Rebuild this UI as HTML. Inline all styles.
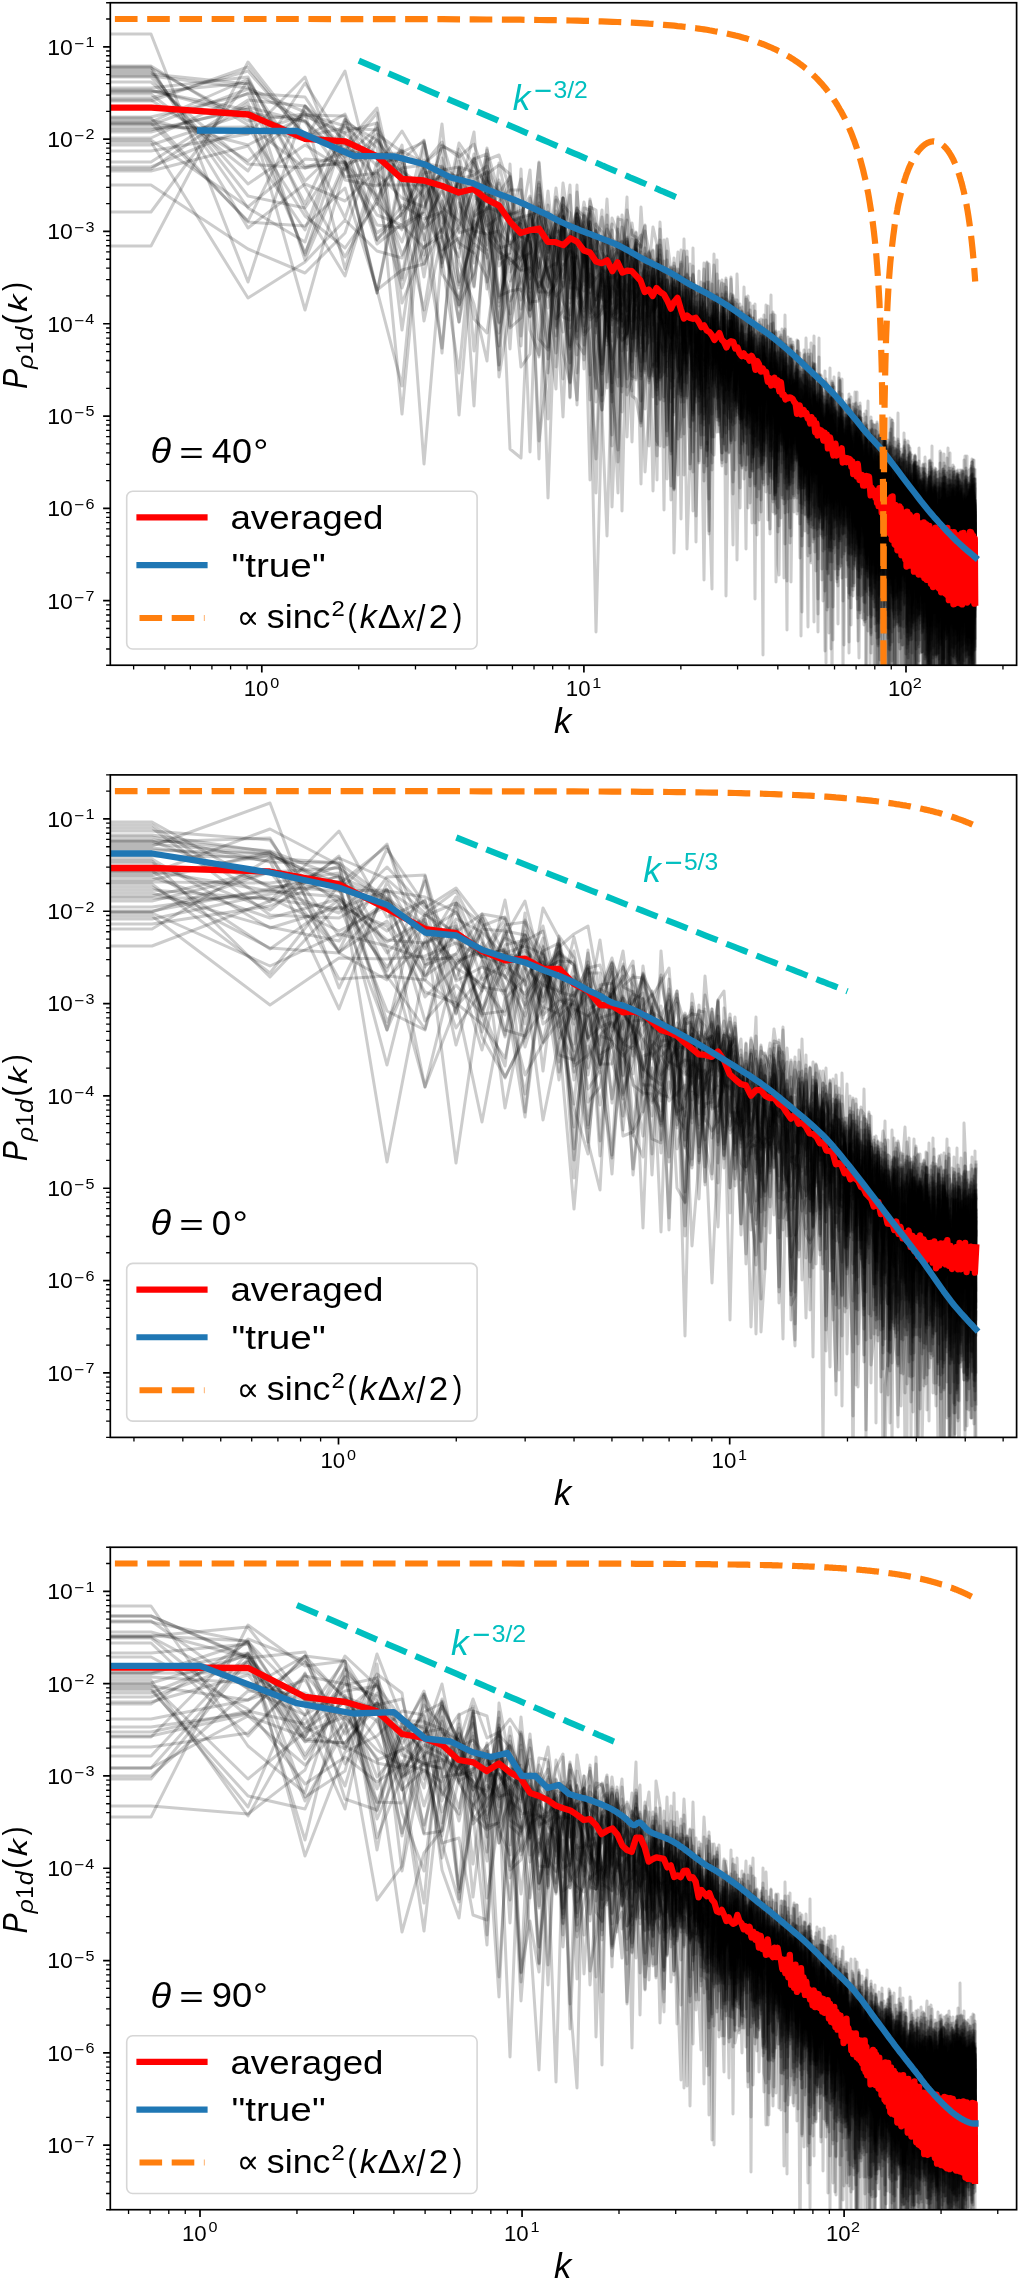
<!DOCTYPE html>
<html><head><meta charset="utf-8"><style>
html,body{margin:0;padding:0;background:#fff;}
svg{display:block;will-change:transform;}
text{font-family:"Liberation Sans", sans-serif;}
</style></head><body>
<svg width="1020" height="2279" viewBox="0 0 1020 2279">
<rect width="1020" height="2279" fill="#fff"/>

<clipPath id="c0"><rect x="110.3" y="2.75" width="906.3" height="662.48"/></clipPath>
<g clip-path="url(#c0)" fill="none" stroke-linejoin="round">
<g stroke="#000" stroke-opacity="0.2" stroke-width="3" stroke-linecap="square">
<path d="M100 124H151l97 10 57-57 40 103 32 6 25-18 22-3 18 92 17-90 15 5 13 117 12-126 11 53 11 120 9-128 9 44 9-40 8 37 7 104 7 30 7-71 7-63 6 16 6 35 6-26 5 16 5 27 6 3 4-6 5 36 5-97 4-10 5-8 4 42 4-5 4 16 4-29 3 47 4 95 3-64 4-67 3 28 4-46 3 77 3 11 3 4 3 12 3 155 3-179 3 78 2 25 3-109 3 118 2-109 3-4 2 34 3-36 2-48 3 27 2 68 2 57 3-103 2 24 2-17 2 79 2-80 3 35 2 47 2-1 2-69 2 52 2-56 2 35 1 24 2-99 2 141 2-19 2-50 2-4 1-1 2 49 2-11 2-23 1 53 2-15 2-9 1 22 2-50 1 17 2 114 1-93 2-50 1-24 2 72 1-10 2 35 1-103 2 95 1 30 2-16 1-34 1 10 2-9 1-3 1-35 2 17 1 29 1 27 2 9 1 26 1-94 1-8 2 29 1 121 1-142 1 77 2-59 1-5 1 24 1 5 1 39 1-31 2-16 1 232 1-216 1 24 1 16 1-35 1-53 1 18 1 36 1-44 1 71 2-29 1 1 1 0 1-2 1-2 1-32 1 84 1-6 1-54 1 48 1 36 1 62 1-89 0 156 1-167 1 7 1-2 1 29 1-42 1-9 1 43 1 27 1-43 1-63 1-22 0 15 1 25 1 16 1 68 1-90 1 63 1-51 0 31 1-54 1 6 1 36 1 80 1 3 0-42 1 30 1-87 1 127 1-99 0 14 1 51 1-44 1-53 1 35 0 19 1 3 1-7 1 3 0 35 1-113 1-6 1 81 0-8 1 26 1 12 1-4 0 22 1-64 1 88 0-37 1-13 1-108 1 137 0 51 1-104 1-3 0 14 1 95 1-46 0 7 1-51 1 60 0-7 1-53 1-12 0-26 1 21 1 62 0-40 1 5 1 23 0-62 1 10 1-28 0 9 1 26 0-24 1 11 1 10 0 84 1-40 1-63 0 115 1-23 0-34 1-80 1 37 0-28 1 31 0 30 1 45 0-85 1 66 1-69 0 44 1-43 0 161 1-152 1 16 0 32 1 77 0-119 1 9 0 4 1 17 0-34 1 35 1-12 0-41 1 65 0 7 1-41 0 83 1-79 0 96 1-113 0 170 1-84 0-73 1 94 1-58 0 38 1 35 0-104 1-5 0 20 1-29 0-2 1 21 0 44 1 72 0-23 1-145 0 93 1 77 0-135 1-10 0-20 1 80 0 20 1 79 0-159 1 37 0-47 0 108 1-119 0 155 1-81 0 5 1-17 0-27 1 65 0-12 1-81 0 92 1-66 0 48 1 7 0-51 1 53 0 6 0-64 1-14 0 156 1-73 0-13 1 23 0 8 1-126 0 60 0-57 1 70 0 4 1 41 0-47 1 43 0-10 0 4 1-13 0-38 1-9 0 29 1-59 0 31 0 36 1-66 0 134 1-66 0 133 1-167 0-40 0 82 1 25 0 1 1-17 0 37 0-47 1-73 0 68 1-38 0 63 0-43 1 84 0-136 1 87 0 83 0-147 1 139 0-67 1-66 0 57 0-79 1 82 0 0"/>
<path d="M100 68H151l97 53 57-7 40 12 32 29 25 16 22 293 18-213 17-13 15 81 13 14 12-87 11 35 11-75 9 37 9 34 9-86 8 74 7-48 7 37 7-32 7 12 6-27 6 93 6-21 5 29 5-17 6-31 4 73 5-17 5 80 4 3 5 27 4-135 4 155 4-123 4-53 3 47 4 6 3 4 4 54 3-100 4 101 3-83 3 176 3-169 3 15 3-11 3 18 3 31 2 35 3-111 3 74 2-33 3 12 2 7 3 17 2 14 3-80 2 98 2-79 3 64 2-98 2 48 2 33 2 29 3-31 2 86 2-88 2 71 2-46 2 25 2-34 1 12 2 38 2-95 2 56 2-47 2 57 1 10 2-30 2-1 2-19 1 88 2-127 2 62 1-8 2 14 1 36 2-74 1 100 2-40 1-31 2 208 1-145 2-34 1 134 2-141 1-15 2 23 1 6 1 33 2-39 1 15 1 128 2-88 1-9 1-58 2 97 1-75 1 25 1-26 2 16 1-30 1 63 1-64 2 132 1-45 1-12 1-27 1 22 1-37 2 17 1 72 1-73 1-42 1 3 1 89 1 38 1-100 1 33 1-62 1 52 2-16 1 145 1-109 1-52 1-23 1 77 1-17 1-14 1 61 1-30 1-3 1 69 1 97 0-210 1 23 1-9 1 4 1-13 1 42 1 2 1 47 1-23 1-33 1 23 1-18 0 60 1-67 1 17 1 42 1 96 1-145 1-44 0 91 1-24 1-38 1 15 1 4 1 13 0-39 1 14 1 19 1 23 1-27 0 55 1-40 1 199 1-244 1 14 0 39 1-19 1 8 1 26 0-38 1 16 1 0 1-10 0-26 1 81 1-71 1-18 0 32 1 14 1-32 0 119 1-51 1-23 1-1 0 2 1 100 1-130 0 11 1 46 1-28 0 74 1-44 1-60 0-7 1 82 1 75 0-146 1 21 1 11 0-6 1 5 1-19 0 92 1-112 1 206 0-224 1 19 0 20 1-13 1 21 0 52 1 75 1-154 0 29 1-19 0 49 1-23 1 22 0-34 1 9 0 67 1-56 0 12 1-76 1 239 0-147 1 10 0-37 1 11 1-51 0-9 1 99 0-57 1 87 0-56 1-81 0 180 1-120 1 14 0 74 1-82 0-28 1 50 0 48 1-71 0 7 1-9 0 21 1-95 0 80 1 27 1 31 0-44 1 22 0-6 1-98 0 77 1-34 0 15 1-22 0 20 1-39 0 78 1-55 0-16 1 49 0 23 1-13 0-29 1 155 0-93 1 39 0-118 1 42 0 30 0-63 1 3 0 17 1 52 0 22 1-55 0 32 1-23 0-48 1 155 0-144 1-26 0-2 1 59 0-74 1 37 0 52 0 2 1 3 0-82 1 57 0-8 1-48 0 32 1 0 0 20 0-23 1 86 0-107 1 43 0-19 1 30 0-62 0-16 1 12 0 79 1-26 0-31 1 36 0-6 0-47 1 58 0 6 1 3 0 17 1 2 0-68 0 92 1-23 0-89 1 22 0 47 0 39 1-115 0 24 1-2 0 51 0 14 1 42 0-104 1 118 0-9 0-98 1 5 0 6 1-26 0 57 0-75 1 19 0 49"/>
<path d="M100 169H151l97-66 57 152 40-123 32-9 25 207 22-150 18 54 17 88 15-114 13-30 12 124 11-44 11 13 9-3 9 19 9-27 8 107 7-169 7 105 7-57 7-44 6 31 6 99 6 39 5-94 5 1 6-4 4-21 5 46 5-18 4 75 5-91 4 61 4-73 4 45 4 68 3-94 4 39 3-31 4 20 3-31 4 47 3-24 3 12 3 77 3 46 3-144 3 74 3-14 2 38 3 199 3-257 2 35 3-56 2 24 3 83 2-109 3-20 2 45 2 88 3 5 2-46 2-18 2 31 2-23 3 7 2-23 2-3 2 12 2 7 2 9 2 152 1-147 2-4 2 57 2-98 2 138 2-122 1 47 2-12 2-10 2 104 1-59 2-7 2 85 1-114 2-28 1 6 2 20 1 66 2-9 1-37 2 23 1-35 2-1 1 44 2-11 1-38 2 29 1-15 1 58 2-64 1 15 1 51 2-80 1 125 1-137 2 61 1 22 1-13 1 42 2 6 1-58 1-44 1 14 2 32 1 59 1-50 1 75 1-61 1 5 2 40 1-15 1-3 1 16 1 142 1-156 1-15 1-24 1 70 1-38 1-46 2 96 1-84 1 44 1-22 1-33 1 38 1 18 1-3 1 55 1-75 1-8 1 4 1 46 0 45 1-66 1 41 1 5 1 12 1-7 1-37 1 24 1-69 1 15 1 86 1 64 0-106 1-57 1 29 1-11 1 68 1-47 1 7 0 20 1-87 1 116 1 24 1-75 1 120 0-164 1 165 1-147 1 20 1-52 0 67 1-2 1-29 1 3 1 54 0 29 1-73 1 95 1-100 0 35 1 75 1-54 1 92 0-153 1 78 1-107 1 130 0 9 1-80 1-27 0 104 1-37 1-81 1 69 0 11 1-63 1 75 0-7 1-53 1 49 0-71 1-20 1 20 0 42 1-6 1 189 0-167 1 8 1-49 0-17 1 45 1 62 0-81 1 33 1 5 0-76 1 28 0 16 1-49 1 50 0-9 1 76 1-24 0 8 1-40 0 42 1-55 1-29 0 90 1-25 0-53 1 96 0-76 1-14 1 48 0-7 1 61 0-33 1-35 1 15 0 1 1-20 0 155 1-107 0 9 1-79 0 169 1-164 1 32 0 2 1 47 0-85 1-11 0 195 1-44 0-147 1 93 0-56 1 19 0 23 1-45 1-11 0-7 1 52 0 16 1 54 0-12 1-108 0 112 1-109 0 84 1-50 0 70 1-36 0-7 1-59 0-20 1 37 0-2 1-45 0 24 1 62 0 10 1-39 0-13 0 6 1 2 0-37 1 118 0-53 1-49 0-5 1 137 0-81 1-3 0-3 1-51 0 59 1 29 0-26 1-52 0-17 0 43 1-31 0-21 1 131 0-51 1 8 0-37 1 33 0-5 0-29 1-2 0 0 1 15 0-41 1 33 0-55 0 47 1 120 0-133 1 20 0-43 1 28 0 11 0-77 1 124 0-72 1 6 0 22 1 12 0-4 0-31 1 65 0-37 1 15 0-55 0 43 1-15 0-6 1 138 0-175 0 17 1 56 0-46 1 14 0-1 0 51 1 102 0-178 1 35 0 4 0 14 1-46 0-20"/>
<path d="M100 88H151l97-11 57 110 40 70 32-58 25 89 22-65 18-32 17 41 15-46 13 40 12-9 11 132 11-180 9 161 9 25 9-83 8-42 7 71 7 14 7-66 7 120 6-148 6 46 6 107 5-76 5-68 6 147 4-162 5 41 5-6 4 130 5-91 4 42 4-51 4-20 4 107 3-112 4 80 3 32 4-22 3-13 4-50 3 44 3 9 3-19 3 25 3 72 3-91 3 30 2-45 3 99 3-77 2 0 3 36 2-43 3 40 2-21 3-2 2 8 2-60 3 165 2-41 2-1 2-59 2-28 3 140 2-53 2-30 2 0 2-43 2-15 2 100 1 32 2-119 2 20 2 112 2-88 2 31 1 31 2-18 2 0 2-40 1 46 2-106 2 43 1-6 2 90 1-28 2-73 1 31 2-30 1 78 2 202 1-231 2 18 1 17 2-30 1 21 2 35 1-50 1-40 2 108 1-3 1-33 2-47 1 48 1-72 2 125 1-33 1-25 1-49 2 13 1 9 1 41 1-47 2 86 1 29 1-71 1-73 1 68 1-29 2 7 1 39 1 44 1-85 1-12 1 142 1-75 1-46 1 29 1-2 1 71 2-68 1 34 1-65 1 31 1-11 1 26 1-29 1-15 1 75 1-22 1-43 1 22 1 131 0-176 1 57 1-62 1 65 1 40 1-37 1-11 1 36 1-36 1 40 1 62 1-98 0-70 1 31 1 22 1 23 1 58 1 66 1-173 0 30 1-5 1 32 1 78 1-36 1-15 0-13 1-71 1 15 1 78 1-42 0 202 1-206 1 84 1-68 1 29 0 17 1-81 1 62 1 19 0-38 1-37 1-29 1 46 0 112 1-6 1-105 1-15 0 112 1-69 1 44 0-25 1-26 1-57 1 142 0 23 1-68 1 161 0-209 1-2 1-18 0 78 1 61 1-49 0-63 1-35 1 16 0 54 1-1 1 27 0-60 1-21 1-7 0-24 1 94 1-64 0 71 1 112 0-57 1-31 1-48 0 63 1 110 1-201 0-12 1 66 0-45 1 82 1-62 0 61 1-6 0 56 1-143 0 84 1 21 1-84 0 22 1-8 0 23 1 25 1-53 0 26 1-57 0 15 1 52 0-91 1 81 0 41 1-17 1-98 0 150 1-88 0-27 1 64 0-78 1 71 0-39 1 1 0 14 1 12 0-16 1 16 1 1 0-39 1 36 0-56 1 97 0-84 1-2 0 29 1 34 0 78 1-96 0-45 1 43 0-77 1 26 0 35 1-24 0 72 1-104 0 78 1 1 0-29 1 32 0 11 0-42 1-20 0 33 1 49 0 39 1-129 0 11 1 23 0-37 1 32 0 89 1-101 0-14 1 11 0 7 1 18 0 1 0-11 1 50 0 46 1-134 0 104 1-77 0 10 1 65 0-77 0 74 1-79 0 188 1-102 0 35 1-78 0-14 0-9 1-5 0 102 1-120 0 56 1-67 0 22 0 44 1-75 0 140 1-45 0-12 1-10 0 3 0 71 1-113 0-17 1-26 0 41 0-40 1 7 0 86 1-34 0-58 0 8 1 91 0-7 1-29 0 51 0-66 1-43 0 27 1 34 0 40 0 23 1-73 0-42"/>
<path d="M100 98H151l97-27 57 65 40-8 32 2 25 83 22-24 18 164 17-192 15 126 13-113 12-9 11 9 11 62 9 6 9 50 9 0 8-55 7 41 7-53 7 112 7-82 6-41 6 25 6 13 5 10 5 52 6-9 4 16 5-70 5 5 4 82 5-15 4-27 4 22 4-52 4 48 3 86 4-90 3 17 4-40 3-24 4 42 3 132 3-198 3 114 3-42 3-37 3 32 3 35 2-47 3 71 3-21 2 39 3-59 2-26 3 85 2 18 3 65 2-139 2 63 3-88 2 141 2-135 2 21 2-25 3 149 2-126 2 31 2 62 2-77 2-2 2 0 1 22 2 160 2-149 2 26 2 2 2-14 1 17 2 21 2-9 2-25 1-38 2 61 2-62 1 15 2-3 1 18 2 21 1-9 2 21 1 52 2-110 1 79 2-57 1 49 2 20 1-39 2-2 1 90 1-114 2 16 1-28 1 42 2 17 1-18 1-43 2 114 1-78 1 25 1 61 2-42 1 1 1-59 1 82 2-90 1 81 1-18 1-1 1-42 1 123 2-68 1-19 1 21 1 73 1-33 1 50 1-144 1-24 1 89 1-36 1 28 2 10 1 32 1-34 1 68 1 27 1-145 1 259 1-216 1 40 1-4 1-85 1 1 1 29 0 108 1-149 1 109 1 72 1-123 1 103 1-75 1 10 1-45 1 92 1-64 1-42 0 39 1-26 1 71 1-61 1 29 1-15 1 25 0-19 1 70 1-27 1-61 1 43 1 9 0-12 1-56 1 89 1-48 1 3 0 77 1-141 1 1 1 53 1 86 0-94 1 8 1 17 1-24 0-2 1 144 1-188 1 75 0 18 1-24 1-14 1 44 0-37 1 35 1-42 0-16 1-37 1-14 1 152 0-13 1-9 1-108 0 83 1 0 1-36 0 54 1 14 1-42 0-42 1 104 1-93 0 40 1-63 1-6 0 19 1 54 1 106 0-146 1 166 1-166 0 139 1-120 0 29 1 39 1-61 0-15 1-8 1-1 0-14 1 127 0-34 1-104 1 37 0 69 1-46 0 2 1-43 0 40 1-7 1 17 0-25 1 45 0-80 1 20 1 13 0 145 1-173 0 138 1-79 0 43 1-61 0-20 1 46 1-41 0 121 1-146 0 56 1 40 0-54 1-18 0-44 1 30 0 58 1-17 0-14 1 23 1-28 0 72 1-52 0-45 1 51 0-26 1 31 0 67 1 77 0-160 1 5 0 46 1-15 0-61 1 39 0-88 1 99 0-66 1 27 0 10 1 70 0-73 1 37 0-63 0 7 1 122 0-114 1-11 0 32 1 30 0-24 1 24 0-31 1 44 0 116 1-129 0 20 1-17 0 9 1 39 0-96 0 79 1-29 0-27 1 116 0-79 1 9 0-107 1 71 0-52 0-22 1 32 0 121 1-75 0-15 1 1 0 19 0-23 1 5 0 14 1-22 0 16 1 17 0-65 0 95 1-50 0 134 1-134 0 1 1 12 0 81 0-38 1-50 0 60 1-37 0-36 0-47 1 64 0-42 1 120 0-60 0 29 1-85 0-9 1-28 0 83 0-48 1 47 0 9 1-46 0-3 0 47 1-14 0 19"/>
<path d="M100 77H151l97 107 57-39 40 25 32-30 25 70 22-42 18 39 17 14 15 22 13-86 12 141 11-77 11 70 9-39 9-90 9 91 8-32 7 44 7-14 7 33 7 48 6-110 6 104 6-60 5 36 5-16 6 9 4-68 5 117 5-65 4-39 5 139 4-69 4-47 4-13 4 111 3-37 4-53 3 20 4 11 3-18 4 21 3 214 3-187 3-4 3-13 3 41 3-3 3 17 2-13 3-42 3-52 2 57 3-4 2 14 3-70 2 172 3-80 2-19 2 16 3 22 2-28 2-10 2 2 2 46 3-17 2 16 2-29 2 7 2 65 2-90 2 48 1-40 2 37 2 15 2-22 2-28 2 55 1-8 2-70 2 47 2 71 1 12 2-5 2-3 1 140 2-113 1-119 2-13 1 11 2 35 1 15 2 28 1-41 2-9 1 17 2-48 1 21 2 49 1 5 1-28 2-39 1 54 1 69 2 12 1-49 1-101 2 63 1-2 1 52 1 69 2-98 1 39 1 91 1-120 2 104 1-79 1-12 1 89 1-112 1-26 2 153 1-131 1 21 1 1 1 27 1 6 1-11 1-75 1 81 1-27 1-1 2 45 1 139 1-156 1 31 1-17 1-43 1 85 1-90 1 14 1 5 1 2 1 10 1 23 0 13 1-45 1 45 1-75 1 170 1-151 1 31 1 49 1 74 1-171 1 84 1-32 0 5 1 5 1-22 1 63 1-27 1-34 1 99 0-152 1 69 1 5 1 36 1-69 1-22 0 82 1-58 1 19 1-32 1 88 0-70 1-8 1 106 1-110 1 56 0 128 1-113 1-5 1-35 0 54 1 115 1-161 1 104 0-52 1-90 1 32 1 16 0-53 1 62 1 68 0-92 1 11 1 51 1-89 0 66 1-43 1 52 0-65 1-14 1 62 0 187 1-180 1 15 0-35 1 7 1 64 0-100 1 87 1 6 0-77 1 58 1-42 0-5 1-21 1-20 0 134 1-97 0 12 1 44 1-56 0-18 1 45 1-40 0 5 1-26 0 65 1-4 1 149 0-163 1 43 0-22 1 24 0-46 1 45 1-58 0 1 1 111 0-130 1 17 1 41 0-10 1-26 0 79 1-61 0-26 1 92 0-43 1 127 1-85 0-96 1 46 0-41 1 22 0-34 1 21 0 4 1 47 0-68 1 58 0-19 1 133 1-163 0 62 1-69 0 20 1 65 0-9 1 9 0 122 1-160 0 29 1-63 0 22 1 20 0-50 1-9 0 58 1-38 0 92 1-65 0 174 1-181 0-14 1 42 0-12 0 11 1 1 0 49 1-41 0 74 1-107 0 74 1-85 0 13 1-16 0 12 1-3 0 21 1 99 0-30 1-127 0 29 0 142 1-152 0 85 1 21 0-101 1 100 0-59 1-62 0 56 0-44 1 120 0-35 1-3 0-97 1 90 0 15 0-56 1 69 0-32 1-88 0 82 1-37 0-31 0-4 1 5 0 80 1-4 0-50 1-16 0 94 0-17 1 120 0-154 1-55 0 168 0 14 1-76 0-49 1 59 0-51 0-12 1-14 0-6 1 176 0-192 0 3 1 73 0-31 1-34 0 10 0 87 1-106 0 26"/>
<path d="M100 140H151l97 67 57-48 40 3 32 131 25-129 22 65 18-17 17 110 15-78 13 10 12 69 11-105 11 6 9 86 9-28 9 13 8-11 7-67 7 181 7-184 7 67 6-74 6 3 6 86 5-40 5 69 6-62 4 129 5-133 5-36 4 29 5 72 4 47 4-76 4 17 4-6 3-84 4 72 3 9 4-35 3 144 4-33 3-6 3-75 3 100 3-69 3-11 3 17 3 54 2-35 3 81 3-106 2 30 3 9 2 69 3-163 2 34 3 16 2-8 2-1 3 32 2-19 2 61 2-59 2 70 3 2 2 5 2 0 2-38 2-6 2-37 2 32 1 12 2 44 2 7 2 99 2-64 2-85 1-15 2 136 2-32 2-86 1 2 2 0 2 123 1-109 2 75 1-107 2 2 1-7 2 23 1 32 2 14 1-47 2 37 1-30 2-19 1 51 2-3 1 50 1-42 2 14 1-15 1-27 2 52 1 62 1-48 2 99 1-162 1 68 1-43 2 37 1-120 1 111 1 22 2-65 1 63 1 25 1-43 1-10 1-22 2 99 1-101 1 154 1-35 1-22 1-102 1 35 1 84 1 19 1-114 1 22 2-23 1 18 1 31 1-68 1 52 1 29 1-40 1 24 1-33 1-25 1 43 1-15 1 41 0-53 1-10 1-10 1 93 1 21 1-74 1 99 1-95 1-21 1 45 1 8 1-54 0 31 1-11 1 23 1 73 1-44 1-45 1 56 0 12 1 29 1-126 1 19 1 72 1 89 0-168 1 46 1-40 1 10 1 99 0-85 1 22 1-24 1 21 1-41 0 58 1-18 1 29 1-57 0 20 1-40 1 91 1-61 0 13 1 42 1-54 1 70 0 11 1 138 1-179 0-54 1 29 1 82 1-50 0-47 1 120 1-51 0-55 1 2 1-22 0 87 1-91 1 36 0 57 1-43 1 8 0-4 1-23 1-23 0 18 1 18 1-15 0 94 1-71 1-34 0 32 1 32 0-10 1-30 1-47 0 98 1-41 1 32 0-17 1-27 0-3 1 15 1 171 0-130 1-83 0 18 1 3 0 69 1-74 1 64 0-15 1 12 0 6 1 28 1 11 0-60 1 0 0-56 1 35 0 0 1-6 0 32 1 66 1-45 0 87 1-18 0-125 1 29 0-29 1 47 0 43 1-47 0 71 1-109 0 61 1-54 1-6 0 137 1-185 0 83 1-55 0 113 1-81 0-20 1 105 0-108 1 97 0-81 1-16 0 9 1 6 0 20 1 9 0-8 1-23 0 174 1-84 0-1 1-54 0-37 0 51 1 24 0-109 1 17 0 10 1 49 0-59 1 7 0 138 1 21 0-94 1-43 0 7 1 98 0-107 1-14 0-45 0 75 1-13 0-26 1 49 0 22 1-12 0-56 1-32 0 91 0-72 1 88 0-58 1 20 0 122 1-117 0-7 0 48 1-101 0 67 1 148 0-200 1 90 0-62 0 23 1 17 0-17 1-47 0 57 1-55 0 38 0-78 1 10 0 79 1-34 0 59 0-24 1 29 0-62 1 14 0-65 0 93 1 24 0 111 1-174 0 16 0-85 1 108 0-49 1 58 0 36 0-71 1-29 0 62"/>
<path d="M100 246H151l97-184 57 73 40 6 32 99 25-27 22 97 18-109 17 104 15-87 13-29 12 77 11-12 11 113 9-13 9-147 9 22 8 52 7-98 7 48 7-21 7 6 6 160 6 83 6-153 5 15 5-59 6 25 4-13 5-22 5 69 4-3 5-18 4-46 4 14 4-41 4 18 3 70 4 57 3-10 4 92 3-120 4-40 3 103 3-79 3-28 3 80 3-104 3 100 3-42 2-6 3 2 3 130 2-132 3 68 2-91 3 84 2 42 3-75 2-36 2-11 3 4 2 18 2 71 2-11 2 21 3-68 2 54 2-16 2 62 2-95 2 15 2 26 1-4 2 37 2-15 2-52 2 119 2-85 1-21 2-19 2 85 2-61 1 40 2-24 2 34 1-23 2 27 1-41 2 95 1-97 2 84 1-2 2-70 1 28 2 69 1-80 2-26 1 12 2 37 1-76 1 71 2 54 1-64 1 76 2-23 1-15 1-70 2 120 1-92 1 6 1-22 2-25 1 26 1 36 1-36 2-9 1 60 1-24 1-5 1 114 1-13 2-110 1 70 1-15 1-46 1 44 1 103 1-135 1 5 1 48 1 2 1-20 2 5 1 3 1 15 1-2 1-48 1 20 1 50 1-62 1 39 1-36 1 77 1 42 1-108 0 4 1 11 1 16 1-10 1 55 1-81 1 4 1-22 1 71 1 37 1-126 1 37 0 24 1-16 1 157 1-107 1 8 1-52 1 73 0-48 1 11 1 45 1-36 1 73 1-116 0 29 1-19 1-14 1 73 1-101 0 31 1 32 1-8 1-8 1 11 0-40 1 74 1-36 1 42 0-41 1 66 1-121 1 87 0-45 1-12 1 27 1-8 0-37 1 97 1-24 0-42 1-22 1 53 1-13 0-6 1-17 1 119 0-123 1-4 1 76 0-51 1 65 1-59 0 21 1 37 1 5 0-47 1-61 1 47 0 50 1-22 1-90 0 28 1-4 1 86 0-67 1 138 0-87 1-31 1 37 0-62 1 15 1 44 0 161 1-188 0 42 1-40 1-5 0-51 1 105 0-72 1 46 0-5 1-57 1 89 0-114 1 143 0-73 1-19 1 48 0-16 1-37 0 97 1-6 0-14 1-75 0 19 1 33 1 6 0-43 1 87 0-28 1-84 0 86 1 39 0 89 1-209 0 156 1-81 0 69 1-84 1-50 0 131 1-44 0 39 1-86 0-3 1-59 0 55 1-25 0-29 1 81 0-53 1 1 0 95 1 12 0-74 1-64 0 99 1-85 0 90 1-32 0 27 1-42 0 2 0 92 1-111 0 65 1-39 0-34 1 22 0 33 1-1 0 65 1-153 0-23 1 132 0-61 1-21 0 65 1-44 0-31 0 38 1 44 0-90 1 79 0-16 1-15 0 1 1-60 0 127 0-87 1 13 0 75 1-15 0-9 1-37 0-31 0 13 1 13 0 49 1-77 0 197 1-194 0 3 0 73 1-2 0-82 1 37 0-23 1-11 0 21 0 21 1-13 0-9 1 92 0-12 0-79 1 25 0 13 1 47 0-104 0 12 1 67 0 56 1-109 0-24 0 29 1-19 0-24 1 21 0 40 0-72 1 220 0-164"/>
<path d="M100 90H151l97 26 57 137 40-91 32 71 25-19 22-41 18-3 17-3 15 49 13-7 12-29 11 31 11 69 9 24 9-61 9-8 8 10 7 60 7 58 7-132 7 18 6 68 6-65 6 34 5 1 5 96 6-135 4 73 5-79 5 17 4-14 5 90 4-65 4 67 4-61 4 63 3-110 4 168 3-94 4 47 3-68 4 87 3 33 3-115 3 36 3-36 3 84 3-69 3 25 2 85 3-47 3-21 2-47 3 35 2 23 3-57 2 63 3 102 2-156 2-15 3 69 2 61 2-124 2 61 2 52 3 3 2-30 2-39 2 28 2 2 2-9 2 11 1 25 2-22 2-25 2-4 2 35 2 269 1-308 2-16 2 48 2-8 1 30 2-13 2 29 1-12 2 127 1-190 2-7 1 62 2 10 1 23 2-75 1 53 2 15 1-37 2 97 1-63 2 23 1-11 1 18 2 15 1-18 1-35 2 64 1-40 1-18 2 99 1-126 1 46 1-55 2 160 1-146 1 7 1 65 2-14 1-33 1 88 1-56 1 75 1-82 2 22 1-54 1-31 1 41 1 43 1 4 1 178 1-229 1-35 1 94 1-14 2-17 1 14 1-43 1 93 1-18 1-83 1 96 1-56 1-6 1 16 1-48 1 113 1-62 0 103 1-78 1-46 1 3 1 50 1 87 1-158 1 58 1-31 1 86 1-77 1 81 0-105 1 40 1-59 1 108 1-55 1 23 1 64 0-32 1 22 1-63 1-19 1 112 1-75 0 68 1-50 1-20 1 68 1-17 0 36 1-94 1-15 1-34 1 90 0-20 1 2 1-46 1 20 0 24 1-26 1 37 1-37 0 2 1 44 1 24 1-119 0 118 1-82 1 62 0-7 1-47 1 7 1 8 0 98 1-103 1 80 0-53 1-33 1 69 0-74 1-70 1 106 0-10 1 2 1 98 0-33 1-77 1 85 0 61 1-199 1 49 0-34 1 23 1 29 0 14 1 1 0 57 1-12 1-41 0-48 1 27 1 12 0 6 1-30 0 116 1-73 1 89 0-110 1 16 0 119 1 9 0-198 1 71 1-18 0-30 1 52 0 45 1-49 1-10 0-28 1 21 0 18 1 20 0-57 1 114 0-83 1 89 1-72 0-22 1-3 0 53 1-90 0 0 1 28 0-39 1 114 0-76 1 45 0 4 1-24 1-54 0 100 1-39 0-29 1-49 0 136 1-71 0-3 1 14 0 1 1 159 0-212 1 89 0-32 1-62 0 54 1-3 0-17 1 153 0-192 1 65 0 73 1 2 0-86 0-1 1-19 0 29 1 15 0-14 1 1 0-49 1 28 0 12 1 81 0-88 1-23 0 4 1-9 0 6 1 11 0 72 0-25 1 41 0-134 1 100 0-68 1 3 0 95 1-12 0-78 0 38 1 61 0-132 1 35 0 10 1-24 0 76 0-45 1 73 0-103 1-33 0 73 1 57 0-116 0 61 1-57 0 4 1 117 0-59 1 75 0-144 0 82 1 44 0-58 1-60 0 75 0-19 1-2 0 1 1 31 0-17 0-17 1 22 0-3 1 110 0-66 0-107 1 34 0 17 1 7 0-27 0 65 1 85 0-173"/>
<path d="M100 167H151l97-40 57 13 40-69 32 127 25-47 22 12 18 4 17 12 15 74 13-105 12 85 11 11 11-23 9 89 9-98 9 63 8 21 7-8 7-51 7 102 7-107 6 143 6-122 6-43 5 131 5-82 6 71 4 56 5-141 5 18 4 16 5 0 4-12 4-1 4 21 4 5 3-2 4-15 3 57 4 168 3-180 4 18 3 28 3 51 3-87 3-15 3 26 3 24 3 49 2-89 3 71 3-40 2 17 3-10 2 1 3-41 2 29 3 29 2-11 2-11 3-8 2-35 2 45 2-5 2 59 3-37 2 1 2-45 2 91 2-52 2 43 2-55 1 6 2 69 2-84 2 7 2 4 2-7 1 2 2 24 2-76 2 82 1-54 2 61 2-12 1-22 2 61 1-29 2-53 1 47 2 117 1-1 2-66 1 45 2-52 1-11 2 17 1 7 2-60 1 8 1-2 2-17 1 31 1 28 2-32 1 74 1-13 2-25 1 49 1-59 1 89 2-99 1 37 1-54 1 25 2 136 1-161 1 90 1-11 1-35 1-20 2 14 1-49 1 108 1-17 1-29 1-3 1-13 1-52 1 108 1-97 1 35 2-25 1 59 1 1 1-42 1 73 1-23 1-27 1 23 1 58 1-106 1 99 1-13 1-52 0-38 1 81 1-52 1 54 1 46 1-64 1 71 1-51 1-66 1 42 1 4 1 70 0-79 1 22 1-47 1-4 1 23 1 66 1 41 0-103 1 27 1 0 1-23 1-35 1 11 0 179 1-119 1-27 1 7 1-3 0 139 1-127 1-35 1 61 1-28 0 80 1-118 1 51 1 54 0-70 1 25 1-47 1 22 0 34 1-39 1 95 1-75 0 2 1 2 1 23 0-44 1-3 1 106 1-20 0-48 1 25 1-36 0-17 1-22 1 2 0 145 1-41 1-49 0-55 1 77 1-42 0-23 1 17 1 19 0 11 1 18 1 34 0-90 1 31 1 44 0-60 1 40 0 12 1 20 1-21 0-67 1-8 1-9 0 28 1-12 0 26 1-23 1-9 0 7 1 87 0 23 1-51 0-36 1-53 1 49 0 7 1 19 0-51 1 20 1 29 0-49 1 8 0 1 1 19 0 43 1-19 0-2 1 23 1-28 0 60 1-87 0-6 1 5 0-5 1 45 0-5 1 10 0 18 1-44 0-34 1 50 1-54 0 47 1 20 0 56 1-140 0 82 1-8 0-35 1 95 0-57 1 20 0 17 1-83 0 57 1-7 0 24 1 50 0-83 1 47 0-99 1-15 0 69 1 62 0 56 0-107 1 30 0-32 1 150 0-202 1 102 0-76 1 12 0-13 1 65 0-42 1 23 0 103 1-143 0 171 1-147 0 4 0 25 1-58 0-20 1 4 0 40 1 23 0-14 1 42 0-64 0 50 1-76 0 19 1-40 0 15 1-12 0 26 0-2 1-26 0 54 1 47 0-36 1 35 0-24 0-59 1 17 0 23 1 16 0 37 1-27 0-59 0 2 1 16 0 9 1-48 0 141 0-15 1 19 0-64 1-12 0-76 0 95 1 32 0-3 1-80 0-13 0 122 1-104 0 91 1-106 0-17 0 82 1-18 0 12"/>
<path d="M100 125H151l97-36 57 32 40 42 32 33 25 46 22-68 18 26 17 62 15 42 13 57 12-152 11 34 11 66 9-95 9 51 9 58 8 66 7-179 7 88 7-80 7 49 6-68 6 34 6 17 5-21 5 10 6 5 4 8 5 82 5-43 4 60 5-65 4 65 4-12 4-31 4 79 3-44 4 12 3-104 4 116 3-72 4 28 3-9 3 38 3-78 3 44 3 5 3 20 3-3 2-41 3 10 3 59 2-45 3 30 2-4 3 21 2 10 3 57 2-33 2-66 3 2 2 92 2 113 2-193 2 208 3-194 2 30 2 38 2 31 2-123 2 32 2 95 1-33 2-5 2 37 2-90 2-53 2 13 1 94 2-78 2 85 2-24 1 41 2-73 2 39 1 0 2-16 1 2 2-18 1 105 2-75 1-49 2 47 1-51 2 12 1 68 2-105 1 79 2-55 1 70 1-29 2-28 1 27 1-22 2 52 1-5 1 26 2 170 1-202 1 136 1-161 2 46 1-48 1-34 1 10 2 128 1-56 1-45 1 48 1-46 1 80 2-69 1 12 1 70 1 7 1-109 1 82 1-79 1 46 1 41 1-107 1 36 2 74 1 37 1-95 1 110 1-129 1 34 1 50 1 60 1-63 1-60 1 62 1-10 1 7 0-96 1 62 1-20 1 46 1-39 1 15 1-36 1 93 1-105 1 167 1-128 1 55 0-86 1 62 1-51 1 21 1-5 1 64 1 18 0 20 1 9 1-43 1-28 1 5 1 101 0-98 1-33 1 18 1 47 1-49 0 32 1-20 1 150 1-152 1-31 0 10 1 49 1-20 1 40 0 61 1-91 1-31 1 26 0 133 1-76 1 59 1-130 0-25 1 5 1 25 0-32 1 135 1-92 1 51 0-64 1 53 1 11 0-69 1 88 1-4 0-33 1-8 1-82 0 14 1 22 1 74 0 56 1-79 1-37 0 27 1 16 1-56 0 30 1-15 1 19 0 4 1 14 0-11 1 5 1-40 0 45 1 103 1-146 0 89 1-67 0 10 1-4 1 13 0-23 1 48 0-41 1 7 0 1 1-36 1 29 0 99 1-117 0 27 1-9 1 20 0 117 1-163 0 57 1 30 0-8 1-80 0-6 1 64 1 55 0-87 1 58 0-90 1 22 0 76 1-42 0 24 1-10 0 115 1-198 0 144 1-130 1-12 0 77 1-54 0 25 1 21 0-26 1 2 0-23 1 47 0-44 1 9 0 16 1 37 0-47 1-2 0 167 1-95 0-67 1 11 0-56 1 42 0-16 1 41 0 32 0-79 1 41 0-16 1 95 0-87 1 40 0 70 1-111 0 104 1-60 0-10 1 16 0 31 1-73 0-40 1 41 0 89 0-32 1-24 0-30 1-29 0-23 1 97 0-16 1-69 0 77 0-46 1 2 0-51 1 125 0-44 1 15 0-51 0 90 1-122 0-2 1 80 0 79 1-73 0-60 0-4 1 56 0 36 1-68 0-14 1 69 0-30 0-43 1 31 0 6 1-48 0 138 0-51 1-89 0 9 1 121 0-75 0 29 1-109 0 6 1 81 0 91 0-81 1-39 0 47 1-84 0 110 0-41 1-66 0 109"/>
<path d="M100 162H151l97-62 57 6 40 44 32 6 25 6 22 78 18-82 17 75 15-5 13-20 12 162 11-173 11 103 9-35 9-70 9 92 8-38 7 37 7-53 7 45 7 13 6-22 6 119 6-135 5 8 5 185 6-177 4 21 5 21 5-12 4 2 5-16 4-4 4 16 4-17 4 11 3-12 4 168 3-187 4 18 3 55 4-30 3-26 3 54 3 28 3 21 3 35 3-82 3-45 2 34 3 7 3 3 2 159 3 98 2-293 3 30 2 30 3-54 2 35 2 113 3-145 2-11 2 188 2-111 2-30 3 24 2 100 2-95 2 22 2 21 2-103 2 42 1 89 2 6 2-43 2-47 2 106 2-59 1 57 2-75 2 16 2-41 1 85 2-134 2 85 1 71 2-74 1-13 2 36 1 11 2-41 1 91 2-114 1 58 2-37 1-15 2 47 1 25 2-75 1 6 1 138 2-89 1-8 1-13 2 3 1 68 1-28 2-90 1 89 1 15 1-80 2 40 1-23 1 32 1 2 2-35 1 24 1 20 1 21 1-20 1-46 2 111 1-12 1 22 1-54 1-49 1-43 1 109 1 9 1 42 1-80 1-9 2-28 1 4 1 8 1 95 1 48 1-138 1-10 1 45 1-18 1 39 1-16 1-26 1 14 0-51 1 50 1 100 1-50 1-44 1-11 1 38 1 68 1-134 1 35 1 22 1 39 0-112 1 67 1 15 1 37 1-98 1 98 1-88 0 54 1 28 1-25 1-5 1 40 1-15 0 9 1-51 1 47 1-53 1-1 0 7 1-6 1 113 1-37 1-62 0 99 1-56 1 37 1-68 0 99 1-142 1 55 1 64 0-130 1 111 1-64 1 8 0 88 1-71 1-22 0 14 1-10 1 140 1-51 0-33 1-59 1 53 0-45 1-47 1 67 0-12 1 22 1-7 0 26 1-14 1-75 0 11 1 18 1 55 0-69 1 128 1 3 0-105 1 21 1-6 0 8 1 111 0-113 1-56 1 21 0 17 1-8 1 43 0-52 1 2 0-26 1 101 1-27 0-33 1 172 0-130 1-52 0 154 1-129 1 47 0-23 1 4 0 20 1-27 1-30 0 24 1 38 0-38 1-2 0-36 1 45 0 43 1-58 1 1 0 126 1-130 0-28 1 51 0-44 1 131 0-123 1-16 0 12 1 59 0-38 1 48 1-32 0 73 1-4 0-117 1 13 0 82 1-93 0 114 1-97 0 102 1-66 0-39 1 61 0 5 1-42 0-7 1 67 0 0 1 57 0-58 1-50 0 92 1-139 0 63 0-40 1 26 0-18 1-67 0 65 1 55 0-54 1-19 0 71 1 79 0-174 1 38 0 30 1-10 0 9 1 12 0 36 0-45 1 3 0 13 1 22 0-89 1 2 0-15 1 9 0 35 0-31 1 52 0 108 1-49 0-31 1-31 0-22 0 26 1-35 0 29 1 5 0 8 1-49 0 21 0 80 1 0 0-93 1-18 0 59 1 84 0-61 0 34 1-86 0-10 1 77 0-62 0 14 1-24 0-15 1 5 0 119 0 2 1-168 0 22 1 36 0-22 0 4 1 43 0-4 1-5 0 17 0 21 1 58 0-116"/>
<path d="M100 145H151l97-32 57 8 40 36 32 136 25-121 22 25 18 62 17 114 15-156 13-67 12 43 11 28 11-4 9 64 9 76 9-152 8 88 7 124 7-160 7 1 7-36 6 71 6-37 6 43 5 3 5-51 6-5 4-5 5 154 5-16 4-129 5 112 4-49 4 6 4-22 4 7 3 13 4 14 3 45 4-74 3 33 4 0 3-30 3 50 3 28 3-98 3 167 3-117 3 28 2 82 3-100 3-12 2 11 3-30 2 55 3 13 2 43 3-72 2-39 2 17 3 29 2 16 2-31 2-22 2 6 3 47 2-52 2 94 2 52 2-97 2 104 2-145 1 35 2 14 2-14 2-11 2 23 2-51 1 123 2-88 2 108 2 58 1-126 2-70 2 6 1 134 2-73 1-30 2 10 1-51 2 95 1-12 2-28 1-18 2 119 1-80 2 24 1-16 2-2 1 4 1 36 2-37 1 50 1-28 2-81 1 73 1-54 2 46 1 83 1-64 1-26 2 43 1 17 1-68 1 166 2-118 1-37 1 14 1 34 1-24 1 6 2 17 1-2 1-56 1 57 1 53 1 32 1-39 1-43 1 26 1-30 1-50 2 43 1-5 1 67 1-90 1 70 1-117 1 94 1 13 1-50 1 109 1-73 1-46 1 13 0 43 1-45 1 110 1-107 1 0 1 6 1-42 1 45 1 95 1-73 1 6 1 31 0 45 1-7 1-93 1 0 1 54 1-62 1 104 0-39 1-24 1-4 1 2 1 16 1 45 0-31 1-51 1 130 1-124 1 128 0-57 1-40 1 123 1-133 1-54 0 135 1-73 1-32 1 94 0-87 1 32 1 17 1-44 0-17 1 116 1-63 1-12 0-18 1 23 1-74 0 93 1 7 1-58 1 1 0 45 1-13 1 197 0-144 1 58 1-85 0-38 1 21 1-42 0 94 1-58 1 9 0 70 1-105 1 32 0 24 1-46 1 50 0-16 1-1 1-24 0 61 1-44 0 167 1-94 1 19 0-145 1 6 1 179 0-44 1-32 0-96 1 94 1-12 0-22 1-52 0 17 1 43 0-32 1 3 1 64 0-52 1-33 0 8 1-14 1 140 0-154 1 82 0-14 1 81 0-113 1 31 0-33 1-20 1 123 0-109 1 16 0 142 1-137 0 39 1-29 0-61 1 2 0 38 1 65 0 34 1 89 1-169 0-42 1 121 0-104 1 142 0-126 1 3 0 24 1-18 0 99 1-57 0 81 1-65 0-74 1 16 0-8 1 31 0-63 1-25 0 95 1-20 0 24 1-38 0-16 0-23 1 126 0-121 1 82 0-65 1 9 0 135 1-159 0 35 1 56 0-3 1-65 0-5 1 7 0 14 1-6 0-56 0 46 1-5 0 98 1-93 0 104 1 42 0-128 1-22 0 0 0 70 1 52 0-86 1-12 0 89 1-140 0 49 0 96 1-72 0 57 1-66 0 109 1-147 0-14 0 44 1-10 0 15 1 12 0-109 1 43 0 82 0-15 1-10 0 18 1-13 0-2 0 91 1-140 0 49 1-36 0 139 0-175 1 152 0-57 1-44 0 11 0-34 1-41 0 59 1 31 0 45 0-36 1 31 0-53"/>
<path d="M100 212H151l97-131 57 85 40-2 32-9 25 259 22-234 18 83 17-60 15 28 13 3 12-3 11 95 11-56 9-40 9 211 9-75 8-151 7 30 7 43 7 0 7 23 6-89 6 111 6-63 5 2 5 31 6-42 4 250 5-210 5 37 4-95 5 4 4-16 4 20 4 118 4 26 3-79 4 12 3-28 4-33 3 74 4 12 3-42 3-17 3-43 3 74 3 96 3-63 3 2 2-9 3-88 3 188 2-45 3-40 2-60 3 81 2-33 3 1 2 89 2-108 3 54 2-29 2-48 2 56 2 28 3 111 2-140 2-12 2 33 2-20 2-8 2-23 1 28 2 10 2 71 2-8 2-9 2-92 1 2 2 61 2 17 2 116 1-135 2-3 2 3 1-29 2 46 1-6 2 34 1-46 2 36 1-90 2 97 1-19 2-11 1 29 2-29 1 23 2-18 1 24 1-3 2 28 1-70 1-4 2 39 1-55 1 25 2 122 1-165 1 21 1 77 2-63 1 67 1-33 1-4 2-19 1 28 1 35 1-7 1-7 1-34 2 233 1-222 1 27 1-62 1 104 1-76 1 38 1-44 1 92 1-54 1 19 2-75 1 55 1-75 1 90 1 4 1-69 1 71 1 2 1 75 1-73 1-39 1 40 1-8 0 14 1-49 1 9 1 109 1-88 1-6 1 0 1-12 1 16 1-3 1 40 1 47 0-106 1 32 1 15 1-5 1 1 1-8 1 39 0 167 1-191 1-19 1-10 1 63 1 127 0-197 1 8 1 48 1 159 1-196 0 53 1 17 1-121 1 26 1 26 0 19 1-46 1 96 1-62 0-6 1 21 1 13 1-49 0-12 1 47 1 54 1 13 0-5 1-60 1-33 0 96 1-27 1-11 1-28 0 101 1-44 1-3 0-84 1 105 1-76 0 79 1-7 1-86 0 82 1-41 1 1 0 25 1-2 1-29 0 45 1-114 1 33 0 221 1-148 1 27 0-77 1 65 0 1 1-111 1-6 0 62 1 32 1-23 0 8 1 70 0-84 1 65 1-68 0-7 1 159 0-8 1-96 0 56 1-12 1-65 0 44 1-38 0-42 1 52 1 4 0-41 1 153 0-132 1 10 0-18 1 25 0 12 1-11 1-63 0 112 1-28 0-106 1 53 0 13 1 110 0-129 1-11 0 98 1-33 0 63 1-132 1 3 0-12 1 42 0-55 1 76 0-56 1 27 0 123 1-43 0 3 1-110 0 24 1 42 0 21 1-47 0 10 1-14 0-36 1 48 0-49 1-50 0 109 1 24 0-39 0-48 1 58 0 17 1-25 0-70 1 86 0-49 1 56 0 28 1-60 0-9 1-2 0 93 1-54 0 2 1 76 0-129 0 13 1 50 0-32 1-28 0-4 1 24 0 85 1-130 0 57 0 10 1-31 0 45 1-74 0 45 1 26 0-36 0 167 1-159 0 50 1-102 0 190 1-140 0-48 0 64 1-62 0 5 1 64 0 76 1-40 0-87 0 10 1 50 0-76 1 6 0 64 0 128 1-171 0 100 1-101 0 132 0-127 1 74 0-98 1 51 0 46 0-142 1 230 0-225 1 33 0-6 0 168 1-84 0-54"/>
<path d="M100 171H151l97-25 57 84 40-110 32 80 25-55 22 176 18-86 17-86 15 31 13-8 12 72 11 57 11-20 9-37 9 48 9-35 8 22 7-15 7 64 7-143 7 175 6-136 6 22 6 22 5 9 5 114 6 59 4-208 5 137 5-32 4-36 5 112 4-152 4 45 4-11 4-28 3-11 4 60 3 35 4-17 3 144 4-98 3-24 3-89 3 32 3-1 3-24 3 3 3 67 2 26 3 45 3-96 2 43 3 91 2-160 3 82 2 24 3 44 2-63 2-73 3 79 2-62 2-30 2 96 2-72 3 39 2 54 2-87 2 37 2 21 2 22 2-3 1-105 2 100 2-17 2 59 2 4 2 31 1-85 2 25 2-15 2-66 1 61 2-33 2-1 1 4 2 60 1-43 2 21 1 4 2-8 1-3 2 5 1-26 2-28 1 90 2-98 1 96 2-18 1 1 1-85 2 24 1 88 1 26 2-118 1 21 1 54 2 33 1-89 1 40 1 107 2-164 1 106 1-67 1 37 2 7 1-19 1-2 1 45 1-82 1 26 2 55 1-46 1-7 1 98 1 9 1-99 1-13 1 27 1 2 1-25 1 92 2-112 1 17 1 42 1 9 1 14 1-77 1 126 1-2 1-72 1 22 1 86 1-151 1-9 0 42 1 22 1-17 1 65 1-38 1 41 1 14 1-57 1 56 1-110 1 137 1-87 0-6 1-22 1 25 1 9 1 36 1-31 1-44 0 157 1-135 1 40 1-44 1 44 1-18 0 23 1-14 1 86 1-112 1-3 0 45 1-9 1 71 1-66 1 26 0-20 1-10 1 39 1-43 0 16 1 13 1 64 1 120 0-133 1-61 1-21 1 43 0-1 1-24 1 12 0-25 1-15 1 35 1-9 0-45 1 66 1 51 0-75 1 11 1-39 0 25 1-50 1 2 0 51 1 44 1 65 0-61 1 129 1-143 0-75 1 21 1-6 0 53 1-18 1-16 0 128 1-48 0 38 1-115 1 206 0-144 1-33 1-66 0 44 1 26 0 68 1-92 1 42 0-74 1 65 0-32 1 69 0-15 1 36 1-4 0-36 1-79 0 28 1 19 1 8 0 11 1-66 0 42 1 39 0 34 1 64 0-153 1-6 1 20 0 12 1 17 0-2 1-45 0 24 1 35 0 16 1-70 0 35 1 89 0-43 1-19 1-27 0 21 1-69 0 104 1-22 0-19 1-17 0 64 1 14 0-75 1-33 0 143 1-131 0 44 1-32 0-30 1 20 0 8 1 173 0-181 1 32 0 149 1-193 0 3 0-13 1 83 0-62 1 57 0-46 1 33 0 48 1-116 0 7 1 44 0 28 1-14 0-41 1 70 0 11 1-113 0 76 0-5 1-14 0-32 1-4 0 28 1-17 0 100 1-89 0-11 0 23 1 14 0 124 1-80 0 22 1 79 0-105 0-68 1-5 0 113 1-117 0 6 1 12 0-5 0 82 1 3 0-114 1 70 0 7 1 31 0-122 0 41 1-39 0-9 1 100 0 47 0-105 1 11 0-55 1 35 0 67 0 69 1-90 0-80 1 105 0-44 0-25 1 166 0-154 1 63 0-11 0-106 1 126 0-57"/>
<path d="M100 101H151l97-34 57 70 40-23 32 71 25 0 22 0 18-8 17 18 15-63 13 150 12-62 11-44 11 94 9-55 9 63 9 19 8-14 7-15 7-18 7 7 7 28 6-84 6 24 6 7 5 113 5-76 6 18 4-39 5 43 5-36 4 54 5 67 4-111 4-13 4 12 4 192 3-126 4-29 3 25 4-22 3 249 4-168 3-115 3-19 3 74 3-47 3 51 3 22 3-36 2 28 3 48 3-24 2 21 3-70 2 31 3-12 2 17 3 99 2-146 2-27 3 46 2 75 2-11 2 0 2-19 3 43 2 14 2-107 2 88 2-4 2-30 2-9 1-4 2 124 2-98 2-9 2 18 2 82 1-131 2 28 2 63 2 54 1-80 2-49 2-3 1 21 2 104 1-93 2-21 1 53 2-65 1-31 2 60 1 58 2-59 1 36 2-35 1 14 2 55 1-48 1-29 2 122 1-64 1-69 2 46 1 46 1-76 2 32 1 35 1 44 1-154 2 149 1-36 1 33 1-87 2 212 1-135 1-20 1-43 1 12 1 110 2-93 1-29 1 29 1 16 1 45 1-6 1-30 1-27 1-42 1 138 1-57 2 51 1-104 1 140 1-97 1 1 1-29 1 1 1-27 1 45 1 13 1-69 1 53 1-51 0 11 1 47 1 158 1-200 1 49 1 14 1-21 1 41 1-14 1 1 1-66 1 59 0 90 1-22 1-103 1 71 1-61 1 43 1 13 0-28 1-37 1 161 1-119 1-33 1 12 0 56 1-13 1-24 1 14 1-33 0 62 1-84 1 120 1-110 1-10 0 103 1-120 1 57 1-8 0-30 1-19 1 14 1 72 0 76 1-39 1-11 1-74 0 59 1-1 1 13 0 63 1-106 1 52 1-59 0-34 1 69 1-47 0-17 1 48 1-51 0 135 1-109 1 44 0-32 1 38 1 29 0-30 1-47 1 84 0-42 1-20 1 14 0-24 1 11 1 28 0-36 1 97 0-78 1-44 1 188 0-111 1-12 1-26 0-25 1-7 0 134 1-1 1-84 0 35 1 28 0-53 1-61 0 71 1-34 1 47 0-85 1 67 0-41 1-30 1 65 0-5 1-21 0 179 1-102 0-100 1-5 0 19 1-15 1 136 0-70 1-24 0 53 1-130 0 124 1 31 0-98 1 96 0-110 1 113 0-12 1-108 1 2 0 2 1 54 0 113 1-38 0-95 1-22 0 13 1 40 0-48 1-12 0-1 1 3 0 60 1-38 0 53 1-38 0-11 1 128 0-84 1 34 0-101 1 5 0 38 0-9 1-14 0 48 1 4 0-80 1 95 0-106 1 56 0 54 1-44 0-44 1 66 0-109 1 3 0 37 1 194 0-164 0 21 1-63 0 135 1-119 0 68 1 0 0-37 1-39 0 65 0 63 1-69 0 0 1-50 0 17 1 39 0-38 0-9 1 18 0-32 1 22 0 44 1-26 0-63 0 45 1 19 0-92 1 117 0 57 1-42 0-21 0-46 1 40 0-67 1 88 0-66 0 47 1-48 0 34 1 33 0-57 0-5 1-58 0 150 1-110 0 32 0-30 1 61 0 14 1 25 0-27 0-95 1 56 0-63"/>
<path d="M100 128H151l97-1 57 89 40 32 32-45 25 27 22-89 18 92 17-50 15 54 13-56 12 54 11 29 11-8 9-27 9 230 9-247 8 116 7-130 7 149 7-129 7 25 6 33 6-45 6 164 5-111 5-66 6 16 4 80 5-58 5 23 4 50 5-90 4-14 4 70 4 81 4-59 3 61 4-5 3-80 4 41 3 81 4-54 3-17 3 9 3 0 3-46 3-32 3 21 3-6 2 40 3-28 3 15 2 47 3-16 2 35 3-81 2 63 3 19 2-55 2 133 3-111 2-34 2 50 2-5 2-47 3 104 2-15 2 37 2 2 2-56 2 90 2-70 1-30 2 49 2-65 2-39 2 33 2-23 1 37 2 27 2 3 2-1 1 53 2-12 2-82 1-26 2 151 1-72 2-2 1-53 2 61 1 4 2-34 1-8 2 58 1-14 2 72 1-120 2 9 1 69 1-24 2-27 1 235 1-176 2-21 1 47 1-57 2 40 1-21 1-11 1 11 2-77 1 71 1 10 1 27 2 16 1-30 1-32 1-52 1 155 1-33 2-53 1-12 1-24 1-19 1 25 1 59 1-70 1 44 1 21 1-39 1-4 2 49 1-13 1-11 1 6 1 56 1-61 1 21 1 6 1-38 1 36 1 0 1 20 1-76 0 45 1 41 1-41 1 0 1-9 1-1 1-16 1-18 1 30 1-1 1 4 1 16 0 33 1-87 1 44 1-8 1 15 1 101 1-43 0 0 1 38 1-94 1-26 1 54 1 41 0-123 1 55 1-19 1 98 1-113 0 30 1 62 1-94 1 181 1-46 0-70 1 17 1-17 1-33 0 40 1-19 1 1 1 64 0-61 1 19 1-16 1 9 0-27 1 147 1-99 0-37 1 10 1 83 1-71 0-35 1 29 1-23 0 33 1-21 1 5 0-1 1 17 1-8 0 191 1-141 1-74 0 41 1 26 1-100 0 40 1 31 1 167 0-140 1-58 1 74 0-30 1 12 0 94 1-162 1 43 0 82 1-60 1-5 0-59 1-16 0 103 1-1 1 0 0-105 1 61 0-63 1 68 0 36 1-36 1 117 0-89 1 12 0 38 1-66 1 52 0-24 1-27 0-13 1 18 0-34 1 43 0-93 1 76 1 165 0-219 1 28 0 33 1 4 0 53 1-56 0-21 1 22 0-39 1 85 0 25 1-70 1-46 0-17 1 89 0-31 1 14 0 4 1-43 0 7 1-11 0 68 1-11 0 11 1 39 0-92 1 79 0-78 1 38 0-79 1 47 0 6 1-67 0 75 1-8 0-20 0 103 1-89 0 28 1 22 0 41 1-61 0 117 1-156 0-17 1 12 0-49 1 37 0 86 1-84 0 20 1 79 0 3 0-41 1-49 0-8 1-14 0 27 1 57 0-76 1 58 0 22 0-77 1-45 0 170 1-86 0-13 1 87 0-68 0-90 1 4 0 76 1-31 0 51 1 5 0 130 0-116 1-81 0 169 1-74 0-80 1-6 0 30 0 59 1-31 0-39 1 93 0-106 0 16 1-20 0 27 1-10 0-16 0 38 1-47 0 31 1 41 0-19 0 92 1-78 0 21 1-111 0 75 0-94 1 121 0-101"/>
<path d="M100 74H151l97 10 57 126 40 66 32-104 25-22 22 127 18-109 17 31 15 87 13-114 12 43 11-1 11 52 9-40 9-23 9 71 8 52 7-44 7 100 7-168 7 14 6 92 6-6 6-24 5 34 5 8 6-103 4 77 5-33 5 97 4-113 5 61 4-56 4 28 4 75 4-90 3-25 4 57 3 22 4 9 3-49 4 77 3 22 3-28 3-70 3 18 3 0 3 34 3 21 2-40 3 53 3-114 2 54 3 46 2 12 3 43 2-46 3-63 2 65 2-9 3 25 2-21 2-25 2-1 2 28 3 10 2 30 2-59 2-17 2 65 2-66 2 18 1 9 2 48 2-61 2 54 2-34 2 88 1-93 2 39 2-21 2-19 1-46 2 103 2-64 1 36 2 36 1-9 2 14 1-26 2-24 1 42 2 27 1-95 2 10 1 41 2-21 1 111 2-77 1-79 1 17 2 108 1-53 1-12 2 7 1 75 1-104 2 15 1 53 1 107 1-88 2-49 1 7 1-32 1 29 2-25 1 61 1 8 1-81 1 14 1 16 2 50 1-12 1-50 1 47 1 45 1-24 1 35 1-75 1 15 1-10 1 83 2-42 1 2 1-5 1 8 1-63 1 74 1-27 1 8 1 8 1-61 1 118 1-101 1 117 0-112 1-14 1 32 1 31 1 5 1-16 1-87 1 135 1-90 1-21 1 83 1-7 0-45 1 29 1-25 1 42 1 55 1-91 1 80 0-13 1-99 1 124 1-11 1 3 1-75 0 8 1 90 1-9 1-74 1 27 0 35 1-53 1-29 1 185 1-146 0 8 1 31 1-108 1 44 0 73 1-91 1 138 1-170 0 99 1-26 1-14 1 0 0-24 1 44 1 60 0-101 1 17 1 12 1-27 0 145 1-90 1-35 0-19 1 18 1 221 0-80 1-125 1 3 0-40 1 40 1-3 0-51 1 12 1 87 0 71 1-55 1-76 0 18 1-29 1 66 0 89 1-187 0 88 1-49 1 25 0 2 1 18 1-32 0-9 1 21 0-21 1-2 1 37 0-39 1-3 0 30 1 33 0-43 1 59 1-43 0 71 1-96 0 92 1-78 1 20 0-19 1 46 0 18 1-17 0-39 1 51 0-72 1 18 1 1 0-13 1 86 0-82 1 14 0 28 1-20 0 67 1-101 0 18 1 42 0-18 1 1 1 170 0-113 1 47 0-84 1 19 0-5 1 68 0-58 1-92 0 74 1-70 0 36 1-27 0 40 1 12 0 5 1 25 0-38 1-8 0 131 1-156 0 92 1-72 0-41 0 43 1-15 0 7 1 32 0-84 1 232 0-153 1 52 0-111 1 26 0 32 1 46 0-88 1 17 0 35 1-43 0 125 0-127 1-17 0 13 1 102 0-99 1 114 0-112 1 67 0-95 0 27 1-41 0 102 1-63 0 95 1 17 0-89 0-46 1 2 0 178 1-96 0 85 1-130 0 2 0 79 1-95 0 62 1 47 0-32 1-61 0 118 0-105 1 83 0-129 1 14 0 52 0-65 1 16 0 121 1-78 0 38 0-80 1-24 0 47 1-27 0 13 0 45 1-111 0 128 1 36 0-129 0 52 1 0 0-34"/>
<path d="M100 185H151l97 64 57 24 40-40 32-95 25 42 22 84 18-98 17 53 15-65 13 104 12-54 11 245 11 9 9-204 9 42 9 123 8-219 7 59 7-20 7 44 7 25 6-30 6 29 6-47 5 78 5-25 6-24 4-41 5-11 5 60 4-65 5 189 4-40 4-16 4-53 4-8 3-20 4 22 3 19 4 63 3-106 4 16 3 97 3-96 3 64 3 28 3 81 3-156 3 20 2 44 3-68 3-2 2 50 3-44 2 64 3-25 2-21 3 33 2-15 2-74 3 67 2-41 2 64 2 5 2-99 3 76 2 21 2 22 2 156 2-188 2-14 2 69 1 2 2-79 2 65 2-10 2 35 2-109 1 40 2 83 2-59 2 6 1-46 2 27 2 62 1-63 2 51 1-9 2-14 1-15 2 68 1-56 2 59 1-31 2 59 1-74 2-15 1 8 2 23 1-59 1-24 2 76 1 39 1-47 2 51 1-74 1 7 2 126 1-60 1-33 1 22 2 19 1 7 1 54 1-89 2 35 1 9 1-5 1-45 1 78 1-85 2 1 1 25 1 19 1-54 1 65 1-6 1-59 1 279 1-242 1 99 1-94 2 3 1-27 1 59 1-113 1 51 1 1 1 74 1-19 1-52 1 56 1-47 1 30 1 1 0-25 1 21 1 23 1-26 1 6 1-57 1 45 1-39 1-2 1 117 1-92 1-29 0 53 1 28 1-52 1 148 1-124 1-8 1 102 0 54 1-123 1 0 1 25 1 22 1 32 0-132 1 82 1 0 1 13 1-39 0 117 1-96 1-19 1-10 1 34 0 71 1-92 1-39 1 2 0-12 1 27 1-31 1-21 0 31 1 1 1 47 1 47 0-57 1 53 1-32 0-29 1 53 1-67 1-54 0 89 1-20 1 39 0-15 1 34 1-51 0 74 1 24 1-24 0-38 1-32 1 30 0 47 1-6 1-91 0 2 1 80 1-70 0 40 1-56 1 94 0 4 1-61 0-18 1 6 1 109 0-137 1 117 1 29 0-119 1 51 0-29 1 46 1-25 0 7 1-43 0 65 1 13 0-88 1-1 1 162 0-180 1 28 0-20 1 48 1 2 0-25 1-45 0 40 1 7 0-14 1 10 0 52 1-76 1 68 0-63 1 128 0-40 1-42 0-62 1 59 0 158 1-91 0-77 1 17 0-2 1 113 1-122 0 25 1-8 0 25 1-65 0-14 1 35 0 72 1-84 0 23 1 47 0-84 1 36 0-77 1 242 0-189 1 19 0 28 1 3 0 25 1-60 0 21 1 36 0-117 0 113 1-80 0 121 1-136 0 40 1 19 0 6 1-39 0 190 1-135 0-57 1 73 0 10 1-50 0-56 1 20 0 70 0 47 1-108 0 49 1 27 0-38 1 40 0-43 1-43 0 78 0 1 1-31 0 146 1-123 0-82 1 56 0-26 0 13 1-10 0 40 1-33 0 62 1-23 0-58 0 116 1-44 0-17 1-9 0-56 1-12 0 165 0-105 1-20 0 46 1-73 0 17 0-6 1-53 0 144 1-103 0 107 0-57 1-41 0-52 1 54 0 105 0-127 1 70 0-42 1-11 0 18 0 67 1-8 0-64"/>
<path d="M100 82H151l97 82 57 4 40-16 32 2 25-1 22 102 18-131 17 161 15-89 13 13 12 113 11-107 11-5 9 27 9-20 9 281 8-221 7-61 7 129 7-75 7-28 6 158 6-84 6-75 5-3 5 121 6-31 4 13 5-8 5-59 4 14 5-15 4 100 4-111 4 48 4-65 3 75 4-49 3 62 4-42 3 87 4-51 3 8 3-21 3-20 3-30 3 114 3 24 3-27 2-53 3 92 3-13 2-3 3-114 2 44 3 19 2 36 3-66 2 56 2-9 3-9 2 85 2-11 2-58 2 0 3 117 2-181 2 86 2 15 2 47 2-152 2 70 1 98 2-141 2 4 2 49 2 69 2-17 1-81 2 7 2 14 2 21 1 18 2-7 2-54 1 10 2 52 1-6 2-17 1-32 2 36 1 53 2-54 1 94 2-79 1-63 2 84 1-47 2 15 1 30 1 64 2-69 1 42 1-37 2 9 1-39 1 76 2-76 1 147 1-126 1-34 2 101 1-101 1 126 1-117 2 237 1-205 1 17 1 41 1-47 1 20 2-27 1 2 1-28 1 55 1-3 1-2 1 54 1-45 1-5 1-37 1 52 2-61 1 30 1 41 1-77 1 74 1-11 1-19 1-39 1 41 1 3 1-1 1-19 1 19 0 17 1-8 1-5 1 10 1-3 1-1 1 6 1-26 1 54 1 3 1 75 1-138 0 80 1-42 1-9 1-1 1 27 1 128 1-91 0 32 1-29 1 97 1-49 1-138 1 45 0 3 1 102 1-35 1-66 1-48 0 34 1 9 1 1 1 216 1-163 0-36 1 1 1 24 1-50 0 0 1 55 1-82 1 66 0 16 1-73 1 20 1 65 0 61 1-81 1 7 0-61 1 83 1-38 1 71 0-80 1 39 1-62 0 33 1-30 1 74 0-46 1 104 1-79 0-2 1-28 1 86 0-89 1 13 1-56 0 82 1-116 1 69 0-18 1-15 1 16 0 12 1 56 0-48 1-23 1 43 0-18 1 120 1-103 0 43 1 61 0-143 1 75 1 38 0-133 1 20 0-4 1 49 0-4 1 23 1-30 0 57 1-48 0-22 1 41 1-51 0 64 1 56 0-75 1-3 0-49 1 78 0 50 1-74 1 51 0-77 1 6 0 72 1-53 0-8 1-38 0 209 1-232 0 97 1-56 0 85 1-109 1 172 0 36 1-189 0 28 1-35 0 92 1 49 0-124 1 89 0-60 1-6 0-31 1 94 0-77 1-6 0 31 1-34 0 41 1 14 0 10 1-37 0 1 1-18 0-55 0 37 1-30 0 157 1-95 0-6 1-12 0 49 1-35 0 31 1 35 0-10 1-64 0 19 1-14 0 89 1-113 0 115 0-61 1-74 0-21 1 76 0 52 1-62 0 8 1 29 0-85 0 56 1-21 0 137 1-36 0-139 1 43 0 25 0 21 1-87 0 140 1-104 0 21 1-36 0-5 0-3 1 167 0-82 1-44 0 27 1-37 0 28 0 4 1 140 0-132 1-51 0 55 0 15 1-99 0 38 1 27 0-53 0 21 1 33 0-38 1 96 0-92 0 12 1 1 0 7 1 105 0-171 0 27 1 92 0-4"/>
<path d="M100 123H151l97 98 57-115 40 34 32 64 25-44 22-20 18 99 17 68 15-94 13-18 12 138 11-50 11-25 9-5 9-90 9 196 8-106 7-55 7 27 7 75 7 17 6-81 6 81 6-8 5-4 5 15 6-20 4 5 5-66 5 94 4-53 5-37 4-17 4 157 4-71 4-23 3 55 4 8 3-14 4-54 3 25 4 130 3-19 3-108 3 8 3 149 3-139 3 212 3-215 2-45 3 79 3-46 2 9 3 146 2-131 3-45 2 34 3 35 2 37 2-10 3-62 2 52 2-70 2 85 2-79 3 36 2-12 2-25 2 54 2-10 2-13 2 88 1-96 2 50 2-40 2-28 2 57 2 12 1-74 2 113 2-93 2 15 1 25 2 7 2 22 1-32 2 9 1-40 2 41 1-34 2 230 1-189 2 36 1 28 2-15 1 20 2-51 1-26 2 68 1-2 1-31 2 2 1-40 1 89 2-27 1 13 1-32 2-33 1 30 1 31 1-3 2-51 1 3 1 110 1-72 2-2 1 72 1-84 1-27 1 122 1-70 2-43 1 52 1-48 1 36 1-3 1 26 1 13 1 33 1-45 1-60 1 6 2 8 1 82 1-48 1 20 1 51 1-103 1 177 1-175 1 31 1-26 1 6 1 81 1-14 0-49 1-19 1 63 1-56 1 126 1-124 1 61 1-76 1 84 1-95 1 67 1 17 0-86 1 78 1-18 1-7 1 97 1-42 1-38 0-26 1 130 1-8 1 12 1-164 1 31 0 134 1-107 1 16 1-60 1 28 0 110 1-84 1-2 1 59 1-75 0 95 1-77 1-10 1 99 0-53 1-81 1 18 1 38 0 7 1-77 1 20 1 230 0-148 1-10 1-34 0 8 1 7 1 43 1 13 0-53 1 53 1-41 0 23 1-33 1-20 0 0 1 32 1-23 0-3 1 121 1-166 0 42 1 59 1 14 0-94 1 106 1-78 0-7 1 174 1-33 0-124 1 24 0-33 1 111 1-20 0-16 1 33 1-139 0 56 1-36 0 10 1 52 1-66 0-20 1 147 0-62 1-3 0-39 1-3 1 35 0 0 1-31 0 34 1-15 1 46 0-71 1 84 0-131 1 88 0 110 1 42 0-122 1-51 1 4 0-25 1 150 0-129 1 73 0-53 1 59 0-41 1-83 0 123 1-93 0 76 1-23 1-52 0-41 1 47 0 76 1-89 0 33 1 110 0-148 1 3 0 12 1 46 0-30 1-54 0 21 1 14 0 118 1-129 0 103 1-35 0-12 1-12 0-22 1 57 0-7 0-58 1 8 0-22 1 0 0 53 1 1 0-12 1-51 0 24 1 35 0 136 1 12 0-151 1-23 0-14 1-11 0 34 0-4 1 159 0-152 1 30 0-48 1 26 0 55 1-63 0 117 0-129 1-16 0 55 1 101 0-119 1-18 0 121 0-158 1 33 0 21 1 29 0-94 1 32 0 48 0 6 1-53 0-12 1-21 0 92 1-102 0 109 0-11 1-3 0-38 1 29 0 41 0 61 1-175 0 48 1-28 0 13 0 6 1 2 0 59 1-71 0 92 0-136 1 129 0-62 1-2 0 69 0 20 1-29 0-115"/>
<path d="M100 76H151l97 12 57 24 40 39 32-38 25 190 22-56 18-11 17 69 15-32 13-57 12 32 11-3 11 15 9-31 9 8 9 38 8 24 7 33 7-59 7-65 7 62 6 210 6-161 6-6 5-43 5 46 6-4 4-64 5 88 5-57 4 32 5-104 4 61 4 113 4-17 4 18 3-82 4 25 3 26 4-56 3-15 4 87 3 7 3-65 3 44 3-17 3-30 3 16 3 17 2-45 3 41 3 76 2 12 3-55 2 0 3-50 2 32 3 35 2-74 2 79 3-48 2-65 2 38 2 43 2-25 3 86 2-94 2 64 2 29 2-105 2 55 2-11 1-5 2 10 2 173 2-159 2 136 2-114 1-46 2-9 2 40 2 34 1 2 2-33 2 109 1-78 2 35 1-55 2-2 1-1 2-34 1 87 2 6 1-43 2 133 1-141 2 69 1-61 2 44 1-9 1-29 2 142 1-113 1 4 2-39 1 0 1 5 2 42 1-30 1-45 1 50 2 75 1-38 1 48 1-113 2 2 1 101 1-59 1-73 1 33 1 5 2 178 1-165 1 4 1-25 1 36 1-23 1-2 1 56 1 14 1-19 1-8 2 56 1-54 1 75 1-156 1 35 1 14 1-8 1 71 1 32 1 53 1-71 1-89 1 9 0 36 1 41 1-11 1-58 1 156 1-38 1-97 1-21 1 30 1-57 1 53 1 6 0-13 1 24 1-35 1 17 1 12 1-6 1-1 0-25 1 30 1 52 1-29 1 55 1-22 0-28 1 47 1-69 1 7 1 45 0 10 1 21 1-1 1-25 1-2 0 58 1 72 1-164 1-23 0 42 1 16 1-90 1 29 0 2 1 5 1 90 1-50 0 43 1-81 1 20 0 5 1-45 1 43 1-26 0 0 1 151 1-80 0 4 1 41 1-105 0 17 1 38 1-30 0-52 1 94 1-51 0 24 1 13 1-39 0 21 1-11 1 52 0-2 1-20 1 21 0-54 1-18 0-8 1 83 1-26 0 5 1 89 1-100 0 12 1-33 0-3 1-4 1 53 0-48 1-4 0 39 1 10 0-12 1 20 1-32 0-27 1 109 0 7 1-103 1-31 0 14 1 128 0-88 1-19 0 89 1-87 0-66 1 42 1 71 0-49 1-19 0 24 1 41 0 15 1-23 0-2 1 92 0-85 1-76 0 93 1-7 1 72 0-89 1-9 0-25 1 26 0 3 1-72 0 57 1-7 0 27 1-2 0-20 1 24 0-70 1 44 0 1 1-29 0 45 1 20 0 30 1-137 0 120 1 21 0-58 0 45 1-93 0 57 1 0 0-44 1-6 0 31 1-25 0 74 1-46 0 66 1-103 0 39 1-26 0 33 1-7 0 20 0 74 1-146 0 41 1 5 0-4 1 98 0-92 1 136 0-74 0-32 1-53 0 26 1 45 0-74 1 18 0-17 0 37 1 97 0-54 1-74 0 27 1-45 0-2 0 117 1-71 0 87 1-101 0-10 1 74 0-13 0 10 1-27 0-22 1 52 0-85 0-7 1 20 0 27 1-64 0 32 0-3 1 25 0-22 1-19 0 20 0 35 1 45 0 25 1 82 0-138 0-23 1-13 0-6"/>
<path d="M100 130H151l97-21 57 201 40-142 32-34 25 18 22-10 18 72 17 29 15 10 13 25 12 68 11-135 11 26 9-27 9 55 9 43 8-43 7-19 7 1 7-39 7 26 6 79 6-14 6-9 5-75 5 126 6-56 4-16 5-49 5 81 4-52 5 94 4-64 4 22 4 190 4-148 3 56 4-138 3 218 4-172 3 51 4-25 3-69 3 96 3-40 3 28 3 17 3-15 3-21 2-21 3 14 3-9 2 3 3 136 2 3 3-100 2 62 3-119 2 28 2 31 3 12 2-68 2 13 2 92 2-90 3 5 2 27 2 26 2 11 2-56 2 157 2-123 1 94 2-121 2 32 2 88 2-26 2 35 1-86 2-6 2 16 2-34 1 42 2 24 2 27 1 65 2-120 1-55 2 60 1-13 2-11 1 54 2-47 1 7 2 19 1-32 2 25 1-16 2 29 1-19 1 56 2-38 1 49 1-40 2 40 1 53 1-94 2 9 1 11 1 32 1-41 2 46 1-108 1 64 1 17 2-27 1-48 1 63 1-37 1 22 1 44 2-31 1-4 1 38 1-11 1-22 1-42 1 13 1 12 1 31 1-20 1 23 2 125 1-146 1 86 1-5 1-16 1-48 1 11 1-6 1 20 1-66 1 69 1-19 1-43 0 148 1 31 1-112 1 5 1 34 1-105 1 88 1 60 1 4 1-48 1-24 1-21 0 35 1-34 1 35 1 20 1-96 1 54 1-14 0 54 1-89 1-40 1 143 1-78 1 13 0-30 1 115 1-83 1 84 1-85 0-18 1 60 1 35 1-100 1 80 0-26 1-34 1 14 1-32 0 14 1 38 1-15 1-39 0-17 1 39 1 2 1 61 0-39 1 132 1-24 0 39 1-96 1 36 1-99 0 2 1 48 1-5 0-51 1 23 1 43 0-73 1-3 1-2 0 31 1 7 1-11 0-4 1 24 1-35 0-6 1 33 1-28 0 48 1-42 1 22 0 73 1-102 0 84 1-24 1-91 0 64 1 37 1-55 0-15 1 45 0 18 1-55 1-12 0 51 1-16 0 4 1-42 0 36 1 57 1-45 0 105 1-66 0-17 1-10 1 1 0 31 1 34 0-42 1-39 0-53 1 95 0-59 1-17 1 35 0-20 1 30 0-28 1 76 0-22 1-38 0-2 1-28 0-23 1 58 0-23 1 96 1 0 0-68 1 14 0 123 1-171 0 42 1 39 0 45 1-65 0-85 1 86 0-26 1 99 0-119 1 32 0 13 1 30 0 29 1-29 0-34 1-17 0 35 1-41 0 88 0-90 1 20 0-2 1-26 0 13 1-30 0 12 1 37 0 8 1-75 0 84 1-89 0 101 1 19 0-107 1 4 0-9 0 45 1-15 0 58 1-68 0 27 1 20 0 89 1-102 0-17 0 2 1-13 0 50 1 126 0-176 1 13 0-45 0 53 1 26 0-43 1 56 0-67 1 67 0 32 0-79 1 5 0-13 1-18 0-5 1 25 0 130 0-61 1-71 0 21 1 20 0 33 0-94 1 12 0 32 1 9 0-60 0 59 1-7 0-10 1-59 0 22 0 46 1 43 0-50 1 4 0 17 0 60 1-105 0 49"/>
<path d="M100 122H151l97-43 57 102 40-38 32 35 25 77 22-46 18-63 17 8 15 80 13-42 12 67 11-6 11-36 9-2 9-4 9 38 8-29 7-9 7 186 7-205 7 70 6-5 6 64 6-46 5 58 5 19 6 34 4-110 5 9 5 157 4-124 5 53 4-41 4-29 4-34 4 40 3-62 4 265 3-230 4 57 3-27 4 1 3-32 3 69 3 48 3-82 3 39 3 6 3 25 2-58 3 45 3-39 2-14 3 37 2 2 3-18 2 8 3-11 2 17 2 27 3-49 2 75 2-40 2 28 2 11 3-97 2 32 2 1 2 52 2-9 2 49 2-101 1 125 2-103 2 35 2 36 2-3 2-34 1 3 2-33 2 79 2 14 1-93 2 141 2-124 1-42 2 72 1 29 2-50 1 49 2 5 1-16 2-77 1 40 2 19 1-65 2 58 1 13 2-2 1-17 1 24 2 70 1-83 1 62 2-67 1 30 1 1 2-10 1 8 1-9 1 12 2-62 1-21 1 65 1 61 2-51 1 11 1-23 1 62 1-40 1 12 2 42 1 30 1-79 1-51 1 188 1-102 1 109 1-123 1 64 1-134 1 61 2 21 1-32 1 104 1-31 1-80 1 43 1-27 1-15 1 53 1 33 1-89 1 18 1 25 0 11 1-67 1 103 1-28 1-32 1 15 1 87 1-82 1-14 1 131 1-156 1 93 0-53 1 3 1-16 1 14 1-9 1 83 1-128 0 19 1 13 1 28 1 56 1-112 1 87 0 1 1-28 1 33 1-71 1 50 0-18 1 147 1-155 1-37 1 115 0-59 1-40 1 45 1 4 0 1 1 79 1-103 1-11 0 21 1-49 1 76 1-42 0 7 1 166 1-165 0 42 1-43 1-22 1 78 0 33 1 45 1-104 0 34 1-36 1-20 0-10 1 54 1-53 0 0 1-24 1 118 0-15 1-50 1 15 0-37 1 116 1-52 0-65 1 49 1-21 0 132 1-66 0-62 1-40 1 156 0-150 1 74 1-38 0 31 1 70 0-95 1 11 1-29 0-48 1 89 0-73 1 49 0 91 1-121 1 62 0-65 1 51 0 78 1-73 1-53 0 106 1-39 0-30 1 7 0-51 1 65 0 47 1-69 1 4 0-39 1 109 0-24 1-105 0 227 1-116 0-51 1-34 0 39 1-2 0 70 1-38 1 75 0-37 1-56 0-64 1 40 0 123 1-96 0-24 1-23 0-28 1 137 0-74 1 159 0-124 1-66 0-13 1-4 0 80 1-63 0 33 1 83 0-138 1-16 0 53 0-29 1 69 0-35 1-25 0 71 1 3 0 0 1-116 0 54 1 162 0-40 1-136 0 13 1 55 0-5 1 0 0-6 0-38 1 0 0 96 1-107 0 9 1 131 0-94 1 25 0-83 0 70 1-30 0-48 1 60 0-76 1 160 0-138 0 74 1-77 0 108 1-137 0 17 1 56 0 18 0 11 1 4 0-51 1-31 0 19 1-26 0-19 0 58 1-23 0 46 1-57 0-9 0 162 1-31 0-108 1 94 0-82 0 88 1-98 0 41 1 35 0-61 0 41 1-82 0 116 1-83 0 32 0 7 1 63 0-39"/>
<path d="M100 92H151l97-9 57 177 40-94 32 59 25 3 22-15 18 37 17-23 15-39 13 57 12-43 11-12 11 0 9 62 9 47 9-52 8-26 7 66 7-53 7 16 7 85 6-8 6-97 6 52 5-57 5 167 6-119 4 53 5-41 5 77 4-122 5 6 4 163 4-158 4 31 4 14 3 12 4 19 3 20 4-38 3 77 4-117 3 87 3 26 3-69 3 17 3 90 3-127 3 56 2-25 3 12 3 45 2-117 3 41 2 28 3 65 2-62 3 49 2-23 2 2 3 45 2-87 2 41 2-54 2 17 3 97 2-97 2 5 2-8 2-27 2 110 2 14 1 23 2-70 2-6 2 18 2 27 2 20 1 53 2-106 2 21 2 72 1-74 2 60 2-63 1-31 2 201 1 10 2-162 1-41 2 75 1-90 2 91 1-22 2 19 1-28 2 25 1-81 2-6 1 49 1-10 2 88 1-15 1 46 2-70 1-41 1 44 2 69 1-72 1-11 1-25 2 4 1-18 1 34 1-31 2 34 1-37 1 129 1-71 1-33 1 10 2 76 1-32 1-28 1-16 1 12 1-18 1-24 1 101 1-37 1 35 1 23 2-108 1 34 1 10 1 59 1-109 1 18 1-20 1 13 1 59 1-55 1 76 1-51 1 1 0-14 1 2 1-3 1 32 1 44 1 13 1-15 1-43 1 33 1-47 1 6 1 20 0 38 1 40 1-49 1 22 1-112 1 175 1-122 0 57 1-92 1 75 1 79 1-52 1-25 0-18 1-70 1 178 1-12 1-117 0 54 1-75 1 42 1 16 1-21 0 86 1-78 1-24 1 63 0-16 1 4 1 53 1-108 0 38 1 41 1-70 1 34 0 8 1-45 1-25 0 77 1 23 1 27 1 30 0-64 1-38 1-6 0 12 1 59 1-75 0 87 1 12 1-131 0 166 1-68 1-52 0 7 1 7 1-23 0 22 1-36 1 3 0-24 1 108 1-24 0-5 1 14 0-44 1-40 1 44 0-61 1 67 1 7 0 6 1-24 0 79 1-28 1-59 0-47 1 68 0-45 1 62 0 68 1-60 1-28 0 29 1-81 0 34 1 40 1 53 0-55 1-22 0-45 1 63 0-63 1 33 0-32 1 197 1-140 0 39 1 34 0-28 1 33 0-105 1-43 0 2 1 116 0-16 1-81 0 43 1-22 1 36 0 48 1-119 0 37 1 152 0-114 1-22 0 19 1-8 0 43 1-45 0 34 1 141 0-142 1 80 0-21 1-116 0 64 1-48 0-1 1-8 0 3 1 42 0-48 0-27 1 102 0-54 1 33 0-45 1 43 0 41 1-60 0-72 1 113 0-68 1 131 0-116 1 93 0-129 1 24 0 13 0-41 1 88 0-47 1-13 0-17 1 3 0 22 1-29 0 207 0-198 1 60 0-67 1 25 0 72 1-105 0 92 0 79 1-114 0-34 1 70 0-49 1-15 0 46 0-10 1 95 0-25 1-66 0 105 1-189 0 71 0 16 1 42 0-20 1 15 0 0 0 104 1-193 0 65 1-15 0-28 0 64 1-2 0-2 1 47 0-128 0 25 1 2 0 26 1 10 0-13 0-20 1-37 0 67"/>
<path d="M100 142H151l97 156 57-36 40-42 32 31 25 7 22-61 18-26 17 244 15-177 13-43 12 46 11-28 11 0 9-17 9 91 9-19 8-5 7 116 7-139 7 103 7 11 6-99 6-4 6 159 5-39 5-96 6-29 4 26 5-3 5 3 4 6 5 79 4 115 4-63 4-144 4 15 3 97 4-137 3 37 4 107 3 105 4-163 3 65 3-60 3-74 3 86 3 36 3-82 3-2 2 60 3 5 3-54 2-24 3 43 2 72 3-57 2-11 3 48 2-32 2 22 3 23 2-60 2 72 2-6 2-40 3-17 2 64 2 5 2-46 2 17 2-2 2 85 1-6 2-11 2-70 2 53 2 17 2-87 1 51 2-25 2-48 2 61 1 28 2-5 2-30 1 102 2-97 1 13 2-65 1 56 2-33 1 38 2-20 1 14 2 2 1 182 2-146 1-55 2-12 1 25 1 64 2-25 1-65 1 36 2-45 1-5 1 45 2-31 1 59 1-13 1 86 2-72 1 19 1 27 1-72 2-2 1 86 1-43 1 21 1-50 1 36 2-50 1 23 1 10 1-14 1-4 1 26 1 37 1-18 1-29 1 85 1-75 2-34 1 25 1-59 1 51 1 117 1-63 1-17 1 59 1-67 1 16 1-32 1-2 1 61 0-27 1 8 1 27 1-22 1-1 1-2 1-46 1-1 1 17 1 48 1-6 1 40 0-38 1-49 1 45 1-42 1 65 1-89 1 34 0 27 1-55 1 148 1-48 1-5 1-62 0 171 1-204 1 57 1 22 1-51 0 59 1-6 1-15 1 3 1 65 0-23 1 136 1-200 1-39 0 144 1-30 1 6 1-66 0 42 1-55 1 2 1-19 0 62 1 93 1-144 0 12 1-12 1 170 1-179 0 53 1-78 1 14 0 49 1 56 1-27 0 37 1-52 1 43 0-87 1 119 1-27 0-23 1-32 1 57 0-83 1 5 1 25 0-5 1 5 1 40 0 35 1-132 0 48 1 79 1-23 0-68 1 48 1-29 0-36 1 65 0 0 1-54 1-19 0 66 1 40 0-81 1 101 0-102 1 118 1-122 0 25 1 82 0-110 1 35 1 70 0-35 1 69 0-80 1-36 0 43 1-44 0 44 1-19 1 83 0-41 1-45 0 32 1 138 0-206 1 92 0-27 1 17 0 26 1-153 0 148 1 111 1-197 0-27 1 71 0 21 1-65 0 43 1 18 0 44 1-69 0-30 1 57 0 77 1-36 0-100 1-5 0 135 1-141 0 81 1-109 0 31 1 36 0 18 1-35 0 102 0-97 1 82 0 29 1-130 0 61 1-34 0 25 1-61 0-21 1 57 0-4 1-16 0 104 1-99 0 25 1 88 0 71 0-151 1-24 0 120 1-160 0 23 1 130 0-146 1 38 0-24 0-25 1 117 0-40 1 85 0-169 1 96 0-32 0-9 1-30 0 20 1 60 0-100 1 98 0-60 0 18 1 18 0 6 1-53 0 6 1-37 0 29 0 71 1-24 0-12 1 48 0-80 0-1 1 163 0-123 1-59 0 81 0-72 1-20 0 19 1 35 0 14 0 39 1-81 0 48 1 89 0-146 0 118 1-58 0-15"/>
<path d="M100 66H151l97 59 57 43 40-6 32 53 25 10 22 23 18-19 17 28 15-98 13-5 12 223 11-68 11-85 9 92 9-58 9 29 8 66 7-137 7 33 7 40 7-73 6 92 6 8 6 48 5-52 5 90 6-141 4 90 5-22 5-49 4 25 5-53 4 36 4 13 4-32 4 110 3-66 4 28 3 95 4-98 3 152 4-123 3-30 3-16 3 45 3-59 3 82 3-45 3 119 2-171 3 61 3-31 2 43 3-34 2-12 3 30 2 5 3 43 2 6 2-7 3-28 2-47 2 104 2-79 2 26 3-8 2 102 2-103 2-66 2 5 2 125 2-73 1 29 2-49 2 48 2-49 2 62 2-58 1 46 2-78 2 78 2-20 1 30 2 20 2-81 1 86 2-55 1 163 2-101 1-17 2 91 1-132 2 107 1-34 2-88 1 65 2 46 1-50 2-40 1 38 1 28 2-34 1 38 1 24 2-30 1-72 1 68 2-18 1 0 1-14 1 11 2 71 1-54 1-2 1-20 2 192 1-158 1 29 1-85 1 61 1 15 2-17 1 40 1-79 1-13 1 77 1-51 1 54 1-15 1-21 1 22 1-27 2-9 1-4 1 4 1 22 1 36 1-86 1 140 1-80 1 25 1-5 1 6 1-20 1 70 0-21 1-33 1-48 1 88 1 9 1 1 1-117 1 52 1-12 1-25 1 85 1-38 0 139 1-89 1-91 1 4 1 50 1 33 1-79 0 22 1 78 1-55 1-7 1 77 1-67 0 25 1-23 1-64 1 37 1 77 0 44 1-129 1 40 1 191 1-151 0 53 1-129 1 24 1-2 0 211 1-112 1-84 1 8 0 17 1-29 1 31 1-18 0-19 1 61 1-68 0-7 1 229 1-39 1-153 0 9 1 71 1 38 0-123 1 9 1 17 0 26 1 54 1-91 0 82 1-47 1 62 0-98 1-26 1 137 0-92 1-52 1 46 0 35 1-71 1 60 0-65 1 89 0-80 1 39 1-24 0 16 1 50 1-104 0 117 1-104 0-1 1 75 1-6 0 14 1-67 0 128 1-122 0 55 1-51 1 21 0 81 1-105 0 25 1 33 1-61 0 0 1 41 0 61 1-74 0-41 1 17 0 11 1-20 1 62 0-70 1 56 0-29 1 23 0 110 1-79 0-98 1 52 0 4 1 30 0 4 1 14 1-37 0 10 1 124 0-125 1-1 0 48 1-100 0 46 1-5 0 18 1-49 0 64 1-37 0-85 1 150 0 7 1-101 0 43 1-10 0-34 1 13 0 21 1 17 0 58 0-45 1-35 0 46 1-4 0-48 1-13 0-31 1 49 0-33 1 4 0 50 1-47 0 13 1 50 0 52 1-124 0 45 0-37 1-35 0 42 1 33 0-28 1 33 0-33 1 36 0 5 0-65 1 126 0-34 1-64 0 19 1 15 0-55 0 49 1-11 0 11 1 73 0-91 1-29 0-30 0 19 1 11 0 157 1-60 0-94 1-27 0 82 0-7 1 28 0-13 1 37 0-20 0-85 1 41 0 19 1 50 0-86 0-23 1 50 0 3 1 92 0-52 0 40 1-149 0 84 1-37 0-2 0-4 1 23 0-46"/>
<path d="M100 72H151l97 124 57 12 40-60 32 96 25-20 22-12 18-67 17 12 15-13 13 37 12 11 11 136 11-10 9-80 9-56 9 53 8 11 7-22 7 28 7 103 7-120 6 117 6 280 6-228 5-163 5 22 6-21 4 98 5-3 5-107 4 51 5 11 4 43 4-14 4 20 4-95 3 68 4-1 3 10 4-37 3 111 4-111 3-24 3 172 3-82 3-12 3-22 3 34 3-81 2 120 3-18 3-39 2 6 3-21 2 2 3-3 2-5 3 97 2 16 2 25 3-130 2 0 2 33 2 116 2-96 3-8 2 102 2-61 2-58 2 10 2 144 2-57 1-91 2 66 2-16 2-5 2-28 2 2 1 66 2-52 2 96 2-135 1 48 2-20 2-25 1 44 2 55 1-69 2 69 1-36 2-17 1-44 2 103 1-35 2-83 1 62 2-20 1 73 2-52 1-38 1 29 2 32 1 41 1-81 2-13 1 55 1-22 2 94 1-59 1-12 1 21 2 0 1 8 1-2 1-18 2-47 1-16 1 32 1-20 1 194 1-127 2-82 1 135 1-70 1-25 1-17 1 85 1-43 1 12 1 192 1-245 1 85 2-2 1 24 1-30 1-16 1 0 1-17 1 45 1 2 1-46 1 9 1 16 1 59 1-115 0 88 1 36 1-136 1 75 1 17 1 22 1-38 1 30 1-69 1 207 1-74 1-111 0-30 1 77 1 62 1-119 1 25 1 141 1-135 0 214 1-236 1 102 1-113 1 20 1 65 0 43 1-94 1 11 1 38 1-44 0 119 1-90 1 98 1-25 1-85 0 28 1-93 1 10 1 72 0-44 1 28 1 35 1-2 0-56 1-31 1 90 1-78 0 3 1 93 1 90 0-148 1 15 1-24 1 21 0 30 1-51 1 43 0-41 1 109 1-81 0-1 1 20 1 15 0-49 1-51 1 115 0-80 1 64 1-33 0 18 1-27 1-49 0 70 1 97 1-147 0 15 1 55 0-22 1 60 1-44 0 42 1-84 1 18 0 175 1-98 0-96 1 4 1 25 0 59 1-59 0 28 1-26 0 41 1-54 1 12 0 47 1-22 0-41 1 101 1-33 0-79 1 95 0-52 1-26 0-40 1 18 0 61 1-39 1 72 0-80 1 34 0-53 1 23 0-45 1 50 0-11 1-18 0 147 1-169 0 132 1-69 1 3 0-9 1 60 0-101 1 55 0-5 1-35 0 140 1 47 0-201 1 99 0-75 1 24 0-34 1 109 0-23 1-90 0 39 1 168 0-221 1 24 0-11 1 42 0 140 0-147 1-55 0 224 1-155 0 11 1-109 0 35 1 34 0 188 1-147 0-34 1 81 0-121 1 87 0-34 1 48 0-69 0 34 1-47 0 96 1-29 0-41 1-25 0-24 1 102 0-56 0-49 1 133 0-59 1 22 0-84 1-8 0 178 0-77 1-85 0 81 1 27 0-17 1-62 0 86 0-140 1 53 0 54 1-40 0-61 1 124 0-55 0 45 1-50 0 26 1-33 0 78 0 35 1-89 0 91 1-130 0 161 0-146 1-9 0-22 1 16 0 80 0-54 1-2 0-59 1 96 0-37 0-14 1 51 0-77"/>
<path d="M100 91H151l97 19 57 28 40 80 32-95 25 63 22 49 18 113 17-180 15 183 13-126 12 71 11-5 11-2 9 28 9-129 9 64 8-25 7-22 7 8 7 85 7-48 6-19 6 37 6-29 5 6 5 52 6-44 4 159 5-145 5 109 4 2 5-100 4 26 4-17 4-5 4 32 3 5 4-35 3 15 4 54 3-87 4 8 3 70 3-28 3 57 3-81 3-2 3 45 3 66 2-90 3 108 3-129 2 116 3 31 2-133 3 13 2 51 3 6 2-8 2-1 3 64 2-99 2 9 2-39 2 0 3 55 2 38 2 0 2-32 2 17 2-21 2 19 1 22 2-42 2 20 2 30 2-70 2 70 1-1 2-47 2 162 2-170 1 44 2-60 2 55 1-32 2 29 1-10 2 22 1-21 2-8 1 34 2 86 1-23 2 62 1-84 2-4 1-9 2-43 1-18 1 43 2-17 1-7 1 99 2-39 1-54 1 28 2 26 1-11 1-14 1 51 2-51 1 50 1 9 1-103 2 119 1 19 1-75 1-3 1 20 1 141 2-35 1-109 1 153 1-159 1-15 1-23 1 40 1 109 1-137 1 74 1-85 2 168 1-113 1 21 1-11 1-26 1 16 1 64 1-78 1 49 1-89 1 32 1 14 1-22 0 8 1 14 1 49 1 32 1-84 1-44 1 52 1 77 1-114 1 36 1 80 1-80 0 25 1 14 1-6 1-34 1-2 1 0 1 46 0-22 1-9 1 99 1-20 1-44 1-42 0 83 1 91 1-200 1 122 1-74 0-3 1-23 1 107 1-30 1 29 0 22 1-45 1-15 1-30 0-9 1 87 1-103 1 69 0 57 1-105 1 33 1 17 0-12 1-6 1-49 0 33 1-9 1 2 1-11 0-2 1 189 1-214 0-10 1 93 1 0 0-79 1 11 1 102 0-60 1 43 1-59 0 48 1-32 1 10 0 167 1-115 1-90 0 45 1-20 1 50 0-59 1 56 0 26 1-26 1-55 0 31 1-8 1-56 0 155 1-109 0 21 1-31 1-58 0 58 1-50 0 9 1 52 0 32 1-87 1 42 0-6 1 36 0-22 1-7 1-27 0 44 1-16 0 1 1-1 0 62 1-54 0 43 1-60 1 44 0-57 1 28 0 179 1-68 0-113 1-25 0 53 1-68 0 90 1 51 0-55 1-86 1 17 0 9 1 95 0-22 1-62 0 13 1 32 0-61 1 11 0 44 1-33 0 28 1-49 0 61 1 5 0-61 1 53 0-36 1 100 0-124 1 53 0 15 1-43 0 29 0-54 1 48 0-62 1 67 0-41 1 112 0-108 1 13 0-13 1 27 0-19 1 44 0-104 1 19 0 48 1 170 0-176 0 35 1-51 0-21 1 51 0 127 1 35 0-175 1 37 0 32 0-29 1-51 0 92 1-111 0 81 1 22 0 30 0-104 1 27 0-6 1 12 0 143 1-170 0-5 0 60 1-53 0 5 1-20 0 3 1-6 0 69 0-64 1 28 0 97 1-118 0 26 0-49 1-10 0 26 1-6 0 65 0 54 1-56 0-33 1 69 0-76 0 26 1-32 0-24 1 153 0-72 0-98 1 98 0-63"/>
<path d="M100 100H151l97 61 57-49 40 157 32-107 25-3 22 5 18-22 17 55 15 66 13-56 12 5 11 60 11-30 9 46 9-56 9 47 8-56 7-25 7 85 7-69 7 24 6 47 6 104 6-149 5 148 5-123 6 197 4-96 5-71 5-34 4 25 5 198 4-199 4 93 4-14 4-102 3 55 4 16 3 9 4 144 3-183 4-24 3 31 3 15 3-14 3 13 3 2 3 105 3-89 2-33 3-10 3-17 2 21 3 31 2 15 3 0 2-22 3 133 2-176 2 141 3-85 2 33 2-42 2 28 2-41 3-14 2 55 2 0 2-14 2-29 2 95 2-34 1-59 2 80 2-37 2 128 2-75 2 49 1-90 2-34 2 94 2-13 1-11 2 93 2-68 1-70 2 17 1-13 2 64 1-10 2-91 1 10 2 134 1 2 2-22 1 14 2-25 1 68 2-99 1 27 1-43 2 26 1 64 1 17 2-68 1-43 1 44 2-11 1 98 1-62 1-27 2 93 1-69 1-23 1 80 2-38 1-65 1-31 1 62 1 15 1-54 2 130 1-14 1-100 1 27 1-2 1 40 1-56 1 3 1-9 1 20 1 58 2-32 1-18 1 18 1 27 1-73 1 16 1 73 1 3 1-43 1 38 1-68 1 16 1 89 0 50 1-126 1 136 1-131 1-24 1 60 1-61 1 0 1 64 1-7 1-48 1-18 0 64 1-20 1 87 1-150 1 178 1-110 1-19 0 91 1-40 1-30 1 26 1-77 1 192 0-200 1 105 1 18 1-4 1-45 0-84 1 119 1 47 1 53 1-201 0 32 1 81 1-39 1-33 0 53 1-87 1 60 1 7 0-16 1 38 1-74 1 97 0 76 1-127 1-16 0 89 1-65 1 7 1-42 0-3 1 15 1 73 0-7 1-1 1-68 0-20 1 4 1 165 0-142 1 30 1-59 0 120 1-96 1 21 0 22 1 37 1-45 0-17 1 28 1-44 0 85 1-5 0-83 1 8 1 84 0-50 1-23 1 113 0-112 1 106 0-97 1-47 1-13 0 129 1 18 0 67 1-144 0-24 1 168 1-162 0-46 1 28 0 61 1-11 1-63 0 4 1 176 0-125 1-34 0-12 1-1 0 106 1-1 1-14 0-47 1 11 0 14 1-49 0-12 1-6 0 10 1 84 0-58 1-28 0 81 1-29 1-11 0-18 1 3 0 14 1 83 0-12 1-61 0-36 1-1 0 18 1-18 0 12 1 57 0-29 1 90 0-83 1-5 0 16 1 29 0-133 1 49 0 50 1-59 0-9 0 17 1 61 0-7 1-23 0-34 1 58 0-16 1-76 0 94 1-51 0-30 1 92 0-86 1 44 0-49 1 87 0-42 0 45 1-17 0-46 1 184 0-200 1 148 0-77 1 39 0-14 0-73 1-21 0 32 1 49 0-57 1 10 0 17 0-35 1 65 0-27 1-2 0 10 1-10 0-8 0 9 1-24 0-24 1 20 0 75 1-76 0 77 0-96 1 89 0 17 1-87 0 86 0 38 1-38 0-72 1 9 0 54 0 14 1-77 0 57 1-63 0 2 0 80 1-87 0 63 1-64 0 105 0-54 1-105 0 88"/>
<path d="M100 94H151l97 77 57-88 40 62 32-37 25 113 22-57 18-16 17 134 15-45 13-30 12 99 11-58 11-26 9-52 9 126 9 51 8-136 7 21 7 48 7-24 7 89 6-52 6 200 6-178 5-61 5-30 6 99 4-59 5-23 5 150 4-158 5 36 4 32 4 42 4-79 4 68 3 48 4-26 3-115 4 32 3 65 4 139 3-144 3-53 3 4 3 62 3-40 3 13 3-1 2 52 3 104 3-30 2 89 3-235 2 27 3 24 2 18 3-21 2 0 2-50 3 88 2-71 2 107 2 5 2-68 3 15 2 49 2-11 2-46 2 48 2-44 2 0 1 46 2 24 2-48 2 7 2 105 2-95 1-25 2 21 2 2 2-19 1-47 2 142 2-104 1 15 2 36 1 15 2-6 1-50 2-4 1-18 2 105 1-62 2 19 1-13 2-7 1 93 2-116 1 38 1-8 2 112 1-65 1-2 2 26 1-73 1-7 2 39 1-17 1-12 1 15 2-8 1 9 1-24 1 22 2 43 1 36 1-93 1 17 1-22 1 40 2-30 1 89 1 18 1 49 1-154 1 58 1-3 1 6 1 21 1-87 1 103 2-79 1 125 1-139 1 99 1-104 1 41 1 48 1-54 1 27 1-42 1-15 1-10 1 30 0 29 1 22 1-26 1 40 1-15 1 69 1-76 1-63 1 82 1 95 1 56 1-110 0-75 1 21 1-14 1 67 1-109 1 12 1 13 0-1 1 79 1-67 1 60 1-60 1 64 0 1 1-24 1-32 1 57 1-70 0 9 1-8 1 28 1-36 1 52 0 11 1 17 1-8 1 56 0-128 1 3 1 5 1-25 0 69 1-18 1-10 1 77 0-33 1-39 1-2 0 33 1-29 1 167 1-118 0-51 1 5 1 124 0 75 1-198 1 35 0 82 1-176 1 127 0-60 1 17 1 13 0-69 1 73 1-31 0 15 1-11 1-71 0 138 1-21 1 34 0-118 1 80 0 21 1-80 1 70 0-6 1-43 1-8 0 104 1-118 0 74 1-12 1-101 0 133 1-71 0 107 1-114 0-48 1 48 1 5 0-12 1-6 0 13 1 16 1 11 0 114 1-188 0 81 1-12 0-13 1-6 0-2 1-21 1 62 0 127 1-1 0-189 1 33 0-15 1 58 0-2 1 70 0-61 1-60 0 38 1-40 1 5 0-27 1 111 0-66 1 3 0 75 1-15 0-62 1-14 0-5 1 38 0-12 1 30 0-33 1 62 0 13 1-77 0 65 1-111 0 83 1 41 0 44 1-110 0 90 0-116 1 83 0-47 1 15 0-13 1-8 0 7 1 48 0-83 1-18 0 47 1-1 0-50 1 152 0-174 1 175 0-103 0-7 1 70 0-90 1 19 0-21 1-43 0 61 1-36 0 60 0-28 1-2 0 94 1-123 0 30 1-20 0 69 0-56 1-25 0 1 1 84 0-65 1 67 0 1 0-30 1-40 0-9 1 21 0 0 1 47 0-43 0 82 1-25 0-73 1 17 0-31 0 61 1-63 0 113 1-102 0-19 0 206 1 0 0-146 1 48 0-26 0-62 1 80 0-39 1-23 0-18 0 8 1 123 0-180"/>
<path d="M100 138H151l97-45 57 4 40 60 32-29 25 43 22 16 18-13 17 2 15-17 13 70 12 16 11 69 11-99 9 25 9 28 9-38 8 15 7 47 7 57 7-28 7-25 6-54 6 15 6 14 5 111 5-136 6 62 4-31 5-80 5 154 4-82 5-12 4 33 4 17 4-56 4 139 3-130 4 67 3 10 4-28 3-9 4 94 3-78 3 29 3 204 3-91 3-173 3 15 3 22 2 126 3-62 3-57 2-22 3-8 2-34 3 64 2 14 3 34 2 26 2-60 3 34 2-71 2-11 2 105 2-31 3-57 2 69 2-45 2 18 2 15 2-53 2 155 1-153 2 71 2 31 2-3 2-46 2 17 1-19 2 103 2-81 2-17 1 18 2-52 2 98 1 2 2 19 1-127 2 108 1-34 2-13 1 20 2-22 1 40 2 5 1-84 2 18 1 2 2 2 1 44 1 9 2 22 1-58 1 67 2-44 1-27 1 80 2-41 1-10 1-17 1 65 2-8 1 24 1-10 1-31 2 7 1-9 1-37 1 79 1-6 1-54 2 84 1-121 1 55 1 34 1 4 1-54 1 0 1 10 1-1 1 28 1 23 2-31 1 15 1-29 1 0 1 31 1-45 1 43 1 45 1-81 1 24 1 43 1 4 1-40 0 23 1 13 1-32 1 32 1-89 1 97 1-25 1-45 1 82 1-44 1 50 1-58 0 24 1-55 1 72 1 6 1-58 1 43 1-7 0-53 1 132 1-111 1 9 1 51 1 11 0-88 1 32 1 14 1-47 1-9 0 47 1 2 1 20 1-16 1-48 0 57 1-41 1 19 1 0 0 45 1-26 1 8 1 25 0 36 1-64 1-35 1-9 0 4 1 87 1-123 0 102 1 2 1-67 1 112 0-45 1-50 1 61 0-76 1 62 1 76 0-119 1-3 1-6 0 32 1 5 1 45 0 77 1-66 1-58 0 28 1-14 1 27 0 61 1-63 1 164 0-187 1 37 0 97 1-117 1 34 0-48 1 74 1-17 0-69 1 169 0 27 1-189 1-12 0 190 1-200 0-12 1 213 0-159 1 108 1-78 0-51 1 23 0-56 1 73 1-60 0 1 1 5 0-19 1 33 0 51 1-43 0 22 1-5 1 23 0 25 1-23 0-30 1 109 0-65 1-90 0 59 1-39 0 48 1 1 0 69 1-43 1-45 0 45 1-87 0 55 1-12 0 34 1 14 0-4 1-65 0 164 1-183 0 32 1 53 0-43 1 8 0 3 1-10 0 21 1 74 0-150 1 146 0-146 1 30 0-8 0 8 1 71 0 27 1 77 0-116 1 55 0-53 1-82 0 62 1 62 0-48 1 48 0 84 1-127 0-26 1 1 0-88 0 108 1-23 0 45 1-39 0-31 1 71 0-4 1-46 0-25 0 112 1-160 0 139 1-86 0 29 1-45 0 41 0 11 1 15 0 26 1 44 0-66 1-72 0 82 0-90 1 44 0 160 1-169 0 36 1-56 0-3 0 69 1-79 0 116 1-23 0-28 0 4 1-76 0 105 1-53 0 29 0 98 1-15 0-170 1-31 0 133 0-54 1 57 0 25 1-127 0 4 0 34 1 53 0-33"/>
<path d="M100 118H151l97 104 57 4 40-38 32 102 25-20 22-6 18-36 17-49 15-4 13-9 12 28 11 35 11 23 9 20 9-88 9 74 8-70 7 56 7-59 7 146 7-123 6 2 6 25 6 71 5-5 5 64 6 128 4-189 5 30 5-30 4 13 5 31 4-91 4 55 4 55 4-10 3-34 4 0 3-43 4 30 3-15 4 62 3 17 3 28 3-81 3 17 3 38 3 1 3-90 2 9 3-5 3 175 2-78 3 26 2-105 3-14 2 52 3 18 2-47 2 60 3-57 2 17 2 31 2-50 2 65 3-51 2 29 2-75 2 54 2 113 2-118 2 51 1-12 2 0 2 15 2-47 2 19 2-25 1 75 2-41 2 2 2 6 1-3 2-26 2-35 1 136 2-73 1 4 2 37 1-7 2-39 1 140 2-82 1 68 2-69 1 35 2-74 1 44 2-22 1 10 1-45 2 70 1 38 1 22 2-122 1 129 1-96 2 114 1-110 1 33 1-50 2 119 1-161 1 108 1-61 2 18 1-15 1-14 1 112 1-115 1 100 2-42 1-8 1 29 1-57 1-6 1-2 1-13 1 53 1-14 1 102 1-128 2 88 1-81 1 93 1-3 1-91 1 18 1 41 1-24 1 74 1-86 1 30 1-21 1-6 0 46 1-52 1 11 1 42 1-18 1 19 1-18 1-7 1 66 1 78 1-123 1-35 0 72 1-94 1 28 1 82 1 80 1-192 1 16 0 66 1 22 1-95 1 37 1 99 1-124 0 71 1-51 1 47 1 10 1-14 0 2 1-25 1-16 1 79 1-29 0-15 1-18 1 128 1-115 0-45 1 25 1 46 1-70 0 33 1 43 1 29 1-86 0 62 1 138 1-138 0 5 1 2 1 158 1 0 0-169 1-3 1-82 0 122 1-79 1 57 0-72 1-38 1 115 0-32 1 4 1-26 0 24 1-6 1-8 0 78 1-109 1-1 0 33 1 16 1-17 0-43 1 83 0 62 1 26 1-128 0-47 1 106 1-1 0 17 1-55 0-5 1-45 1 19 0 23 1 53 0-7 1-62 0 98 1 10 1-127 0-17 1 27 0-2 1 6 1 88 0-56 1 54 0-35 1 11 0-64 1 31 0-6 1-49 1 78 0-7 1-69 0 195 1-172 0 73 1-91 0 46 1 36 0 1 1-2 0-31 1-37 1 114 0-80 1-11 0 53 1-81 0 91 1 44 0-89 1-17 0 14 1 15 0-30 1-34 0 67 1 133 0-114 1 39 0 79 1-166 0-27 1 86 0-85 1 64 0 15 0-69 1 70 0-10 1-38 0 58 1 93 0-157 1 100 0 49 1-135 0 47 1-60 0-13 1-28 0 67 1-49 0 14 0-42 1-7 0 123 1-84 0 2 1 24 0-7 1-22 0-14 0 69 1-20 0 0 1-22 0 40 1-31 0 6 0-36 1 107 0-46 1-17 0 40 1-41 0 44 0-82 1 93 0-75 1-7 0 28 1-38 0 117 0-117 1 49 0 33 1-83 0 87 0-34 1-53 0 62 1-5 0-18 0 2 1-2 0 2 1 0 0-3 0-51 1 7 0 24 1 13 0 38 0-16 1-44 0 39"/>
<path d="M100 67H151l97 161 57-44 40 17 32-31 25 110 22-101 18 44 17-80 15 22 13 21 12 27 11 9 11-4 9 234 9-246 9 17 8 96 7-8 7-74 7-24 7 34 6-35 6 164 6 34 5-136 5-26 6 73 4-37 5 27 5-60 4 46 5-6 4 8 4 12 4 86 4-73 3 48 4-85 3 6 4 109 3-40 4-88 3 26 3 38 3-34 3-3 3 109 3-30 3-56 2 32 3 107 3-119 2 190 3-178 2 49 3 27 2-56 3-36 2 33 2-52 3 43 2-34 2 17 2 1 2 60 3-43 2-19 2 6 2-10 2 26 2-29 2 10 1 84 2-66 2 130 2-148 2 101 2-88 1-15 2 32 2-36 2-6 1-42 2 161 2-48 1 68 2-95 1-8 2 39 1 51 2-62 1 13 2 74 1-28 2-55 1 57 2-51 1 35 2-57 1 54 1 17 2-80 1 105 1 127 2-206 1 88 1-54 2-3 1-64 1 65 1-18 2 25 1 92 1-130 1-24 2 44 1-89 1 125 1-49 1-24 1 140 2-44 1-44 1-41 1 101 1-29 1-55 1-14 1 147 1-88 1-15 1 121 2-88 1-36 1 38 1-34 1 19 1 89 1-106 1 6 1-4 1 51 1-50 1 51 1-53 0 20 1 30 1-61 1 58 1-15 1 65 1-76 1 23 1-104 1 226 1-180 1 8 0 23 1 45 1-1 1-62 1 25 1-2 1 58 0-49 1 45 1 43 1-58 1-79 1 57 0 0 1-14 1 101 1-2 1-80 0 61 1-74 1-9 1 106 1-63 0 13 1-69 1 147 1-107 0-54 1 170 1-174 1 91 0-24 1 13 1 15 1 0 0-46 1 51 1-96 0 72 1 50 1 3 1-83 0 13 1 63 1-46 0-31 1 40 1-27 0-31 1-8 1 45 0 30 1 112 1-186 0 53 1 44 1-35 0 28 1 23 1-3 0-86 1 8 1 31 0 6 1-15 0-8 1-1 1-60 0 86 1 13 1 27 0-108 1 27 0 58 1 124 1-124 0-24 1-26 0 31 1 5 0 5 1-51 1-30 0 111 1 41 0-103 1 103 1-107 0 6 1-17 0 49 1-25 0-18 1-23 0 17 1 99 1-7 0-40 1 29 0 0 1 34 0-40 1-35 0 34 1-57 0 4 1 184 0-228 1 17 1 140 0-106 1 51 0-75 1 156 0-142 1 81 0-49 1-15 0 54 1 6 0 18 1 57 0-52 1-80 0 12 1-35 0 45 1-23 0 38 1-80 0 62 1-33 0 49 0 100 1-59 0-81 1 3 0 34 1-2 0 45 1-60 0-28 1 43 0-15 1 32 0-41 1 55 0-22 1-14 0-39 0 65 1-5 0-70 1 63 0-5 1 68 0-74 1-73 0 25 0 59 1 8 0-44 1-20 0 94 1-92 0 36 0-25 1 176 0-170 1 110 0-109 1-18 0-2 0 26 1 97 0-37 1-29 0-5 1-20 0 17 0 61 1-112 0-1 1-35 0 54 0-45 1 23 0 144 1-106 0 16 0 75 1-28 0-25 1-35 0-31 0 66 1-90 0 39 1-12 0-4 0 84 1-80 0 20"/>
<path d="M100 120H151l97 25 57-29 40 17 32 33 25-35 22 37 18 44 17 76 15-54 13-74 12-5 11 35 11 65 9-44 9 34 9 29 8 17 7 26 7 3 7-62 7-43 6 23 6 164 6-135 5 69 5-76 6-10 4 11 5-51 5 25 4 2 5 81 4 51 4-43 4-25 4 4 3-26 4 67 3-15 4 4 3 18 4-74 3 49 3-35 3 43 3-19 3 25 3-35 3 90 2-37 3-27 3 30 2-30 3-29 2 92 3-90 2 57 3-36 2 69 2-71 3 9 2 107 2-111 2-15 2 4 3 37 2-44 2 129 2-142 2 209 2-148 2-8 1 44 2 9 2-27 2 16 2 11 2-10 1-15 2-22 2-32 2 74 1-33 2 145 2-140 1-29 2 27 1 63 2-54 1 12 2-6 1-70 2 140 1-38 2-20 1-51 2 47 1 5 2 36 1-83 1 34 2 28 1-31 1 40 2-5 1-4 1-11 2 25 1-77 1 37 1 176 2-60 1 119 1-205 1 113 2-66 1 63 1-56 1-3 1 101 1-135 2-5 1 38 1-61 1 43 1-6 1 27 1-8 1 21 1-56 1 43 1-62 2 22 1 41 1-66 1 30 1 6 1-20 1 113 1-59 1-22 1 9 1 2 1 51 1-47 0 32 1-10 1-22 1-51 1 67 1-18 1-55 1 142 1-57 1-41 1 108 1-126 0 30 1 16 1-7 1 22 1 18 1-52 1 44 0 13 1-82 1 30 1 23 1 44 1-43 0 42 1-15 1-11 1 37 1 28 0-119 1-1 1 4 1 6 1 57 0-11 1-28 1 16 1-31 0 21 1 54 1-57 1-43 0 115 1 44 1-65 1 81 0 73 1-215 1 45 0-77 1 100 1-45 1 19 0-16 1 23 1-50 0 33 1-30 1 98 0-58 1-71 1 185 0-153 1 31 1-15 0-35 1 186 1-114 0 21 1-19 1-46 0 56 1-47 1 141 0-55 1-86 0 19 1-69 1 100 0-50 1 41 1-42 0-7 1 73 0-71 1-21 1 52 0-9 1-32 0 23 1 81 0-53 1-11 1 96 0-77 1 101 0-112 1-6 1 66 0-56 1 71 0 29 1-135 0 76 1-71 0 137 1-49 1-58 0 20 1-52 0 64 1 115 0-158 1 51 0 10 1 123 0-70 1-122 0 23 1-48 1 10 0 2 1-27 0 29 1 55 0-20 1 26 0 27 1-57 0 18 1 0 0-36 1 74 0-66 1 83 0-35 1 41 0 82 1-95 0-59 1 141 0-178 1 63 0 60 0-114 1 49 0-50 1-14 0-2 1 194 0-149 1 65 0-113 1 2 0 41 1-37 0 37 1 33 0 9 1 10 0-63 0 40 1-39 0-16 1-8 0 157 1-2 0-105 1-27 0 29 0-9 1 96 0-57 1-36 0-4 1-24 0-8 0-36 1 147 0-124 1 84 0-57 1 60 0 67 0-2 1-169 0 70 1-4 0 53 1-44 0 8 0 24 1-67 0 20 1-21 0 54 0-60 1 106 0-56 1 45 0-105 0 9 1 35 0-42 1-4 0 61 0 117 1-134 0 5 1 19 0 6 0-29 1 42 0-27"/>
<path d="M100 117H151l97-23 57 110 40-85 32 29 25 130 22-134 18 123 17-99 15 66 13 17 12 114 11-201 11 182 9-148 9 28 9 34 8-63 7 13 7 31 7 132 7-133 6 47 6-9 6-6 5-73 5 85 6 53 4-47 5 97 5-67 4-15 5 15 4-34 4 90 4-75 4 144 3-141 4 11 3 130 4-140 3 10 4-9 3-9 3 99 3-109 3 32 3-18 3 215 3-119 2 26 3-139 3 172 2-102 3 25 2-38 3 79 2-98 3 63 2 28 2-12 3-9 2 37 2 65 2-115 2-23 3 29 2 3 2-21 2-4 2 65 2-79 2 62 1-65 2 16 2 14 2 64 2-62 2-47 1 29 2 26 2 33 2-47 1-48 2 71 2 7 1 100 2 6 1-100 2-21 1 8 2-19 1 62 2-61 1-40 2 86 1 46 2-52 1-2 2-22 1 16 1 34 2 46 1-19 1-18 2-67 1 47 1-56 2 8 1 82 1-69 1 28 2 35 1 45 1-62 1 8 2 35 1-54 1 86 1-66 1-7 1-7 2 19 1 25 1 3 1-43 1-4 1 10 1 92 1-126 1 193 1-69 1-91 2-18 1 146 1-183 1 80 1 4 1-33 1 18 1-28 1 36 1-13 1 28 1 21 1-28 0-24 1-15 1 76 1-23 1-87 1 123 1-42 1-29 1-32 1 7 1 25 1-44 0 106 1 20 1 29 1-65 1 29 1-29 1-22 0 12 1-27 1 9 1-6 1 88 1-22 0-84 1 88 1-40 1 45 1-76 0 35 1-19 1 8 1 5 1-31 0 158 1-158 1 5 1 19 0-27 1 1 1-8 1 42 0 50 1-72 1 79 1-46 0-13 1 53 1-106 0 83 1-96 1 54 1 113 0 0 1-25 1-123 0 34 1 31 1-3 0 71 1-25 1-78 0 69 1-39 1-33 0 112 1-89 1 0 0-35 1 70 1-33 0-14 1 47 1-75 0 101 1-79 0 178 1-124 1-21 0 72 1-14 1-2 0 15 1 21 0-23 1-23 1-23 0-79 1 121 0-72 1-32 0 104 1-93 1 37 0 92 1-129 0-5 1-4 1 60 0-22 1 117 0-87 1 13 0 0 1 55 0-101 1 67 1-51 0-31 1 209 0-141 1 44 0-101 1 18 0-36 1 4 0 46 1-12 0-18 1 43 1 7 0-30 1 47 0-22 1 1 0-1 1-37 0 80 1-1 0-117 1 86 0-32 1 31 0-45 1 57 0-66 1-2 0 197 1-127 0 21 1-72 0 178 1-197 0 59 0-45 1 138 0 10 1-184 0 27 1 144 0-83 1 131 0-105 1-9 0 91 1 8 0-153 1-9 0 159 1-107 0-46 0 34 1-19 0 98 1-65 0-70 1 45 0-8 1-12 0 75 0-85 1-19 0 22 1 18 0 129 1-101 0-100 0-3 1 60 0 89 1-119 0 15 1 10 0-8 0 99 1 7 0-58 1-48 0 47 1-39 0 10 0 119 1-122 0 17 1-49 0 69 0-2 1-12 0-37 1 12 0 79 0-47 1-39 0 22 1 25 0-72 0 107 1-45 0-78 1 94 0 106 0-136 1 7 0-48"/>
<path d="M100 70H151l97 138 57 34 40-120 32 18 25 35 22 53 18-39 17 36 15-67 13 33 12 2 11-16 11 72 9 30 9-44 9 138 8-145 7 12 7-45 7 101 7-15 6-36 6 49 6 4 5-20 5 26 6-87 4 51 5-29 5 100 4-44 5 25 4-55 4 19 4 41 4-62 3-23 4 38 3 44 4 10 3-44 4 9 3 29 3 37 3-88 3 10 3 88 3-65 3 153 2-121 3-18 3-14 2 60 3 0 2-27 3 26 2 2 3-86 2 101 2 90 3-152 2-1 2 11 2-30 2 39 3 12 2-42 2 77 2-28 2 18 2-63 2 23 1 53 2 93 2-128 2 26 2 27 2 18 1-32 2 61 2-55 2-38 1 35 2-15 2-36 1-8 2 17 1 37 2-35 1 44 2-50 1 192 2-112 1 53 2-104 1 117 2-106 1-16 2-3 1 27 1 48 2-37 1 16 1-18 2 45 1 77 1-123 2-9 1-27 1 93 1-49 2-1 1 27 1-38 1 67 2-68 1 63 1-21 1-22 1 53 1-33 2-46 1 86 1-51 1 56 1 7 1 7 1-32 1-55 1 29 1 65 1-115 2 64 1 90 1-67 1-73 1 58 1 112 1-99 1-43 1 8 1-1 1-24 1 102 1-52 0-70 1 14 1 74 1-46 1 80 1-12 1-77 1 77 1 20 1-18 1-44 1 1 0-10 1-13 1-2 1 59 1-43 1 51 1 36 0-72 1 6 1 98 1-136 1 223 1-134 0-25 1 16 1-45 1 43 1 24 0 63 1-111 1-49 1 57 1 25 0 1 1-64 1-16 1 40 0 80 1-68 1 10 1-72 0 117 1-40 1 3 1-39 0 33 1-11 1-54 0 87 1-83 1 72 1-53 0-24 1 78 1 9 0 22 1-108 1 57 0 5 1 55 1 17 0-97 1 60 1 20 0-15 1 14 1-75 0-19 1 71 1-46 0 3 1 53 1-61 0-4 1 30 0 34 1-57 1 91 0-10 1-21 1 28 0-87 1 70 0 48 1-20 1-80 0-27 1 163 0-160 1-18 0 51 1 0 1 9 0-15 1 13 0 64 1-111 1 51 0-6 1-30 0 35 1 51 0-26 1-33 0 68 1 65 1-69 0-27 1-13 0-2 1-77 0 62 1-68 0 60 1-8 0 83 1-97 0 2 1 80 1-83 0 33 1-18 0 112 1-35 0-92 1-11 0 66 1 27 0-36 1 39 0-54 1 153 0-158 1 55 0-35 1 35 0-13 1 32 0-28 1-18 0 26 1-46 0 52 0-120 1 239 0-108 1-68 0 37 1-51 0 73 1-92 0 28 1-27 0 70 1 138 0-86 1-50 0-34 1 4 0-7 0 45 1-66 0 0 1-15 0-25 1 104 0-62 1-19 0 90 0-12 1-17 0 129 1-130 0-37 1-6 0 34 0-48 1 8 0 98 1-36 0-2 1-2 0 14 0-80 1 147 0-132 1 2 0 131 1 10 0-158 0 67 1-42 0 88 1-63 0 36 0 62 1-132 0 58 1-56 0 76 0 19 1-109 0 4 1 59 0 63 0 64 1-102 0-73 1 133 0-98 0-42 1 53 0-61"/>
<path d="M100 151H151l97-17 57-19 40 1 32 124 25-35 22 14 18-7 17-30 15 224 13-235 12 47 11 26 11-10 9 68 9-1 9-44 8-25 7-2 7 33 7 142 7-192 6 16 6 22 6-34 5 32 5 258 6-152 4-94 5 176 5-126 4-63 5 57 4-29 4 48 4-46 4 126 3-120 4-3 3-11 4 68 3-50 4 1 3 33 3-32 3 8 3 41 3-45 3 93 3-85 2 27 3-60 3 119 2-70 3 26 2-90 3 122 2-19 3-43 2 17 2 265 3-242 2 1 2-8 2-36 2 38 3 60 2-77 2 147 2-34 2-68 2-60 2 52 1-14 2 244 2-234 2-26 2 88 2-74 1 30 2-24 2 37 2-12 1 94 2-42 2 57 1-125 2-16 1 1 2 88 1 57 2-128 1 8 2 62 1-60 2 4 1 21 2 72 1-97 2 37 1 97 1-84 2 28 1 3 1-12 2-33 1 58 1-23 2-46 1 16 1 95 1-105 2 58 1-104 1 71 1 6 2 6 1-57 1 50 1 2 1 7 1-24 2 80 1-73 1-23 1 197 1-165 1 43 1 53 1-52 1-103 1 84 1 34 2-17 1-7 1-28 1 52 1-16 1-39 1 10 1-18 1 57 1-68 1 3 1 98 1-49 0 8 1-71 1 31 1 23 1 6 1-12 1 32 1 30 1-8 1-45 1-2 1-25 0 32 1-41 1 75 1-22 1 19 1-13 1-22 0 85 1-108 1 57 1-34 1 13 1-31 0 34 1-9 1 39 1 87 1-53 0-58 1-32 1 53 1-5 1-6 0 3 1 42 1-57 1 61 0-72 1-32 1 31 1 9 0 7 1-32 1 46 1 116 0-183 1 65 1 70 0-34 1 39 1-32 1 16 0-9 1-53 1-10 0 34 1 16 1-74 0 50 1 10 1-28 0 37 1-52 1-6 0 28 1-27 1 37 0-42 1 45 1-52 0 9 1 44 1-4 0 1 1-26 0 41 1-48 1 205 0-222 1 61 1-13 0-66 1 113 0-65 1 34 1-41 0 33 1 88 0-85 1 37 0-2 1-31 1 63 0-20 1-43 0-55 1 129 1-38 0-19 1-67 0 23 1 113 0-116 1-7 0-30 1 24 1-1 0 45 1-34 0 114 1-77 0-22 1-20 0 57 1 8 0-54 1-14 0 76 1-3 1-36 0 16 1-62 0 6 1 22 0 23 1-28 0 30 1 33 0-15 1 5 0 22 1-96 0 151 1-93 0-9 1-24 0 54 1 32 0-86 1 8 0-37 1 152 0-24 0-61 1 2 0-36 1 42 0-35 1 181 0-160 1-43 0 134 1-97 0 33 1-86 0 12 1-1 0 11 1 140 0-33 0-104 1-7 0 140 1-137 0 7 1-21 0 21 1 87 0-80 0 103 1-63 0-23 1-27 0 32 1-29 0-1 0 38 1 74 0-9 1-36 0-54 1 21 0 46 0-65 1 4 0 29 1-2 0-33 1-21 0 22 0 58 1-129 0 24 1 221 0-134 0 31 1-5 0-103 1 26 0 4 0 31 1-35 0 104 1-27 0-48 0 9 1-3 0-23 1 46 0-83 0 87 1-68 0 136"/>
<path d="M100 34H151l97 248 57-176 40 55 32 129 25 96 22-226 18 114 17 25 15-78 13 15 12 16 11 7 11 11 9-18 9 87 9 11 8-83 7-41 7 119 7 55 7-151 6 38 6-63 6 177 5-145 5 179 6-155 4 47 5-7 5-81 4 75 5 10 4 37 4-85 4 26 4 178 3-213 4 38 3 9 4 137 3-146 4 66 3-54 3 25 3 29 3 93 3-216 3 148 3-52 2 4 3 133 3-147 2 165 3-152 2-29 3-8 2 87 3-99 2 40 2-1 3 9 2 30 2-80 2 65 2 9 3 46 2-59 2 24 2-25 2 24 2-25 2 13 1-2 2-55 2 51 2-7 2 7 2-17 1 110 2-40 2 39 2 17 1-54 2 11 2-43 1-2 2-7 1-3 2 14 1 56 2-1 1 41 2-106 1 58 2-19 1-50 2 19 1 44 2 7 1-10 1 62 2-4 1-80 1 132 2-186 1 12 1 122 2 33 1-135 1 55 1-83 2 85 1-13 1 18 1-32 2 5 1 28 1-45 1 49 1 66 1-54 2 18 1-100 1 45 1 68 1-72 1 12 1-34 1 38 1 48 1-28 1 89 2-109 1 43 1-61 1 19 1 40 1 86 1-157 1 239 1-170 1-74 1 91 1-75 1 39 0 87 1-108 1 31 1 87 1-138 1 34 1-2 1-44 1 4 1 79 1-51 1 16 0 103 1 42 1-90 1 8 1 0 1 6 1-109 0 17 1 86 1-21 1-12 1 48 1-112 0 30 1 29 1 0 1 21 1-13 0-29 1 33 1-17 1 16 1 53 0-60 1 48 1-108 1 110 0-31 1 34 1-3 1-28 0 51 1 111 1-29 1-81 0-86 1 60 1 162 0-185 1-7 1 12 1-22 0-30 1 94 1-62 0 88 1 15 1-114 0 5 1 54 1 38 0 14 1-80 1 14 0-17 1 10 1 49 0-67 1 30 1-21 0-20 1 7 1 3 0 72 1-129 0 54 1 33 1 4 0-57 1 64 1-51 0 59 1 26 0 46 1-156 1 45 0 88 1-31 0-25 1 35 0-37 1 7 1 22 0-58 1 98 0-82 1 56 1-56 0 57 1-14 0-37 1-26 0-4 1 20 0 42 1-23 1-40 0 40 1 49 0-15 1-44 0-11 1 78 0-102 1 9 0 67 1 36 0-26 1-21 1-69 0 20 1 31 0-6 1 8 0-17 1 10 0 40 1-37 0-11 1-2 0-8 1 22 0-40 1 111 0-98 1 26 0 32 1 103 0-140 1 112 0-46 1-34 0 15 0 28 1-27 0-79 1 59 0-41 1 23 0-59 1 153 0-104 1 19 0 36 1-79 0 9 1-5 0 71 1-78 0 86 0-32 1 95 0-142 1 47 0-38 1 9 0 129 1-33 0-20 0-44 1-19 0-32 1-32 0 48 1 22 0-63 0 107 1-58 0 84 1 83 0-69 1-5 0-130 0-5 1 98 0-69 1 71 0-51 1 22 0-54 0 66 1-8 0-18 1-23 0 106 0-73 1-80 0 72 1-31 0 18 0-26 1 53 0 12 1-45 0-40 0 197 1-184 0 15 1-19 0 177 0-105 1 7 0-26"/>
<path d="M100 132H151l97-25 57 15 40 55 32-4 25 25 22 9 18-37 17 78 15-66 13 68 12-67 11 36 11-40 9 113 9-75 9 28 8 91 7-92 7-8 7 6 7 84 6-52 6 5 6 134 5 123 5-173 6-144 4 1 5 47 5 112 4-90 5 112 4-153 4 32 4 4 4 157 3 5 4-172 3 157 4-114 3-59 4 80 3-88 3 33 3 80 3-51 3 67 3-1 3-44 2 13 3-43 3 26 2 62 3-70 2 12 3 23 2 32 3-74 2-12 2 53 3 97 2-105 2 74 2 18 2-120 3 38 2 61 2-65 2 71 2-90 2 85 2-95 1 84 2-10 2-38 2 59 2-101 2 31 1 40 2-54 2 47 2 3 1-47 2 15 2 160 1-60 2-82 1 40 2-31 1 60 2-27 1-55 2 73 1 80 2-70 1-69 2 60 1 27 2-67 1 31 1-53 2 54 1-42 1-8 2 113 1-49 1-37 2 58 1-91 1 91 1-62 2 65 1-66 1 44 1-35 2 50 1-99 1 143 1 14 1-88 1 125 2-113 1 32 1 22 1 55 1-96 1-4 1 14 1-32 1 47 1-29 1 6 2 73 1-51 1 12 1 8 1 27 1-13 1-50 1-4 1-40 1 44 1 4 1 12 1-54 0 2 1 62 1-44 1 40 1-21 1 126 1-147 1 95 1-52 1-38 1 56 1 2 0 44 1-126 1 147 1-108 1 43 1 55 1-30 0-11 1 47 1-101 1 106 1 22 1-48 0-69 1 99 1-71 1-76 1 78 0 75 1-55 1-101 1 14 1 1 0 65 1-11 1 23 1-65 0 32 1 37 1-31 1 23 0-43 1 56 1-19 1-23 0 56 1-59 1 37 0-35 1 91 1 7 1-67 0-5 1 108 1-75 0-23 1 16 1-38 0 130 1-2 1-35 0-89 1 6 1 91 0-80 1-48 1-7 0 117 1-71 1 22 0-15 1 28 1-64 0 44 1-27 0-4 1 1 1 71 0 42 1-56 1 45 0 11 1-2 0-115 1 35 1 91 0-92 1 67 0-121 1 85 0-14 1 26 1-46 0 58 1-57 0 24 1-46 1 12 0-41 1 40 0 12 1 37 0-77 1 90 0-38 1 34 1 16 0 14 1-28 0 19 1-50 0 161 1-139 0-62 1 156 0 46 1-195 0 67 1-29 1 11 0-11 1-27 0 40 1-5 0-67 1 55 0 63 1-60 0-42 1 39 0-67 1 47 0-12 1 7 0 125 1-75 0 16 1-66 0 63 1-72 0 82 1 5 0-51 0 35 1-18 0-14 1 45 0 9 1 38 0-143 1 70 0-50 1 3 0-29 1 107 0-90 1-2 0 27 1 27 0 0 0 1 1-22 0-48 1 53 0 124 1-38 0-91 1 64 0-81 0-39 1 52 0-3 1-32 0 98 1-101 0 17 0 72 1 43 0-77 1 20 0-26 1-10 0-4 0 44 1-68 0 5 1 97 0-55 1-18 0 36 0-54 1 101 0 42 1-143 0 28 0-6 1-35 0-16 1 139 0-62 0 111 1-143 0-12 1-2 0 77 0-92 1-13 0 116 1-59 0-85 0 110 1 10 0-32"/>
</g>
<path d="M100 107.7H151.4L151.4 107.7 248.4 114.5 305.1 138.8 345.3 141.3 376.5 156 402 178.8 423.6 180.5 442.3 186 458.8 192.5 473.5 189 486.8 199.4 499 205.6 510.2 221.8 520.6 233 530.2 230 539.2 228.7 547.7 241.8 555.7 242.2 563.3 245.1 570.5 238.3 577.3 241.8 583.8 250.4 590 252.5 596 261.5 601.7 263.2 607.2 260.4 612.4 271.1 617.5 262.2 622.4 272.6 627.2 270.6 631.8 271.1 636.2 275.8 640.5 280.5 644.7 292 648.7 289.5 652.7 296 656.5 288 660.2 292 663.9 294.4 667.4 300.7 670.9 308.7 674.2 301.7 677.5 297.9 680.8 309.2 683.9 318.6 687 315.5 690 318 692.9 318.8 695.8 317.8 698.6 321.6 701.4 327.1 704.1 325.4 706.8 330.5 709.4 331.9 712 335.2 714.5 339.9 717 336.3 719.4 333.1 721.8 339.8 724.1 342.1 726.5 347.4 728.7 342.6 731 341.2 733.2 341.7 735.3 348.6 737.5 347.5 739.6 353.4 741.7 356.2 743.7 353.3 745.7 356.8 747.7 356.7 749.6 360.6 751.6 355.8 753.5 359.4 755.4 369.8 757.2 361 759 364.3 760.8 371.6 762.6 368.2 764.4 371.7 766.1 371.9 767.8 381.7 769.5 378 771.2 385.5 772.9 382.5 774.5 377.8 776.1 385.4 777.7 380.3 779.3 391.4 780.9 382.1 782.4 394.8 783.9 394.6 785.4 399.4 786.9 397.3 788.4 398.2 789.9 397.4 791.3 398 792.8 399.1 794.2 401.9 795.6 403.6 797 413.8 798.4 408.6 799.7 405.5 801.1 414.5 802.4 411.6 803.8 410.1 805.1 414.3 806.4 413 807.7 418.6 808.9 417.2 810.2 423.5 811.5 417.1 812.7 423.6 813.9 419.8 815.2 432.1 816.4 423.3 817.6 435.5 818.8 429.3 819.9 435.1 821.1 430.2 822.3 433.3 823.4 440.6 824.6 432.5 825.7 440.5 826.8 434.3 827.9 448.4 829 446.2 830.1 437.5 831.2 443.8 832.3 450.1 833.4 455.5 834.4 448.7 835.5 443.7 836.5 455.6 837.6 449.5 838.6 453.2 839.6 452.6 840.7 450.3 841.7 448.4 842.7 462.6 843.7 458.6 844.7 459.2 845.6 458 846.6 462.3 847.6 458.2 848.5 458.9 849.5 459 850.4 459.7 851.4 466.7 852.3 461.3 853.2 474.1 854.2 468 855.1 467.7 856 469.4 856.9 476.6 857.8 464 858.7 473 859.6 480 860.5 478.5 861.3 476.7 862.2 475.1 863.1 485.4 863.9 476.7 864.8 485.7 865.7 477 866.5 476.1 867.3 482.6 868.2 482.2 869 476.5 869.8 485.8 870.6 495.4 871.5 487.6 872.3 490.7 873.1 490.3 873.9 491.4 874.7 490.9 875.5 498 876.3 491.1 877 502.8 877.8 493.6 878.6 506.2 879.4 488.2 880.1 506.8 880.9 490.3 881.7 512.7 882.4 500.2 883.2 518.4 883.9 494.8 884.6 528 885.4 499.8 886.1 523.1 886.9 499.7 887.6 532.4 888.3 502.2 889 531 889.7 500.9 890.4 534.1 891.2 497.1 891.9 539.8 892.6 496.3 893.3 539.7 894 507 894.6 544.1 895.3 504.8 896 545.4 896.7 506.7 897.4 550.3 898 509 898.7 550.4 899.4 506.5 900.1 549.6 900.7 508.2 901.4 555.1 902 513.5 902.7 554.3 903.3 514.7 904 556.1 904.6 512.7 905.3 559.4 905.9 515.2 906.5 566.5 907.2 511.7 907.8 564.3 908.4 513.9 909 565.5 909.7 514.8 910.3 559.9 910.9 523.3 911.5 565.7 912.1 524.2 912.7 565 913.3 517.7 913.9 571.7 914.5 519 915.1 569.2 915.7 518.9 916.3 569.3 916.9 515.8 917.5 569.8 918.1 522.3 918.6 574.5 919.2 526.2 919.8 572.5 920.4 524.3 921 573.6 921.5 530.8 922.1 572.6 922.7 527.7 923.2 575.9 923.8 522.5 924.3 578 924.9 529.9 925.4 578.2 926 524.1 926.5 579.8 927.1 529.7 927.6 577.8 928.2 531.1 928.7 575.3 929.3 525.8 929.8 579.5 930.3 529.8 930.9 583.7 931.4 533 931.9 579.9 932.5 533.8 933 587 933.5 533.9 934 583.2 934.5 531.5 935.1 582 935.6 527.6 936.1 582.9 936.6 529.5 937.1 586.2 937.6 534.2 938.1 587.4 938.6 535.3 939.1 588.4 939.6 533.6 940.1 586.9 940.6 536.4 941.1 592.3 941.6 530.7 942.1 586.3 942.6 534.6 943.1 587.2 943.6 533.8 944.1 590.5 944.5 533.3 945 593.2 945.5 537.1 946 593.8 946.5 536.6 946.9 594.8 947.4 528 947.9 595.8 948.3 533.2 948.8 600.2 949.3 533.9 949.7 596.5 950.2 532 950.7 593.7 951.1 536.3 951.6 598.5 952.1 539.7 952.5 600.6 953 539 953.4 604.3 953.9 532.2 954.3 604 954.8 534 955.2 601.5 955.7 535.8 956.1 602.9 956.5 538.2 957 602.1 957.4 535.1 957.9 596.2 958.3 536.4 958.7 600.7 959.2 536.4 959.6 602.1 960 541 960.5 603.4 960.9 537.5 961.3 599.5 961.8 533.5 962.2 604.4 962.6 538.1 963 600.9 963.5 532.9 963.9 600 964.3 538.1 964.7 601.8 965.1 535.6 965.5 601.2 966 536.1 966.4 599.9 966.8 540 967.2 602.5 967.6 537.5 968 599.7 968.4 540 968.8 597.6 969.2 537.4 969.6 598.2 970 532 970.4 599.6 970.8 532.1 971.2 599.9 971.6 533.6 972 600.6 972.4 535.7 972.8 597 973.2 535.8 973.6 598.7 974 540.2 974.4 603.7 974.8 538.7 975.2 602.5" stroke="#f00" stroke-width="6.3" stroke-linecap="square"/>
<path d="M200 130.5 296.9 131 353.6 155.8 393.9 156.3 425.1 164.5 450.6 177.5 472.2 183 473.6 183.6 475.4 184.4 477.5 185.3 479.9 186.4 482.5 187.5 485.2 188.7 488 189.9 490.8 191 493.7 192.1 496.7 193.3 499.9 194.5 503.2 195.7 506.6 196.9 509.9 198.2 513.2 199.5 516.5 200.8 519.7 202.1 522.9 203.5 526.1 204.9 529.3 206.4 532.4 207.8 535.6 209.3 538.8 210.8 542 212.3 545.2 213.8 548.4 215.4 551.6 217.1 554.8 218.7 557.9 220.4 561.1 222 564.3 223.5 567.5 225 570.7 226.4 573.9 227.7 577.1 229 580.3 230.3 583.4 231.5 586.6 232.7 589.8 233.9 593 235.2 596.2 236.4 599.4 237.7 602.5 238.9 605.7 240.1 608.9 241.3 612 242.6 615.2 243.9 618.4 245.4 621.6 247 624.8 248.7 628 250.4 631.1 252.2 634.3 254.1 637.5 255.9 640.7 257.7 643.9 259.4 647.1 261.1 650.4 262.7 653.7 264.3 657 265.9 660.2 267.5 663.4 269.1 666.4 270.6 669.4 272.2 672.1 273.7 674.7 275.2 677.1 276.6 679.5 278.1 681.8 279.6 684.3 281.1 687 282.7 690 284.4 693.3 286.2 696.7 288.1 700.4 290 704.2 292 708 294.1 711.8 296.2 715.7 298.4 719.4 300.6 723.1 302.9 726.8 305.2 730.4 307.7 734.1 310.1 737.8 312.6 741.4 315.2 745.1 317.7 748.8 320.3 752.5 322.9 756.1 325.4 759.8 328 763.5 330.6 767.2 333.3 770.9 336 774.5 338.9 778.2 341.8 781.9 344.8 785.5 348 789.2 351.2 792.9 354.5 796.6 357.9 800.2 361.3 803.9 364.7 807.6 368.2 811.3 371.7 815 375.2 818.7 378.7 822.4 382.3 826 386 829.7 389.8 833.4 393.6 837.1 397.6 840.9 401.9 844.8 406.5 848.8 411.2 852.7 416.1 856.6 420.8 860.2 425.3 863.5 429.4 866.5 432.9 869 435.8 871.2 438.2 873.1 440.2 874.8 442 876.3 443.7 877.9 445.3 879.5 447.1 881.2 449.1 882.9 451.2 884.5 453.2 886.1 455.2 887.6 457.3 889.3 459.5 891.2 462 893.4 464.9 895.9 468.2 898.9 472.2 902.4 476.8 906.2 481.8 910.2 487.1 914.3 492.4 918.2 497.5 921.9 502.3 925.3 506.5 928.3 510.2 931.2 513.6 933.9 516.8 936.5 519.7 939 522.5 941.4 525.1 943.7 527.6 945.9 530 948 532.3 950 534.3 951.8 536.2 953.6 538 955.3 539.7 957 541.4 958.8 543 960.6 544.7 962.6 546.5 964.7 548.3 966.8 550.2 969 552 971 553.7 972.8 555.2 974.3 556.5 975.5 557.5" stroke="#1f77b4" stroke-width="6.3" stroke-linecap="square"/>
<path d="M100 19.01H151.4L151.4 19 248.4 19 305.1 19 345.3 19.1 376.5 19.1 402 19.1 423.6 19.2 442.3 19.2 458.8 19.3 473.5 19.4 486.8 19.5 499 19.5 510.2 19.6 520.6 19.7 530.2 19.9 539.2 20 547.7 20.1 555.7 20.2 563.3 20.4 570.5 20.5 577.3 20.7 583.8 20.8 590 21 596 21.2 601.7 21.4 607.2 21.6 612.4 21.8 617.5 22 622.4 22.2 627.2 22.4 631.8 22.6 636.2 22.9 640.5 23.1 644.7 23.4 648.7 23.7 652.7 23.9 656.5 24.2 660.2 24.5 663.9 24.8 667.4 25.1 670.9 25.4 674.2 25.7 677.5 26.1 680.8 26.4 683.9 26.8 687 27.1 690 27.5 692.9 27.9 695.8 28.2 698.6 28.6 701.4 29 704.1 29.4 706.8 29.8 709.4 30.3 712 30.7 714.5 31.2 717 31.6 719.4 32.1 721.8 32.5 724.1 33 726.5 33.5 728.7 34 731 34.5 733.2 35 735.3 35.6 737.5 36.1 739.6 36.6 741.7 37.2 743.7 37.8 745.7 38.3 747.7 38.9 749.6 39.5 751.6 40.1 753.5 40.7 755.4 41.4 757.2 42 759 42.7 760.8 43.3 762.6 44 764.4 44.7 766.1 45.4 767.8 46.1 769.5 46.8 771.2 47.5 772.9 48.3 774.5 49 776.1 49.8 777.7 50.6 779.3 51.3 780.9 52.1 782.4 53 783.9 53.8 785.4 54.6 786.9 55.5 788.4 56.3 789.9 57.2 791.3 58.1 792.8 59 794.2 59.9 795.6 60.9 797 61.8 798.4 62.8 799.7 63.8 801.1 64.8 802.4 65.8 803.8 66.8 805.1 67.9 806.4 68.9 807.7 70 808.9 71.1 810.2 72.2 811.5 73.4 812.7 74.5 813.9 75.7 815.2 76.9 816.4 78.1 817.6 79.3 818.8 80.6 819.9 81.8 821.1 83.1 822.3 84.4 823.4 85.8 824.6 87.1 825.7 88.5 826.8 89.9 827.9 91.3 829 92.8 830.1 94.3 831.2 95.8 832.3 97.3 833.4 98.9 834.4 100.5 835.5 102.1 836.5 103.8 837.6 105.5 838.6 107.2 839.6 109 840.7 110.8 841.7 112.6 842.7 114.5 843.7 116.4 844.7 118.3 845.6 120.3 846.6 122.4 847.6 124.5 848.5 126.6 849.5 128.8 850.4 131 851.4 133.3 852.3 135.7 853.2 138.1 854.2 140.6 855.1 143.2 856 145.8 856.9 148.5 857.8 151.3 858.7 154.2 859.6 157.1 860.5 160.2 861.3 163.3 862.2 166.6 863.1 170 863.9 173.5 864.8 177.2 865.7 181 866.5 185 867.3 189.2 868.2 193.5 869 198.1 869.8 202.9 870.6 208 871.5 213.4 872.3 219.1 873.1 225.3 873.9 231.9 874.7 239 875.5 246.7 876.3 255.2 877 264.6 877.8 275.1 878.6 287.2 879.4 301.2 880.1 318 880.9 339.1 881.7 367.4 882.4 411.1 883.2 512 883.5 685.2 883.9 479.9 884.6 401.7 885.4 363.2 886.1 337.5 886.9 318.3 887.6 303 888.3 290.3 889 279.4 889.7 270 890.4 261.6 891.2 254.2 891.9 247.4 892.6 241.3 893.3 235.7 894 230.5 894.6 225.7 895.3 221.2 896 217 896.7 213.1 897.4 209.5 898 206 898.7 202.8 899.4 199.7 900.1 196.8 900.7 194 901.4 191.4 902 188.9 902.7 186.5 903.3 184.2 904 182.1 904.6 180 905.3 178 905.9 176.1 906.5 174.3 907.2 172.6 907.8 171 908.4 169.4 909 167.9 909.7 166.4 910.3 165 910.9 163.7 911.5 162.4 912.1 161.2 912.7 160 913.3 158.9 913.9 157.8 914.5 156.7 915.1 155.7 915.7 154.8 916.3 153.9 916.9 153 917.5 152.2 918.1 151.4 918.6 150.6 919.2 149.9 919.8 149.2 920.4 148.6 921 148 921.5 147.4 922.1 146.8 922.7 146.3 923.2 145.8 923.8 145.3 924.3 144.9 924.9 144.5 925.4 144.1 926 143.8 926.5 143.4 927.1 143.1 927.6 142.9 928.2 142.6 928.7 142.4 929.3 142.2 929.8 142 930.3 141.9 930.9 141.7 931.4 141.6 931.9 141.5 932.5 141.5 933 141.4 933.5 141.4 934 141.4 934.5 141.5 935.1 141.5 935.6 141.6 936.1 141.7 936.6 141.8 937.1 142 937.6 142.1 938.1 142.3 938.6 142.5 939.1 142.8 939.6 143 940.1 143.3 940.6 143.6 941.1 143.9 941.6 144.2 942.1 144.6 942.6 145 943.1 145.4 943.6 145.8 944.1 146.2 944.5 146.7 945 147.2 945.5 147.7 946 148.2 946.5 148.8 946.9 149.4 947.4 150 947.9 150.6 948.3 151.3 948.8 151.9 949.3 152.6 949.7 153.3 950.2 154.1 950.7 154.9 951.1 155.7 951.6 156.5 952.1 157.3 952.5 158.2 953 159.1 953.4 160 953.9 161 954.3 161.9 954.8 163 955.2 164 955.7 165.1 956.1 166.2 956.5 167.3 957 168.4 957.4 169.6 957.9 170.9 958.3 172.1 958.7 173.4 959.2 174.7 959.6 176.1 960 177.5 960.5 179 960.9 180.5 961.3 182 961.8 183.5 962.2 185.2 962.6 186.8 963 188.5 963.5 190.3 963.9 192.1 964.3 194 964.7 195.9 965.1 197.8 965.5 199.9 966 202 966.4 204.1 966.8 206.4 967.2 208.7 967.6 211.1 968 213.6 968.4 216.1 968.8 218.8 969.2 221.5 969.6 224.3 970 227.3 970.4 230.4 970.8 233.6 971.2 236.9 971.6 240.4 972 244.1 972.4 247.9 972.8 251.9 973.2 256.2 973.6 260.6 974 265.4 974.4 270.4 974.8 275.7 975.2 281.5" stroke="#ff7f0e" stroke-width="6.2" stroke-dasharray="22.65 9.6" stroke-dashoffset="17.35"/>
<path d="M358.8 60.7 378.6 69.2 396 76.7 411.5 83.4 425.4 89.3 438.1 94.8 449.7 99.8 460.4 104.4 470.3 108.7 479.6 112.7 488.4 116.4 496.6 119.9 504.3 123.3 511.6 126.4 518.6 129.4 525.3 132.3 531.6 135 537.7 137.6 543.5 140.1 549.1 142.5 554.5 144.8 559.6 147 564.6 149.2 569.4 151.3 574.1 153.3 578.6 155.2 582.9 157.1 587.2 158.9 591.3 160.7 595.3 162.4 599.2 164 602.9 165.7 606.6 167.3 610.2 168.8 613.7 170.3 617.1 171.8 620.4 173.2 623.7 174.6 626.8 175.9 629.9 177.3 633 178.6 636 179.9 638.9 181.1 641.7 182.3 644.5 183.5 647.3 184.7 649.9 185.9 652.6 187 655.2 188.1 657.7 189.2 660.2 190.3 662.7 191.3 665.1 192.4 667.4 193.4 669.8 194.4 672.1 195.4 674.3 196.4 676.5 197.3 678.7 198.2 680.9 199.2" stroke="#00bfbf" stroke-width="6.2" stroke-dasharray="22.65 9.6"/>
</g>
<path d="M103.1 600.72H110.3 M103.1 508.4H110.3 M103.1 416.08H110.3 M103.1 323.76H110.3 M103.1 231.44H110.3 M103.1 139.12H110.3 M103.1 46.8H110.3 M261.8 665.23V672.43 M583.9 665.23V672.43 M906 665.23V672.43" stroke="#000" stroke-width="1.7" fill="none"/>
<path d="M106.1 665.25H110.3 M106.1 648.99H110.3 M106.1 637.46H110.3 M106.1 628.51H110.3 M106.1 621.2H110.3 M106.1 615.02H110.3 M106.1 609.66H110.3 M106.1 604.94H110.3 M106.1 572.93H110.3 M106.1 556.67H110.3 M106.1 545.14H110.3 M106.1 536.19H110.3 M106.1 528.88H110.3 M106.1 522.7H110.3 M106.1 517.34H110.3 M106.1 512.62H110.3 M106.1 480.61H110.3 M106.1 464.35H110.3 M106.1 452.82H110.3 M106.1 443.87H110.3 M106.1 436.56H110.3 M106.1 430.38H110.3 M106.1 425.02H110.3 M106.1 420.3H110.3 M106.1 388.29H110.3 M106.1 372.03H110.3 M106.1 360.5H110.3 M106.1 351.55H110.3 M106.1 344.24H110.3 M106.1 338.06H110.3 M106.1 332.7H110.3 M106.1 327.98H110.3 M106.1 295.97H110.3 M106.1 279.71H110.3 M106.1 268.18H110.3 M106.1 259.23H110.3 M106.1 251.92H110.3 M106.1 245.74H110.3 M106.1 240.38H110.3 M106.1 235.66H110.3 M106.1 203.65H110.3 M106.1 187.39H110.3 M106.1 175.86H110.3 M106.1 166.91H110.3 M106.1 159.6H110.3 M106.1 153.42H110.3 M106.1 148.06H110.3 M106.1 143.34H110.3 M106.1 111.33H110.3 M106.1 95.07H110.3 M106.1 83.54H110.3 M106.1 74.59H110.3 M106.1 67.28H110.3 M106.1 61.1H110.3 M106.1 55.74H110.3 M106.1 51.02H110.3 M106.1 19.01H110.3 M106.1 2.75H110.3 M133.62 665.23V669.43 M164.84 665.23V669.43 M190.34 665.23V669.43 M211.91 665.23V669.43 M230.59 665.23V669.43 M247.06 665.23V669.43 M358.76 665.23V669.43 M415.48 665.23V669.43 M455.72 665.23V669.43 M486.94 665.23V669.43 M512.44 665.23V669.43 M534.01 665.23V669.43 M552.69 665.23V669.43 M569.16 665.23V669.43 M680.86 665.23V669.43 M737.58 665.23V669.43 M777.82 665.23V669.43 M809.04 665.23V669.43 M834.54 665.23V669.43 M856.11 665.23V669.43 M874.79 665.23V669.43 M891.26 665.23V669.43 M1002.96 665.23V669.43" stroke="#000" stroke-width="1.3" fill="none"/>
<rect x="110.3" y="2.75" width="906.3" height="662.48" fill="none" stroke="#000" stroke-width="1.7"/>
<text transform="matrix(0.2307 0 0 0.2180 47.24 54.7)" style="font-size:100px;" fill="#000">10</text>
<text transform="matrix(0.1708 0 0 0.1540 74.26 48.8)" style="font-size:100px;" fill="#000">−</text>
<text transform="matrix(0.1617 0 0 0.1540 85.6 47.1)" style="font-size:100px;" fill="#000">1</text>
<text transform="matrix(0.2307 0 0 0.2180 47.24 147.02)" style="font-size:100px;" fill="#000">10</text>
<text transform="matrix(0.1708 0 0 0.1540 74.26 141.12)" style="font-size:100px;" fill="#000">−</text>
<text transform="matrix(0.1617 0 0 0.1540 85.62 139.42)" style="font-size:100px;" fill="#000">2</text>
<text transform="matrix(0.2307 0 0 0.2180 47.24 239.34)" style="font-size:100px;" fill="#000">10</text>
<text transform="matrix(0.1708 0 0 0.1540 74.26 233.44)" style="font-size:100px;" fill="#000">−</text>
<text transform="matrix(0.1617 0 0 0.1540 85.52 231.74)" style="font-size:100px;" fill="#000">3</text>
<text transform="matrix(0.2307 0 0 0.2180 47.24 331.66)" style="font-size:100px;" fill="#000">10</text>
<text transform="matrix(0.1708 0 0 0.1540 74.26 325.76)" style="font-size:100px;" fill="#000">−</text>
<text transform="matrix(0.1617 0 0 0.1540 85.28 324.06)" style="font-size:100px;" fill="#000">4</text>
<text transform="matrix(0.2307 0 0 0.2180 47.24 423.98)" style="font-size:100px;" fill="#000">10</text>
<text transform="matrix(0.1708 0 0 0.1540 74.26 418.08)" style="font-size:100px;" fill="#000">−</text>
<text transform="matrix(0.1617 0 0 0.1540 85.49 416.38)" style="font-size:100px;" fill="#000">5</text>
<text transform="matrix(0.2307 0 0 0.2180 47.24 516.3)" style="font-size:100px;" fill="#000">10</text>
<text transform="matrix(0.1708 0 0 0.1540 74.26 510.4)" style="font-size:100px;" fill="#000">−</text>
<text transform="matrix(0.1617 0 0 0.1540 85.52 508.7)" style="font-size:100px;" fill="#000">6</text>
<text transform="matrix(0.2307 0 0 0.2180 47.24 608.62)" style="font-size:100px;" fill="#000">10</text>
<text transform="matrix(0.1708 0 0 0.1540 74.26 602.72)" style="font-size:100px;" fill="#000">−</text>
<text transform="matrix(0.1617 0 0 0.1540 85.62 601.02)" style="font-size:100px;" fill="#000">7</text>
<text transform="matrix(0.2227 0 0 0.2180 243.7 696.23)" style="font-size:100px;" fill="#000">10</text>
<text transform="matrix(0.1617 0 0 0.1540 270.37 687.83)" style="font-size:100px;" fill="#000">0</text>
<text transform="matrix(0.2227 0 0 0.2180 565.8 696.23)" style="font-size:100px;" fill="#000">10</text>
<text transform="matrix(0.1617 0 0 0.1540 592.27 687.83)" style="font-size:100px;" fill="#000">1</text>
<text transform="matrix(0.2227 0 0 0.2180 887.9 696.23)" style="font-size:100px;" fill="#000">10</text>
<text transform="matrix(0.1617 0 0 0.1540 912.79 687.83)" style="font-size:100px;" fill="#000">2</text>
<text transform="matrix(0.3464 0 0 0.3436 553.92 733.03)" style="font-size:100px;font-style:italic;" fill="#000">k</text>
<text transform="matrix(0 -0.3016 0.3416 0 27.4 389.03)" style="font-size:100px;font-style:italic;" fill="#000">P</text>
<text transform="matrix(0 -0.2507 0.2253 0 32.52 368.99)" style="font-size:100px;font-style:italic;" fill="#000">ρ</text>
<text transform="matrix(0 -0.2273 0.2398 0 33 354.33)" style="font-size:100px;" fill="#000">1</text>
<text transform="matrix(0 -0.2551 0.2395 0 33.15 340.86)" style="font-size:100px;font-style:italic;" fill="#000">d</text>
<text transform="matrix(0 -0.2942 0.3124 0 25.43 324.32)" style="font-size:100px;" fill="#000">(</text>
<text transform="matrix(0 -0.3464 0.2539 0 27.4 311.78)" style="font-size:100px;font-style:italic;" fill="#000">k</text>
<text transform="matrix(0 -0.2640 0.3124 0 25.43 291.05)" style="font-size:100px;" fill="#000">)</text>
<text transform="matrix(0.3799 0 0 0.3459 150.43 463.06)" style="font-size:100px;font-style:italic;" fill="#000">θ</text>
<text transform="matrix(0.4199 0 0 0.2948 179.15 462.55)" style="font-size:100px;" fill="#000">=</text>
<text transform="matrix(0.3599 0 0 0.3475 211.87 462.96)" style="font-size:100px;" fill="#000">40</text>
<text transform="matrix(0.3782 0 0 0.3521 253.35 463.89)" style="font-size:100px;" fill="#000">°</text>
<text transform="matrix(0.3521 0 0 0.3478 512.82 110.3)" style="font-size:100px;font-style:italic;" fill="#00bfbf">k</text>
<text transform="matrix(0.3108 0 0 0.3086 533.87 100.96)" style="font-size:100px;" fill="#00bfbf">−</text>
<text transform="matrix(0.2474 0 0 0.2390 553.46 97.9)" style="font-size:100px;" fill="#00bfbf">3/2</text>
<rect x="126.7" y="491.2" width="350.4" height="157.8" rx="6" ry="6" fill="#fff" fill-opacity="0.8" stroke="#d6d6d6" stroke-width="1.6"/>
<path d="M139.5 517.4H204.5" stroke="#f00" stroke-width="6.2" stroke-linecap="square"/>
<path d="M139.5 565.1H204.5" stroke="#1f77b4" stroke-width="6.2" stroke-linecap="square"/>
<path d="M139.5 618H204.5" stroke="#ff7f0e" stroke-width="6.0" stroke-dasharray="22.6 9.6"/>
<text transform="matrix(0.3672 0 0 0.3360 230.44 529)" style="font-size:100px;" fill="#000">averaged</text>
<text transform="matrix(0.3871 0 0 0.3360 231.46 576.8)" style="font-size:100px;" fill="#000">&quot;true&quot;</text>
<path d="M255.85 613.15 C251.73 613.15 249.68 624.05 245.56 624.05 C241.88 624.05 241.15 621.33 241.15 618.6 C241.15 615.88 241.88 613.15 245.56 613.15 C249.68 613.15 251.73 624.05 255.85 624.05" fill="none" stroke="#000" stroke-width="2.1"/>
<text transform="matrix(0.3579 0 0 0.3360 266.8 628.1)" style="font-size:100px;" fill="#000">sinc</text>
<text transform="matrix(0.2393 0 0 0.2220 331.5 615.9)" style="font-size:100px;" fill="#000">2</text>
<text transform="matrix(0.2791 0 0 0.3081 347.47 626.02)" style="font-size:100px;" fill="#000">(</text>
<text transform="matrix(0.3388 0 0 0.3340 359.84 628.3)" style="font-size:100px;font-style:italic;" fill="#000">k</text>
<text transform="matrix(0.3454 0 0 0.3387 377.87 628.3)" style="font-size:100px;" fill="#000">Δ</text>
<text transform="matrix(0.2687 0 0 0.3331 402.28 628.3)" style="font-size:100px;font-style:italic;" fill="#000">x</text>
<text transform="matrix(0.3203 0 0 0.3772 416.5 631.03)" style="font-size:100px;" fill="#000">/</text>
<text transform="matrix(0.3490 0 0 0.3337 428.74 628.3)" style="font-size:100px;" fill="#000">2</text>
<text transform="matrix(0.2866 0 0 0.3081 452.63 626.02)" style="font-size:100px;" fill="#000">)</text>
<clipPath id="c1"><rect x="110.3" y="774.9" width="906.3" height="662.5"/></clipPath>
<g clip-path="url(#c1)" fill="none" stroke-linejoin="round">
<g stroke="#000" stroke-opacity="0.2" stroke-width="3" stroke-linecap="square">
<path d="M100 835H152l118 17 69 51 48 127 38-154 31 123 26 123 23-124 20-19 18-28 16-8 15 81 14-55 12 96 12-82 11 147 10-109 10-1 9 4 9 0 8 38 8 4 8 9 7-12 7 8 6 0 7 27 6-72 6 57 6 6 5-20 6-19 5 71 5-18 5 26 5-66 4 128 5-68 4-8 5 83 4-168 4 83 4-16 4 68 4 1 3 114 4-141 4-72 3 161 3-15 4-82 3-19 3 65 4 94 3-86 3-76 3-9 3 21 3 59 2 14 3-50 3 60 3 21 2-21 3-74 3 77 2-43 3 12 2 189 3-27 2-79 2-112 3 245 2-248 2 26 3 38 2 57 2-33 2-33 2 21 2-28 3 19 2 15 2 109 2-178 2 16 2 267 2-229 1-17 2 76 2-64 2 26 2-29 2 140 2-54 1-62 2-84 2 99 2 85 1-28 2-58 2 48 1 6 2-33 2 62 1-135 2 5 1 81 2-28 1-3 2 29 2 21 1-67 2 16 1 140 1-176 2-5 1 70 2-11 1-62 2 76 1 76 1-103 2 45 1-20 2-51 1 25 1 125"/>
<path d="M100 828H152l118 87 69 3 48-27 38 6 31 15 26 43 23-5 20 97 18-59 16-44 15 53 14-24 12 0 12 130 11-117 10-9 10 1 9 15 9 23 8-16 8 71 8 165 7-226 7 104 6-78 7-14 6 46 6 9 6 35 5 1 6 111 5-138 5 40 5 27 5-94 4 55 5-35 4 36 5-44 4 159 4-101 4 65 4 146 4-226 3 7 4-1 4-1 3-33 3 100 4-60 3 138 3-120 4 39 3-84 3 124 3-94 3 78 3-12 2-64 3 5 3 50 3 21 2 45 3-79 3 46 2 21 3-58 2-3 3 16 2 33 2 113 3-98 2-91 2 305 3-143 2-101 2-1 2-74 2 211 2 78 3-248 2 72 2-60 2 42 2 89 2-160 2 92 1 12 2-88 2-3 2 23 2 39 2-34 2 67 1 48 2-113 2 22 2 40 1-64 2 42 2 4 1-53 2 59 2 85 1-127 2 81 1-19 2-59 1 261 2-283 2-19 1 42 2 156 1-113 1-50 2 6 1 59 2-10 1 165 2-234 1 103 1-94 2 35 1 111 2-72 1 31 1-113"/>
<path d="M100 875H152l118-20 69 29 48-38 38 90 31-10 26 85 23-45 20 15 18 139 16-79 15-32 14 7 12-9 12 55 11 37 10-124 10 50 9-15 9-35 8 52 8 2 8 2 7 45 7-39 6 70 7-38 6-69 6-9 6 89 5-24 6 168 5-141 5 39 5 212 5-174 4-44 5 33 4-40 5-15 4-67 4 157 4-124 4 33 4-31 3 50 4 13 4 29 3 16 3-43 4 33 3 0 3 62 4-52 3 119 3-147 3 97 3 23 3-119 2 211 3-116 3 26 3-102 2 4 3 34 3-48 2 0 3 37 2-20 3 22 2 93 2-47 3-56 2 4 2 90 3-23 2-80 2 3 2 0 2 101 2-117 3 39 2 81 2 172 2-13 2-253 2 69 2-20 1 16 2 52 2-112 2 17 2 7 2-51 2 54 1-5 2 36 2-43 2 62 1 29 2 110 2-210 1 64 2 58 2-74 1-91 2 38 1 60 2-40 1 24 2-37 2-26 1 137 2-9 1-100 1-31 2 71 1 34 2-7 1-29 2 91 1-11 1-120 2-16 1 66 2-47 1 12 1 88"/>
<path d="M100 916H152l118 89 69-47 48 1 38-3 31-13 26 14 23-8 20 75 18-77 16 71 15 90 14 46 12-161 12 5 11-47 10 77 10 42 9-24 9-13 8 1 8 115 8-36 7-68 7 154 6-124 7-6 6-37 6 66 6 28 5-14 6 1 5-52 5 93 5-63 5 241 4-64 5-153 4-41 5 23 4 5 4-3 4 60 4 19 4-49 3-46 4 46 4-12 3 13 3-24 4 96 3-73 3-26 4 33 3 7 3-15 3 36 3 43 3-89 2 58 3 110 3 66 3-178 2 9 3-23 3 195 2-180 3-8 2-7 3 1 2-25 2 19 3 44 2-24 2 24 3 105 2-121 2 37 2-51 2 74 2 112 3-129 2-3 2 2 2 74 2-76 2 131 2-192 1 119 2-54 2 63 2-98 2 100 2-13 2 65 1-41 2-78 2 0 2 94 1-76 2 17 2 3 1-51 2 2 2 50 1 99 2-159 1-6 2 62 1-81 2 61 2 142 1-107 2-48 1 127 1-62 2 50 1-132 2 138 1 12 2-116 1 14 1-63 2 12 1-12 2 172 1-216 1 253"/>
<path d="M100 863H152l118 47 69-54 48 120 38 53 31-126 26 21 23 44 20 37 18-50 16 72 15-29 14-33 12 89 12-7 11-26 10 64 10 8 9 1 9 32 8-84 8 9 8 175 7-108 7-61 6-62 7 33 6 69 6 30 6-77 5-33 6 84 5 163 5-123 5 60 5-135 4 203 5-192 4 45 5-74 4 7 4 127 4-52 4-60 4 12 3 25 4 0 4 6 3 14 3 5 4 3 3-52 3 124 4-35 3 72 3 151 3-250 3-19 3 22 2 14 3 12 3-53 3 79 2-28 3 11 3 91 2-44 3 18 2-132 3 168 2-50 2-33 3 85 2-126 2 94 3-64 2 233 2-131 2-6 2 10 2-98 3 84 2-128 2 83 2 93 2-89 2 8 2 93 1-115 2 227 2-254 2-21 2 175 2-148 2-13 1 60 2 168 2-238 2 0 1 15 2-32 2 26 1 33 2 100 2-101 1 1 2-27 1 15 2 22 1 115 2-182 2 195 1-95 2-68 1 77 1 18 2-47 1 108 2-233 1 22 2 57 1 178 1-21 2-139 1 81 2 79 1-186 1 141"/>
<path d="M100 946H152l118-45 69-70 48 86 38-16 31 78 26-61 23 59 20 17 18-28 16 30 15 23 14-35 12 40 12 131 11-111 10-13 10 54 9 0 9 36 8-79 8-5 8-4 7 51 7-79 6 66 7 67 6-32 6-22 6-62 5 22 6 73 5 57 5-30 5 2 5 33 4 13 5-50 4 16 5-16 4 23 4-73 4 64 4 4 4-81 3 37 4-34 4 228 3-112 3-79 4 2 3 15 3 215 4-201 3-3 3-7 3-36 3 49 3-10 2 57 3-4 3 44 3-39 2-37 3-21 3 19 2 12 3-60 2 109 3-37 2 72 2-76 3-11 2 13 2-63 3 183 2-61 2-63 2 7 2 40 2-39 3 31 2 54 2 4 2-30 2-55 2-2 2 16 1 21 2-29 2 4 2-48 2 66 2 55 2-96 1 19 2 21 2 2 2 10 1 1 2 51 2-11 1-25 2-21 2 141 1-103 2-43 1 161 2-224 1 281 2-168 2-114 1 39 2 20 1 116 1-142 2 127 1-107 2-23 1-21 2 74 1-8 1-13 2 14 1 108 2-123 1 49 1-36"/>
<path d="M100 861H152l118 116 69-73 48 63 38-48 31 94 26-99 23 40 20 4 18 14 16 57 15 34 14-54 12 55 12-23 11 75 10-90 10 40 9 12 9 7 8-106 8 80 8 37 7-93 7 122 6-55 7 39 6-3 6-20 6-37 5 137 6-120 5 35 5-63 5 38 5 51 4 11 5-20 4 97 5-94 4-60 4 159 4-62 4-2 4 15 3 38 4 26 4 8 3-8 3-155 4 44 3-36 3 15 4 11 3-10 3 19 3 77 3-53 3 24 2 56 3-100 3-6 3 51 2 68 3-69 3 158 2-87 3-114 2 18 3-6 2 165 2-146 3 67 2-22 2 68 3-95 2 15 2 171 2-41 2-125 2 22 3 187 2-166 2-35 2 35 2-47 2 209 2-107 1-131 2 17 2 82 2-82 2-7 2-14 2 10 1 119 2-104 2 56 2-103 1 140 2-35 2 10 1-67 2 47 2 140 1-169 2-13 1 35 2 7 1 11 2 116 2-116 1 190 2-175 1 29 1-85 2 18 1 93 2-47 1-55 2 13 1 69 1-23 2-40 1 20 2-9 1 34 1-44"/>
<path d="M100 893H152l118 34 69 14 48-64 38-2 31 106 26-14 23 9 20 40 18-54 16 93 15 5 14-43 12-23 12-32 11 25 10 5 10 25 9 5 9-1 8 15 8 78 8-95 7-5 7 1 6 45 7 1 6-2 6 19 6 38 5-40 6 2 5 89 5-20 5 77 5-78 4-70 5 46 4 22 5-104 4 130 4 9 4 18 4-33 4-18 3-15 4 65 4-11 3 16 3-31 4-55 3-14 3 83 4-42 3-6 3-36 3-5 3 39 3 88 2-10 3-62 3 82 3-19 2-34 3 18 3 5 2-62 3 16 2 39 3-1 2 14 2 127 3-192 2 41 2 26 3 185 2-146 2-75 2-17 2 67 2 3 3 112 2-121 2-11 2 30 2 35 2-72 2 29 1 6 2 100 2-181 2 126 2-61 2-58 2 171 1-11 2 30 2-44 2 37 1-147 2 16 2 5 1 33 2-49 2 47 1 45 2-88 1 146 2-126 1 26 2-9 2 100 1-144 2 8 1 52 1 32 2-64 1 7 2-41 1 88 2 100 1-128 1 82 2-13 1 96 2-131 1-92 1 15"/>
<path d="M100 929H152l118-71 69 5 48 85 38 139 31-80 26-30 23-39 20 10 18 49 16-43 15 11 14 71 12 69 12-68 11-39 10 13 10 84 9-50 9 19 8 154 8-195 8 122 7 23 7-104 6 26 7-66 6 22 6 25 6-25 5 133 6-63 5-72 5 186 5-94 5-76 4 50 5 58 4-69 5-47 4 138 4-53 4-60 4 55 4 21 3-50 4-23 4 66 3 122 3-184 4 76 3-50 3 20 4-29 3 26 3 48 3-55 3 286 3-262 2 60 3-60 3-2 3-10 2 51 3-32 3 75 2-107 3 29 2 68 3-48 2 101 2-52 3-18 2 57 2-79 3-22 2 78 2-39 2 135 2-64 2 65 3-140 2 54 2-45 2-38 2 43 2 23 2 55 1-79 2 26 2 212 2-139 2-60 2 61 2-85 1-21 2 118 2-145 2 135 1-12 2-44 2 45 1-119 2 24 2 26 1 163 2-88 1-31 2-18 1-23 2 39 2-98 1 63 2-39 1 79 1-32 2 76 1 19 2-127 1 70 2-38 1 51 1 87 2-20 1-157 2-15 1 84 1 49"/>
<path d="M100 913H152l118 53 69-32 48 12 38 13 31-1 26 29 23 4 20-38 18 49 16-63 15 133 14-122 12 191 12-157 11 45 10-30 10 21 9-29 9 84 8-12 8-13 8 153 7-175 7 133 6-129 7 63 6-14 6-43 6 67 5 28 6-54 5 7 5-23 5 109 5-48 4-36 5 4 4 29 5-11 4-12 4-18 4 225 4-9 4-167 3 16 4 84 4-70 3 68 3-162 4 54 3 15 3-48 4 117 3-73 3 67 3 15 3 84 3-141 2-1 3 23 3-62 3 139 2-127 3-17 3 4 2 54 3 76 2-79 3 78 2-46 2 73 3-108 2 90 2-38 3-45 2 34 2 1 2 8 2-26 2 50 3 42 2-46 2 51 2-106 2 199 2-178 2 114 1-98 2-1 2-21 2-2 2 35 2 11 2-69 1 52 2-3 2 27 2 30 1 49 2 72 2-156 1 0 2-3 2 4 1-54 2 36 1-5 2 16 1-24 2 86 2-53 1-41 2-17 1 67 1-39 2 30 1-40 2 20 1-30 2 46 1 55 1 26 2-72 1 126 2-152 1 171 1-173"/>
<path d="M100 856H152l118 1 69 94 48-102 38 56 31 32 26 72 23-58 20 34 18-47 16 134 15-95 14 20 12-8 12 6 11 57 10 22 10-108 9 61 9 6 8-44 8 60 8-31 7 141 7-104 6-46 7 63 6-45 6 128 6-58 5 46 6-66 5 60 5-4 5 41 5-113 4 40 5 37 4-29 5 8 4 18 4-42 4-31 4 147 4-92 3-35 4 79 4 17 3 37 3-81 4-15 3 11 3 56 4-91 3 113 3-93 3-27 3 80 3-19 2 116 3-77 3-47 3 22 2 147 3-144 3 35 2-16 3 129 2-167 3 10 2-9 2 21 3-14 2 214 2-170 3 167 2-117 2-9 2 27 2-59 2 104 3-14 2-57 2-22 2 165 2-115 2-66 2 12 1-30 2 34 2-32 2 140 2-33 2-121 2 152 1-102 2-8 2 22 2 96 1-143 2 107 2 11 1-79 2 76 2-50 1 18 2-30 1 31 2-20 1-45 2 45 2-57 1-18 2 36 1-50 1 106 2-75 1-19 2 28 1 49 2 121 1-195 1 54 2 117 1-107 2-68 1 45 1 33"/>
<path d="M100 924H152l118-18 69-31 48 103 38-36 31-13 26 87 23-87 20 51 18 62 16-77 15 213 14-209 12 36 12-36 11 43 10 20 10-58 9 57 9 201 8-218 8-16 8 26 7-2 7 76 6 42 7-44 6 26 6-56 6 27 5 76 6-102 5 44 5-31 5 34 5-35 4 3 5 27 4-51 5 245 4-130 4-67 4 19 4-10 4 51 3 14 4 138 4-155 3-60 3 31 4 21 3-26 3 120 4-119 3 52 3-32 3 30 3 31 3-59 2 8 3 71 3-62 3-29 2 12 3 104 3 12 2-116 3-9 2 173 3-131 2 238 2-268 3 6 2 192 2-206 3 104 2-61 2 65 2 9 2-106 2 34 3 127 2-5 2-111 2 60 2-5 2-95 2 49 1 39 2-93 2-3 2 151 2-93 2 94 2-69 1-70 2 50 2 103 2-143 1 29 2-43 2 47 1 23 2-12 2-1 1-31 2 87 1-66 2-20 1 55 2-24 2 112 1-161 2 125 1-94 1 60 2-13 1 8 2-24 1-48 2-15 1 119 1-47 2-34 1 24 2 40 1-104 1 88"/>
<path d="M100 907H152l118-16 69-25 48 156 38-79 31 85 26-37 23-55 20-35 18 73 16 26 15 0 14 89 12-18 12 87 11-194 10 79 10-17 9-12 9 139 8-91 8 53 8-88 7 26 7-21 6 7 7-3 6 19 6 19 6-39 5 30 6-26 5 83 5 39 5 59 5-68 4-99 5 31 4 52 5-74 4 51 4 22 4 16 4-39 4-2 3-1 4 47 4-88 3 107 3 36 4-100 3 2 3 73 4-43 3-64 3 40 3 35 3 75 3-51 2 89 3-100 3 25 3-93 2 59 3 79 3-61 2 164 3-228 2 38 3 147 2-141 2 40 3 123 2-131 2-6 3 22 2 53 2-56 2 81 2-8 2-80 3 40 2-11 2 34 2 38 2-95 2-26 2 71 1-51 2 26 2 75 2-116 2 114 2-104 2-14 1 69 2 41 2-7 2-66 1 27 2-30 2 76 1 3 2-73 2 8 1-45 2 169 1-61 2-63 1 31 2 3 2-34 1 109 2-184 1 147 1-86 2-51 1 38 2 117 1-103 2 51 1-29 1-32 2-17 1 2 2 56 1 7 1-57"/>
<path d="M100 887H152l118 61 69 5 48 27 38-57 31 41 26 86 23-97 20-7 18 8 16 108 15-67 14 43 12-11 12-5 11 20 10-36 10-30 9 120 9 15 8-85 8 30 8-37 7 104 7-34 6-21 7-23 6 118 6-103 6-18 5 35 6 66 5-56 5 9 5-13 5-32 4 4 5 9 4 13 5 73 4-20 4 56 4 0 4-76 4 21 3-6 4 72 4 65 3-16 3-145 4 19 3 31 3-37 4 52 3 154 3-131 3 17 3-61 3 102 2-90 3-10 3 19 3 42 2-69 3 109 3-90 2 52 3-14 2-20 3 44 2 100 2-66 3-52 2 30 2 57 3 15 2-66 2-33 2-53 2 0 2 18 3-17 2 81 2-50 2 19 2 35 2 24 2 98 1-141 2-35 2 20 2 133 2-155 2 86 2-93 1 83 2-59 2 155 2-137 1-29 2 15 2 2 1-31 2 201 2-122 1 8 2-6 1 74 2-175 1 60 2 97 2-101 1 74 2-12 1 27 1-112 2 68 1 6 2-43 1-27 2 85 1-52 1 90 2-112 1 7 2 7 1 194 1-188"/>
<path d="M100 822H152l118 66 69-11 48 76 38-38 31 17 26-18 23 4 20 50 18 17 16 6 15-40 14 87 12-33 12 4 11 0 10 1 10 218 9-233 9 25 8 28 8-45 8 70 7 5 7-59 6 7 7 35 6-1 6 18 6 242 5-212 6 28 5-66 5 77 5-2 5-8 4-63 5-31 4 39 5 69 4 67 4-12 4-75 4-74 4 125 3 11 4 20 4-100 3 8 3-57 4 16 3 76 3-24 4 21 3-5 3-53 3 40 3 201 3-208 2 121 3-52 3-3 3-26 2 219 3-130 3-111 2 85 3-42 2-11 3 132 2-149 2 158 3-56 2-12 2-44 3-32 2 17 2 101 2-19 2-62 2 90 3-133 2 205 2-42 2-176 2 144 2-78 2 23 1-39 2-35 2 21 2 79 2-8 2-98 2 34 1 45 2-46 2 74 2-26 1 1 2 7 2-47 1-37 2 229 2-224 1 185 2-109 1-61 2-42 1 195 2-144 2 42 1-26 2 1 1 184 1-97 2-56 1-4 2 16 1 0 2-61 1 74 1-100 2 26 1 159 2-131 1 47 1-88"/>
<path d="M100 848H152l118 13 69 148 48-127 38 67 31-52 26 62 23 76 20-115 18 34 16 28 15 45 14 98 12-70 12 119 11-158 10 9 10 13 9 18 9-9 8-3 8 144 8 14 7-151 7 44 6-55 7-2 6-10 6 84 6 18 5-79 6 102 5 101 5-162 5 18 5-65 4 71 5 29 4-97 5 190 4-111 4 25 4 58 4-14 4-24 3-22 4-95 4 222 3-124 3-67 4 133 3-136 3 9 4 58 3 48 3 99 3 73 3-147 3-30 2 115 3-168 3-40 3 73 2-46 3 33 3 55 2-17 3-67 2 99 3 11 2-40 2-35 3 28 2 2 2-26 3 63 2 76 2-79 2 2 2-52 2-7 3 50 2 62 2-78 2-65 2 19 2 35 2 51 1-90 2 4 2 101 2-40 2 56 2-75 2-1 1 4 2 72 2-54 2-29 1-14 2 53 2-15 1-24 2 20 2 18 1 59 2-85 1 57 2-40 1 139 2-143 2 84 1-59 2 76 1-77 1-14 2 121 1 9 2-112 1-7 2 9 1 55 1-28 2-77 1 37 2-42 1 71 1-56"/>
<path d="M100 859H152l118 69 69-21 48 19 38 66 31 11 26 21 23 34 20-88 18-44 16 68 15-18 14 41 12 51 12-79 11 21 10-16 10 5 9 86 9 10 8 2 8-67 8-17 7 15 7 8 6 94 7 153 6-132 6-116 6 153 5-67 6-27 5 73 5-113 5 50 5 45 4-62 5-31 4 66 5 5 4 73 4-7 4 60 4 39 4-185 3 22 4-7 4 22 3-2 3-22 4-2 3 57 3-81 4 30 3 3 3-27 3 35 3-16 3 31 2 7 3-27 3 53 3 33 2-61 3 42 3 165 2-177 3-4 2-34 3 104 2 10 2-119 3 161 2-103 2-47 3 38 2 68 2-129 2 66 2 2 2-26 3 74 2-36 2 45 2-14 2-42 2 39 2-68 1-4 2-18 2 118 2-79 2 0 2 76 2-61 1 89 2-116 2 116 2 57 1 35 2 0 2-140 1 46 2 167 2-237 1 243 2-269 1 7 2 19 1-29 2-6 2 132 1 97 2-133 1 13 1 24 2-87 1 86 2-75 1-88 2 57 1 74 1 105 2-111 1-16 2-71 1 49 1-29"/>
<path d="M100 877H152l118 41 69-19 48 43 38-23 31 244 26-176 23-54 20 105 18-92 16 91 15 172 14-163 12 27 12-79 11-14 10-19 10 117 9 38 9-98 8 12 8 29 8-15 7-10 7 119 6-70 7-36 6 98 6-91 6-40 5 55 6 43 5-26 5-32 5 124 5-48 4-25 5 92 4-116 5 211 4-174 4 34 4-47 4 5 4 23 3-25 4 150 4-110 3-86 3 25 4 58 3 44 3-87 4 28 3 46 3-76 3 24 3 6 3 17 2 89 3-108 3 38 3-41 2 152 3-70 3-89 2 3 3 15 2 86 3-57 2 163 2-127 3-48 2-22 2 12 3 208 2-126 2-41 2-26 2 10 2 95 3-33 2-73 2-30 2 46 2 15 2 84 2 32 1-113 2 136 2-75 2 157 2-170 2 18 2-30 1-19 2-14 2-17 2 19 1 97 2-85 2 66 1-32 2 13 2-62 1 42 2-79 1 76 2 217 1-129 2-42 2-77 1 19 2 24 1-45 1 20 2-8 1 46 2-44 1 20 2-11 1 3 1-13 2 56 1 5 2-92 1 219 1-149"/>
<path d="M100 901H152l118-29 69-4 48 34 38 31 31 35 26 16 23 31 20-51 18 79 16-42 15 4 14 137 12 48 12-223 11 83 10-45 10-30 9 37 9 17 8 201 8-202 8 38 7-28 7 40 6-102 7 78 6-20 6 125 6-123 5 119 6-40 5 52 5-76 5 19 5 87 4-59 5 7 4-11 5-40 4 86 4-46 4-6 4-9 4 131 3-144 4 6 4 128 3-121 3-25 4 21 3-12 3-9 4 65 3 135 3-116 3 53 3-158 3 106 2 95 3-178 3 103 3-39 2 16 3-11 3 58 2-40 3-42 2 15 3 178 2-179 2 73 3 149 2-158 2 54 3-73 2 140 2-82 2 9 2-97 2 65 3 14 2-17 2-72 2 24 2 50 2 80 2-148 1 48 2-68 2 157 2-55 2 6 2-25 2 67 1-121 2 59 2 117 2-184 1-10 2 82 2 125 1-130 2 158 2-206 1 10 2 38 1-35 2 18 1 76 2 7 2-83 1-3 2 66 1-68 1 21 2-12 1 62 2 48 1 105 2-215 1 73 1-79 2 11 1-32 2 142 1-95 1 23"/>
<path d="M100 842H152l118-4 69 115 48-55 38 28 31 38 26-17 23 47 20-55 18 76 16-15 15-63 14 55 12 34 12 16 11 14 10-12 10-38 9-12 9 23 8 31 8 48 8-68 7-21 7 38 6 38 7-21 6-11 6-10 6 40 5 21 6 22 5 68 5-47 5-53 5 150 4-133 5-60 4 11 5 51 4-37 4 38 4 179 4-62 4-51 3-63 4-8 4-39 3 64 3-10 4 79 3 68 3-100 4-85 3 154 3-121 3 58 3 8 3-46 2 98 3-62 3 26 3-70 2-19 3 49 3 31 2 30 3-85 2 100 3 49 2-113 2 15 3 31 2-8 2-38 3 0 2 22 2 19 2-17 2-35 2 10 3 203 2-85 2 6 2-104 2-2 2 38 2 32 1-14 2-62 2 15 2 12 2-22 2 65 2-14 1-17 2-22 2-11 2 168 1-153 2-19 2 90 1-65 2-24 2 1 1 94 2-50 1-54 2 63 1 238 2-236 2 65 1-118 2 205 1-95 1-124 2 19 1 55 2 53 1-130 2 255 1-196 1 132 2-111 1-53 2-7 1 125 1-90"/>
<path d="M100 911H152l118-22 69 24 48-46 38 41 31-20 26 34 23 66 20 106 18-112 16 30 15 115 14-96 12-41 12-32 11 44 10 44 10-47 9 155 9-203 8 90 8-50 8 67 7 60 7-73 6 49 7-85 6 77 6-14 6-31 5 55 6-41 5 49 5 100 5 51 5-97 4 52 5-105 4 9 5 173 4-179 4 33 4-52 4 146 4-125 3 3 4 21 4 1 3-10 3-14 4-4 3 43 3-21 4 26 3-35 3 107 3-20 3-73 3 88 2 47 3-124 3-1 3 165 2-146 3 49 3-50 2 60 3 12 2-76 3 35 2 3 2 34 3-44 2 55 2-101 3 34 2 98 2 47 2-130 2 38 2 68 3-107 2 28 2 111 2-122 2 25 2 12 2-34 1-40 2 160 2 127 2-272 2 13 2 55 2 51 1 24 2 42 2-145 2 41 1 47 2-100 2 59 1-33 2 34 2-58 1 19 2-34 1 48 2 21 1 2 2 0 2-69 1 80 2 17 1-64 1 46 2 88 1-177 2 42 1 18 2-51 1 68 1 60 2-30 1 3 2 6 1 157 1-241"/>
<path d="M100 840H152l118 11 69 26 48 20 38 67 31-45 26 13 23 24 20 42 18-28 16-9 15 119 14-69 12 34 12-64 11 75 10 25 10 55 9-132 9 78 8 19 8-8 8-8 7 161 7-86 6-116 7 130 6-158 6 49 6-14 5 44 6 27 5-3 5-47 5 32 5 43 4-37 5 61 4-116 5 121 4-57 4 69 4 98 4 60 4-203 3-20 4-49 4 137 3-52 3-18 4 73 3-104 3 10 4 46 3-17 3-15 3 8 3 29 3-36 2-51 3 113 3 219 3-295 2 64 3 30 3 29 2 199 3-292 2 60 3-56 2 24 2-33 3 90 2-64 2-10 3 145 2 46 2-99 2-74 2-9 2 17 3 89 2-91 2 63 2 3 2-114 2 101 2 0 1 33 2-42 2 19 2-32 2-25 2 19 2-8 1-50 2 73 2 15 2 55 1-129 2 0 2 134 1-63 2-56 2 78 1-16 2 1 1-19 2-20 1-9 2-12 2 68 1-31 2 74 1-122 1 25 2 23 1-39 2 141 1-4 2 55 1-12 1-64 2 18 1 54 2-83 1-97 1 32"/>
<path d="M100 882H152l118 1 69-10 48 289 38-197 31-11 26 37 23-91 20 108 18-31 16-25 15 13 14 163 12-143 12-2 11-16 10 19 10 126 9-44 9 56 8-42 8 30 8-5 7-42 7 63 6-42 7-11 6 36 6-45 6 7 5 51 6-66 5 27 5 30 5 38 5 59 4-136 5 16 4 55 5 5 4-100 4 118 4 125 4-188 4 45 3 19 4-49 4-5 3 88 3-89 4 92 3-60 3 168 4-236 3 178 3-133 3 79 3 3 3 105 2-145 3 25 3 109 3-61 2-106 3 106 3-110 2 6 3 79 2-15 3 51 2-64 2-35 3 126 2-103 2 2 3 35 2 62 2 48 2-122 2 133 2-190 3 39 2 30 2-37 2 16 2-4 2 35 2 105 1-145 2 83 2-27 2-43 2 252 2-91 2-116 1 4 2-52 2 59 2-76 1 56 2 84 2-107 1-48 2-5 2 159 1-40 2 59 1-130 2 81 1-63 2 24 2 102 1-142 2-6 1 46 1-35 2 49 1-36 2 102 1-145 2 87 1 7 1-77 2 221 1-169 2 11 1 54 1-100"/>
<path d="M100 873H152l118-44 69 36 48 165 38-91 31 62 26-58 23 87 20 6 18-26 16-63 15-13 14-8 12 68 12-31 11 134 10 39 10-80 9-3 9 26 8-36 8 74 8 12 7-77 7 95 6-43 7-2 6-52 6 36 6 0 5 36 6 4 5-25 5-61 5 21 5 17 4-13 5 108 4-88 5-39 4 43 4 30 4 117 4-88 4-28 3-1 4 23 4 29 3 186 3-244 4 52 3-43 3 75 4-33 3 132 3 85 3-156 3-51 3-35 2-21 3 119 3-85 3 233 2-209 3-19 3 149 2-150 3 54 2-13 3-60 2 86 2-27 3-25 2 128 2-77 3-42 2 96 2-109 2 19 2 87 2 50 3-61 2-83 2-14 2 122 2 75 2-117 2-67 1 36 2-33 2 13 2-9 2 83 2-64 2 32 1-52 2 41 2 52 2-27 1 39 2-93 2-13 1 23 2-28 2 91 1 121 2-170 1 39 2 15 1 82 2-162 2-3 1 37 2-38 1 30 1-42 2 45 1-4 2 35 1 65 2-87 1-16 1-26 2 22 1-12 2 79 1-56 1-61"/>
<path d="M100 825H152l118 77 69-44 48 21 38 34 31 31 26 65 23 57 20-153 18 158 16-126 15 121 14-11 12-46 12-15 11-18 10 153 10-90 9 62 9-60 8-1 8 55 8-80 7 24 7-28 6 1 7 63 6-74 6 91 6-24 5 30 6 137 5-112 5-39 5 58 5-95 4 21 5 75 4 25 5-66 4 5 4 9 4 204 4-173 4-35 3 99 4-12 4-91 3 88 3-33 4-54 3 36 3 35 4-99 3 200 3-64 3 25 3-138 3 126 2-25 3-60 3 85 3-5 2 0 3-80 3 95 2-110 3 10 2 33 3 32 2-60 2 83 3-61 2 108 2-104 3 0 2 38 2-31 2 145 2-117 2-38 3 69 2-68 2 69 2 53 2-134 2 26 2 193 1-198 2 88 2 5 2-86 2 13 2 188 2-71 1-57 2-61 2 8 2 188 1-170 2 59 2-68 1 63 2 39 2-83 1-39 2 2 1 0 2 33 1 135 2-110 2-12 1 21 2-77 1 206 1 85 2-269 1 19 2 28 1 33 2-9 1-62 1 125 2-62 1-81 2 5 1 56 1 30"/>
<path d="M100 880H152l118-28 69 37 48 122 38 19 31-107 26 93 23 62 20-43 18-52 16-42 15 219 14-144 12 48 12 0 11-46 10-17 10-8 9 66 9-53 8 156 8-124 8 108 7-54 7 5 6-53 7-9 6-33 6 166 6-103 5-42 6 88 5 36 5-6 5-6 5 6 4 6 5-40 4 22 5 89 4-67 4-35 4 7 4 109 4 25 3-64 4-26 4 32 3-62 3 22 4 51 3-118 3 90 4 25 3-86 3 0 3 39 3-37 3 20 2 58 3-70 3 142 3-80 2-76 3 47 3 145 2-168 3 14 2 50 3-42 2-8 2 43 3-40 2 61 2-60 3 96 2-85 2 86 2-16 2-51 2 23 3 26 2-57 2 61 2 7 2 53 2-132 2 220 1-213 2 58 2-67 2 115 2-23 2-70 2 15 1-13 2 128 2-99 2-14 1 89 2 35 2-131 1 116 2-130 2 26 1 36 2 32 1 12 2-27 1-30 2-19 2 65 1 2 2-17 1-27 1 162 2-143 1-4 2-80 1 8 2 197 1-166 1 123 2-150 1 220 2-192 1 40 1 8"/>
<path d="M100 831H152l118 9 69 96 48-35 38 186 31-126 26-9 23-33 20 193 18-150 16 41 15 49 14 90 12-106 12 4 11-74 10 55 10-23 9 177 9-154 8 23 8-8 8 156 7-146 7 11 6 86 7 36 6-179 6 149 6-102 5-10 6 103 5-18 5 3 5-13 5 31 4-87 5 13 4 59 5 63 4-70 4-31 4 19 4-47 4 74 3-10 4 0 4 85 3-19 3-59 4 21 3-7 3 20 4-84 3 75 3-53 3 100 3-109 3 59 2 25 3-72 3 369 3-373 2 56 3 1 3 106 2-92 3 0 2-28 3 86 2 28 2-85 3 27 2-35 2 115 3-117 2 162 2-108 2 106 2-77 2-31 3-35 2 5 2 94 2-20 2-56 2 171 2-198 1-40 2 82 2 41 2-69 2 66 2 89 2-196 1 56 2 54 2-96 2 33 1 20 2-2 2 145 1-50 2-120 2 53 1-54 2-21 1 43 2-2 1 64 2 15 2 161 1-153 2-39 1 162 1-231 2 172 1-138 2-19 1 83 2-39 1-12 1-15 2-57 1 10 2 18 1 11 1-5"/>
<path d="M100 890H152l118 9 69 10 48-19 38 85 31-45 26 107 23 40 20-39 18-80 16 58 15-14 14 73 12-57 12-4 11-18 10 34 10 34 9 75 9 4 8-149 8 49 8 293 7-298 7 40 6-27 7-14 6 39 6-41 6 153 5-69 6 61 5-87 5-43 5 57 5 59 4-67 5 27 4-66 5 55 4 12 4-27 4 12 4-10 4-19 3 57 4 10 4-41 3-32 3 31 4 53 3-5 3 16 4 10 3-30 3-7 3-26 3 74 3 113 2-126 3-65 3 59 3 6 2 17 3-75 3 41 2-34 3-4 2 19 3 32 2-1 2-3 3 17 2 70 2-49 3-23 2 23 2 23 2 33 2-13 2 111 3-197 2 113 2-42 2-43 2-32 2 42 2-8 1 47 2-23 2-33 2 96 2-61 2 43 2 58 1-114 2 6 2-20 2 23 1-13 2 32 2-69 1 36 2 232 2-199 1-67 2 97 1-16 2 18 1 36 2 53 2-170 1 90 2-60 1 199 1-157 2-46 1 78 2-83 1-6 2 33 1-40 1 77 2 16 1-79 2 60 1-102 1 50"/>
<path d="M100 919H152l118-25 69-13 48 19 38 97 31-31 26-33 23 175 20-100 18-100 16 30 15 76 14-19 12 29 12-60 11 131 10-48 10 22 9 10 9-23 8 13 8-28 8 30 7-47 7 139 6-71 7-44 6-22 6 130 6-102 5-26 6 92 5 67 5 25 5-153 5 43 4 4 5 101 4-98 5-14 4 8 4-22 4 81 4-25 4-36 3-23 4 71 4-35 3 99 3-132 4 155 3-117 3 56 4-40 3 11 3-36 3 47 3-7 3 19 2 27 3-40 3 57 3 67 2-148 3 122 3-50 2-56 3 60 2 1 3-39 2-6 2 16 3 150 2-110 2 119 3-69 2 82 2-143 2-20 2-46 2 9 3 35 2 32 2 3 2-7 2-24 2-12 2 122 1-9 2-88 2 28 2-9 2-52 2 79 2-63 1 33 2 19 2 66 2 20 1-97 2 27 2 197 1-157 2-64 2 29 1-74 2 46 1 25 2-82 1 29 2-13 2 7 1 46 2 146 1-93 1-32 2-64 1 0 2 17 1 4 2 145 1-94 1-35 2-49 1 17 2 33 1-11 1 35"/>
<path d="M100 898H152l118 0 69 33 48-25 38 74 31-77 26 129 23-87 20-5 18 84 16-14 15-18 14 66 12-23 12-12 11 21 10 5 10-17 9-14 9 122 8-129 8 117 8-98 7 53 7-13 6 51 7-80 6 52 6-29 6 149 5-187 6 64 5 20 5 25 5-53 5 98 4-40 5-3 4-96 5 2 4 82 4 77 4-41 4-26 4 30 3 33 4-61 4 14 3 75 3-89 4 18 3-39 3-48 4 137 3-56 3 133 3 26 3-84 3-102 2 102 3-45 3-25 3 43 2-15 3-15 3 124 2-44 3-94 2 0 3 22 2 85 2 2 3-9 2 73 2-90 3-81 2 2 2 296 2-294 2 43 2 44 3-5 2-74 2 81 2 66 2-24 2-107 2 154 1-55 2 13 2-108 2 22 2-30 2 78 2-19 1 90 2-126 2 88 2 10 1-76 2-23 2-2 1 145 2-84 2-45 1-32 2 47 1 35 2 47 1-76 2 22 2 52 1-53 2-21 1-12 1 20 2 100 1-56 2 85 1-174 2 97 1 57 1 57 2-141 1-100 2 61 1 78 1-118"/>
<path d="M100 837H152l118 25 69 1 48 36 38 34 31-21 26 46 23 39 20 78 18-32 16-22 15-55 14 43 12-6 12-31 11 104 10-85 10 58 9-38 9 35 8-50 8 129 8-29 7-15 7 22 6-20 7 24 6-49 6-25 6 6 5 64 6 20 5-27 5 34 5-32 5 201 4-197 5-29 4 66 5 52 4 148 4-255 4 30 4 18 4-50 3-11 4 125 4-92 3 36 3-57 4 62 3-46 3 231 4-170 3-12 3 75 3-121 3 50 3 54 2 41 3-88 3-47 3 37 2 47 3 37 3-76 2 101 3-98 2 45 3-62 2 172 2-174 3 45 2 143 2-78 3 34 2-52 2 10 2-69 2 86 2-77 3-14 2 42 2-29 2 1 2-13 2 28 2 19 1-33 2 25 2 8 2-53 2 69 2-20 2-16 1 81 2-68 2 18 2-20 1 84 2-73 2 28 1-34 2-13 2 72 1-29 2 9 1 23 2-51 1 83 2-50 2-27 1 48 2-77 1 29 1-43 2 36 1 56 2-35 1-3 2-58 1 31 1 17 2 54 1-73 2 31 1 138 1-136"/>
<path d="M100 884H152l118 89 69-88 48 180 38-151 31-23 26 50 23 37 20-37 18-10 16 80 15 40 14-89 12 103 12-50 11-7 10 23 10 46 9-70 9 39 8-19 8 16 8 6 7-9 7-30 6 30 7 53 6-7 6 58 6-42 5-37 6 98 5 8 5-91 5-44 5 87 4-27 5-5 4-7 5 38 4-11 4 10 4-14 4 35 4-10 3-12 4 55 4-69 3 53 3 23 4 0 3 266 3-308 4-17 3 7 3 175 3-90 3-20 3 53 2-25 3-79 3 14 3-4 2-20 3 108 3 73 2-191 3 34 2 225 3-227 2 39 2-26 3 49 2 258 2-89 3-26 2-83 2-70 2 47 2 82 2-151 3 33 2-4 2 10 2 110 2-89 2-65 2 52 1 102 2-105 2-10 2-38 2 23 2 9 2 35 1-26 2 7 2 7 2-19 1 116 2-72 2-40 1 84 2-96 2 97 1-52 2-61 1 25 2 8 1 90 2-56 2-41 1 112 2-65 1-29 1 10 2 76 1-119 2 175 1-114 2-58 1 89 1-2 2 123 1-70 2 76 1-224 1 17"/>
<path d="M100 844H152l118 10 69 37 48-1 38 26 31-13 26 77 23-17 20-13 18 17 16 71 15-37 14 39 12-35 12 94 11-60 10 130 10-96 9-44 9-51 8 49 8 73 8 12 7 53 7-129 6 149 7-173 6 30 6-21 6 26 5-8 6 37 5 47 5 18 5-51 5 0 4 25 5 11 4-82 5 73 4-14 4 21 4 4 4 40 4-48 3 47 4-66 4 23 3 65 3 10 4 56 3-184 3 20 4 29 3 52 3-97 3 52 3 9 3-5 2 74 3-21 3-29 3 27 2-3 3 28 3-61 2 284 3-200 2 108 3-121 2-16 2-49 3 63 2-26 2 43 3-37 2-9 2-24 2 59 2 93 2-32 3 17 2-95 2 189 2-213 2-9 2-12 2 60 1 51 2-31 2 5 2 68 2-78 2-26 2 87 1-109 2 65 2-24 2 31 1-58 2 12 2 84 1 89 2-156 2-31 1-11 2 153 1-135 2-5 1 67 2 86 2 60 1-79 2-152 1 42 1 139 2-78 1-83 2 51 1 31 2-77 1 160 1-102 2 39 1-59 2 85 1-4 1-14"/>
<path d="M100 896H152l118-26 69 27 48 34 38-31 31 145 26-84 23 76 20-102 18 66 16-50 15 198 14-169 12 176 12-146 11 83 10-32 10-51 9 36 9 47 8-36 8-8 8 91 7-127 7 48 6-5 7 47 6 124 6-140 6-49 5 51 6-17 5 21 5 47 5 19 5-86 4 43 5-34 4-7 5 65 4 14 4 82 4-139 4 45 4 2 3-105 4 135 4-73 3-8 3 13 4 32 3-35 3 63 4-27 3-7 3-1 3 21 3-5 3-2 2 29 3-63 3 35 3 3 2 40 3-82 3 87 2 4 3 65 2-87 3-28 2 50 2-29 3-20 2 89 2-59 3-18 2 117 2-118 2 72 2-2 2-41 3-1 2 9 2-4 2-11 2 26 2 99 2-136 1 58 2-42 2 42 2-4 2-35 2-5 2 26 1-23 2 28 2 38 2 83 1-188 2 95 2-70 1 11 2 51 2-57 1 134 2-95 1 46 2-7 1 76 2 24 2-155 1 14 2 58 1-39 1 51 2 35 1-128 2-21 1 128 2-61 1 10 1-20 2 12 1-41 2 12 1 163 1-154"/>
<path d="M100 846H152l118-43 69 185 48-99 38 132 31-36 26 29 23-3 20-80 18 34 16 27 15 4 14-30 12 33 12 32 11-25 10 169 10-91 9 19 9-14 8 68 8-111 8 53 7-65 7 5 6 128 7-131 6 106 6-111 6 102 5-6 6-18 5 41 5 177 5-129 5-99 4 127 5-142 4 17 5 47 4-44 4 76 4-12 4-71 4 56 3-15 4-69 4 102 3-62 3 155 4-116 3-26 3 25 4 20 3-52 3 2 3 4 3 76 3-74 2 113 3-76 3 21 3-14 2-27 3 108 3-159 2 95 3 12 2-25 3 15 2 13 2 55 3-64 2 10 2-18 3 10 2-5 2 36 2-45 2 54 2-65 3 60 2 18 2-20 2 93 2-126 2-22 2 75 1 108 2-111 2-45 2 193 2-75 2-53 2 122 1-182 2 59 2 7 2-71 1 20 2-11 2 61 1-68 2 14 2-15 1 279 2-275 1 19 2 115 1 57 2-83 2 167 1-183 2 94 1-60 1-95 2-6 1-31 2 34 1 90 2 80 1-151 1-59 2 130 1 32 2-151 1 87 1 152"/>
<path d="M100 871H152l118 20 69 6 48 74 38-90 31 133 26-88 23-9 20 53 18 37 16 7 15 90 14-136 12-3 12 40 11 70 10-109 10 52 9-1 9 84 8-89 8-21 8 125 7-122 7 45 6 75 7-45 6 64 6-82 6-33 5 38 6 26 5-18 5 47 5-94 5 224 4-166 5 158 4-124 5 7 4-26 4 31 4-24 4 227 4-274 3 29 4 25 4 38 3 42 3-11 4-78 3 10 3 31 4 64 3-35 3 0 3-15 3-3 3 6 2 72 3-92 3-9 3 134 2 86 3-101 3-67 2 66 3-50 2-48 3 21 2 108 2-124 3 76 2-52 2 3 3 37 2 15 2-51 2 7 2-36 2 104 3 9 2-36 2-27 2-23 2 53 2 4 2 49 1-44 2 2 2-4 2 106 2-177 2 35 2 25 1-57 2 30 2-5 2 14 1 1 2-20 2 13 1-22 2-11 2 120 1-49 2-54 1-45 2 277 1-186 2-28 2-16 1 219 2-164 1 15 1 107 2-140 1 80 2-69 1-45 2 31 1 78 1-99 2 26 1 2 2 53 1-30 1-81"/>
<path d="M100 912H152l118-40 69 80 48-31 38 55 31-22 26-38 23 76 20 125 18-146 16-10 15 1 14 44 12-66 12 87 11-16 10 18 10-56 9 23 9-14 8-14 8 98 8-6 7 1 7 7 6-34 7 13 6 59 6-56 6 6 5-10 6 93 5-86 5 148 5 64 5-118 4-9 5-11 4 40 5-73 4-22 4-10 4 195 4-19 4-17 3-83 4-73 4 96 3-53 3-35 4 177 3-96 3 56 4-46 3-37 3 114 3-74 3 21 3-52 2-10 3 53 3-81 3 141 2-77 3-20 3 40 2 25 3-2 2-43 3 39 2-19 2-19 3 40 2 27 2-56 3-34 2 231 2-85 2-115 2 40 2-70 3 19 2-4 2 144 2-72 2 29 2-51 2-27 1 144 2-129 2 53 2-66 2 34 2-2 2 8 1-10 2 70 2-2 2-116 1 62 2 81 2-21 1-117 2 64 2-23 1-11 2 139 1-114 2-7 1 101 2-98 2 35 1 87 2-78 1-16 1-60 2 51 1 22 2-54 1-40 2 26 1 89 1-86 2 8 1 45 2-37 1 58 1 38"/>
<path d="M100 850H152l118 4 69 125 48-3 38 4 31 27 26-78 23 2 20 4 18 35 16-18 15 92 14-91 12 52 12-8 11 39 10 98 10 23 9-139 9 38 8-8 8-54 8 154 7-46 7-38 6 54 7 13 6-9 6-19 6-69 5 56 6 57 5-27 5-68 5 37 5-7 4 114 5-121 4-46 5 36 4 9 4 78 4-46 4 92 4-109 3 26 4 3 4 30 3-68 3 42 4 112 3-39 3 12 4 160 3-233 3 78 3 1 3-79 3 5 2 55 3 10 3 5 3-51 2 135 3-152 3 21 2-15 3 70 2-45 3 115 2-124 2 65 3 3 2 14 2-30 3 28 2 87 2-127 2 37 2-14 2 189 3-98 2-97 2 31 2-67 2 67 2-79 2 19 1-13 2 13 2 144 2-116 2-52 2 56 2-56 1 243 2-208 2 156 2-151 1-24 2 148 2-115 1 75 2 68 2-153 1-36 2 107 1 141 2-138 1-48 2 75 2-107 1 78 2 23 1-99 1-13 2 164 1-87 2-49 1 50 2 142 1-83 1-141 2 112 1 13 2-34 1-59 1 18"/>
<path d="M100 871H152l118 78 69-49 48 40 38 3 31-11 26 25 23-32 20-3 18 50 16 108 15-97 14 85 12-53 12 24 11 97 10-4 10-21 9-70 9 8 8 13 8-20 8-26 7 84 7-50 6 132 7-143 6 32 6-36 6 41 5 73 6-40 5-66 5 94 5-86 5 99 4-6 5 22 4-67 5 53 4-32 4-72 4 56 4 175 4-207 3 114 4 5 4-78 3 99 3-118 4-23 3 107 3-50 4-3 3 1 3 72 3-78 3 80 3-27 2 1 3 58 3-28 3-67 2 14 3 89 3-124 2 176 3-151 2 5 3 25 2-2 2 35 3-38 2 36 2 3 3-8 2 68 2-48 2-48 2 148 2-142 3-10 2 24 2 11 2 19 2-23 2-1 2 82 1-96 2 9 2 109 2-117 2 72 2 124 2-89 1 86 2-177 2 52 2-20 1-8 2 79 2-111 1 113 2-11 2-37 1 38 2-132 1 42 2-7 1 140 2-101 2-28 1 63 2-41 1-15 1 60 2-98 1 170 2 34 1-117 2 81 1-46 1-92 2 20 1-69 2 105 1-44 1-53"/>
<path d="M100 841H152l118 45 69 5 48-47 38 123 31-32 26 21 23 9 20-30 18 83 16-82 15 22 14 144 12-15 12-56 11-33 10 58 10-76 9 32 9 6 8 15 8 15 8-1 7 44 7-51 6 16 7-47 6 174 6-175 6 56 5 57 6-42 5 77 5-80 5 16 5 81 4-34 5 8 4-82 5 27 4 31 4 8 4 30 4 4 4 26 3-79 4 25 4 62 3-86 3-25 4 28 3-12 3 118 4-65 3-37 3-34 3 146 3 63 3-140 2-23 3-17 3 106 3 113 2-188 3 113 3-124 2 65 3-23 2 7 3 3 2 37 2-1 3 7 2 115 2-134 3-35 2 42 2 46 2-10 2 95 2 17 3-103 2 77 2-177 2 52 2 36 2 27 2 134 1-162 2-41 2 7 2 17 2-7 2-4 2-54 1 81 2 76 2-44 2 10 1 3 2-26 2 106 1-218 2 15 2 85 1-74 2 31 1 45 2-2 1 17 2-74 2 204 1-139 2-19 1 12 1 71 2 12 1-77 2 109 1-153 2-7 1 78 1-67 2 30 1-74 2 207 1-114 1-77"/>
</g>
<path d="M100 868H151.86L151.9 868 269.6 871.5 338.5 884 387.4 909 425.3 929 456.3 933 482.5 951.4 505.1 960.3 525.2 958.7 543.1 968.6 559.3 968.8 574 984 587.6 990.6 600.2 1005 611.9 1005.7 622.9 1012.3 633.2 1011.7 642.9 1014 652.1 1021.9 660.8 1030 669.1 1032.4 677 1035.9 684.6 1042.7 691.8 1048.7 698.7 1054.4 705.4 1054.9 711.8 1056.9 718 1051.5 724 1060.2 729.7 1074.2 735.3 1079.5 740.7 1084 745.9 1085.4 751 1095.6 755.9 1090.1 760.7 1089.9 765.3 1095.9 769.9 1098.1 774.3 1097.9 778.6 1103.9 782.8 1106.6 786.9 1113 790.9 1118.6 794.8 1114.5 798.6 1123.8 802.3 1122.9 806 1126.9 809.6 1133.4 813.1 1134 816.5 1136.7 819.9 1143.4 823.2 1142.3 826.4 1150.5 829.6 1150.9 832.7 1152.7 835.8 1164.3 838.8 1163.1 841.7 1165.7 844.6 1173.3 847.5 1171.2 850.3 1179.2 853 1177.8 855.8 1178.9 858.4 1181.2 861.1 1187.1 863.7 1188.6 866.2 1194.1 868.7 1196.5 871.2 1199.2 873.7 1206.6 876.1 1204.7 878.4 1202 880.8 1214.1 883.1 1213.1 885.4 1214.1 887.6 1223.7 889.9 1223.8 892 1222.5 894.2 1230.1 896.3 1221.5 898.5 1234 900.5 1226.9 902.6 1238.4 904.6 1232.9 906.6 1240.4 908.6 1230.5 910.6 1247 912.5 1235.8 914.5 1251.1 916.4 1238 918.2 1256.2 920.1 1235.5 921.9 1257.9 923.7 1239.5 925.5 1261.9 927.3 1243 929.1 1258.7 930.8 1242.9 932.6 1262.6 934.3 1241.3 936 1268.3 937.6 1244.5 939.3 1265.5 940.9 1243.4 942.5 1263 944.2 1243.5 945.8 1264.4 947.3 1240.2 948.9 1265.8 950.5 1245.8 952 1269 953.5 1249.4 955 1266.5 956.5 1246.9 958 1269.4 959.5 1243 960.9 1269.3 962.4 1244.5 963.8 1265.9 965.2 1242.8 966.6 1272 968 1249.2 969.4 1265.1 970.8 1246.7 972.2 1268 973.5 1249 974.9 1272.7 976.2 1247.4" stroke="#f00" stroke-width="6.3" stroke-linecap="square"/>
<path d="M100 853.5 151.9 853.5 269.6 872.5 338.5 887.5 387.4 905 425.3 932.5 456.3 935.5 482.5 950 505.2 957.5 525.2 962.5 543.1 970 559.3 976 574.1 982.5 587.7 990 588.7 990.5 590 991.1 591.5 991.8 593.2 992.6 595 993.4 596.8 994.3 598.6 995.2 600.2 996 601.7 996.8 603 997.6 604.4 998.4 605.7 999.3 607.1 1000.1 608.5 1000.9 610.1 1001.7 611.9 1002.5 613.8 1003.2 615.6 1003.7 617.6 1004.2 619.6 1004.8 621.8 1005.4 624.3 1006.1 627 1007.1 630 1008.3 633.4 1009.9 637.3 1011.7 641.4 1013.7 645.7 1015.9 650.1 1018.1 654.6 1020.5 659 1022.8 663.3 1025 667.5 1027.2 671.6 1029.4 675.8 1031.6 679.9 1033.9 684.1 1036.2 688.3 1038.5 692.5 1040.9 696.7 1043.3 701 1045.8 705.4 1048.4 709.8 1051 714.2 1053.7 718.6 1056.4 722.9 1059 727.2 1061.7 731.4 1064.3 735.5 1066.8 739.5 1069.3 743.4 1071.8 747.3 1074.2 751.1 1076.7 754.9 1079.3 758.8 1081.9 762.7 1084.7 766.6 1087.6 770.5 1090.6 774.5 1093.6 778.4 1096.8 782.3 1100 786.2 1103.2 790.2 1106.5 794.1 1109.8 798 1113.1 802 1116.4 805.9 1119.7 809.8 1123.1 813.7 1126.6 817.6 1130.2 821.6 1134 825.5 1138 829.4 1142.2 833.4 1146.7 837.3 1151.3 841.2 1156.1 845.1 1160.9 849.1 1165.8 853 1170.8 856.9 1175.7 860.8 1180.7 864.7 1185.7 868.6 1190.8 872.5 1195.9 876.5 1201.1 880.4 1206.2 884.3 1211.4 888.2 1216.5 892.1 1221.6 896 1226.6 900 1231.7 903.9 1236.7 907.8 1241.8 911.7 1246.9 915.7 1252.1 919.6 1257.3 923.6 1262.7 927.6 1268.4 931.7 1274.2 935.7 1280 939.7 1285.8 943.6 1291.3 947.4 1296.4 951 1301.2 954.6 1305.7 958.3 1310 961.9 1314.2 965.5 1318 968.7 1321.6 971.7 1324.7 974.1 1327.3 976 1329.4" stroke="#1f77b4" stroke-width="6.3" stroke-linecap="square"/>
<path d="M100 791.16H151.86L151.9 791.2 269.6 791.2 338.5 791.2 387.4 791.2 425.3 791.2 456.3 791.2 482.5 791.3 505.1 791.3 525.2 791.3 543.1 791.4 559.3 791.4 574 791.4 587.6 791.5 600.2 791.5 611.9 791.6 622.9 791.7 633.2 791.7 642.9 791.8 652.1 791.9 660.8 791.9 669.1 792 677 792.1 684.6 792.2 691.8 792.3 698.7 792.4 705.4 792.5 711.8 792.6 718 792.7 724 792.8 729.7 792.9 735.3 793 740.7 793.2 745.9 793.3 751 793.4 755.9 793.6 760.7 793.7 765.3 793.8 769.9 794 774.3 794.1 778.6 794.3 782.8 794.5 786.9 794.6 790.9 794.8 794.8 795 798.6 795.1 802.3 795.3 806 795.5 809.6 795.7 813.1 795.9 816.5 796.1 819.9 796.3 823.2 796.5 826.4 796.7 829.6 796.9 832.7 797.1 835.8 797.4 838.8 797.6 841.7 797.8 844.6 798.1 847.5 798.3 850.3 798.6 853 798.8 855.8 799.1 858.4 799.3 861.1 799.6 863.7 799.8 866.2 800.1 868.7 800.4 871.2 800.7 873.7 801 876.1 801.2 878.4 801.5 880.8 801.8 883.1 802.1 885.4 802.4 887.6 802.8 889.9 803.1 892 803.4 894.2 803.7 896.3 804.1 898.5 804.4 900.5 804.7 902.6 805.1 904.6 805.4 906.6 805.8 908.6 806.1 910.6 806.5 912.5 806.9 914.5 807.3 916.4 807.6 918.2 808 920.1 808.4 921.9 808.8 923.7 809.2 925.5 809.6 927.3 810 929.1 810.4 930.8 810.9 932.6 811.3 934.3 811.7 936 812.2 937.6 812.6 939.3 813 940.9 813.5 942.5 814 944.2 814.4 945.8 814.9 947.3 815.4 948.9 815.8 950.5 816.3 952 816.8 953.5 817.3 955 817.8 956.5 818.3 958 818.9 959.5 819.4 960.9 819.9 962.4 820.4 963.8 821 965.2 821.5 966.6 822.1 968 822.7 969.4 823.2 970.8 823.8 972.2 824.4 973.5 825 974.9 825.5 976.2 826.1" stroke="#ff7f0e" stroke-width="6.2" stroke-dasharray="22.65 9.6" stroke-dashoffset="17.35"/>
<path d="M456.3 837.5 480.4 847 501.5 855.3 520.3 862.7 537.2 869.3 552.6 875.4 566.7 880.9 579.7 886 591.8 890.8 603.1 895.2 613.7 899.4 623.6 903.3 633 907 642 910.5 650.4 913.8 658.5 917 666.2 920 673.6 922.9 680.6 925.7 687.4 928.4 693.9 931 700.2 933.4 706.3 935.8 712.1 938.1 717.8 940.3 723.2 942.5 728.5 944.6 733.7 946.6 738.7 948.6 743.5 950.5 748.2 952.3 752.8 954.1 757.3 955.9 761.6 957.6 765.9 959.3 770 960.9 774.1 962.5 778 964 781.9 965.5 785.6 967 789.3 968.5 792.9 969.9 796.5 971.3 799.9 972.6 803.3 974 806.6 975.3 809.9 976.6 813.1 977.8 816.3 979.1 819.3 980.3 822.4 981.5 825.4 982.6 828.3 983.8 831.2 984.9 834 986 836.8 987.1 839.5 988.2 842.2 989.3 844.9 990.3 847.5 991.3" stroke="#00bfbf" stroke-width="6.2" stroke-dasharray="22.65 9.6"/>
</g>
<path d="M103.1 1372.87H110.3 M103.1 1280.55H110.3 M103.1 1188.23H110.3 M103.1 1095.91H110.3 M103.1 1003.59H110.3 M103.1 911.27H110.3 M103.1 818.95H110.3 M338.5 1437.4V1444.6 M729.7 1437.4V1444.6" stroke="#000" stroke-width="1.7" fill="none"/>
<path d="M106.1 1437.4H110.3 M106.1 1421.14H110.3 M106.1 1409.61H110.3 M106.1 1400.66H110.3 M106.1 1393.35H110.3 M106.1 1387.17H110.3 M106.1 1381.81H110.3 M106.1 1377.09H110.3 M106.1 1345.08H110.3 M106.1 1328.82H110.3 M106.1 1317.29H110.3 M106.1 1308.34H110.3 M106.1 1301.03H110.3 M106.1 1294.85H110.3 M106.1 1289.49H110.3 M106.1 1284.77H110.3 M106.1 1252.76H110.3 M106.1 1236.5H110.3 M106.1 1224.97H110.3 M106.1 1216.02H110.3 M106.1 1208.71H110.3 M106.1 1202.53H110.3 M106.1 1197.17H110.3 M106.1 1192.45H110.3 M106.1 1160.44H110.3 M106.1 1144.18H110.3 M106.1 1132.65H110.3 M106.1 1123.7H110.3 M106.1 1116.39H110.3 M106.1 1110.21H110.3 M106.1 1104.85H110.3 M106.1 1100.13H110.3 M106.1 1068.12H110.3 M106.1 1051.86H110.3 M106.1 1040.33H110.3 M106.1 1031.38H110.3 M106.1 1024.07H110.3 M106.1 1017.89H110.3 M106.1 1012.53H110.3 M106.1 1007.81H110.3 M106.1 975.8H110.3 M106.1 959.54H110.3 M106.1 948.01H110.3 M106.1 939.06H110.3 M106.1 931.75H110.3 M106.1 925.57H110.3 M106.1 920.21H110.3 M106.1 915.49H110.3 M106.1 883.48H110.3 M106.1 867.22H110.3 M106.1 855.69H110.3 M106.1 846.74H110.3 M106.1 839.43H110.3 M106.1 833.25H110.3 M106.1 827.89H110.3 M106.1 823.17H110.3 M106.1 791.16H110.3 M106.1 774.9H110.3 M133.95 1437.4V1441.6 M182.83 1437.4V1441.6 M220.74 1437.4V1441.6 M251.71 1437.4V1441.6 M277.9 1437.4V1441.6 M300.59 1437.4V1441.6 M320.6 1437.4V1441.6 M456.26 1437.4V1441.6 M525.15 1437.4V1441.6 M574.03 1437.4V1441.6 M611.94 1437.4V1441.6 M642.91 1437.4V1441.6 M669.1 1437.4V1441.6 M691.79 1437.4V1441.6 M711.8 1437.4V1441.6 M847.46 1437.4V1441.6 M916.35 1437.4V1441.6 M965.23 1437.4V1441.6 M1003.14 1437.4V1441.6" stroke="#000" stroke-width="1.3" fill="none"/>
<rect x="110.3" y="774.9" width="906.3" height="662.5" fill="none" stroke="#000" stroke-width="1.7"/>
<text transform="matrix(0.2307 0 0 0.2180 47.24 826.85)" style="font-size:100px;" fill="#000">10</text>
<text transform="matrix(0.1708 0 0 0.1540 74.26 820.95)" style="font-size:100px;" fill="#000">−</text>
<text transform="matrix(0.1617 0 0 0.1540 85.6 819.25)" style="font-size:100px;" fill="#000">1</text>
<text transform="matrix(0.2307 0 0 0.2180 47.24 919.17)" style="font-size:100px;" fill="#000">10</text>
<text transform="matrix(0.1708 0 0 0.1540 74.26 913.27)" style="font-size:100px;" fill="#000">−</text>
<text transform="matrix(0.1617 0 0 0.1540 85.62 911.57)" style="font-size:100px;" fill="#000">2</text>
<text transform="matrix(0.2307 0 0 0.2180 47.24 1011.49)" style="font-size:100px;" fill="#000">10</text>
<text transform="matrix(0.1708 0 0 0.1540 74.26 1005.59)" style="font-size:100px;" fill="#000">−</text>
<text transform="matrix(0.1617 0 0 0.1540 85.52 1003.89)" style="font-size:100px;" fill="#000">3</text>
<text transform="matrix(0.2307 0 0 0.2180 47.24 1103.81)" style="font-size:100px;" fill="#000">10</text>
<text transform="matrix(0.1708 0 0 0.1540 74.26 1097.91)" style="font-size:100px;" fill="#000">−</text>
<text transform="matrix(0.1617 0 0 0.1540 85.28 1096.21)" style="font-size:100px;" fill="#000">4</text>
<text transform="matrix(0.2307 0 0 0.2180 47.24 1196.13)" style="font-size:100px;" fill="#000">10</text>
<text transform="matrix(0.1708 0 0 0.1540 74.26 1190.23)" style="font-size:100px;" fill="#000">−</text>
<text transform="matrix(0.1617 0 0 0.1540 85.49 1188.53)" style="font-size:100px;" fill="#000">5</text>
<text transform="matrix(0.2307 0 0 0.2180 47.24 1288.45)" style="font-size:100px;" fill="#000">10</text>
<text transform="matrix(0.1708 0 0 0.1540 74.26 1282.55)" style="font-size:100px;" fill="#000">−</text>
<text transform="matrix(0.1617 0 0 0.1540 85.52 1280.85)" style="font-size:100px;" fill="#000">6</text>
<text transform="matrix(0.2307 0 0 0.2180 47.24 1380.77)" style="font-size:100px;" fill="#000">10</text>
<text transform="matrix(0.1708 0 0 0.1540 74.26 1374.87)" style="font-size:100px;" fill="#000">−</text>
<text transform="matrix(0.1617 0 0 0.1540 85.62 1373.17)" style="font-size:100px;" fill="#000">7</text>
<text transform="matrix(0.2227 0 0 0.2180 320.4 1468.4)" style="font-size:100px;" fill="#000">10</text>
<text transform="matrix(0.1617 0 0 0.1540 347.07 1460)" style="font-size:100px;" fill="#000">0</text>
<text transform="matrix(0.2227 0 0 0.2180 711.6 1468.4)" style="font-size:100px;" fill="#000">10</text>
<text transform="matrix(0.1617 0 0 0.1540 738.07 1460)" style="font-size:100px;" fill="#000">1</text>
<text transform="matrix(0.3464 0 0 0.3436 553.92 1505.2)" style="font-size:100px;font-style:italic;" fill="#000">k</text>
<text transform="matrix(0 -0.3016 0.3416 0 27.4 1161.18)" style="font-size:100px;font-style:italic;" fill="#000">P</text>
<text transform="matrix(0 -0.2507 0.2253 0 32.52 1141.14)" style="font-size:100px;font-style:italic;" fill="#000">ρ</text>
<text transform="matrix(0 -0.2273 0.2398 0 33 1126.48)" style="font-size:100px;" fill="#000">1</text>
<text transform="matrix(0 -0.2551 0.2395 0 33.15 1113.01)" style="font-size:100px;font-style:italic;" fill="#000">d</text>
<text transform="matrix(0 -0.2942 0.3124 0 25.43 1096.47)" style="font-size:100px;" fill="#000">(</text>
<text transform="matrix(0 -0.3464 0.2539 0 27.4 1083.93)" style="font-size:100px;font-style:italic;" fill="#000">k</text>
<text transform="matrix(0 -0.2640 0.3124 0 25.43 1063.2)" style="font-size:100px;" fill="#000">)</text>
<text transform="matrix(0.3799 0 0 0.3459 150.43 1235.21)" style="font-size:100px;font-style:italic;" fill="#000">θ</text>
<text transform="matrix(0.4199 0 0 0.2948 179.15 1234.7)" style="font-size:100px;" fill="#000">=</text>
<text transform="matrix(0.3473 0 0 0.3475 211.84 1235.11)" style="font-size:100px;" fill="#000">0</text>
<text transform="matrix(0.3853 0 0 0.3521 232.6 1236.34)" style="font-size:100px;" fill="#000">°</text>
<text transform="matrix(0.3521 0 0 0.3478 643.32 882.45)" style="font-size:100px;font-style:italic;" fill="#00bfbf">k</text>
<text transform="matrix(0.3108 0 0 0.3086 664.37 873.11)" style="font-size:100px;" fill="#00bfbf">−</text>
<text transform="matrix(0.2465 0 0 0.2390 683.91 870.05)" style="font-size:100px;" fill="#00bfbf">5/3</text>
<rect x="126.7" y="1263.35" width="350.4" height="157.8" rx="6" ry="6" fill="#fff" fill-opacity="0.8" stroke="#d6d6d6" stroke-width="1.6"/>
<path d="M139.5 1289.55H204.5" stroke="#f00" stroke-width="6.2" stroke-linecap="square"/>
<path d="M139.5 1337.25H204.5" stroke="#1f77b4" stroke-width="6.2" stroke-linecap="square"/>
<path d="M139.5 1390.15H204.5" stroke="#ff7f0e" stroke-width="6.0" stroke-dasharray="22.6 9.6"/>
<text transform="matrix(0.3672 0 0 0.3360 230.44 1301.15)" style="font-size:100px;" fill="#000">averaged</text>
<text transform="matrix(0.3871 0 0 0.3360 231.46 1348.95)" style="font-size:100px;" fill="#000">&quot;true&quot;</text>
<path d="M255.85 1385.3 C251.73 1385.3 249.68 1396.2 245.56 1396.2 C241.88 1396.2 241.15 1393.47 241.15 1390.75 C241.15 1388.03 241.88 1385.3 245.56 1385.3 C249.68 1385.3 251.73 1396.2 255.85 1396.2" fill="none" stroke="#000" stroke-width="2.1"/>
<text transform="matrix(0.3579 0 0 0.3360 266.8 1400.25)" style="font-size:100px;" fill="#000">sinc</text>
<text transform="matrix(0.2393 0 0 0.2220 331.5 1388.05)" style="font-size:100px;" fill="#000">2</text>
<text transform="matrix(0.2791 0 0 0.3081 347.47 1398.17)" style="font-size:100px;" fill="#000">(</text>
<text transform="matrix(0.3388 0 0 0.3340 359.84 1400.45)" style="font-size:100px;font-style:italic;" fill="#000">k</text>
<text transform="matrix(0.3454 0 0 0.3387 377.87 1400.45)" style="font-size:100px;" fill="#000">Δ</text>
<text transform="matrix(0.2687 0 0 0.3331 402.28 1400.45)" style="font-size:100px;font-style:italic;" fill="#000">x</text>
<text transform="matrix(0.3203 0 0 0.3772 416.5 1403.18)" style="font-size:100px;" fill="#000">/</text>
<text transform="matrix(0.3490 0 0 0.3337 428.74 1400.45)" style="font-size:100px;" fill="#000">2</text>
<text transform="matrix(0.2866 0 0 0.3081 452.63 1398.17)" style="font-size:100px;" fill="#000">)</text>
<clipPath id="c2"><rect x="110.3" y="1547.25" width="906.3" height="662.45"/></clipPath>
<g clip-path="url(#c2)" fill="none" stroke-linejoin="round">
<g stroke="#000" stroke-opacity="0.2" stroke-width="3" stroke-linecap="square">
<path d="M100 1636H151l97-9 57 73 40 0 32 89 25-65 22 29 18 90 17-5 14 77 14 5 12-187 11-14 11 17 9 79 9 0 9 9 8-33 7 1 7-11 7 96 7-32 6 42 6 2 6-22 5 10 5-23 5-29 5 81 5-65 5 65 4-74 4 24 5 23 4-36 4 30 3 12 4-7 4 14 3-23 4 9 3 18 3-68 4 85 3 32 3-100 3 49 3-25 3 65 3-12 2-29 3 3 3 11 2 8 3-40 2 24 3-22 2 80 3 21 2-117 2 7 3 16 2 94 2-31 2-16 2 76 2-75 3-14 2 53 2-3 2-17 2-20 1-24 2-49 2 115 2 15 2-24 2-38 2-38 1 61 2-1 2 15 1-25 2 64 2-27 1-23 2 58 2-62 1 63 2-22 1-76 2-12 1 95 2-73 1-11 2 52 1 73 2-43 1-91 2 92 1-69 1 27 2 297 1-150 1-113 2-35 1 22 1-60 2 68 1 58 1 21 1-56 2-22 1 4 1 96 1-75 1-17 2 86 1-55 1 53 1-50 1-42 1-13 2 22 1-12 1-22 1 69 1-21 1-4 1-24 1 54 1 22 1-74 1 53 1 38 2-59 1 69 1 32 1-59 1-55 1-5 1 3 1 53 1 33 0-34 1 75 1-120 1 105 1-69 1-37 1 31 1 36 1-21 1-10 1-4 1-47 1-13 0 37 1 51 1-58 1 42 1 14 1 33 1-73 1-15 0 23 1-4 1 102 1-38 1 3 1-74 0 4 1 3 1 17 1 56 1-85 0 12 1 27 1 103 1-77 0 41 1-55 1-38 1 66 1-41 0 12 1-9 1 12 1 4 0 78 1-53 1 7 0-61 1-42 1 63 1 130 0-96 1-40 1 14 0-23 1 79 1-92 1 35 0-42 1 223 1-169 0 3 1 22 1 13 0 36 1-5 1 23 0-134 1 18 1-21 0 46 1-43 0 123 1-54 1-44 0 18 1 0 1 83 0-54 1-63 1 76 0-24 1-23 0-76 1 74 1-31 0 23 1 9 0 71 1-6 1-64 0-26 1-20 0 48 1 128 1-122 0-6 1-2 0 20 1-34 0 35 1 3 1 38 0-97 1 134 0-75 1-62 0 11 1 40 0 48 1-98 1 35 0-6 1-5 0 4 1 31 0 14 1-22 0 0 1 5 0-6 1-21 0-10 1-4 0 51 1-40 0 129 1-58 0-69 1 35 0 2 1-39 1 70 0-66 1 68 0-98 1 76 0-21 0 55 1-12 0-105 1 79 0-85 1 74 0-20 1 53 0-87 1 41 0 12 1-35 0 75 1-44 0 18 1-63 0 39 1-7 0 45 1-45 0 62 0 25 1-53 0-56 1 33 0-26 1-32 0 164 1-69 0-84 1 23 0 28 0-16 1 51 0 20 1-89 0 6 1 35 0-42 0-34 1 78 0 15 1-34 0 27 1 21 0 18 0-107 1 16 0-1 1 29 0 85 1-57 0-85 0-5 1 135 0-38 1-58 0-20 0-6 1 19 0-28 1 112 0 23 1-100 0 36 0-11 1 2 0 23 1 24 0-24 0-52 1-22 0 49 0-50 1 23 0-4 1 38 0 48"/>
<path d="M100 1677H151l97 6 57 17 40 16 32-13 25 18 22 0 18 68 17-42 14-7 14 17 12 7 11 15 11 193 9-51 9 51 9-138 8 58 7-73 7-3 7 70 7-83 6 49 6 27 6-66 5-7 5 48 5 31 5 11 5-78 5 125 4-90 4-31 5 155 4-42 4-85 3-14 4 48 4-22 3-26 4 33 3-6 3 100 4 42 3-125 3 6 3 46 3 5 3-99 3 55 2 24 3 4 3 6 2-50 3 28 2 51 3 52 2-62 3-57 2 15 2 33 3 4 2-60 2 233 2-206 2 33 2 37 3-19 2-39 2 3 2 0 2 8 1-22 2 46 2 46 2-89 2 106 2-93 2 22 1 6 2 0 2-43 1 41 2-18 2 15 1 21 2-15 2-60 1 81 2 27 1 1 2 12 1-21 2-8 1 19 2-50 1 28 2-22 1 119 2-125 1 7 1 7 2 16 1 14 1 12 2 5 1-18 1-50 2 103 1-38 1 6 1-33 2 29 1-25 1 74 1 58 1-120 2 57 1-5 1-77 1-8 1 37 1 2 2 46 1-32 1 52 1-99 1-15 1 25 1 35 1 55 1-96 1 84 1-50 1-36 2 29 1 53 1-25 1 22 1 46 1-32 1-97 1 86 1 68 0-53 1-34 1 45 1-52 1 34 1-96 1 93 1 24 1-71 1 75 1 37 1 10 1-38 0 57 1-76 1 9 1 27 1-43 1 39 1 26 1-83 0 14 1-32 1 22 1-45 1 90 1-58 0 61 1-5 1-23 1-74 1 96 0 36 1-41 1 23 1-73 0 2 1 53 1 35 1-26 1 0 0-35 1-43 1-33 1 63 0 37 1-49 1-2 0 46 1-17 1 20 1 1 0-24 1-28 1 21 0-24 1 37 1 4 1 43 0-68 1-6 1 17 0 55 1-101 1 9 0-22 1 100 1-11 0 64 1-89 1-79 0 86 1-27 0 41 1-8 1 8 0-1 1 22 1-8 0-38 1 91 1-60 0-6 1 34 0-56 1 21 1-17 0-39 1 51 0-4 1 18 1-45 0 18 1-20 0 83 1-78 1 33 0-28 1 54 0-17 1-48 0 59 1-67 1-14 0 80 1 22 0-49 1-24 0 58 1-42 0 9 1 113 1-182 0 65 1 44 0-49 1 36 0-2 1 6 0 75 1-43 0-113 1 67 0-78 1 142 0-95 1 2 0 47 1 8 0-41 1-30 0-15 1 80 1 91 0-172 1 1 0 101 1-71 0 74 0-18 1-12 0-71 1 93 0-38 1 75 0-79 1-30 0-2 1 4 0-9 1 31 0 16 1-15 0-58 1 59 0 25 1-48 0 43 1-83 0 80 0-19 1-43 0 115 1-100 0 62 1 2 0-64 1-10 0 55 1 20 0-110 0 82 1-66 0 40 1 44 0 4 1-4 0 65 0-145 1 27 0 10 1 30 0 56 1-25 0-49 0-41 1 182 0-118 1-14 0-26 1-17 0-11 0 83 1-66 0 109 1-43 0-22 0-44 1 50 0-18 1 6 0 16 1-40 0 0 0-8 1 57 0 10 1-30 0 15 0 7 1-7 0 52 0-5 1-101 0 73 1-75 0-16"/>
<path d="M100 1653H151l97-9 57 83 40 22 32-56 25 39 22-38 18 83 17-3 14-13 14-15 12-11 11 12 11 226 9-179 9 58 9-51 8 12 7 134 7-91 7-52 7 46 6 13 6-29 6 231 5-270 5 53 5-55 5 79 5 130 5-96 4 52 4-127 5 88 4-29 4-49 3-25 4 64 4 57 3-52 4 40 3-57 3-8 4 16 3 10 3-19 3 49 3-5 3 15 3-78 2 51 3 2 3 5 2-6 3 10 2 31 3-86 2 182 3-138 2 54 2-56 3 15 2 125 2-62 2-93 2 45 2 77 3-34 2-33 2-21 2 51 2-17 1-44 2 28 2-10 2-8 2-14 2 64 2 12 1-76 2 54 2-44 1 5 2 50 2-67 1 78 2-1 2-43 1 59 2 14 1-79 2 49 1-42 2 12 1-9 2 9 1 47 2 27 1-90 2 43 1 52 1-89 2 88 1-85 1 148 2-125 1 18 1 10 2 12 1 89 1-193 1 93 2 38 1-24 1-14 1 69 1-73 2 43 1 6 1-97 1 69 1-5 1-10 2-1 1 36 1 41 1-39 1 17 1-25 1 5 1 4 1-56 1 64 1-31 1 132 2-85 1-61 1 219 1-207 1 13 1-24 1 36 1-12 1-46 0 39 1 3 1-8 1 85 1-79 1-27 1 110 1 21 1-40 1-70 1 1 1 31 1-29 0 85 1-66 1 220 1-179 1-34 1 40 1-47 1 40 0-10 1-11 1 2 1 90 1-120 1 58 0 17 1-45 1 24 1 175 1-68 0-152 1 73 1-81 1 5 0-9 1 171 1-152 1 85 1-22 0-88 1 77 1 28 1-40 0-67 1 44 1 15 0-8 1-24 1 24 1 30 0-24 1 31 1 38 0-35 1-58 1 35 1-26 0-27 1 57 1 38 0-115 1 128 1-121 0 84 1-3 1 37 0-37 1 35 1-16 0 6 1 38 0-70 1 92 1-125 0 4 1 34 1 1 0 37 1-83 1 2 0 90 1-45 0 15 1-43 1 81 0-2 1-36 0-41 1 25 1-81 0 80 1 20 0-15 1 14 1-74 0 189 1-178 0 47 1 12 0 12 1-26 1-28 0 2 1 53 0 0 1-49 0 50 1-35 0 23 1-78 1 37 0 5 1 61 0-47 1-40 0 83 1-41 0 52 1-74 0 83 1-88 0 19 1-2 0 18 1-22 0 26 1 12 0 116 1-101 0-15 1-32 1-7 0 3 1 38 0 63 1-73 0-69 0-20 1 222 0-147 1-50 0 21 1 75 0 50 1-108 0-4 1 29 0 26 1-51 0 73 1-54 0 51 1-5 0-53 1 9 0 22 1 94 0-148 0 37 1-35 0-19 1 74 0-25 1-7 0-59 1 43 0 61 1-60 0 34 0-9 1-49 0 83 1-28 0 72 1-122 0 33 0-35 1 73 0-32 1-43 0 62 1-13 0-2 0 109 1-121 0-2 1 48 0 31 1-30 0-88 0 74 1 25 0-30 1-62 0-5 0 50 1-9 0-25 1 114 0-133 1 53 0 24 0-45 1 71 0 58 1-157 0 19 0-7 1 83 0-13 0-63 1-25 0 54 1-68 0 54"/>
<path d="M100 1674H151l97-32 57 155 40-26 32-117 25 65 22 87 18-57 17 31 14 36 14 14 12-8 11-81 11 36 9-18 9 124 9-43 8 54 7-105 7 99 7-95 7 71 6 15 6-115 6 135 5-48 5-62 5 45 5 21 5-36 5 133 4-86 4 22 5-13 4 54 4-59 3 23 4-10 4 17 3-70 4 37 3 61 3-28 4 60 3-73 3-4 3-19 3 49 3-34 3 62 2-25 3 6 3 4 2 37 3-16 2-23 3-42 2 54 3 39 2-79 2 120 3-64 2-30 2 88 2-58 2-94 2 59 3-1 2 48 2-4 2 75 2-44 1-62 2 82 2 26 2-65 2-41 2 2 2 123 1-97 2-17 2-12 1 62 2-9 2 78 1-8 2-19 2-32 1-16 2-3 1-8 2-9 1 6 2-40 1 93 2 15 1-44 2-13 1-37 2 147 1-69 1-34 2 80 1-58 1-38 2 29 1 7 1-1 2-49 1 32 1-31 1 58 2 104 1-110 1-38 1 36 1-54 2 29 1-32 1 44 1 33 1-48 1-5 2-13 1-18 1 53 1 4 1-54 1 25 1 24 1 44 1-42 1-7 1 88 1 8 2-46 1-30 1-20 1 53 1-65 1 39 1-38 1 42 1 53 0-22 1-22 1 37 1-76 1 35 1-5 1 32 1-3 1-47 1-20 1 55 1-18 1-20 0 48 1 70 1-68 1 1 1-41 1 31 1-18 1 10 0 72 1-99 1 101 1-52 1-24 1 45 0-28 1-12 1 65 1-92 1 119 0-39 1-86 1 47 1 23 0-51 1 11 1 50 1-5 1 15 0-22 1-25 1-26 1 65 0-2 1 35 1-60 0 16 1 78 1-112 1-35 0 27 1 93 1-52 0-2 1 0 1-21 1-12 0 154 1-99 1 55 0-120 1 38 1 19 0 49 1-47 1-43 0 30 1 124 1-136 0-4 1 53 0 39 1-130 1 29 0 7 1 38 1 4 0 24 1-35 1-3 0 11 1-7 0 14 1 24 1-54 0-18 1 14 0 80 1-90 1 113 0-104 1 62 0-106 1 78 1-20 0-24 1 52 0-77 1 105 0-24 1-17 1-3 0-28 1 68 0-67 1 14 0 21 1-41 0 72 1 7 1-26 0 133 1-163 0 34 1-84 0 80 1 57 0-88 1-16 0 10 1 39 0-16 1-7 0-32 1 29 0 15 1 32 0-30 1-27 0-45 1 93 1-31 0 9 1-65 0 62 1 3 0-67 0 58 1-11 0 79 1-99 0-20 1 48 0 26 1-77 0 32 1-6 0 58 1 17 0-79 1 49 0 96 1-111 0-35 1-25 0 84 1-5 0-51 0 23 1 14 0 6 1-12 0 68 1-51 0-61 1-12 0 74 1-56 0 24 0 25 1 43 0-70 1-1 0-4 1 29 0 69 0-28 1-50 0-32 1-3 0 41 1 1 0 18 0-79 1-4 0 76 1-75 0 107 1-84 0 74 0-50 1 33 0 19 1-110 0 116 0-44 1 103 0-166 1 65 0-16 1-8 0 26 0-28 1-40 0 96 1-85 0 11 0 34 1-6 0-47 0 22 1 23 0 100 1-8 0-91"/>
<path d="M100 1686H151l97 14 57-38 40 35 32 13 25 68 22-22 18-50 17 36 14 122 14-103 12 66 11-26 11 10 9-71 9 58 9 90 8-40 7-36 7 8 7 93 7-112 6 13 6-17 6 81 5-11 5-23 5 27 5-65 5 36 5-1 4-10 4 184 5-209 4 15 4 125 3-74 4 77 4 63 3-159 4 37 3 0 3 26 4-10 3-82 3 262 3-189 3-7 3 21 3-55 2 120 3-106 3 11 2 18 3-19 2 74 3-41 2-19 3 40 2 39 2-21 3 21 2-20 2-73 2 150 2-85 2-34 3 113 2-86 2-44 2 27 2-18 1 59 2-3 2 41 2-30 2-35 2 44 2-20 1-18 2 12 2-1 1-23 2 20 2 64 1-35 2-58 2 73 1-32 2-60 1 86 2-43 1 78 2-66 1 20 2-5 1 15 2 117 1-32 2-115 1 31 1 2 2-62 1 73 1-48 2 41 1-39 1 29 2 52 1-35 1 22 1 42 2-94 1 2 1 85 1-63 1-34 2 10 1 77 1-62 1 102 1-104 1 113 2-41 1-74 1 62 1-8 1 29 1-88 1 143 1 64 1-108 1-70 1 57 1-11 2-72 1 11 1 132 1-83 1-31 1 38 1-3 1-29 1 46 0 11 1 32 1-53 1 5 1-27 1 17 1-56 1 11 1 70 1-26 1 69 1-60 1-23 0-1 1 2 1 12 1 110 1-3 1-92 1-1 1 76 0 5 1-75 1 26 1-12 1 26 1-74 0 133 1-147 1 129 1-110 1 44 0 41 1-77 1 28 1-4 0 42 1-24 1-6 1 22 1 36 0-67 1 37 1-65 1 27 0 30 1-78 1 93 0-70 1-3 1 46 1 27 0-58 1 177 1-138 0-23 1 75 1-48 1 44 0-86 1 19 1-15 0-24 1 53 1 71 0-13 1-7 1 35 0-100 1 118 1-102 0 90 1-118 0-12 1 168 1-93 0-30 1-6 1 30 0-51 1-9 1-1 0 53 1-26 0-55 1-16 1 67 0 10 1 65 0-124 1 2 1 74 0 44 1 15 0-92 1 2 1-2 0 59 1-49 0 0 1-37 0 46 1 37 1-73 0 60 1-20 0 10 1-34 0 87 1-55 0 3 1 13 1 8 0-56 1 69 0-46 1-22 0-31 1 205 0-81 1-53 0 16 1-53 0-13 1 23 0-17 1 68 0-89 1 1 0 45 1 88 0-79 1-35 1-26 0 75 1-38 0 20 1 62 0-145 0 20 1 2 0 164 1-128 0 48 1-78 0 22 1 29 0 4 1 55 0-7 1-53 0 10 1 13 0-90 1 51 0-37 1 50 0 18 1 10 0-67 0 49 1 71 0-72 1 37 0-17 1-7 0 47 1-111 0 4 1 24 0-30 0 94 1-106 0 105 1-91 0 148 1-106 0-53 0 81 1 24 0-104 1 77 0 37 1-94 0 21 0 76 1-113 0 69 1-27 0-25 1 91 0-70 0-14 1 113 0-115 1 112 0-87 0-24 1 70 0 2 1-58 0 92 1-88 0-43 0-13 1 72 0 9 1 116 0-55 0 77 1-169 0-22 0 121 1-118 0 10 1 36 0 25"/>
<path d="M100 1643H151l97 93 57-62 40 47 32 179 25-34 22-170 18 105 17-68 14 28 14 76 12-112 11 141 11-19 9-37 9 46 9-68 8 31 7 72 7-6 7-99 7 67 6 68 6-105 6-33 5 42 5-30 5 40 5-20 5 55 5-52 4-11 4-22 5 146 4-76 4 111 3-107 4 164 4-127 3-63 4 72 3 70 3-115 4 67 3-17 3-74 3 71 3-77 3 104 3-36 2 28 3 28 3 18 2-75 3 243 2-230 3-50 2 82 3 41 2-54 2-45 3 29 2 56 2-34 2 90 2-126 2 54 3 100 2-96 2 36 2-35 2-42 1 50 2-41 2 41 2-3 2 67 2-36 2-66 1 17 2 33 2 81 1-108 2 16 2-44 1 27 2 56 2 15 1-51 2-10 1-22 2 132 1-174 2 144 1-99 2 37 1-62 2 55 1-16 2-15 1-4 1 32 2 52 1-48 1 59 2 15 1-93 1 49 2-42 1-28 1 276 1-198 2 39 1 12 1-16 1-16 1-61 2-36 1 49 1 66 1-59 1-23 1 19 2 153 1-121 1 44 1-54 1-11 1-11 1 11 1 36 1-19 1 57 1-22 1 8 2-9 1 29 1-51 1-1 1 49 1-105 1 90 1 25 1-52 0-22 1 51 1 116 1-79 1 1 1-56 1-23 1-19 1 53 1-34 1 35 1-11 1 98 0-168 1 85 1 52 1-14 1 23 1-29 1-74 1 76 0-15 1-56 1 36 1-50 1 32 1-6 0 36 1-25 1 22 1 51 1 8 0-117 1 33 1 42 1-60 0 36 1 13 1 23 1-48 1 112 0-63 1-8 1-50 1 4 0 25 1-46 1 171 0-149 1 133 1-126 1 42 0-23 1-27 1 125 0-10 1-71 1 9 1 145 0-166 1 15 1-76 0 121 1-70 1 21 0-41 1 69 1-46 0 13 1 68 1-39 0-55 1 113 0-29 1-81 1 11 0-13 1 11 1 6 0 0 1-22 1 18 0-6 1-28 0 31 1 57 1-103 0 7 1 81 0 24 1 43 1-101 0 66 1 64 0-160 1 11 1 59 0-4 1-13 0 23 1 68 0-110 1 126 1-40 0-110 1-20 0 77 1 132 0-186 1 42 0-53 1 40 1-14 0 80 1-32 0-7 1-13 0 29 1 3 0-36 1 15 0-55 1 22 0 35 1-65 0 40 1-55 0 110 1 9 0-100 1 76 0-66 1 190 1-203 0 39 1-4 0-3 1-9 0 52 0 40 1-64 0 55 1-126 0 36 1 21 0 11 1 19 0-48 1 56 0-91 1 46 0-30 1 155 0-19 1-114 0 77 1-57 0-1 1-65 0 69 0-11 1 49 0-45 1-30 0 166 1-125 0-19 1 5 0 83 1-6 0-8 0-67 1-7 0 2 1 53 0-81 1-16 0 47 0 1 1 10 0 23 1-77 0 126 1-104 0 25 0-29 1 32 0 3 1-22 0 128 1-141 0 33 0-7 1 12 0-34 1-12 0 65 0-46 1 14 0-14 1 17 0 49 1-79 0 2 0 42 1 52 0-81 1 16 0 93 0-96 1-7 0 24 0 68 1-49 0-23 1-26 0 36"/>
<path d="M100 1621H151l97 68 57 26 40-24 32-5 25 90 22-23 18 90 17 59 14-133 14-13 12 40 11-2 11-25 9 61 9 78 9-95 8-9 7 25 7-43 7 40 7 61 6-11 6 13 6-71 5-18 5 47 5 18 5 0 5 19 5-50 4 58 4-22 5-5 4 11 4 18 3-73 4 84 4 25 3-90 4 99 3-146 3 148 4-36 3 15 3-44 3-46 3 49 3-2 3-23 2 101 3-78 3 43 2-56 3 31 2-36 3 110 2-10 3-28 2-14 2 28 3-69 2 47 2 36 2-39 2 47 2 66 3-76 2 29 2-30 2-22 2 24 1 69 2-84 2 16 2 44 2-75 2 25 2-9 1 21 2-24 2 119 1-111 2-2 2-14 1 60 2-33 2 1 1 3 2 2 1-33 2 29 1-55 2 66 1-3 2-5 1 7 2-8 1 108 2-128 1 123 1-95 2-19 1 46 1-48 2 93 1-79 1 50 2-49 1 139 1-83 1-86 2 37 1 183 1-176 1-25 1 50 2 25 1-17 1-2 1 61 1-111 1 51 2-11 1-25 1-19 1 51 1 28 1-32 1 13 1 33 1 68 1-117 1 18 1-9 2-13 1 134 1-152 1 51 1-2 1 0 1 90 1-154 1 75 0-13 1-11 1 116 1-105 1-18 1 15 1 48 1 0 1 24 1-65 1 31 1 0 1 30 0-57 1 24 1 100 1-171 1 134 1-15 1-69 1 3 0 60 1-39 1 36 1-40 1 18 1 10 0-25 1-39 1-16 1 89 1-46 0 51 1-67 1 39 1 32 0-66 1-20 1 62 1-48 1 45 0 2 1-30 1 111 1-131 0 83 1-36 1-42 0 13 1 85 1-87 1-40 0 67 1 63 1-58 0 32 1-31 1-56 1 78 0-16 1-13 1 109 0-126 1-20 1-10 0 85 1-39 1 17 0 53 1-60 1 90 0-36 1-100 0 81 1 100 1-142 0 72 1-46 1-53 0 55 1-22 1-45 0 101 1-66 0-5 1 13 1-41 0 146 1-128 0 46 1-24 1-2 0 58 1-69 0 13 1 83 1-9 0-19 1 47 0-104 1-49 0 85 1-11 1 9 0-29 1-65 0 51 1-15 0 20 1 106 0-67 1 4 1-43 0-17 1 30 0 34 1-59 0-18 1 15 0 77 1 0 0-63 1 39 0-16 1-38 0 5 1-15 0 42 1 80 0 68 1-109 0 13 1-125 1 88 0 94 1-51 0-15 1-56 0 49 0-51 1-31 0 14 1 37 0 75 1 27 0-50 1-117 0 114 1 27 0-2 1-68 0-14 1 59 0-36 1-16 0 42 1-114 0 54 1 57 0-57 0 28 1-69 0 85 1 30 0-107 1 132 0-134 1 86 0-36 1-27 0-25 0 92 1-41 0 140 1-162 0 5 1 1 0-12 0 61 1-4 0 39 1-95 0 28 1 22 0-30 0 62 1-68 0-38 1 59 0-43 1 19 0 16 0-19 1 47 0-3 1-40 0 49 0-78 1 92 0-42 1-1 0-50 1 28 0 91 0 5 1-68 0 14 1-51 0 25 0 87 1-126 0 76 0-74 1 86 0-60 1 54 0 82"/>
<path d="M100 1688H151l97 119 57-134 40 126 32 11 25-83 22 24 18 8 17 62 14-59 14-7 12 38 11 264 11-276 9 59 9-56 9 90 8-76 7 126 7-139 7 36 7 3 6 16 6-2 6 44 5-16 5 80 5-44 5-80 5 65 5 12 4-103 4 102 5 11 4-97 4 124 3-58 4-43 4 44 3 33 4-68 3 36 3-26 4 74 3-113 3 85 3-71 3 55 3 42 3-8 2-51 3 28 3-20 2 43 3 1 2 65 3-32 2-67 3 151 2-132 2 38 3-31 2 14 2 26 2-49 2 27 2-15 3-1 2-39 2 54 2 51 2-77 1 54 2-56 2 47 2 2 2 54 2-43 2-30 1-12 2 27 2 21 1 38 2-50 2 79 1-104 2 64 2-40 1 32 2-3 1 3 2-15 1 33 2 1 1-51 2-22 1 23 2-12 1 53 2 5 1-16 1-26 2-22 1 45 1 153 2-118 1 41 1-60 2 49 1-77 1-16 1 4 2 13 1-23 1 28 1-23 1 108 2-89 1 1 1 26 1 74 1-5 1-63 2-3 1 69 1-54 1 39 1-6 1-45 1 94 1-66 1-32 1 61 1-48 1 18 2-4 1 69 1-50 1 110 1-155 1 21 1-8 1 4 1 75 0 90 1-165 1 38 1 11 1 63 1-67 1-84 1 50 1 129 1-48 1-61 1-11 1-19 0 79 1-57 1-33 1 72 1-24 1 17 1-76 1 23 0 103 1-50 1-37 1 70 1-53 1 39 0-11 1 116 1-137 1 17 1-66 0 69 1-20 1 15 1 22 0 33 1-75 1-13 1 48 1-48 0 35 1-57 1 55 1-9 0 38 1-90 1 137 0-41 1-44 1 47 1-39 0-6 1-47 1 91 0 47 1-77 1-51 1 76 0 39 1-85 1 2 0 42 1-89 1 149 0-107 1 35 1-11 0 9 1-17 1-2 0 117 1-105 0 51 1-27 1-18 0-58 1 42 1-3 0-34 1 20 1-14 0 8 1 30 0 126 1-111 1 40 0-62 1 46 0-86 1-1 1 75 0-26 1-8 0 52 1-69 1-29 0 61 1-25 0 23 1 22 0-75 1 52 1 16 0 25 1 6 0-41 1 25 0 63 1-127 0 30 1-6 1 32 0-65 1 75 0-112 1 164 0-96 1 14 0 18 1 56 0-68 1-7 0 0 1-58 0 129 1-44 0 14 1-52 0 79 1-114 0 208 1-182 1 29 0-41 1 12 0-6 1 47 0-88 0 71 1-15 0 3 1-34 0 38 1-7 0 13 1 106 0-39 1-82 0 39 1-42 0 20 1 17 0 16 1 11 0-38 1 49 0-75 1 72 0 68 0-37 1-83 0-24 1 52 0 75 1-126 0 18 1-4 0 6 1-49 0 45 0 2 1 48 0-106 1 41 0 40 1-27 0-38 0 85 1-92 0 25 1 84 0-92 1-25 0 151 0-103 1 5 0 35 1-64 0 6 1 136 0-93 0-41 1 49 0 43 1-54 0 57 0-12 1-22 0-14 1-60 0 87 1 26 0-104 0 10 1 4 0-14 1 63 0-25 0-11 1-43 0 74 0 41 1-62 0 0 1 8 0-6"/>
<path d="M100 1636H151l97 5 57 90 40-62 32 38 25 37 22-32 18-9 17 40 14 61 14-50 12 53 11-61 11 23 9 9 9-4 9 112 8-106 7 143 7-66 7-35 7 152 6-96 6-121 6 143 5-89 5 47 5-21 5 7 5-15 5 25 4 38 4-60 5 12 4 20 4-2 3 57 4-4 4-94 3 35 4 12 3 103 3-83 4 38 3-41 3-15 3 73 3-22 3-23 3 24 2-17 3 26 3 58 2-76 3 5 2-14 3 108 2-66 3-19 2 9 2 64 3-43 2-18 2 45 2-90 2 89 2-2 3-99 2 69 2 96 2-109 2-6 1-32 2 98 2 8 2-52 2 21 2-6 2-36 1 6 2-48 2 67 1 135 2-130 2 2 1 20 2 9 2-31 1 2 2-43 1 115 2-60 1-43 2 22 1 67 2 72 1-159 2 12 1-11 2 16 1 28 1-62 2 69 1 16 1-32 2 73 1-114 1 59 2 66 1 87 1-20 1-71 2-85 1-13 1 38 1-23 1 116 2-63 1-45 1 56 1-1 1-38 1-16 2 95 1-105 1 45 1-32 1 32 1 75 1-88 1-2 1-9 1 30 1 6 1 6 2 86 1-3 1-97 1-25 1 44 1 5 1-45 1 27 1-39 0-6 1 90 1-39 1-27 1 60 1 55 1-60 1-20 1-23 1 75 1-40 1-24 1 37 0-14 1 53 1 15 1-54 1-34 1 22 1 38 1-95 0 78 1 81 1-90 1-17 1-18 1 23 0 34 1-56 1-22 1 94 1-82 0-11 1 43 1 0 1 49 0-23 1-45 1-17 1 66 1-39 0-14 1 104 1-66 1 68 0 117 1-187 1 6 0 55 1-50 1 14 1-5 0-90 1 60 1 2 0 25 1-13 1 5 1-32 0-2 1 35 1 38 0-85 1 60 1-45 0-10 1 62 1 0 0 5 1-34 1-18 0 72 1-64 0-22 1 138 1-42 0-46 1 5 1 25 0-10 1-48 1 39 0-4 1-15 0-33 1 171 1-121 0 0 1 30 0 84 1-139 1 16 0 10 1-17 0 57 1-54 1 31 0-10 1-50 0 5 1-37 0 1 1 77 1 83 0-69 1 15 0 97 1-163 0 66 1-7 0-98 1-18 1 197 0-158 1 41 0 106 1-125 0 70 1-31 0-43 1 42 0 17 1-23 0-3 1 30 0-41 1 95 0-77 1 34 0 8 1-24 0-30 1-24 1 19 0 42 1-32 0-15 1 34 0 4 0 32 1-44 0 5 1-23 0-38 1 71 0 19 1-83 0 11 1 31 0-72 1 88 0-70 1-17 0 92 1 25 0 47 1-127 0-17 1 49 0-7 0 25 1-20 0 64 1-86 0 113 1 49 0-128 1-8 0 23 1-84 0 79 0-46 1 60 0-46 1 54 0-18 1-32 0-25 0 22 1-11 0 5 1-4 0 39 1 67 0 2 0-97 1 8 0 33 1-28 0-18 1-47 0 62 0-16 1 69 0-91 1 79 0-43 0-68 1 84 0-29 1 40 0-25 1 44 0-94 0 62 1 34 0-8 1-100 0 117 0-38 1 41 0-68 0-53 1 39 0-25 1 91 0-80"/>
<path d="M100 1622H151l97 20 57 58 40 12 32-7 25-6 22 80 18-62 17 49 14 16 14 41 12 174 11-227 11-5 9 97 9-23 9 27 8-106 7 31 7 97 7-103 7 80 6 49 6-55 6-34 5 25 5 36 5-24 5 17 5-21 5 13 4-33 4 5 5 39 4 55 4 17 3-77 4 7 4 0 3 3 4-9 3-22 3 53 4 5 3-27 3 15 3 29 3 0 3 69 3-113 2 94 3-68 3 2 2 160 3-149 2 2 3-4 2-38 3 94 2-7 2-65 3 67 2-95 2 69 2 57 2-74 2-10 3-43 2 76 2 20 2-34 2-12 1 71 2-98 2 57 2-52 2 28 2 40 2 5 1 64 2-9 2-63 1 12 2-21 2 9 1-33 2 15 2 7 1 13 2 12 1-59 2 72 1-117 2 95 1 45 2-83 1 95 2-89 1 14 2 95 1-89 1 91 2-116 1 52 1 40 2-99 1 19 1 33 2-13 1 38 1 12 1-83 2 40 1 10 1-9 1-4 1 64 2-24 1-71 1 33 1-3 1 19 1-11 2 56 1-35 1-19 1-19 1 46 1 25 1 4 1-26 1-42 1 123 1-83 1-9 2 23 1 53 1 20 1-71 1 57 1-70 1-28 1 62 1 88 0-97 1 89 1-93 1 101 1-113 1 114 1 50 1-85 1-109 1 82 1-76 1 17 1 24 0 71 1-53 1-33 1 22 1-34 1 41 1-2 1-21 0-1 1-28 1 55 1-29 1 198 1-183 0 8 1 6 1 13 1-39 1 25 0 20 1-80 1 121 1-63 0 106 1-135 1 61 1-16 1 4 0 23 1 43 1-87 1 37 0 55 1 6 1-69 0 6 1-12 1-8 1 6 0 21 1-46 1 28 0-56 1 46 1 59 1-57 0-4 1 4 1 35 0-17 1-28 1-29 0 20 1 85 1-69 0 0 1-42 1 8 0 115 1-11 0-100 1 38 1 88 0-46 1 99 1-174 0 31 1 18 1-58 0 135 1-61 0 65 1-64 1 1 0-2 1 97 0-113 1-1 1 49 0-90 1 40 0-15 1-17 1 100 0-54 1 22 0-45 1-41 0 42 1-58 1 40 0 2 1 0 0 21 1 15 0 53 1-51 0-16 1-47 1 94 0-57 1 56 0-31 1-8 0 20 1-81 0 66 1-16 0 4 1 18 0 55 1-72 0 7 1-2 0 37 1-108 0 91 1-21 0-5 1-38 1 42 0-29 1-11 0 25 1-47 0 155 0-15 1-86 0 40 1 48 0-56 1 3 0-19 1 43 0-24 1-16 0 21 1-27 0 19 1 2 0-56 1 87 0-22 1 123 0-130 1-45 0 37 0-47 1 3 0 61 1 16 0-55 1 11 0 75 1-9 0-20 1-25 0 80 0-126 1-19 0-37 1 45 0 4 1 119 0-77 0 10 1 72 0-76 1-20 0-82 1 7 0 51 0 3 1-4 0 91 1-93 0-6 1-1 0 72 0-82 1 134 0-89 1-36 0 88 0-15 1-60 0-22 1 25 0 54 1 118 0-183 0-31 1 42 0-8 1 7 0 16 0 58 1-68 0 84 0-27 1-21 0-5 1-21 0 45"/>
<path d="M100 1776H151l97-85 57 2 40 19 32 48 25-10 22-17 18-27 17 36 14-43 14 39 12-6 11 94 11 10 9-35 9 15 9 9 8 16 7 73 7-127 7 12 7-6 6 32 6 9 6-18 5 0 5-39 5 38 5 24 5 22 5-15 4-42 4 25 5 19 4 16 4-20 3-9 4 74 4 8 3 37 4-58 3 30 3-32 4-54 3 46 3 47 3-54 3 21 3 21 3-2 2-49 3 98 3-122 2 35 3 15 2 14 3 46 2-15 3-44 2-7 2 56 3-8 2 7 2-19 2-37 2 58 2 13 3-6 2-49 2-44 2 70 2 33 1-49 2 34 2-71 2 84 2-16 2 2 2 89 1-50 2-48 2 29 1-71 2 39 2-1 1 49 2-44 2 48 1-56 2 66 1-21 2-35 1 17 2-10 1-2 2 73 1-14 2-41 1 55 2-36 1 137 1-73 2-47 1-49 1 27 2 4 1 112 1-132 2 24 1 32 1 32 1-56 2 33 1-16 1-59 1 25 1 15 2 4 1 17 1 9 1-16 1 28 1-56 2 115 1-149 1 65 1 16 1-31 1-17 1 113 1-37 1-24 1-16 1 43 1-23 2 24 1-45 1 94 1-65 1-11 1 155 1-22 1-172 1-9 0 29 1 19 1-12 1 146 1-143 1 27 1 13 1-12 1-12 1 40 1-52 1 59 1 25 0-52 1 51 1-48 1 6 1-28 1 35 1-83 1 40 0-21 1 80 1 0 1 6 1-55 1 87 0-68 1-1 1 2 1 101 1-89 0-23 1 16 1 6 1 39 0-64 1 0 1-4 1 34 1 41 0-72 1-21 1 70 1-64 0-22 1 0 1 82 0 6 1-53 1 11 1 16 0 15 1 32 1 55 0-161 1 59 1 11 1-57 0 59 1-4 1-41 0 36 1-26 1-4 0 18 1-75 1 63 0 21 1 93 1-80 0-20 1-5 0 136 1-65 1-44 0 9 1 76 1-95 0 12 1-10 1-48 0 109 1-89 0 5 1 60 1 5 0 50 1 64 0-30 1-119 1 65 0-31 1-39 0-20 1 62 1-80 0 30 1 12 0 109 1-124 0-27 1 94 1-17 0 1 1 4 0-11 1 21 0-57 1-14 0 79 1-8 1 55 0-28 1-34 0-46 1-15 0 0 1 16 0 18 1-6 0-29 1 69 0-48 1-15 0-18 1 0 0 9 1 55 0 74 1-72 0-64 1 14 1 69 0-55 1 8 0-30 1 52 0-4 0 13 1-8 0 11 1 20 0-30 1-22 0-41 1 4 0 22 1-14 0 20 1-13 0-29 1-24 0 104 1-35 0 89 1-113 0 71 1-18 0 85 0-161 1 64 0-7 1-81 0 51 1-6 0-28 1 61 0-14 1 35 0-1 0-6 1 24 0-39 1-16 0 42 1 47 0-68 0 85 1-96 0-20 1-16 0-13 1 121 0-38 0 0 1-7 0-74 1-30 0 42 1 47 0-52 0 46 1 17 0-36 1 52 0 18 0-38 1-16 0-16 1 64 0-45 1-32 0 56 0-72 1 73 0-45 1 36 0-10 0-43 1 57 0-79 0 77 1-31 0 38 1-49 0-21"/>
<path d="M100 1673H151l97 0 57 33 40 80 32-108 25 59 22-21 18 79 17-28 14-31 14 91 12-68 11-14 11 86 9-16 9-25 9 12 8-34 7-14 7 127 7-12 7-26 6 5 6 64 6 9 5-72 5-17 5-16 5-37 5 85 5 89 4-46 4-66 5-19 4 103 4-24 3-51 4 56 4-57 3 60 4-74 3 27 3 30 4-10 3-19 3-25 3 89 3-64 3-1 3 72 2 33 3-39 3-67 2 97 3-80 2 52 3 41 2-55 3 3 2 65 2-29 3-59 2 13 2-3 2 64 2-36 2 47 3 41 2-67 2-42 2 158 2-162 1 47 2-53 2 65 2-41 2 37 2 12 2-51 1-2 2 13 2-10 1 39 2-3 2-35 1 24 2 31 2 62 1-80 2-14 1 44 2-19 1 126 2-16 1-65 2-127 1 117 2-57 1 40 2-45 1 60 1 101 2-155 1 14 1 107 2-111 1 69 1 15 2-121 1 96 1 41 1-26 2 8 1-56 1 58 1-34 1-46 2-5 1 50 1-26 1 49 1-17 1 44 2-81 1 43 1 28 1-84 1 62 1-10 1-31 1-31 1-5 1 29 1 174 1-208 2 39 1 95 1-25 1-27 1-40 1-22 1 71 1-36 1 46 0-29 1-19 1 131 1-81 1-16 1-8 1 28 1-31 1 138 1-151 1 72 1 34 1 31 0-116 1 42 1-31 1 50 1 43 1-117 1 80 1-95 0 35 1 36 1-22 1 31 1-55 1 28 0-8 1-7 1 26 1 11 1-33 0 28 1 45 1 54 1-103 0-34 1-19 1 147 1-124 1 204 0-242 1 40 1-20 1-11 0 48 1 39 1-12 0-54 1 78 1-46 1 74 0-50 1 21 1-89 0 90 1-41 1-24 1 104 0-59 1 0 1-45 0 22 1 2 1 41 0-86 1 45 1 2 0 10 1 123 1-147 0 125 1-94 0 44 1-90 1 23 0 83 1-90 1 1 0 19 1-19 1 31 0-7 1-10 0-13 1 26 1 107 0-78 1-44 0 4 1 14 1 2 0 96 1-60 0-75 1 10 1-19 0 9 1-2 0 8 1 30 0-2 1 21 1-49 0 3 1-14 0 39 1-50 0 98 1-25 0-21 1 39 1-87 0 137 1-119 0 70 1-13 0 9 1 8 0 18 1-82 0 69 1-55 0 7 1 4 0 4 1 32 0-39 1-14 0-2 1-20 0 108 1 72 1-89 0-114 1 127 0-17 1-113 0 83 0-25 1-18 0 29 1 8 0 33 1-87 0-5 1 78 0-41 1 59 0-69 1-21 0 21 1 42 0 52 1-67 0-8 1-1 0-35 1 9 0 10 0 42 1-38 0 1 1-3 0-43 1 1 0 54 1 100 0-69 1-18 0 93 0-27 1-37 0-65 1 91 0-54 1 14 0-26 0-19 1 3 0 10 1-26 0 23 1 37 0-32 0-34 1 22 0 76 1-17 0-30 1 0 0-58 0 176 1-181 0 49 1-15 0-35 0 21 1 57 0-42 1 30 0 26 1-79 0 10 0 47 1-23 0-8 1 123 0-113 0 36 1 0 0-20 0-24 1 16 0 30 1 11 0-30"/>
<path d="M100 1672H151l97-19 57 102 40-60 32 82 25-30 22 18 18 3 17-34 14 56 14-25 12-9 11 58 11-20 9-46 9 58 9-27 8 44 7-34 7 65 7-99 7 44 6 28 6 21 6 144 5-159 5 34 5-49 5 86 5-19 5-66 4 30 4 16 5 88 4-90 4-4 3 22 4 38 4-60 3 96 4-103 3 17 3 52 4-83 3 1 3-1 3 32 3-17 3 6 3 17 2 110 3-149 3 110 2-93 3 46 2 43 3-4 2-65 3 12 2-27 2 14 3 79 2-59 2-29 2 69 2-38 2-8 3 93 2-29 2-5 2 18 2-72 1 68 2-10 2 94 2-56 2 17 2-15 2-57 1-29 2 28 2 22 1-20 2-26 2 28 1 18 2-8 2 4 1 5 2 4 1 20 2-46 1-1 2 200 1-102 2-61 1-35 2 21 1 1 2-31 1 122 1-88 2 33 1 72 1-110 2 42 1 40 1-65 2 99 1-144 1 208 1-124 2-41 1 3 1-10 1-16 1 0 2 79 1-27 1 30 1-83 1 75 1-54 2 57 1-26 1-29 1 164 1-123 1 25 1-94 1 36 1 76 1-84 1 33 1 121 2-115 1 0 1-33 1 16 1 53 1-47 1 7 1 97 1-47 0-7 1-43 1 43 1 19 1-82 1 66 1-76 1 61 1 63 1 7 1 146 1-107 1-115 0-58 1 52 1-7 1 17 1 113 1-103 1 4 1 6 0 7 1-1 1-1 1 38 1-71 1 91 0 109 1-188 1-40 1 111 1-73 0-29 1 191 1-157 1 7 0 55 1-79 1 38 1 15 1 41 0-37 1-25 1-15 1 18 0 0 1 2 1-15 0 20 1-47 1 37 1 59 0-32 1 78 1-37 0-59 1 15 1 62 1-69 0 8 1-55 1-3 0 47 1 89 1-24 0 42 1-80 1 155 0-165 1-1 1 0 0-29 1-9 0 31 1-41 1 77 0 1 1 136 1-175 0-19 1 77 1-97 0 18 1 41 0-26 1 14 1-47 0 33 1 91 0-34 1-60 1-19 0 39 1 0 0 90 1-6 1-108 0 23 1 43 0-35 1 67 0-109 1-2 1 42 0-50 1 44 0-24 1 28 0-23 1-29 0 13 1 68 1-58 0 2 1 8 0 34 1 38 0-21 1-39 0-62 1 129 0-39 1-17 0-11 1-8 0 15 1-54 0 39 1 44 0-7 1 27 0-51 1 18 1 36 0-3 1-23 0-3 1-9 0-32 0 176 1-46 0-119 1 0 0-7 1-7 0 42 1-30 0-15 1 6 0 50 1 37 0-90 1-28 0 29 1 31 0-25 1 6 0 38 1-51 0 81 0-50 1 91 0-68 1-42 0-6 1 114 0-80 1-33 0 126 1-66 0-52 0 143 1-185 0 41 1 28 0-42 1 1 0-2 0-20 1-10 0 47 1-11 0-7 1 43 0-4 0-9 1 33 0-42 1-49 0 67 1 48 0-36 0-29 1-24 0 44 1 57 0-68 0 88 1 39 0-171 1 20 0 16 1 16 0 32 0 25 1-9 0-58 1-24 0 2 0 2 1 88 0-76 0-56 1 55 0-22 1 38 0-4"/>
<path d="M100 1727H151l97-14 57-57 40 108 32-45 25 63 22 121 18-202 17 191 14-78 14 131 12-242 11 59 11 26 9 6 9 90 9-45 8-20 7-3 7-54 7 130 7-116 6 113 6-33 6-40 5 9 5 66 5-92 5 48 5-2 5-30 4 59 4-21 5-20 4 74 4-59 3-40 4 29 4 22 3-2 4-14 3 84 3-74 4 60 3-59 3 19 3 42 3-26 3-6 3-14 2 45 3-6 3 50 2-11 3 15 2-36 3-10 2 5 3 32 2 30 2-93 3 80 2-48 2 16 2 93 2-131 2 126 3-83 2-59 2 58 2-22 2 47 1-57 2 113 2-68 2-42 2 31 2 17 2-28 1 92 2 100 2-181 1 33 2-23 2 102 1-126 2 68 2-7 1-25 2 46 1 23 2-98 1 20 2 39 1-28 2 63 1-50 2-58 1 72 2-63 1 134 1-51 2-62 1 110 1-84 2-3 1 54 1-64 2 33 1 13 1-46 1 50 2-29 1-24 1 52 1-67 1 37 2-8 1 63 1 97 1-105 1-10 1-66 2 94 1-95 1 100 1-31 1-34 1-23 1 33 1 33 1 18 1 141 1-94 1-89 2 11 1 17 1 50 1-136 1 134 1-44 1-8 1 15 1 1 0-29 1 11 1-18 1 22 1-4 1 8 1-2 1 112 1-105 1-43 1 30 1 19 1 33 0 3 1-96 1 111 1-116 1 81 1-2 1-21 1-14 0 19 1 49 1 23 1 72 1-103 1-57 0 108 1-50 1-32 1 4 1-16 0 97 1-149 1 36 1 57 0-57 1 50 1 45 1-65 1 47 0 31 1-45 1-41 1 7 0 48 1-7 1-46 0 20 1-64 1 52 1 5 0-41 1 128 1-77 0-45 1 95 1-79 1-11 0 38 1-66 1 97 0-82 1 63 1 37 0 27 1-81 1-10 0 83 1-21 1-36 0-47 1 33 0 55 1-27 1-18 0 23 1 82 1-35 0 88 1-165 1-20 0 23 1 30 0-48 1 51 1-64 0-1 1 40 0-2 1 53 1-38 0 78 1-99 0 2 1-20 1 55 0-9 1-47 0 20 1-1 0 7 1 54 1-98 0 140 1-120 0 79 1-74 0 10 1 0 0-5 1 27 1-7 0 5 1-59 0 167 1-56 0-2 1-100 0 120 1-53 0 29 1-44 0-10 1-26 0 186 1-132 0-26 1 7 0-26 1 115 0-83 1 21 1-20 0 43 1-17 0-27 1-79 0 62 0 147 1-109 0-36 1 9 0 39 1-24 0-62 1 37 0 39 1-66 0-27 1 9 0 40 1 6 0-30 1 48 0-15 1-6 0-5 1-16 0-18 0 56 1 64 0 55 1-118 0-72 1 43 0 20 1-20 0-26 1 57 0-12 0 50 1-36 0 5 1 0 0-64 1 42 0 9 0-33 1 5 0-88 1 108 0-15 1-24 0 33 0-9 1 42 0-2 1-39 0-18 1 11 0-49 0 134 1-83 0 40 1 4 0-7 0 20 1 2 0 29 1-73 0-18 1-14 0 0 0 17 1-39 0 25 1 73 0-56 0-14 1 70 0-77 0 193 1-151 0 13 1-25 0 107"/>
<path d="M100 1683H151l97-28 57 185 40-164 32 127 25-68 22 53 18-86 17 81 14-66 14 218 12-155 11-8 11 79 9-25 9-68 9 2 8 96 7-99 7 81 7 22 7-47 6 28 6 48 6-91 5-5 5 120 5-110 5 9 5 114 5-8 4-36 4 9 5-43 4 59 4 30 3-62 4 17 4-10 3 0 4-43 3 46 3-51 4 84 3-27 3 3 3 46 3-30 3-36 3 68 2-22 3-37 3 89 2-106 3 35 2 71 3-58 2 3 3 102 2-20 2-74 3 4 2 33 2-12 2 8 2-30 2 16 3 11 2-48 2-1 2 59 2-8 1 35 2-59 2 28 2 90 2-143 2 32 2 28 1-19 2 8 2 67 1-40 2-44 2 91 1-88 2 60 2-58 1 82 2 22 1-15 2-111 1 98 2-65 1-7 2 54 1-48 2 61 1 90 2-107 1 42 1-62 2 19 1-19 1 17 2 65 1-24 1-48 2 9 1 119 1-140 1 74 2-56 1 108 1-37 1-46 1 38 2-7 1-65 1 67 1-69 1 31 1-29 2-29 1 144 1-101 1 51 1-65 1 77 1-17 1 5 1-22 1-10 1 25 1 1 2-18 1 27 1-89 1 109 1-31 1-7 1 20 1 47 1-13 0-95 1 59 1-20 1-5 1 42 1-61 1 24 1-4 1 24 1 180 1-242 1 86 1-23 0 59 1-67 1 47 1-68 1 36 1 115 1-149 1 13 0 0 1-12 1 27 1 39 1-7 1-59 0 60 1 7 1-24 1-38 1 23 0 2 1 82 1-124 1 40 0-14 1 75 1-70 1 27 1-81 0 45 1-23 1 133 1-114 0 85 1-42 1-5 0 54 1-90 1 57 1 60 0-59 1 61 1-134 0-26 1 110 1 56 1-92 0-65 1 78 1 40 0-19 1-57 1 20 0 82 1-89 1 1 0 60 1-14 1 1 0 21 1-15 0-102 1 30 1 47 0 7 1 26 1-88 0 70 1-80 1 79 0-51 1 48 0-2 1-17 1 35 0-37 1 70 0-90 1 49 1-44 0 45 1-34 0-33 1 151 1-149 0 38 1-36 0 83 1-52 0-19 1 16 1 18 0 5 1 29 0-69 1 77 0-16 1-6 0 0 1-4 1 19 0 28 1-53 0 35 1-54 0 0 1-12 0 14 1 13 0 12 1-35 0 33 1-51 0 105 1-45 0-7 1-35 0-18 1 45 0-22 1-24 1 58 0-26 1-20 0-35 1 13 0-14 0 88 1 4 0-49 1 0 0 145 1-150 0 58 1-15 0 23 1-23 0-38 1 40 0-26 1 114 0-49 1-20 0-45 1-1 0 137 1-163 0 62 0-92 1 98 0-81 1 121 0-88 1 17 0-13 1 45 0 119 1-156 0 17 0-19 1-32 0 54 1-54 0 39 1 36 0-48 0 20 1-23 0 34 1-64 0 55 1-2 0 2 0-34 1 47 0 49 1-92 0-16 1 41 0 10 0-17 1-15 0-27 1 11 0-4 0 25 1-41 0 47 1-15 0 57 1-109 0 57 0 64 1-60 0-29 1 35 0-40 0 131 1-61 0-32 0 25 1-26 0-26 1 24 0-31"/>
<path d="M100 1756H151l97-103 57 84 40-81 32 30 25 33 22 38 18 101 17-81 14-44 14 74 12-33 11 23 11 204 9-113 9-71 9-1 8 35 7-37 7 51 7-20 7 26 6-25 6 24 6-35 5 2 5 130 5-125 5-43 5 27 5 11 4 25 4-9 5-18 4-1 4 14 3-8 4 0 4 33 3 83 4-67 3 55 3-16 4-35 3-39 3 4 3 51 3 13 3-56 3 140 2 44 3-134 3-2 2 15 3 36 2-84 3 32 2-5 3 94 2 70 2-166 3 94 2-80 2-61 2 110 2-2 2-88 3 131 2-68 2-2 2-32 2 23 1-21 2 67 2-48 2-24 2 93 2-87 2 45 1 18 2 28 2-86 1 95 2-102 2 17 1 161 2-161 2 1 1 27 2 20 1-56 2 49 1 2 2-13 1 81 2-98 1 14 2 30 1 102 2-118 1 15 1 64 2-105 1 2 1 54 2-9 1-66 1 118 2-32 1-42 1-27 1 168 2-17 1-68 1-85 1 43 1 68 2-37 1 34 1-2 1-51 1 81 1-85 2 30 1-12 1 187 1-180 1 79 1-62 1 53 1-80 1 95 1-29 1-76 1 49 2-40 1 41 1 25 1-42 1 37 1-10 1-79 1 63 1 34 0-91 1 65 1-36 1 46 1-1 1 5 1-24 1 33 1-5 1-59 1 77 1 19 1-85 0-3 1 84 1-101 1 96 1-29 1 9 1 1 1-17 0 122 1-108 1-19 1 41 1 25 1-45 0 106 1-74 1 46 1-69 1-54 0 51 1 74 1-121 1 89 0-68 1 51 1-41 1-3 1 96 0-108 1-22 1 43 1 23 0-39 1-23 1 28 0 90 1-106 1 84 1-42 0-55 1 59 1-2 0-9 1-14 1 12 1 91 0-53 1-39 1-21 0 64 1-34 1 58 0-54 1-5 1-10 0-33 1 103 1-69 0-43 1 48 0 110 1-85 1-11 0-77 1 84 1 16 0-15 1 40 1-103 0 64 1-19 0 56 1-70 1 22 0 114 1-127 0-49 1 47 1 57 0-110 1 109 0-60 1 30 1-68 0 33 1 63 0-22 1 19 0-64 1 98 1-42 0-68 1 59 0 25 1 26 0-104 1 44 0-35 1 86 1-11 0 15 1-9 0-46 1 16 0-44 1-54 0 183 1-155 0 11 1 63 0-60 1 12 0 15 1 37 0-76 1 15 0-19 1 15 0 30 1 34 1 2 0-45 1 32 0-21 1 4 0-63 0 97 1 1 0-29 1 67 0-35 1-28 0-23 1-5 0 11 1 34 0-45 1 45 0-105 1 45 0 14 1 29 0-10 1 14 0 55 1-59 0-19 0 17 1-53 0-4 1 25 0 80 1 45 0-132 1 2 0 29 1-26 0-21 0 68 1-28 0-52 1 2 0 30 1 18 0 26 0 31 1-85 0 27 1-1 0 12 1-47 0-13 0 9 1 0 0 170 1-65 0-42 1-10 0 4 0-5 1-73 0 106 1-19 0-12 0-62 1 81 0-50 1 16 0 32 1-44 0 36 0-11 1 17 0-95 1 75 0 29 0-26 1 27 0-25 0-30 1-23 0 104 1-58 0-20"/>
<path d="M100 1704H151l97-62 57 214 40-104 32-16 25-25 22 4 18 108 17-79 14 37 14 16 12-79 11 160 11-51 9 108 9 135 9-211 8 13 7-56 7 3 7 83 7-19 6-29 6 13 6-26 5-64 5 58 5 88 5-11 5 52 5-152 4 6 4 1 5 50 4-2 4 58 3-11 4-66 4 47 3-3 4 34 3 10 3-55 4-47 3 3 3 58 3 46 3-58 3 127 3-168 2 18 3 49 3 157 2-230 3 51 2 39 3-67 2 122 3-40 2 60 2-121 3 162 2-101 2-51 2 47 2-15 2 21 3 72 2 1 2 1 2-92 2-30 1 40 2-41 2 50 2 59 2-23 2 18 2-55 1-29 2 60 2-26 1-10 2 31 2 13 1-45 2 59 2 5 1-26 2-18 1-56 2 96 1 7 2-77 1-1 2 65 1-52 2 80 1-110 2 86 1-32 1 13 2 13 1 23 1-1 2 136 1-121 1-66 2 25 1 33 1-17 1-48 2-12 1 85 1-40 1 35 1-20 2-2 1 12 1-2 1-27 1 189 1-113 2-90 1 0 1 36 1 1 1 8 1-48 1 61 1-12 1 0 1-43 1 224 1-197 2 11 1 156 1-136 1-3 1 174 1-131 1-18 1-77 1 143 0-92 1-19 1 10 1 50 1 26 1-75 1-9 1 64 1-36 1 30 1-73 1 11 1 21 0 69 1-49 1-12 1-21 1 118 1-40 1 27 1-14 0-60 1-10 1-11 1 25 1-5 1-41 0 57 1 27 1-77 1 39 1 93 0-80 1 24 1-47 1 19 0-11 1 2 1-3 1 5 1 24 0 77 1-116 1 3 1 42 0 106 1-116 1-10 0 10 1-5 1-38 1 21 0-34 1 34 1 72 0-61 1 64 1-78 1 66 0-43 1 0 1-1 0-15 1 43 1-55 0-4 1 45 1-5 0-21 1 44 1 7 0-45 1 84 0-26 1-17 1-39 0 41 1-49 1 64 0-75 1 93 1-38 0 11 1-14 0 11 1-26 1 13 0 49 1-68 0 34 1-7 1-9 0 49 1-54 0 62 1-20 1-19 0-54 1 3 0 21 1 39 0-47 1 77 1-82 0 61 1-45 0 29 1 138 0-112 1-24 0-44 1 19 1 34 0-29 1-58 0 137 1-109 0 102 1-128 0 9 1 50 0 29 1-48 0 12 1-36 0 6 1 26 0 88 1-16 0-50 1-49 0 39 1 67 1-37 0-30 1 13 0-51 1 10 0 18 0-49 1 64 0-59 1 16 0 61 1-43 0 163 1-34 0-169 1 57 0-27 1 21 0-35 1 52 0-2 1 51 0-12 1-51 0 18 1-10 0-23 0 0 1 58 0 58 1-111 0-41 1-11 0 6 1 16 0 58 1 17 0-46 0 15 1-67 0-12 1 99 0-48 1 32 0-7 0 29 1-10 0-17 1-34 0 19 1-23 0 35 0-7 1 4 0 35 1-6 0-54 1-22 0 38 0 25 1 80 0-84 1 66 0-67 0 50 1-95 0 40 1-36 0 15 1-11 0 7 0 24 1 41 0-36 1 36 0 9 0 58 1-117 0 63 0-64 1 9 0 83 1-108 0-8"/>
<path d="M100 1719H151l97-19 57-20 40 66 32 17 25 5 22-23 18 9 17 15 14-58 14 5 12 61 11 14 11 43 9-50 9 105 9-97 8-9 7 8 7 32 7-5 7 20 6 147 6-83 6-99 5 74 5 79 5-38 5-27 5-9 5-3 4-32 4-8 5 22 4 14 4 7 3-39 4-17 4 55 3-84 4 119 3-39 3-18 4 15 3 214 3-114 3-80 3 10 3 16 3 2 2-47 3 27 3 25 2 5 3 4 2-25 3-59 2 178 3-103 2-39 2 62 3-26 2 33 2-36 2 79 2-62 2-49 3 7 2 40 2 3 2 18 2-54 1 11 2 34 2 48 2 41 2-85 2-37 2-18 1 156 2-142 2 31 1 50 2-41 2 37 1 4 2 43 2-37 1-33 2 2 1-1 2 13 1 23 2-62 1 94 2-70 1 26 2-34 1 40 2 17 1-41 1 35 2-20 1 2 1-11 2 30 1-85 1 25 2 99 1-5 1-104 1 51 2-1 1-7 1-17 1-31 1 132 2-43 1 6 1-18 1 26 1-18 1-23 2 53 1-32 1 1 1 12 1 1 1-37 1 25 1 5 1-12 1-40 1 150 1-109 2-3 1 11 1-4 1 66 1-86 1 12 1 112 1 30 1-80 0 4 1-62 1 14 1 9 1-76 1 123 1-107 1 14 1 131 1-57 1 45 1-63 1 16 0 1 1 14 1-67 1 28 1-10 1 29 1-7 1-38 0 7 1-3 1 18 1 44 1-44 1 26 0 136 1-124 1 94 1-90 1-25 0 71 1-126 1 13 1 26 0 88 1-97 1 44 1-66 1 27 0-21 1 72 1-32 1 69 0-64 1-13 1 72 0-65 1 6 1 87 1-46 0-74 1 66 1-21 0-23 1 8 1-8 1 57 0 2 1 52 1-58 0-53 1 19 1 81 0-81 1 10 1-35 0 34 1 6 1 65 0-69 1-16 0 101 1-83 1 3 0-27 1 29 1 59 0-62 1 64 1-112 0 50 1 14 0-68 1 47 1-2 0-57 1 82 0-56 1 119 1-74 0 40 1-29 0-48 1 78 1-4 0 4 1-8 0-15 1-63 0 8 1 79 1 3 0 1 1-28 0-11 1 4 0 14 1-87 0 85 1-64 1 20 0 4 1 63 0-85 1-8 0 83 1 83 0-109 1 27 0-1 1-8 0-14 1 4 0-38 1 42 0-15 1 4 0 8 1-22 0-22 1 4 1 76 0 52 1-51 0-8 1-25 0-66 0 64 1-31 0 14 1-6 0 3 1 16 0 10 1-6 0 91 1-127 0-22 1 42 0 48 1-63 0 11 1 12 0 1 1 49 0-28 1-71 0 90 0 22 1-103 0 41 1 41 0-61 1 8 0 61 1-36 0-16 1-20 0 14 0 21 1 86 0-27 1-33 0 30 1-15 0-70 0 10 1 4 0 32 1 1 0-19 1-62 0 42 0-4 1-19 0 60 1-30 0-10 1-39 0 54 0-74 1 85 0 3 1-51 0 8 0 43 1-57 0 51 1-38 0-28 1 62 0-5 0-10 1-16 0 59 1-25 0-38 0 26 1 34 0 3 0-46 1 38 0-16 1-11 0-22"/>
<path d="M100 1702H151l97-27 57 66 40 2 32-36 25 129 22-114 18 7 17 46 14-6 14-18 12 46 11-70 11 62 9 49 9-56 9-35 8 65 7-3 7-7 7 135 7-36 6-22 6-7 6-3 5-21 5 100 5-24 5-60 5-6 5-3 4-27 4-14 5 42 4 25 4 29 3-75 4 77 4-35 3-49 4 119 3-106 3 25 4 50 3-43 3-7 3-5 3 26 3 9 3-8 2 49 3-57 3 89 2 52 3-84 2 12 3 13 2-54 3-29 2 165 2-152 3 69 2-50 2 107 2-112 2-21 2 81 3-14 2-9 2-26 2 63 2-56 1 2 2 20 2-5 2-9 2 96 2-137 2 33 1-12 2 45 2-6 1 9 2-3 2-2 1 10 2 7 2 30 1-77 2 82 1-34 2 29 1 2 2-34 1 59 2-33 1-41 2 7 1 21 2-44 1-2 1 39 2 28 1-24 1 16 2-22 1 34 1 21 2-44 1-23 1 79 1-31 2-41 1 146 1-86 1 2 1-33 2 5 1 91 1-101 1-39 1 36 1-44 2 124 1-68 1 32 1-43 1 51 1-52 1 40 1 76 1-24 1-102 1 49 1 44 2-19 1-3 1 12 1 23 1-53 1 60 1 29 1-131 1 23 0-35 1 126 1-109 1 30 1 15 1 51 1-52 1-25 1 57 1-42 1 23 1 1 1 13 0-59 1 22 1-2 1 28 1 59 1-56 1-20 1-4 0 23 1 17 1-87 1 80 1-14 1-2 0 9 1-58 1 125 1-131 1-12 0 166 1-125 1 2 1 91 0-46 1 43 1-2 1-112 1 9 0 24 1 17 1 71 1 99 0-145 1-30 1 4 0 106 1-56 1-37 1-11 0-6 1-13 1 49 0-14 1 67 1-62 1 9 0 58 1-61 1-14 0-3 1 55 1-27 0-33 1 72 1 39 0-53 1-20 1-35 0 65 1 14 0-73 1-2 1 8 0 25 1-11 1 71 0-31 1-22 1 145 0-2 1-226 0 18 1 81 1-13 0 66 1-94 0 16 1-18 1-33 0-17 1 52 0-21 1 55 1 1 0-37 1 47 0 10 1-23 0-38 1 59 1-44 0-34 1 72 0 4 1-34 0-6 1 6 0 2 1-12 1 67 0-24 1 26 0 94 1-119 0-9 1 14 0 21 1-66 0-49 1 56 0-13 1-18 0 11 1-17 0 4 1 37 0 37 1-81 0-2 1 106 1-91 0 165 1-115 0-53 1 32 0 24 0 73 1-112 0-17 1 7 0 34 1-21 0-13 1-13 0 109 1-88 0 61 1-50 0 114 1-89 0 90 1-127 0 67 1-31 0 10 1 18 0-85 0 81 1-61 0 48 1-45 0-32 1 76 0 81 1-88 0-63 1 49 0-65 0 208 1-184 0 15 1 50 0-13 1-48 0-20 0 14 1 87 0-34 1-22 0 39 1-101 0 31 0 36 1 9 0-55 1 61 0 8 1 36 0-60 0-34 1-16 0 60 1 23 0-35 0 3 1-44 0 131 1-55 0-75 1 62 0 23 0-48 1 38 0-20 1-41 0 22 0 29 1 14 0 23 0-93 1 39 0 61 1-66 0-39"/>
<path d="M100 1616H151l97 41 57 58 40-54 32 177 25-62 22-44 18-3 17 11 14 56 14-45 12 226 11-182 11 25 9 78 9-55 9 24 8-65 7 56 7 18 7 11 7 5 6-124 6 269 6-174 5-31 5 4 5-46 5 66 5-54 5 14 4-26 4 49 5 125 4-93 4-32 3 10 4 18 4-56 3 90 4-26 3 20 3 129 4-173 3 10 3-25 3 61 3-14 3 4 3 24 2 32 3-27 3-10 2 9 3-71 2 96 3 43 2 0 3-69 2 45 2-98 3 123 2-22 2-69 2 91 2-101 2 38 3-32 2 28 2 5 2 50 2-40 1 11 2 21 2-11 2-39 2 63 2-64 2 4 1 10 2 69 2-58 1 141 2-142 2 95 1-64 2 2 2-37 1 58 2-16 1-60 2 57 1 139 2-184 1 178 2-24 1-126 2 24 1-74 2 102 1-42 1-28 2 98 1-86 1 91 2-27 1 30 1-68 2 15 1-5 1 15 1-42 2 35 1 42 1-37 1 7 1 56 2-37 1-14 1-13 1-55 1 58 1 83 2-47 1 91 1-108 1 7 1-6 1-16 1 42 1-49 1-12 1 29 1-50 1 64 2-1 1-68 1 70 1 5 1-24 1 37 1 14 1-46 1 16 0 36 1 21 1-62 1 0 1-11 1-4 1 45 1 12 1-10 1-41 1 208 1-229 1 45 0-28 1 86 1-57 1-49 1 82 1-14 1-18 1 3 0 14 1 64 1-109 1 21 1 72 1 2 0-21 1-54 1 4 1 51 1 23 0 23 1 34 1-139 1 105 0-83 1-45 1 33 1 94 1-123 0 94 1-48 1 71 1-31 0-76 1-13 1 96 0-15 1 23 1-16 1 33 0-106 1 61 1 33 0-51 1 39 1-1 1-19 0 39 1-86 1 45 0-17 1 23 1-10 0-9 1 19 1-64 0 54 1 84 1-89 0-31 1 78 0-43 1 34 1-54 0-10 1 96 1 9 0-57 1-37 1 72 0-35 1 30 0-79 1 12 1-35 0 77 1-42 0 77 1-59 1 1 0-12 1 28 0 5 1-70 1 0 0 77 1 73 0-83 1-21 0 65 1 3 1-43 0-20 1-9 0-54 1 120 0 15 1-52 0-41 1 6 1 21 0-9 1 12 0 59 1-67 0 20 1 1 0 36 1-6 0-80 1 45 0 18 1-13 0-28 1 78 0-27 1-57 0 17 1 164 0-191 1 21 1 25 0-11 1 25 0-58 1 60 0-88 0 84 1-35 0 12 1-8 0 3 1-4 0 4 1 15 0 19 1-78 0 76 1 129 0-214 1 46 0 20 1 31 0-5 1-29 0 88 1-127 0 43 0 46 1-22 0-46 1-39 0 52 1-21 0-14 1 30 0-4 1 84 0 36 0-116 1 20 0-58 1 13 0 42 1 48 0-89 0 20 1 12 0 99 1 54 0-126 1 8 0 44 0 20 1-100 0 78 1-105 0-1 1 90 0-86 0 178 1-118 0-88 1 31 0 12 0 59 1-73 0 43 1-51 0-29 1 17 0 125 0-119 1-15 0 101 1-58 0-30 0-5 1 5 0 35 0-22 1 55 0-31 1 1 0 55"/>
<path d="M100 1690H151l97 106 57 13 40-92 32 41 25 174 22-79 18-23 17-115 14-7 14 144 12-111 11 75 11-82 9 60 9 89 9-28 8-76 7 28 7 30 7-18 7 57 6-49 6 47 6-53 5 20 5-32 5 45 5 37 5-29 5-51 4 12 4 25 5 17 4-30 4-14 3 67 4 12 4 14 3-59 4 28 3-10 3 43 4-97 3 65 3-20 3-6 3 14 3 120 3-91 2 7 3 85 3-110 2-42 3 106 2-31 3-24 2 99 3-109 2 56 2-54 3 132 2-94 2 29 2-2 2-66 2 28 3 48 2 31 2-37 2-7 2 9 1 13 2-36 2-35 2 5 2 45 2 63 2-28 1-59 2-17 2 40 1 4 2-10 2 3 1-18 2 79 2-70 1 59 2-23 1-44 2 30 1 68 2-58 1-58 2 61 1 37 2-41 1 42 2-81 1 68 1 6 2-83 1 14 1 77 2-16 1 18 1-2 2-10 1-27 1 1 1 80 2-89 1 37 1 12 1 8 1 75 2-83 1-43 1 34 1 37 1-25 1-57 2 102 1-20 1-34 1-3 1 43 1-21 1 16 1-54 1 31 1-52 1 62 1-67 2 8 1 25 1-7 1 35 1-2 1-2 1 51 1 52 1-59 0-81 1 104 1-60 1 23 1-41 1 38 1 15 1-62 1 56 1-21 1 71 1 25 1-86 0-57 1 132 1 18 1-106 1-4 1 68 1-68 1 82 0-39 1-32 1 6 1 62 1-104 1 51 0-59 1 138 1-83 1 36 1 7 0-64 1 111 1 16 1-99 0 32 1-95 1 177 1-71 1-66 0 30 1 27 1-12 1 4 0-54 1 52 1-44 0-17 1 26 1 7 1 25 0-61 1 8 1 33 0 7 1 44 1-75 1 81 0-93 1 68 1-14 0 48 1 65 1-130 0-58 1 225 1-158 0-31 1-23 1 97 0-24 1-25 0 145 1-159 1 69 0-92 1 12 1 92 0 102 1-140 1-38 0 34 1-41 0 69 1-35 1 43 0-15 1-54 0 38 1 15 1 24 0-69 1-37 0 75 1-27 1-25 0 17 1 39 0-16 1 62 0-80 1 38 1-40 0 102 1-98 0 9 1-23 0 10 1 24 0 18 1 90 1-105 0-15 1-12 0 72 1-91 0-3 1 56 0 8 1-3 0-32 1 90 0-79 1 17 0 23 1-24 0-8 1-46 0 28 1 43 0 3 1 64 1-91 0 0 1 5 0 126 1-165 0 128 0-70 1-65 0 31 1 14 0 1 1 62 0-48 1 14 0-30 1 21 0 4 1-63 0 42 1-18 0 12 1 31 0-40 1-2 0-6 1-18 0 21 0 14 1-37 0-29 1 95 0-34 1-51 0 19 1 67 0-34 1 38 0-36 0-21 1 11 0-15 1 75 0-70 1-5 0 10 0 5 1-21 0 83 1-106 0 38 1 76 0-44 0 9 1-51 0 42 1-63 0 111 1-67 0 0 0-6 1-1 0 45 1-10 0-8 0-18 1-30 0 43 1-20 0-20 1 15 0-25 0 38 1 51 0-99 1 58 0-40 0 39 1 56 0-75 0 46 1 22 0-55 1 31 0-82"/>
<path d="M100 1736H151l97-22 57-58 40 43 32 22 25 69 22-96 18 38 17 17 14 148 14-121 12-2 11 14 11 67 9-22 9 114 9-74 8-40 7 35 7-4 7 61 7-117 6-22 6 115 6-107 5-19 5 169 5-90 5 29 5 2 5-32 4 22 4 98 5-108 4 14 4 85 3 0 4-115 4 46 3 33 4-59 3 23 3-8 4-3 3 12 3-28 3-11 3 38 3 62 3-31 2-30 3-76 3 47 2 37 3-32 2-25 3 20 2-19 3 65 2-7 2 43 3-11 2 9 2-46 2 60 2-5 2-18 3-11 2-34 2 23 2 25 2 33 1 201 2-296 2 27 2 135 2-78 2-32 2-45 1 64 2-7 2-22 1 3 2-32 2 69 1-5 2 22 2 43 1-74 2-12 1-13 2 24 1 0 2 135 1-102 2-2 1-17 2 5 1 14 2 38 1 23 1-46 2-43 1 32 1-54 2 123 1-102 1 38 2-12 1 3 1 20 1 11 2-8 1-40 1 55 1-12 1 21 2-58 1 60 1-4 1-80 1 45 1 13 2 51 1-32 1-22 1-30 1 45 1-21 1-11 1 67 1-39 1 13 1-35 1 12 2 103 1-113 1 49 1-61 1 142 1-99 1-10 1 32 1-42 0 15 1-23 1 74 1-15 1-9 1-36 1 18 1-41 1 66 1-51 1 46 1 11 1-80 0 72 1-2 1-50 1 85 1-57 1 57 1-71 1 68 0-10 1 2 1 58 1-119 1 39 1 5 0-28 1 27 1 28 1 2 1 16 0-3 1 29 1-38 1-79 0 121 1-62 1 28 1-18 1 24 0-8 1 17 1-21 1 27 0-43 1 135 1-114 0-42 1-21 1 72 1 15 0-44 1-14 1 42 0 83 1-81 1 42 1-75 0 20 1 56 1-15 0-53 1 56 1-58 0 19 1-78 1 84 0-47 1 56 1-6 0 53 1-58 0-17 1-21 1 105 0-41 1-42 1 1 0 44 1-2 1-18 0-51 1-7 0 11 1 54 1-82 0 121 1-65 0 42 1-83 1 46 0 20 1-68 0 58 1 4 1 40 0-30 1 31 0-60 1 52 0-86 1-39 1 92 0-93 1 119 0-79 1 63 0 62 1-20 0-81 1 67 1-53 0 25 1-31 0 88 1-99 0 14 1 12 0-10 1-46 0 30 1 54 0 41 1-25 0-93 1 33 0 68 1-60 0 72 1-117 0 46 1 52 1-55 0 27 1 53 0-83 1 0 0 12 0 67 1-24 0-4 1-34 0 20 1-29 0 26 1 29 0-66 1-20 0 28 1 33 0-37 1 1 0-35 1 131 0-141 1 33 0-16 1 44 0-58 0 63 1-81 0 29 1 104 0-54 1-5 0 22 1-66 0 72 1-104 0 188 0-86 1-80 0 53 1-16 0 7 1-47 0 162 0-146 1 25 0 106 1-86 0-43 1 103 0 3 0-72 1-73 0 65 1 38 0-4 1 37 0-12 0-46 1 33 0 3 1 3 0-43 0-50 1 43 0-36 1 4 0 26 1-25 0 10 0 39 1 29 0 57 1-70 0-54 0-1 1-7 0 36 0 21 1-27 0-46 1 39 0 12"/>
<path d="M100 1697H151l97-35 57 80 40-31 32-27 25 64 22 77 18-66 17 10 14-63 14 122 12-74 11 28 11 32 9-2 9 152 9-137 8 4 7-45 7 5 7 46 7-48 6 51 6 49 6-26 5 42 5-96 5 36 5-4 5-11 5 7 4 0 4 34 5 14 4 45 4-52 3-33 4 37 4 0 3-51 4 57 3-24 3 1 4-14 3 77 3-43 3-47 3 16 3 27 3-1 2 22 3 48 3-22 2-5 3-1 2-15 3-16 2 26 3 34 2 85 2-159 3 38 2 6 2 2 2 8 2 70 2-71 3 47 2-39 2-6 2-57 2 62 1-43 2 18 2 62 2-21 2 15 2-32 2 110 1-39 2-30 2-32 1-5 2-13 2 12 1 25 2-49 2 41 1 4 2 68 1-44 2-54 1 46 2 71 1-61 2 2 1-50 2 30 1 21 2 11 1 14 1-64 2 91 1-82 1 4 2 30 1 34 1-56 2 12 1 12 1-7 1-37 2-10 1 96 1-56 1 138 1-64 2-24 1 12 1-21 1-31 1-49 1 177 2-120 1 6 1-9 1-59 1 97 1 43 1-93 1 9 1 105 1-112 1-5 1 30 2-26 1 68 1 8 1-5 1-27 1-33 1-11 1 87 1-61 0 34 1-34 1 124 1-12 1-44 1-33 1-33 1 162 1-115 1-54 1 42 1 202 1-205 0 35 1-43 1-35 1 76 1-72 1 64 1 44 1-73 0-8 1 57 1-16 1-44 1 106 1-52 0-21 1-4 1 3 1 14 1 7 0 56 1 6 1-46 1-9 0 35 1-56 1-41 1 34 1-30 0-1 1 70 1-35 1 1 0-3 1 21 1 41 0-31 1 20 1-34 1 18 0-3 1 14 1-31 0-9 1 32 1 99 1-106 0-42 1 7 1 22 0-39 1 62 1 38 0-67 1 71 1-70 0 54 1 103 1-85 0 22 1-98 0 7 1 90 1-54 0-41 1 63 1-29 0-12 1-50 1-50 0 63 1 66 0 59 1-33 1-107 0 21 1 19 0 25 1-77 1 112 0-91 1 31 0 54 1-21 1-7 0-61 1 34 0-9 1 36 0 88 1-129 1 49 0-64 1 90 0-131 1 148 0-28 1-51 0 5 1 32 1-55 0 30 1-21 0 137 1-154 0-20 1 46 0-30 1 13 0-14 1 72 0-38 1 122 0-106 1-32 0 39 1 76 0-106 1 78 0-134 1 28 1 79 0-33 1 1 0-57 1 75 0 25 0-46 1 12 0 7 1-75 0 63 1 72 0-109 1 32 0 36 1-47 0-9 1 11 0-30 1-22 0 61 1-35 0 58 1-78 0 105 1 0 0-94 0 66 1-12 0 60 1-58 0-14 1-20 0 5 1-31 0 17 1 29 0 31 0-63 1 76 0-46 1 50 0-96 1 146 0-81 0 71 1-79 0-17 1-34 0 86 1 42 0-89 0 22 1 12 0 16 1-70 0 96 1-72 0 44 0 2 1-46 0 9 1 51 0-56 0 121 1-127 0 37 1-32 0-51 1 26 0 4 0 72 1-60 0-8 1 2 0 11 0-2 1 13 0-18 0-50 1 39 0-29 1 70 0-71"/>
<path d="M100 1768H151l97-109 57 70 40-27 32 109 25-76 22-44 18 63 17 21 14-3 14-27 12 75 11-52 11 7 9 14 9 23 9 173 8-172 7 7 7-24 7 62 7 9 6 104 6-36 6-51 5 3 5 4 5-65 5 62 5 62 5-99 4-43 4 41 5-38 4 54 4-39 3 20 4 4 4 38 3 44 4-9 3-78 3 42 4 34 3-19 3-22 3 226 3-173 3-46 3 41 2-56 3 63 3-51 2-13 3 65 2 51 3-22 2-15 3-55 2 41 2 8 3-3 2-91 2 109 2-59 2 3 2 35 3-12 2 44 2-52 2 26 2 31 1-63 2 8 2 100 2-74 2 21 2-38 2-2 1-7 2 31 2-29 1 119 2 16 2 39 1-169 2 65 2-57 1 25 2-33 1 45 2 25 1 71 2-108 1 9 2 75 1-61 2 1 1-40 2 3 1-42 1 99 2-27 1-25 1 52 2-10 1-13 1 23 2 12 1-68 1 37 1-1 2-7 1-9 1 8 1 71 1 38 2-21 1-60 1 70 1-48 1-80 1 47 2 38 1-31 1 32 1 5 1-15 1-10 1-14 1 21 1 20 1-19 1-53 1 73 2-37 1 63 1-70 1-13 1 48 1 1 1-27 1 34 1 15 0 67 1-56 1 43 1-95 1 45 1-67 1 115 1-99 1 33 1 145 1-99 1 67 1-40 0-56 1-33 1 92 1-104 1-11 1 139 1-144 1 66 0-25 1 17 1 46 1-3 1-44 1 53 0-61 1 23 1 48 1-82 1 63 0-38 1-30 1-4 1 49 0 3 1-52 1 137 1-122 1 24 0 53 1-53 1 10 1 47 0-60 1-9 1 20 0 56 1-33 1-76 1 36 0 15 1 74 1-16 0-50 1-61 1 55 1 96 0-28 1-48 1 149 0-109 1-100 1 81 0-22 1-20 1-11 0 3 1-6 1 99 0 41 1-137 0-18 1 13 1-9 0 60 1-67 1 177 0-163 1 74 1 1 0-30 1 71 0-25 1-68 1 23 0-51 1 158 0-118 1-10 1 39 0-48 1-12 0-2 1 4 1 154 0-86 1 33 0-11 1-129 0 118 1-72 1 4 0 15 1 50 0-37 1 67 0-94 1 73 0-88 1 51 1-75 0 135 1-40 0-37 1-6 0 1 1-39 0 27 1 22 0-43 1 129 0-43 1-48 0-17 1 71 0-108 1 121 0-91 1-16 0 60 1-59 1 158 0-43 1-121 0-10 1 112 0-113 0 98 1-112 0 90 1-29 0-54 1 34 0 42 1 29 0-58 1 43 0-10 1 32 0 30 1-62 0-25 1 37 0-1 1 11 0-64 1-5 0 69 0-88 1 57 0 13 1-43 0 65 1-23 0-51 1 77 0-14 1-101 0 81 0-49 1 81 0-25 1-23 0-38 1 160 0-86 0-91 1 150 0-119 1 50 0-65 1 77 0 102 0-85 1 26 0-95 1 33 0-82 1 49 0 0 0 77 1-46 0 106 1-110 0-18 0-33 1 73 0-54 1 22 0-28 1 1 0 119 0-69 1 29 0-22 1-19 0-16 0 44 1-60 0 41 0-72 1 110 0-6 1-24 0-36"/>
<path d="M100 1637H151l97 51 57-32 40 5 32 51 25 11 22 4 18 31 17 25 14 23 14-63 12 100 11-56 11-11 9 20 9 110 9-144 8 55 7 43 7-62 7 14 7-24 6 77 6 20 6-54 5-13 5 48 5-65 5 105 5-88 5 230 4-231 4 50 5 123 4-124 4 46 3-81 4 58 4-33 3-12 4 45 3-10 3-42 4 95 3-16 3 19 3-18 3-115 3 98 3-9 2-6 3-2 3-18 2 106 3-78 2-6 3 12 2 15 3 32 2-27 2 52 3 67 2-80 2-35 2-12 2-12 2 58 3-38 2-31 2 21 2 26 2 8 1-42 2 100 2-109 2 36 2 55 2-72 2 6 1 21 2 11 2 61 1 51 2-171 2 101 1-37 2-15 2-17 1 89 2 19 1 54 2-124 1 49 2 59 1-75 2-10 1-27 2 112 1-43 2-33 1 6 1 9 2-24 1 8 1-58 2 52 1 21 1-73 2 90 1-47 1 7 1 62 2-28 1-46 1 8 1 85 1-137 2 43 1-1 1 61 1-71 1 37 1 62 2 42 1-65 1-71 1 28 1 42 1-24 1-35 1 57 1 97 1-141 1 33 1-19 2 17 1-26 1 8 1 34 1 88 1-51 1 8 1-118 1 50 0 9 1 21 1-29 1 20 1 27 1 28 1-71 1 82 1-32 1 141 1-183 1-14 1 11 0 3 1 126 1-104 1-10 1 10 1-37 1 68 1-57 0 62 1 34 1-39 1 3 1 1 1-12 0-5 1-51 1 122 1-12 1-68 0 11 1-34 1-23 1 70 0 5 1 1 1-22 1 0 1 3 0 2 1 66 1-28 1-45 0-25 1 25 1 34 0-79 1 47 1 10 1 1 0-4 1-17 1 20 0 6 1 140 1-169 1 34 0-22 1 93 1-43 0-41 1 67 1-51 0 33 1-62 1-55 0 48 1-21 1 5 0 30 1 50 0 20 1-99 1-20 0 128 1-51 1 53 0-111 1 52 1 106 0-104 1 70 0-37 1-5 1 28 0-12 1-64 0-3 1 53 1-51 0-4 1 12 0-7 1 40 1 28 0-64 1 100 0-24 1-34 0-109 1 80 1 1 0-4 1 7 0-21 1-45 0 64 1 22 0 2 1-74 1 48 0-11 1 53 0-37 1 129 0-119 1-41 0-21 1 7 0 85 1 32 0 28 1-153 0 74 1-24 0 36 1-61 0 27 1 16 0-57 1 55 1-16 0-67 1 66 0-23 1-11 0 22 0 37 1-15 0 20 1-90 0 70 1-6 0-63 1 57 0 32 1-15 0-29 1 5 0-14 1-7 0 60 1-28 0 2 1-1 0 28 1 131 0-159 0 58 1-53 0-38 1-22 0 76 1 23 0 53 1-139 0 102 1-102 0 12 0-17 1 50 0-7 1 25 0-56 1 47 0-6 0-42 1 115 0-86 1-16 0-24 1 128 0-27 0 36 1-99 0 22 1-65 0 39 1 34 0 92 0-104 1 30 0-34 1 40 0-47 0 28 1-93 0 154 1-60 0-2 1-19 0-21 0 72 1-10 0 8 1 54 0-143 0 29 1-27 0-3 0 42 1 20 0 8 1-102 0 154"/>
<path d="M100 1693H151l97-39 57 85 40 4 32-40 25 79 22 149 18-160 17-43 14 84 14-39 12 70 11-42 11-28 9 65 9-33 9 9 8 69 7-49 7-64 7 147 7-43 6-51 6-31 6 143 5-100 5 79 5-43 5-60 5-7 5 34 4-76 4 156 5-17 4 22 4-111 3 40 4 52 4 12 3-47 4-63 3 120 3-49 4-16 3 19 3 19 3 103 3-148 3 69 3 77 2-89 3-42 3 41 2-21 3 92 2-110 3 102 2-21 3 0 2-78 2 35 3 38 2 23 2-22 2-55 2 106 2-26 3-72 2-6 2 114 2-98 2 12 1 61 2 101 2-75 2-46 2-57 2 45 2 90 1 50 2-171 2 204 1-182 2 78 2-63 1-4 2-14 2 37 1-55 2 151 1-123 2 85 1-67 2 34 1-33 2 6 1-7 2-23 1 117 2-124 1 3 1 19 2 18 1 26 1-39 2 68 1-48 1-1 2 8 1 23 1-28 1-15 2-21 1 27 1 87 1-54 1-48 2 124 1-105 1 26 1 6 1 27 1 3 2 77 1-82 1 12 1-62 1 114 1-67 1 11 1 7 1-33 1-22 1 45 1-21 2 97 1-133 1 79 1-29 1-30 1 40 1 55 1 25 1-153 0 50 1-1 1 163 1-114 1-19 1 2 1 33 1-69 1 62 1-17 1 1 1 8 1-18 0-9 1-1 1 53 1-65 1 28 1-9 1-9 1-23 0 38 1-15 1 4 1 10 1 10 1-5 0-75 1 36 1 166 1-98 1-25 0 14 1-17 1-3 1 3 0-32 1-9 1 52 1 29 1 105 0-109 1-26 1 45 1-71 0 21 1 29 1 4 0 12 1-99 1 33 1 3 0-59 1 64 1 17 0 6 1 29 1-67 1 41 0 50 1-76 1-3 0-30 1 92 1-61 0 1 1 66 1 130 0-199 1 7 1 0 0 31 1 19 0-5 1-24 1 24 0-24 1-5 1 20 0-63 1 43 1-16 0 0 1 22 0-58 1 219 1-78 0-115 1 70 0-70 1 86 1-62 0 36 1-56 0 10 1-44 1 82 0 33 1-90 0 89 1-59 0-24 1 170 1-161 0-14 1 2 0-5 1 132 0-123 1 34 0-47 1 144 1-62 0 16 1-47 0-46 1 15 0 59 1 7 0-86 1 124 0 18 1-119 0 60 1-47 0-2 1 33 0-80 1 10 0 109 1-13 0-90 1 95 1 76 0-59 1-51 0 32 1-53 0 39 0-53 1 10 0 46 1-87 0 37 1 161 0-197 1 84 0-53 1-7 0 43 1 50 0-39 1-19 0 122 1-106 0 59 1-69 0-49 1 10 0 48 0-74 1 78 0 30 1-9 0-112 1 44 0 39 1-38 0 109 1-100 0-1 0 54 1 6 0 64 1-54 0-11 1 61 0-121 0-33 1 25 0 12 1 11 0-64 1 50 0 100 0-90 1 16 0 5 1-26 0 2 1-22 0 47 0-40 1 92 0-99 1 72 0-2 0-53 1 16 0-26 1 61 0-16 1-56 0 99 0-56 1 9 0-36 1 72 0-88 0 72 1-86 0 2 0 68 1 18 0-42 1-68 0 105"/>
<path d="M100 1732H151l97-21 57 13 40-39 32-7 25 135 22 58 18-138 17 7 14 84 14-15 12-42 11 12 11 7 9 69 9-50 9 62 8 215 7-242 7 160 7 88 7-300 6 76 6-30 6 96 5-112 5 55 5-40 5-7 5 61 5-65 4 11 4-21 5 59 4-5 4 22 3-15 4 18 4-10 3 31 4-39 3 46 3-107 4 54 3 7 3-16 3-7 3 35 3 16 3-45 2 64 3-26 3-21 2-9 3 153 2-78 3-91 2 31 3 46 2 22 2-32 3 17 2 11 2-6 2 106 2-12 2-1 3-117 2 46 2 1 2-79 2 118 1 118 2-219 2-8 2 27 2 21 2-7 2 22 1 11 2-14 2-24 1 11 2 44 2-11 1-5 2 36 2 12 1-37 2-50 1 66 2-44 1-22 2 85 1 19 2-56 1 51 2-68 1 15 2 1 1 0 1 2 2 87 1-17 1-130 2 78 1 0 1-53 2 133 1-84 1-65 1 110 2 102 1-165 1 32 1-51 1-4 2 163 1-109 1 6 1 34 1-72 1 39 2 18 1-49 1 51 1-40 1 61 1 1 1 32 1-58 1 31 1-90 1 66 1-9 2 15 1-76 1 48 1 48 1-37 1 4 1 3 1 25 1 48 0-75 1 44 1-27 1 13 1 37 1-91 1 164 1-163 1-3 1 51 1-14 1 26 1 29 0-89 1 126 1-89 1 76 1-79 1 50 1 27 1-39 0-94 1 66 1-39 1 167 1-123 1 10 0-60 1 73 1 2 1-19 1 3 0 5 1-30 1 2 1-25 0 130 1-58 1-15 1-27 1 52 0-36 1 11 1-44 1 70 0-20 1-29 1 36 0-57 1 101 1-70 1 38 0 155 1-156 1-59 0-21 1 124 1-75 1 59 0-74 1-5 1 26 0 20 1-17 1 91 0-59 1-101 1 87 0 157 1-104 1-80 0-17 1 118 0-107 1 76 1-84 0 105 1-78 1 9 0-30 1 30 1 11 0 4 1-41 0 64 1 15 1-53 0 6 1-30 0 0 1 106 1-66 0-40 1-37 0 131 1-96 1-20 0 26 1 7 0 26 1 140 0-168 1-24 1 13 0 18 1 74 0-92 1 47 0 23 1-64 0 40 1-17 1 26 0-11 1-50 0 70 1-26 0 1 1 18 0-76 1 66 0 64 1-89 0-6 1 25 0 7 1-49 0 119 1-68 0-59 1 24 0 1 1 21 1-32 0 53 1-35 0 98 1-56 0-93 0 50 1 38 0-48 1 14 0 39 1-53 0 8 1 35 0-84 1 25 0 186 1-160 0 35 1 109 0-162 1 0 0-19 1 106 0-70 1 40 0-32 0-63 1 105 0-25 1-66 0 12 1 56 0-19 1 39 0 6 1-64 0 181 0-206 1-6 0 74 1 21 0-42 1-29 0 186 0-119 1-92 0 116 1-37 0-20 1-2 0-11 0-22 1 11 0 87 1-83 0 34 1-16 0-40 0 28 1 2 0-11 1 27 0-5 0 42 1-73 0 1 1 23 0-6 1-13 0 36 0-79 1 59 0-50 1 50 0 0 0 9 1-44 0 70 0 61 1-108 0 75 1-85 0-9"/>
<path d="M100 1657H151l97 52 57 75 40-27 32 25 25-18 22 6 18 12 17-29 14 37 14-28 12 12 11 21 11 187 9-114 9-81 9-18 8 36 7-14 7 46 7-33 7 51 6-27 6 149 6-165 5 10 5 21 5 89 5-97 5 53 5 59 4-40 4-35 5-70 4 36 4 81 3-28 4-52 4 27 3 15 4 39 3-39 3 28 4-12 3 16 3-22 3 28 3-24 3-4 3-13 2 2 3 54 3-95 2 73 3 47 2-13 3 38 2-27 3-65 2 24 2-44 3 31 2 114 2-108 2-44 2 79 2-37 3 24 2 97 2-122 2 58 2-5 1-91 2 148 2-78 2-6 2 30 2 21 2 65 1-94 2 25 2-50 1-9 2 59 2 4 1-65 2 28 2 12 1 30 2-19 1 22 2-45 1 8 2 40 1 24 2-15 1-66 2-13 1 87 2-66 1 132 1-128 2 50 1 11 1 78 2-118 1 6 1 7 2 63 1-105 1 91 1-13 2 15 1-26 1-22 1 10 1 73 2-62 1 44 1-28 1-56 1-3 1 65 2-32 1 64 1-10 1-31 1-3 1 10 1-22 1 50 1-5 1-78 1-9 1 67 2 28 1-57 1 13 1-34 1 51 1-10 1 106 1-119 1 52 0-65 1 8 1 3 1 59 1-50 1 27 1-35 1-19 1 43 1 73 1-23 1-82 1 45 0 18 1 17 1-28 1-75 1 88 1 44 1-52 1-3 0 99 1-144 1 24 1 104 1-95 1-32 0 143 1-121 1 76 1-105 1 248 0-203 1-11 1 133 1-86 0-77 1 92 1-66 1 32 1 49 0-61 1 37 1-64 1 43 0-62 1 80 1-8 0 61 1-89 1-25 1 58 0 6 1-31 1 21 0-2 1 26 1 11 1-48 0-19 1 55 1 59 0-55 1-17 1-68 0 87 1-39 1 23 0-14 1 12 1 49 0 3 1-65 0 127 1-67 1-28 0-42 1 10 1 9 0-25 1 56 1 16 0-66 1-40 0-2 1 119 1 82 0-199 1 60 0 32 1-17 1 14 0-4 1-20 0 6 1 27 1 7 0-29 1 39 0-75 1 52 0-61 1 13 1-24 0 34 1-21 0 94 1 7 0-19 1-67 0 85 1-4 1-62 0 24 1-21 0-69 1 222 0-22 1-91 0 2 1-45 0-85 1 19 0 150 1-57 0-39 1 56 0 48 1-57 0-53 1 46 0-28 1-65 1 37 0 36 1-59 0 64 1-43 0 11 0 2 1 20 0-15 1-19 0 48 1-32 0 34 1 49 0-113 1 93 0 10 1-19 0 31 1-59 0-43 1 26 0 63 1-52 0 77 1-89 0-15 0 106 1-73 0-55 1 91 0-41 1 79 0-147 1 52 0 66 1-58 0-17 0 10 1 16 0-3 1 1 0-30 1 52 0-34 0 8 1 41 0-35 1-24 0 43 1 9 0 99 0-160 1-38 0 126 1 77 0-159 1-3 0 53 0-34 1 23 0-41 1 39 0-54 0 22 1 35 0-81 1-1 0 73 1 53 0-31 0-63 1 19 0 17 1-26 0 22 0 2 1 86 0-134 0 26 1-20 0 48 1-49 0 86"/>
<path d="M100 1817H151l97-192 57 41 40-5 32 189 25-131 22 10 18 83 17-46 14-11 14 2 12 73 11 25 11-105 9 83 9-52 9 16 8 37 7 74 7-110 7 50 7-1 6-55 6 7 6 123 5-137 5 79 5-43 5 84 5-16 5 36 4-18 4-19 5-18 4-14 4 54 3-96 4 31 4 37 3-1 4-18 3 16 3 33 4-52 3 16 3-2 3 43 3 53 3-95 3-24 2 96 3-47 3-16 2 115 3-122 2 149 3-76 2-73 3-4 2 61 2-21 3-10 2 12 2 89 2-102 2 47 2-8 3-9 2-6 2 51 2-26 2-6 1 25 2-23 2 25 2-3 2-65 2 48 2 5 1 9 2-13 2 42 1-58 2 17 2-12 1 46 2 105 2-120 1 71 2-29 1-35 2 3 1 25 2-31 1-9 2-9 1 24 2-32 1-4 2-21 1 49 1 2 2-30 1 39 1 56 2-65 1-24 1 39 2 37 1-46 1-40 1 86 2-65 1 48 1 35 1-73 1 68 2-75 1 12 1 114 1-136 1 71 1-26 2 3 1 59 1-52 1-24 1 82 1-21 1 23 1-60 1 10 1-5 1 74 1-103 2 19 1 20 1 13 1-54 1 36 1-40 1 44 1-40 1 41 0 9 1-44 1 145 1-89 1 16 1-67 1 43 1-1 1 11 1 44 1-76 1 56 1 51 0-52 1 31 1-60 1-7 1 31 1-55 1 54 1 26 0-26 1 1 1-46 1-25 1 44 1 65 0-122 1 63 1-57 1 114 1-110 0 71 1-9 1 97 1 16 0-154 1 48 1-9 1 69 1 17 0-72 1 19 1 17 1 56 0-2 1-80 1-71 0 93 1-32 1 15 1-86 0 82 1-19 1-29 0 57 1-16 1 3 1-37 0 39 1-21 1 19 0 22 1-21 1-39 0 48 1 43 1-115 0 67 1 10 1-44 0 20 1 138 0-106 1-77 1 38 0-49 1 44 1 86 0-46 1-13 1 0 0 56 1-39 0 21 1-46 1-21 0 81 1-80 0 0 1 168 1-198 0 100 1 97 0-69 1-22 1 38 0-39 1-35 0-7 1-10 0 25 1 10 1 8 0-44 1 17 0 1 1 33 0 3 1-111 0 56 1 59 1-106 0 54 1-28 0 103 1-11 0-84 1-18 0 61 1-33 0 97 1-52 0-70 1 65 0 60 1-45 0 43 1-114 0 27 1 105 0-68 1-30 1-14 0 60 1-61 0-28 1 39 0 6 0 6 1-9 0-15 1-26 0 90 1-72 0 42 1 32 0-83 1 23 0-1 1-8 0 81 1-89 0 37 1-1 0-15 1-11 0 11 1-38 0 205 0-138 1-68 0 164 1-153 0 115 1-74 0-17 1 17 0 42 1-2 0-65 0-18 1 11 0 65 1-49 0 10 1 69 0-76 0 88 1-47 0-85 1 8 0 103 1-89 0 9 0 6 1 46 0 10 1-5 0 18 1 16 0-70 0 7 1 3 0 23 1-67 0 58 0-33 1-34 0 40 1-8 0-33 1 32 0 77 0-39 1-36 0-25 1 42 0-2 0-47 1 80 0-20 0 16 1-38 0-41 1 34 0 44"/>
<path d="M100 1768H151l97-52 57 21 40-60 32 142 25-58 22 73 18-3 17-107 14 62 14 5 12-23 11-13 11 44 9-65 9 91 9-4 8-6 7-21 7 235 7-154 7-25 6-85 6 67 6 38 5-27 5 22 5-78 5 69 5 148 5-167 4 82 4-14 5-64 4 51 4-66 3 94 4 13 4-17 3-26 4-26 3-8 3-21 4 9 3 38 3 1 3-6 3 52 3-36 3-35 2 2 3 44 3 22 2-6 3 14 2-21 3-11 2 9 3 11 2-34 2 51 3-25 2 51 2-48 2 22 2 2 2 9 3 66 2-141 2 47 2 3 2 15 1-25 2 92 2-10 2-28 2-65 2 69 2-14 1 35 2-29 2 22 1-4 2-28 2 23 1-49 2 29 2 31 1-59 2 51 1 92 2-123 1 92 2-63 1-16 2-18 1 131 2-89 1 34 2 1 1-47 1 44 2-31 1 28 1 0 2-11 1-7 1 55 2 130 1-234 1 60 1-46 2 43 1-32 1 54 1-33 1 11 2 66 1-53 1 24 1-72 1 13 1 32 2-25 1-27 1 42 1-12 1 11 1-13 1 87 1-42 1-28 1 6 1 56 1-32 2-71 1 281 1-194 1 2 1-48 1-26 1 80 1-36 1 50 0-52 1-62 1 92 1-25 1 54 1-45 1-39 1 40 1-2 1 28 1-104 1 112 1-54 0 82 1-66 1-16 1 37 1-3 1-18 1-16 1 111 0-69 1-41 1 61 1-70 1 72 1-26 0 22 1-56 1 137 1-126 1 107 0-45 1-40 1 57 1-87 0 29 1-12 1 18 1 157 1-187 0 6 1 98 1-60 1-10 0-51 1 27 1 42 0 37 1-60 1-14 1 41 0 47 1-43 1 1 0 110 1-145 1 126 1 54 0-202 1 67 1-60 0-26 1 78 1-73 0 66 1-2 1-5 0-11 1 1 1 5 0-41 1 27 0 53 1 26 1-46 0-40 1 22 1 102 0-34 1-9 1-1 0 18 1-30 0 66 1-57 1-78 0 27 1-24 0 12 1 64 1-44 0-13 1 48 0-30 1 1 1 32 0-48 1 43 0-67 1 33 0 10 1-39 1 77 0-60 1 82 0-71 1-13 0 21 1-16 0-46 1 78 1 2 0-19 1 3 0-4 1-34 0 103 1-120 0 96 1-9 0 10 1-71 0 10 1 10 0 15 1 8 0 38 1-108 0 126 1-61 0 16 1-77 1 42 0 163 1-167 0 42 1-19 0 62 0-104 1 66 0-51 1 3 0 14 1 11 0 21 1 41 0-90 1 0 0-39 1 5 0 40 1 75 0-101 1 94 0-8 1-62 0-7 1 56 0 41 0-74 1 70 0-50 1-66 0-1 1 63 0-28 1-5 0 42 1-51 0-42 0 29 1 0 0 28 1-18 0 19 1 4 0 2 0 114 1-147 0-15 1 13 0-29 1 60 0 159 0-139 1-95 0 30 1 12 0-8 1 12 0 117 0-49 1-36 0-2 1-26 0-9 0 68 1-72 0 47 1-46 0 77 1-31 0 58 0-84 1 17 0-26 1 72 0-36 0 30 1-74 0 39 0-31 1 109 0-159 1 92 0-37"/>
<path d="M100 1680H151l97 136 57-100 40 93 32-145 25 207 22-114 18 79 17-78 14 32 14 71 12-133 11 92 11 8 9-39 9 77 9 1 8-76 7 79 7-66 7 127 7-122 6 37 6-3 6 97 5-100 5 43 5-18 5-78 5 50 5 79 4-123 4 43 5 153 4-85 4-87 3 53 4 24 4 73 3-87 4-37 3 61 3-16 4 11 3-8 3-49 3 47 3 7 3-39 3 78 2-6 3 48 3 3 2 48 3-60 2-111 3 65 2 13 3-48 2 16 2 86 3-62 2-53 2 54 2 69 2-54 2-55 3 107 2-34 2-35 2 156 2-196 1 27 2 17 2 56 2-97 2 37 2 16 2-25 1-10 2-6 2 13 1 52 2-40 2 7 1 52 2-70 2 16 1 7 2 119 1-125 2 7 1 68 2-35 1-13 2-31 1 49 2 18 1-29 2-31 1 125 1-79 2-11 1 109 1-95 2-57 1 37 1 66 2-28 1-13 1 23 1-67 2 20 1 83 1-39 1 2 1-27 2 49 1-88 1 128 1-53 1 29 1-61 2 35 1 74 1-77 1 16 1 177 1-182 1 27 1-45 1-18 1 7 1 154 1-139 2-44 1 26 1-15 1 55 1 99 1-81 1-71 1 131 1-33 0 6 1-2 1-74 1 25 1-50 1 22 1-3 1 47 1-58 1 37 1 58 1-89 1 18 0-29 1 50 1 6 1 52 1 8 1-45 1 187 1-124 0 40 1-108 1 61 1 100 1-54 1-40 0 52 1-140 1-17 1 13 1 63 0-13 1 17 1-38 1 66 0-66 1 45 1-33 1 0 1-1 0 2 1-1 1 0 1 52 0-90 1 77 1-109 0 62 1-58 1 124 1-28 0-4 1 4 1-78 0 14 1 50 1-97 1 68 0-20 1 14 1 89 0-68 1-39 1 46 0-21 1 70 1 15 0-97 1-6 1 29 0-7 1 52 0 44 1-149 1 51 0-20 1-7 1 32 0 3 1 115 1-81 0-69 1 35 0-9 1-7 1 91 0-87 1 5 0 5 1 180 1-172 0 58 1-37 0-23 1-4 1 54 0-64 1 59 0 25 1-67 0-38 1 48 1 48 0-3 1 29 0-53 1 25 0-38 1-20 0 75 1-69 1 21 0 37 1 25 0-93 1 2 0-18 1-52 0 86 1 48 0-78 1-20 0 61 1 6 0-39 1 60 0-30 1 78 0-68 1 79 0-81 1 20 1-35 0 31 1-66 0 77 1-75 0 30 0-2 1 103 0-161 1 163 0-115 1-48 0 108 1-5 0-94 1 24 0 4 1 43 0-27 1 46 0-47 1 169 0-150 1-67 0 74 1 61 0-103 0 88 1-91 0 89 1-10 0-58 1 68 0-43 1-31 0 57 1 55 0-122 0 29 1-24 0 71 1-88 0 21 1-32 0 29 0-16 1 5 0-6 1 34 0-29 1 14 0 78 0-78 1 3 0 117 1-159 0-16 1 49 0 57 0-29 1 103 0-90 1-44 0-18 0 67 1 19 0 0 1 61 0-91 1 84 0-9 0-46 1-66 0 46 1-42 0 10 0 27 1 43 0-49 0 48 1-103 0 35 1 52 0-37"/>
<path d="M100 1684H151l97 95 57-47 40-15 32 33 25 16 22-61 18 21 17 173 14-93 14-21 12 14 11-9 11 104 9-70 9-7 9-5 8-18 7 83 7-83 7 59 7 82 6-58 6-94 6 2 5 19 5-17 5 17 5 31 5 104 5-13 4-118 4 20 5 43 4 95 4-54 3 6 4-7 4 91 3-112 4 4 3-72 3 65 4 6 3 14 3-44 3 46 3 52 3-63 3-7 2-22 3 36 3-16 2 28 3 38 2-99 3 92 2 12 3-29 2 37 2-63 3 173 2-163 2-12 2 16 2 5 2 33 3-47 2 48 2-45 2 64 2-69 1 74 2-52 2 22 2-62 2 80 2-42 2 64 1-80 2 5 2 35 1-33 2 17 2 116 1-131 2 58 2 28 1-12 2 46 1-101 2 67 1-53 2-38 1 47 2-26 1 4 2 51 1-17 2-37 1-7 1 70 2-38 1-24 1 119 2-106 1 27 1 2 2 60 1-20 1-63 1 37 2-12 1 81 1-103 1 20 1 111 2-105 1 121 1-48 1-56 1 17 1-14 2 2 1 70 1-131 1 104 1-85 1 24 1 51 1 28 1-61 1 81 1-83 1 38 2-60 1 45 1-40 1 59 1-1 1-23 1 40 1-51 1 11 0-30 1 165 1-88 1 24 1 96 1-146 1 11 1 0 1-98 1 79 1-19 1 42 1-35 0 59 1-23 1-31 1 82 1-14 1-77 1 26 1-8 0 25 1-19 1 67 1-40 1-16 1 36 0-26 1 13 1 18 1-60 1-19 0 213 1-154 1 15 1 46 0-81 1 24 1 65 1-90 1 38 0 34 1-69 1-6 1 18 0-5 1 51 1-74 0 40 1-52 1 71 1-15 0-8 1-30 1 72 0-91 1 43 1-44 1 21 0 33 1-28 1 69 0-52 1 18 1-11 0 24 1-23 1 14 0-88 1 87 1-21 0 57 1-9 0-33 1 59 1-12 0-73 1 137 1-110 0 112 1-153 1 139 0-41 1-95 0 4 1 114 1-96 0-15 1 70 0-95 1 82 1-71 0 57 1 1 0 91 1-107 1 2 0 115 1-181 0 0 1 127 0-9 1 29 1-68 0-14 1-40 0 69 1-29 0-33 1 75 0-40 1 1 1 52 0-71 1 17 0-5 1-1 0-6 1 106 0-89 1 48 0 25 1-39 0-57 1 11 0 77 1-6 0-26 1 53 0-129 1 150 0-115 1 40 1-49 0-40 1 59 0 4 1 33 0-21 0-21 1 33 0-30 1 45 0 32 1-98 0 40 1 19 0-26 1-61 0 76 1-26 0-42 1 4 0 64 1-33 0 29 1-7 0-41 1 49 0 5 0-27 1 23 0-45 1 56 0-12 1 87 0-119 1 18 0-74 1-4 0 71 0 29 1-45 0 0 1 38 0-49 1 85 0-112 0 75 1-65 0-11 1 209 0-223 1 105 0 111 0-123 1 49 0-53 1 0 0-21 1 30 0-87 0 33 1 4 0 29 1-42 0 5 0 40 1-42 0 25 1-36 0 36 1 19 0-35 0-10 1-15 0 113 1-30 0-64 0 21 1 38 0-64 0 57 1 6 0 28 1-53 0 6"/>
<path d="M100 1806H151l97 8 57-44 40-96 32 27 25 54 22 8 18 6 17 120 14-178 14 95 12-49 11 34 11 11 9-29 9 81 9-58 8 67 7-42 7-57 7 30 7-5 6-18 6 26 6 89 5-37 5-56 5 60 5-29 5 4 5 79 4-49 4 6 5-19 4 49 4-37 3-20 4 14 4-16 3 52 4 7 3 36 3 44 4 106 3-163 3 2 3 77 3-39 3-74 3 35 2-74 3 86 3-63 2 42 3 21 2-70 3 23 2 48 3-35 2-19 2 25 3-22 2 55 2 71 2-113 2 52 2-66 3 14 2 33 2 22 2-15 2-67 1 104 2-71 2 88 2-82 2 90 2-71 2 5 1 39 2-20 2-26 1-20 2 94 2-41 1-29 2-23 2 72 1 15 2 22 1-52 2-2 1 72 2-75 1-59 2 93 1-47 2 95 1-80 2 60 1-9 1-39 2 53 1-46 1-26 2 10 1 68 1-61 2 14 1 22 1 3 1 2 2-6 1 24 1-39 1 50 1-44 2 37 1 2 1 110 1-116 1-33 1 76 2-83 1 64 1-22 1-3 1-63 1-26 1 75 1 26 1-46 1 18 1-17 1 10 2 15 1-25 1 0 1-31 1-14 1 50 1 71 1-51 1-2 0 35 1-8 1-14 1-41 1 127 1-41 1-37 1 3 1 120 1-109 1 25 1-63 1 3 0 72 1 22 1-14 1-70 1 27 1-19 1 48 1-72 0 61 1-9 1-49 1 18 1 3 1 31 0-70 1 117 1-37 1-10 1-53 0 42 1-22 1 6 1 30 0 31 1 4 1-61 1 15 1 0 0 18 1-13 1-18 1 95 0-97 1 86 1-57 0 17 1 75 1-121 1-13 0 18 1-19 1 55 0 90 1-84 1-68 1 128 0-18 1-95 1 6 0 42 1-7 1 1 0 51 1 9 1 9 0-81 1 18 1 22 0 40 1-83 0-33 1 26 1 14 0 181 1-186 1 6 0 126 1-114 1-10 0 49 1-19 0-80 1 71 1-25 0-5 1 57 0 33 1-63 1-23 0 19 1 43 0 4 1-44 1-37 0 9 1-1 0 5 1-19 0 27 1-10 1 32 0-8 1-12 0-7 1-21 0 25 1-21 0 107 1-95 1 43 0-34 1-10 0-6 1 6 0 9 1 32 0-4 1-50 0 138 1-99 0-14 1-18 0 39 1 155 0-107 1 26 0-76 1 29 0-58 1 42 1-53 0 5 1-3 0 82 1-40 0 8 0-6 1-34 0-15 1 132 0-63 1-30 0-19 1-2 0 37 1-44 0 53 1-36 0 5 1 48 0-19 1 6 0-16 1 0 0-35 1 61 0 42 0-85 1-14 0 30 1-71 0 57 1-36 0 67 1-23 0 21 1-74 0 1 0 8 1 49 0-84 1 89 0 128 1-196 0 103 0-86 1 74 0 2 1-11 0-81 1 65 0-22 0 7 1 20 0-27 1-3 0 61 1 3 0 8 0-50 1-29 0-10 1 8 0 49 0-36 1 51 0-113 1 71 0 19 1 25 0-43 0 39 1-24 0-9 1 52 0-99 0 51 1 3 0-24 0-35 1 60 0 26 1 9 0-27"/>
<path d="M100 1606H151l97 140 57 47 40-126 32 42 25 124 22-77 18-17 17-25 14 106 14-21 12-13 11-9 11 14 9 40 9-58 9 17 8 22 7-26 7 31 7-12 7-6 6 11 6 5 6 28 5-9 5-28 5 62 5-18 5 76 5-14 4-52 4 26 5-39 4 133 4-110 3-30 4 88 4 42 3-85 4-64 3 22 3 9 4 49 3-22 3-5 3-20 3 32 3-6 3-24 2 42 3 186 3-161 2-5 3-45 2 93 3-55 2 39 3 4 2-67 2 117 3-63 2-50 2 117 2-41 2-5 2-12 3-61 2 39 2 30 2-53 2 52 1-43 2 27 2-2 2 0 2 36 2-10 2 8 1 100 2 10 2-125 1 65 2-105 2 18 1 67 2-92 2 93 1-4 2-26 1-14 2 39 1-51 2-3 1 112 2-43 1-87 2 112 1-108 2 31 1 48 1-1 2-38 1-9 1 71 2-98 1 36 1 42 2 19 1-105 1 111 1-4 2-66 1 92 1-64 1-10 1 16 2 15 1-88 1 53 1 16 1-15 1-7 2 65 1 1 1-50 1 47 1-70 1 61 1 71 1-59 1 52 1-75 1-13 1-12 2 59 1 55 1-86 1 12 1-48 1 74 1-31 1-20 1 94 0-70 1 8 1 36 1-56 1 32 1 36 1-79 1 72 1-32 1-24 1-31 1 176 1-109 0 65 1-137 1 45 1 38 1 21 1-26 1-66 1 14 0 21 1 145 1 50 1-210 1 30 1 12 0-14 1-36 1 49 1-21 1 155 0-146 1-54 1 16 1 63 0-15 1-52 1 40 1 119 1 8 0-154 1 56 1-14 1 166 0-182 1 32 1 41 0-35 1-69 1 34 1 11 0-17 1 43 1 15 0-68 1 159 1-85 1-26 0 34 1-29 1 38 0-51 1-4 1-4 0 100 1-144 1 92 0-79 1 56 1 22 0-17 1-34 0 7 1 7 1 109 0-91 1 35 1-41 0-14 1-29 1 33 0 23 1 15 0-46 1 41 1-55 0-13 1 30 0 1 1 12 1 107 0-111 1-25 0 68 1-94 1 137 0-91 1-16 0 20 1-17 0-6 1 100 1-88 0-36 1 67 0-9 1 3 0-49 1 11 0 16 1 45 1 20 0-16 1-39 0 63 1-16 0-25 1 57 0-79 1 20 0 6 1-80 0 82 1-72 0 50 1 16 0-24 1-49 0 91 1-54 0 92 1 15 1-115 0 7 1 70 0-51 1-6 0-40 0 39 1-14 0 104 1-71 0 13 1-96 0 72 1-46 0 12 1 138 0 3 1-79 0-40 1-32 0-20 1 66 0 3 1-3 0-29 1-16 0 48 0 22 1-61 0 28 1 38 0-36 1-3 0 24 1-20 0 5 1 19 0 31 0 24 1-94 0 74 1-97 0 12 1 66 0-82 0 76 1-21 0 4 1-87 0 93 1-51 0 44 0-26 1 5 0 20 1-49 0 175 1-152 0 74 0-57 1-10 0 39 1-64 0 43 0 0 1 54 0-62 1 23 0 3 1-13 0 7 0-20 1-34 0 43 1 32 0-32 0-57 1 161 0-157 0 134 1-112 0 0 1 74 0-30"/>
<path d="M100 1737H151l97-98 57 22 40 73 32-31 25 70 22-40 18 137 17 48 14-114 14 22 12-3 11 77 11-168 9 40 9 55 9-12 8-16 7-10 7 29 7-18 7 62 6-39 6-35 6-4 5 24 5 62 5 24 5-73 5 3 5 64 4-17 4 53 5-72 4 7 4-28 3 145 4-132 4 33 3-10 4-23 3-17 3 112 4-77 3-63 3 51 3 127 3-78 3 7 3 14 2-34 3 5 3-4 2 86 3-74 2 8 3 40 2-4 3 65 2-130 2 38 3 12 2 24 2-6 2 38 2-88 2 112 3-112 2 0 2 47 2 50 2-80 1 48 2 9 2-27 2 13 2 116 2-100 2-41 1 15 2 103 2-88 1-33 2 2 2 176 1-94 2-75 2-4 1 20 2-47 1 21 2 10 1-35 2 29 1 33 2 4 1-2 2-26 1 3 2 67 1 33 1-63 2 14 1 9 1-26 2 92 1-93 1-45 2 20 1 33 1 72 1-89 2 92 1-80 1 7 1 34 1-14 2 12 1 5 1 33 1 9 1-63 1 93 2-130 1 26 1 82 1-72 1-1 1 63 1-40 1 117 1-168 1 119 1-134 1 158 2-100 1-45 1 46 1 34 1-26 1 40 1-43 1 13 1-50 0 15 1 65 1-35 1-25 1 18 1 92 1-6 1-67 1 2 1 64 1-95 1 79 1-59 0 74 1 10 1-129 1 108 1-78 1 1 1 176 1-145 0 40 1-23 1-7 1-34 1 42 1-9 0-41 1 28 1-11 1 20 1 53 0-55 1-40 1 81 1-76 0 37 1-27 1 47 1 1 1 54 0-50 1 87 1-102 1-36 0 48 1-36 1 102 0-79 1-3 1 25 1 1 0-27 1 46 1 14 0 31 1-50 1 24 1-26 0-6 1-2 1-36 0-33 1 108 1 45 0-19 1-11 1-34 0-38 1-3 1 37 0 64 1-19 0-31 1 16 1-119 0 35 1-22 1 70 0 29 1 35 1-77 0-18 1 9 0 74 1-87 1 72 0-47 1-31 0 48 1 35 1-60 0-12 1-16 0 6 1 81 1 8 0-16 1-82 0 38 1 21 0-27 1 2 1-17 0 38 1-9 0 75 1-92 0 40 1-83 0 124 1 37 1-110 0 6 1 52 0-5 1-63 0-5 1 33 0 4 1-64 0 162 1-66 0-24 1-24 0 20 1-94 0 36 1 72 0-45 1 27 0 23 1-8 1-47 0 56 1-83 0-19 1 132 0-99 0-43 1 105 0-70 1 25 0-27 1 146 0-98 1 40 0-106 1 67 0 29 1-43 0 1 1 49 0 64 1-117 0 81 1-100 0 52 1-50 0 43 0-51 1 24 0-17 1 90 0-107 1 23 0 45 1-71 0 57 1 44 0-24 0-65 1 53 0-30 1 15 0-70 1 25 0-19 0 141 1-9 0-102 1 21 0 29 1-17 0-27 0 60 1 119 0-189 1 16 0 17 1 36 0-62 0 19 1 20 0-29 1-41 0 76 0-30 1-22 0 122 1-39 0-28 1-24 0-34 0 26 1-37 0 61 1-21 0-49 0 83 1-62 0-34 0 75 1 93 0-137 1-2 0 20"/>
<path d="M100 1632H151l97 26 57-6 40 97 32-68 25 89 22-22 18-49 17 50 14-26 14 58 12-53 11 72 11 32 9-55 9 56 9 25 8 34 7-110 7 222 7-172 7-56 6 70 6-46 6 18 5 55 5 51 5-104 5 65 5 14 5-60 4 78 4-71 5 64 4-37 4 57 3-75 4-10 4 6 3-8 4 139 3-125 3 79 4-41 3 37 3-89 3 96 3-6 3 7 3-10 2-33 3 45 3-66 2 51 3-66 2 41 3 55 2-28 3-5 2 31 2-51 3 40 2-50 2 21 2-43 2 26 2 5 3 78 2-47 2 12 2 141 2-99 1-80 2 35 2-43 2 67 2-66 2 52 2 41 1-53 2 2 2-4 1 85 2-101 2 12 1 36 2-42 2 8 1 69 2-68 1-14 2 242 1-238 2 56 1-25 2-39 1 47 2 82 1-51 2-47 1 78 1-82 2 59 1 0 1-40 2 45 1-8 1 27 2 116 1-165 1 184 1-219 2 95 1-14 1-35 1 6 1 79 2-108 1 39 1 29 1-3 1-63 1 10 2 16 1-16 1-1 1 79 1 45 1-65 1-80 1 66 1 78 1-47 1-28 1 51 2-100 1-3 1 58 1 9 1-14 1-9 1-15 1 17 1 42 0-55 1-18 1 34 1-4 1 15 1-20 1 17 1 32 1-23 1 0 1-40 1 37 1 108 0-89 1-4 1-43 1 53 1-60 1 14 1 30 1-28 0-3 1-47 1 108 1 100 1-138 1-31 0-28 1 70 1-21 1 18 1 21 0-35 1-15 1 16 1 59 0 9 1-31 1-17 1-45 1 52 0 89 1-80 1-22 1-16 0-10 1 39 1 34 0-25 1-71 1 104 1-95 0 13 1 40 1 25 0-34 1 28 1-37 1 72 0 63 1-108 1-31 0 64 1 27 1-46 0-4 1 10 1-47 0 78 1-41 1 10 0-15 1 51 0 39 1-88 1 44 0-62 1 80 1-82 0-21 1 33 1 57 0-66 1 18 0 5 1-1 1-1 0 40 1-93 0 41 1-17 1 39 0 38 1-22 0 8 1-88 1 41 0 121 1-87 0 12 1-21 0-15 1 64 1-51 0 76 1-97 0 48 1 50 0-76 1-50 0 102 1-27 1-55 0 12 1 63 0-81 1 65 0-13 1-44 0 21 1 128 0-111 1-32 0-17 1 74 0-39 1-31 0 63 1-28 0-60 1 103 0-30 1-38 1 48 0 39 1-123 0 45 1 18 0-37 0-1 1 73 0-91 1 135 0-66 1 33 0-57 1 19 0-44 1 23 0 101 1-85 0 3 1 69 0-86 1 1 0 17 1-41 0-5 1-7 0 36 0 11 1-39 0 155 1-122 0 66 1-56 0-42 1 50 0-22 1-10 0 77 0-81 1 30 0-6 1-61 0 46 1 10 0-4 0 23 1-24 0-7 1 38 0-74 1-10 0 121 0-105 1 10 0 121 1-90 0 19 1-27 0 1 0 15 1 71 0-109 1 98 0-32 0-38 1 5 0-38 1 40 0-30 1 113 0-99 0-17 1 30 0 8 1-13 0-15 0 31 1 47 0 2 0-99 1-20 0 54 1-22 0 40"/>
<path d="M100 1779H151l97-118 57 140 40-72 32-55 25 19 22 140 18-112 17 60 14-8 14 26 12-87 11 133 11-128 9 92 9-44 9 25 8 81 7-49 7 44 7-49 7 22 6 15 6 10 6 26 5-72 5-26 5 56 5-29 5 19 5-45 4 88 4 5 5-69 4-25 4 68 3 25 4 6 4 80 3-148 4 27 3 50 3-23 4-2 3 33 3-26 3-17 3 90 3-69 3 33 2 28 3-38 3 19 2-96 3 62 2 9 3 55 2-21 3 31 2 36 2-121 3 13 2 28 2 123 2-119 2 24 2-23 3 62 2-89 2 29 2 45 2-35 1-8 2 0 2-18 2 27 2-13 2 85 2-146 1 115 2-111 2 51 1 33 2 104 2-112 1 110 2-164 2 106 1-55 2 165 1-161 2-4 1 51 2-69 1 50 2-9 1-13 2 37 1-10 2-45 1 91 1-4 2-84 1 67 1-13 2 3 1-55 1 18 2-11 1-23 1 60 1-18 2 47 1-25 1 131 1-128 1 11 2 14 1-51 1 95 1-96 1 27 1-65 2 155 1 42 1-184 1 17 1 4 1 148 1-67 1-33 1 2 1-76 1 88 1-26 2-13 1 39 1-37 1 145 1-62 1-77 1 67 1-90 1 59 0-24 1 20 1 19 1-20 1 2 1 30 1 19 1-17 1 24 1 42 1-63 1-23 1-37 0 65 1 2 1 1 1 19 1-70 1 98 1-48 1-51 0-37 1 53 1-43 1 46 1-1 1 4 0-2 1 13 1 7 1-8 1-37 0-8 1 146 1 33 1-69 0-54 1 5 1-45 1 45 1-46 0 45 1-36 1 36 1 20 0-74 1 61 1 47 0-60 1-41 1 69 1-5 0-24 1-41 1 69 0 42 1 23 1-24 1-95 0 26 1 77 1-60 0-58 1 31 1-4 0 121 1-148 1 106 0-52 1 63 1-41 0-63 1 79 0-42 1-27 1 61 0-15 1-25 1 13 0-32 1 118 1 79 0-55 1-67 0 6 1 3 1-45 0-1 1-40 0 26 1 5 1 60 0-25 1 38 0 4 1 43 1-84 0 0 1-10 0-44 1 60 0-2 1-35 1-44 0 19 1 20 0 104 1-87 0-39 1 69 0 40 1-91 1 74 0 110 1-219 0 119 1-124 0 61 1-65 0 128 1-57 0-61 1 141 0-78 1-7 0 30 1-86 0 119 1-31 0-57 1 127 0-56 1-28 1-14 0 20 1-33 0-5 1-9 0 1 0-2 1 78 0-93 1 55 0-28 1-48 0 38 1 87 0-76 1 22 0-11 1 23 0 62 1-82 0 44 1-28 0-37 1-24 0 46 1-26 0 47 0-65 1 52 0-46 1 35 0 82 1-59 0 28 1-74 0 23 1 42 0-35 0 14 1-4 0 5 1-69 0 41 1 20 0 18 0-46 1-9 0 6 1 2 0 150 1-156 0 70 0-78 1 21 0 46 1 12 0-48 1-25 0 32 0-24 1 16 0 12 1-13 0 10 0-26 1 3 0 37 1-41 0 42 1 32 0-62 0-2 1 4 0 25 1-19 0 13 0 46 1-69 0-19 0 108 1-23 0-94 1 6 0 27"/>
<path d="M100 1747H151l97-14 57-57 40 8 32 12 25 81 22-13 18-4 17 48 14-63 14 153 12-79 11-83 11 81 9-31 9 11 9 168 8-152 7 13 7 37 7-92 7 32 6 23 6-19 6 73 5-82 5 92 5-31 5 70 5-25 5-28 4-36 4-7 5 46 4-16 4 3 3 112 4-170 4 132 3-55 4-4 3-11 3-29 4 61 3-8 3 1 3 21 3-70 3 72 3-12 2-13 3 8 3-11 2 225 3-232 2 59 3-14 2-35 3 53 2-24 2-5 3-6 2 11 2-35 2 36 2-48 2 66 3-70 2 98 2-9 2-54 2 28 1 31 2-36 2 92 2 5 2-75 2-39 2 87 1-90 2 47 2-43 1 68 2-18 2 45 1 6 2-119 2 68 1 15 2-26 1-13 2 135 1-122 2 222 1-244 2 22 1 56 2-69 1 10 2-44 1 0 1 112 2-55 1 29 1-23 2-46 1 50 1 12 2-40 1 96 1 20 1-53 2 4 1-59 1 60 1 18 1-25 2-49 1 7 1 62 1-53 1 18 1 35 2 69 1-6 1-77 1-24 1 169 1-166 1-2 1 39 1 40 1 9 1-79 1 66 2-46 1-27 1 69 1-7 1-40 1 12 1 76 1 38 1 85 0-131 1-7 1 16 1-72 1 33 1 39 1 30 1 37 1-120 1-3 1-38 1 17 1 26 0-9 1 136 1-135 1 29 1-33 1 117 1-79 1-31 0-28 1-25 1 68 1 16 1 18 1-61 0 102 1-65 1-31 1 100 1 35 0-43 1-111 1 4 1 23 0 16 1-56 1 47 1-36 1 29 0-29 1 39 1 3 1 135 0-122 1-16 1-37 0 64 1 17 1-112 1 143 0-23 1 15 1-71 0 2 1 34 1 50 1-52 0-11 1-54 1 130 0-123 1 42 1 38 0 54 1-127 1 12 0 6 1 40 1-30 0-32 1 63 0-67 1 87 1-18 0 53 1-112 1-3 0 86 1-13 1 24 0-13 1-42 0-25 1-3 1 4 0 6 1-4 0 85 1-50 1 3 0-38 1 55 0-69 1 46 1 9 0 82 1-77 0 14 1-62 0 47 1 15 1-33 0-15 1 72 0-97 1 143 0-110 1-11 0 32 1-35 1 16 0 44 1-45 0-1 1 70 0 28 1-99 0-46 1 17 0 63 1 100 0-102 1 1 0 77 1-156 0 101 1-62 0 66 1-80 0 54 1-45 1 54 0-67 1 49 0 39 1-95 0 103 0-82 1-27 0 81 1 13 0-25 1-65 0 15 1 64 0-33 1-7 0-63 1 35 0 104 1-66 0 68 1-74 0 84 1-67 0-4 1-9 0 69 0-92 1 53 0-47 1 9 0 11 1 103 0-107 1 20 0 7 1 52 0-84 0 94 1-69 0-37 1 118 0-179 1 242 0-167 0 43 1 19 0-62 1-13 0-15 1 74 0-65 0 52 1-20 0 96 1-145 0 85 1-69 0 22 0-14 1 42 0 7 1-49 0 26 0 25 1-46 0 29 1-59 0 105 1-12 0-42 0 51 1-67 0-19 1 32 0-17 0-15 1 24 0 80 0-78 1 23 0-20 1-22 0 57"/>
<path d="M100 1638H151l97 78 57 49 40-42 32 79 25 1 22-66 18-53 17 86 14 11 14 34 12-27 11 82 11-10 9-36 9-30 9 50 8-25 7 99 7-153 7 22 7 16 6 19 6 26 6 60 5-8 5-87 5 9 5 33 5-2 5-13 4 35 4-40 5 56 4-50 4 68 3-128 4 25 4 126 3-76 4-11 3 126 3-44 4-101 3 24 3 51 3 37 3-7 3 3 3-63 2 22 3 78 3-24 2-84 3 151 2-90 3-45 2 95 3-64 2 39 2-1 3-41 2-1 2 67 2 24 2-17 2-94 3 73 2-19 2-3 2 3 2-4 1-22 2 30 2-38 2 5 2 35 2-53 2 75 1-41 2 23 2-22 1 187 2-188 2 11 1 72 2-52 2 19 1 17 2-1 1-33 2 41 1-13 2 29 1-39 2 35 1-47 2-58 1 22 2 78 1 5 1 25 2-125 1 68 1-42 2 63 1-51 1 57 2-25 1 57 1-52 1-15 2 47 1 14 1 12 1 19 1-58 2 10 1-15 1 24 1-52 1-16 1 87 2-21 1 99 1-145 1 20 1 32 1-21 1-31 1 54 1-4 1-22 1-3 1 8 2-15 1 0 1-13 1 0 1 19 1-16 1 87 1-23 1 62 0-116 1 40 1-26 1 104 1 98 1-192 1-28 1 124 1-50 1-49 1 68 1-17 1-31 0 55 1-56 1 125 1-101 1-10 1 98 1-132 1 24 0-62 1 55 1 47 1 4 1-31 1-10 0 133 1-158 1 69 1-22 1-51 0 37 1 24 1 22 1-47 0 20 1 40 1-25 1-13 1-84 0 52 1 19 1 19 1 35 0-47 1-4 1-52 0 73 1-47 1 141 1-79 0-4 1-10 1 34 0-33 1 165 1-143 1-15 0-4 1 16 1 61 0-75 1-48 1 68 0-47 1 13 1-39 0 59 1 60 1-134 0 38 1-29 0 186 1-127 1 109 0-134 1 34 1 43 0-92 1 40 1-59 0 7 1 135 0-93 1 58 1-59 0-58 1 62 0 38 1-17 1-28 0-14 1 63 0-20 1 25 1-50 0 24 1 75 0-49 1-86 0 94 1 15 1-101 0 3 1-11 0-5 1 27 0 59 1-49 0 26 1-20 1-21 0 53 1-77 0-7 1 94 0-49 1-27 0 23 1-1 0 28 1 91 0-90 1 7 0-22 1 42 0 10 1-46 0 15 1 5 0 46 1-65 1-3 0-11 1 48 0 35 1-62 0-51 0 45 1-17 0 42 1-77 0 17 1-5 0 80 1-69 0 84 1 72 0-112 1-37 0 57 1-90 0 80 1-29 0-77 1 78 0 31 1-38 0 79 0-23 1 52 0-67 1-49 0 0 1-39 0 36 1 28 0 95 1-61 0-55 0 17 1 25 0-47 1 34 0 79 1-170 0 156 0-112 1 93 0-65 1 14 0-11 1 80 0-80 0 24 1-1 0-32 1-3 0 44 1-38 0 50 0-97 1 54 0 35 1-31 0 24 0-15 1-47 0 50 1 82 0-94 1-3 0-17 0-48 1 47 0 66 1-17 0 24 0-74 1-60 0 33 0 137 1-51 0-74 1 108 0-9"/>
<path d="M100 1616H151l97 42 57 101 40-61 32 42 25 50 22-20 18 22 17 22 14-101 14 105 12-59 11 164 11-178 9 78 9 140 9-186 8 30 7 128 7-146 7 190 7-171 6-5 6 51 6-36 5 82 5-106 5 114 5 50 5-114 5 34 4-17 4 28 5 41 4-73 4 26 3-27 4-1 4 134 3-79 4-58 3 77 3-39 4-13 3 70 3-42 3 43 3 96 3-163 3 46 2 5 3 26 3 6 2-45 3 41 2 185 3-242 2 35 3-18 2-8 2 99 3-102 2 69 2-47 2 24 2 22 2-32 3 83 2-88 2-38 2 8 2 16 1 64 2-40 2 58 2-77 2 0 2-32 2 94 1 7 2 47 2-101 1 0 2 22 2-66 1 91 2 55 2-133 1 193 2-96 1-62 2 32 1-38 2 47 1-15 2 6 1-44 2 7 1 18 2 64 1-32 1 36 2-12 1-83 1 200 2-54 1 5 1-148 2 57 1-51 1 132 1-146 2 47 1 32 1 40 1-44 1 81 2-58 1-1 1 13 1-2 1-31 1 11 2-49 1 19 1-18 1 63 1-61 1 26 1 12 1 133 1-136 1 68 1-42 1-49 2 65 1-81 1 72 1-10 1 64 1-75 1 22 1-39 1 32 0 10 1-38 1 94 1 73 1-64 1-54 1-47 1 15 1 59 1-83 1 173 1-118 1-30 0-25 1 130 1-107 1 117 1-103 1-55 1 53 1 36 0 28 1-64 1 34 1-35 1 18 1-33 0 52 1-51 1 65 1-34 1 13 0 1 1 114 1-83 1-18 0 11 1-12 1 20 1-10 1-1 0-34 1-10 1 29 1-50 0 81 1-16 1-9 0-65 1 75 1-53 1 145 0-161 1 122 1-87 0-38 1 74 1 5 1-14 0-58 1 158 1-144 0 51 1 53 1-79 0 19 1-38 1-11 0 71 1-15 1-15 0 89 1-146 0 53 1-19 1 48 0-29 1 5 1 26 0-5 1 24 1-32 0 6 1-6 0 65 1 54 1-98 0 67 1-100 0 9 1-24 1-1 0 74 1-44 0 17 1-95 1 106 0-54 1 50 0 11 1 9 0 15 1-50 1 96 0 57 1-194 0 26 1-12 0 3 1 89 0-75 1-29 1 72 0-32 1-22 0 79 1-18 0-27 1-51 0 95 1 10 0-101 1-31 0 79 1 64 0 6 1-42 0-25 1-29 0 20 1-20 0-27 1 41 1 42 0-53 1-72 0 84 1 11 0 2 0 18 1-41 0-26 1 8 0 151 1-118 0 1 1-34 0 48 1 65 0-96 1-18 0 42 1 13 0-10 1 101 0-180 1 55 0-46 1 53 0-42 0 45 1-34 0 138 1-87 0 41 1-62 0-58 1 9 0 124 1-83 0 26 0-26 1 26 0-91 1 52 0 95 1-115 0 93 0-61 1 39 0-2 1-78 0 45 1 55 0-44 0-9 1 1 0 16 1-19 0-3 1-2 0 21 0 3 1 59 0-67 1-29 0-14 0 42 1-1 0-17 1 25 0 77 1-66 0 18 0-19 1-32 0 12 1-27 0 66 0 0 1-50 0-18 0 24 1-2 0-2 1-15 0-27"/>
</g>
<path d="M100 1667.5H151.4L151.4 1667.5 248.3 1668 305.1 1697 345.3 1702 376.5 1711 402 1734 423.6 1738 442.2 1745 458.7 1760 473.5 1762.4 486.8 1771.2 499 1763.5 510.1 1772.4 520.5 1778.1 530.2 1793 539.2 1796 547.7 1800 555.7 1805.6 563.2 1808.3 570.4 1810.4 577.2 1815 583.7 1820 589.9 1819.1 595.9 1824.9 601.6 1834.1 607.1 1830.7 612.4 1828.5 617.5 1834.8 622.4 1845.8 627.1 1850.1 631.7 1851.8 636.1 1837.6 640.4 1837.6 644.6 1847 648.7 1861.6 652.6 1859.1 656.4 1857.3 660.2 1858.1 663.8 1858.9 667.3 1867.4 670.8 1865.4 674.2 1877 677.5 1875.4 680.7 1877.1 683.8 1870.9 686.9 1870.7 689.9 1878.1 692.8 1877.2 695.7 1881.8 698.6 1897.3 701.3 1889.9 704 1893 706.7 1896.2 709.3 1893 711.9 1899.7 714.4 1902.5 716.9 1911.4 719.3 1912.4 721.7 1909.8 724.1 1915 726.4 1921.1 728.6 1917.2 730.9 1921.6 733.1 1923.8 735.2 1922.8 737.4 1914.9 739.5 1921.2 741.6 1923.4 743.6 1929.2 745.6 1926.3 747.6 1931.4 749.6 1926.8 751.5 1937.5 753.4 1931.8 755.3 1939.8 757.1 1934.3 758.9 1947.6 760.7 1935.8 762.5 1949 764.3 1942.3 766 1954.9 767.7 1939.4 769.4 1954.3 771.1 1954.6 772.8 1957.1 774.4 1947.6 776 1957.1 777.6 1947.8 779.2 1957.6 780.8 1958.8 782.3 1969.1 783.8 1959.8 785.3 1973.1 786.8 1959.5 788.3 1977.3 789.8 1954.8 791.2 1984.8 792.7 1976.7 794.1 1987.8 795.5 1964.6 796.9 1991.9 798.3 1974.4 799.6 1988.9 801 1968.1 802.3 1989.7 803.6 1977.4 805 1994.9 806.3 1981.6 807.6 1995.3 808.8 1989 810.1 1999.5 811.4 1995.5 812.6 2005.3 813.8 1990.3 815 2007.1 816.3 1993.4 817.5 2002.6 818.6 1994.1 819.8 2008.1 821 1998.1 822.2 2011.5 823.3 1999 824.5 2012.8 825.6 2005.8 826.7 2011.1 827.8 2000.1 828.9 2018.5 830 2004 831.1 2021.8 832.2 2008.9 833.3 2022.7 834.3 2007 835.4 2027 836.4 2011.8 837.5 2029.7 838.5 2014.6 839.5 2027.3 840.5 2015.7 841.6 2036 842.6 2021.5 843.6 2043.2 844.5 2025.4 845.5 2040.4 846.5 2018.7 847.5 2040.5 848.4 2028.2 849.4 2037.5 850.3 2032.6 851.3 2050.2 852.2 2033.4 853.1 2054 854.1 2035.4 855 2053.7 855.9 2033.4 856.8 2057.3 857.7 2039.3 858.6 2058.9 859.5 2044 860.4 2060.7 861.2 2040.7 862.1 2063.5 863 2042.6 863.8 2068.7 864.7 2040.3 865.5 2071.9 866.4 2046.9 867.2 2075.4 868.1 2052 868.9 2071 869.7 2053.4 870.5 2084.3 871.4 2054.6 872.2 2083.1 873 2050 873.8 2083.6 874.6 2051.6 875.4 2085 876.1 2054.7 876.9 2084.8 877.7 2057.1 878.5 2088.5 879.3 2057.7 880 2089.4 880.8 2063.4 881.5 2094.6 882.3 2063.1 883 2094.5 883.8 2064.1 884.5 2099.8 885.3 2062.5 886 2101.7 886.7 2066.8 887.5 2100.4 888.2 2062.8 888.9 2106.6 889.6 2075.5 890.3 2112.1 891 2067.4 891.7 2113.6 892.4 2071.8 893.1 2106.3 893.8 2071 894.5 2114.6 895.2 2073.4 895.9 2114.9 896.6 2076.4 897.3 2122.5 897.9 2075.9 898.6 2121.8 899.3 2075.3 899.9 2122.8 900.6 2079.5 901.3 2126.3 901.9 2076.9 902.6 2118.9 903.2 2075.2 903.9 2125.1 904.5 2085.3 905.1 2124.9 905.8 2082.5 906.4 2124.7 907 2082.6 907.7 2132.6 908.3 2079 908.9 2131.4 909.5 2082.5 910.2 2133.3 910.8 2088.2 911.4 2136.5 912 2088.3 912.6 2135 913.2 2088.8 913.8 2129.6 914.4 2081.4 915 2134.3 915.6 2085.7 916.2 2142.2 916.8 2091.8 917.4 2137.2 917.9 2089.2 918.5 2144.5 919.1 2086.9 919.7 2145.1 920.3 2093.1 920.8 2145.3 921.4 2095.5 922 2147.2 922.5 2093.8 923.1 2141.2 923.7 2092.7 924.2 2154.1 924.8 2096 925.3 2153.5 925.9 2093.8 926.4 2148.3 927 2101.5 927.5 2154.8 928.1 2095.2 928.6 2154.2 929.1 2096 929.7 2147.3 930.2 2097.1 930.7 2152.9 931.3 2096.9 931.8 2152.4 932.3 2097.1 932.9 2151.6 933.4 2094.8 933.9 2155 934.4 2095 934.9 2157.9 935.5 2097.2 936 2156.6 936.5 2094.7 937 2163.7 937.5 2097 938 2159.4 938.5 2099.5 939 2162.5 939.5 2098.3 940 2160.2 940.5 2100.3 941 2165 941.5 2099.3 942 2161.4 942.5 2106.1 943 2159.9 943.4 2099.1 943.9 2164.3 944.4 2096.9 944.9 2166.4 945.4 2102.8 945.9 2164.4 946.3 2097.7 946.8 2168.3 947.3 2102.3 947.8 2166.9 948.2 2098.6 948.7 2164.9 949.2 2098.3 949.6 2169.2 950.1 2098.2 950.5 2168.5 951 2102 951.5 2167.4 951.9 2100.5 952.4 2165.5 952.8 2099 953.3 2167.2 953.7 2100.8 954.2 2162 954.6 2102.2 955.1 2169.3 955.5 2106.7 956 2170.5 956.4 2107.5 956.9 2170.4 957.3 2105.4 957.7 2169.9 958.2 2102.1 958.6 2165.4 959.1 2102 959.5 2171.3 959.9 2107.3 960.4 2171.6 960.8 2107.2 961.2 2168.1 961.6 2102.5 962.1 2171.5 962.5 2103.5 962.9 2172.5 963.3 2101.3 963.8 2167.2 964.2 2108.2 964.6 2170.5 965 2104.1 965.4 2177.5 965.8 2105.6 966.3 2176.2 966.7 2102.3 967.1 2176.7 967.5 2107 967.9 2178.9 968.3 2106.2 968.7 2171.8 969.1 2105.7 969.5 2172.4 969.9 2108 970.3 2174.9 970.7 2103.6 971.1 2177.5 971.5 2104.8 971.9 2179.5 972.3 2102.8 972.7 2177.4 973.1 2105.3 973.5 2178.5 973.9 2105.6 974.3 2177.7 974.7 2103.7 975 2180.9" stroke="#f00" stroke-width="6.3" stroke-linecap="square"/>
<path d="M100 1665.9 200 1665.9 296.9 1703.2 353.6 1713.5 393.9 1712.1 425.1 1738.5 450.6 1741.5 472.2 1752 490.8 1757 507.3 1753 522 1776 535.4 1776 547.6 1788 558.7 1785 569.1 1794 578.8 1797 579.6 1797.2 580.6 1797.4 581.8 1797.7 583.1 1798 584.7 1798.4 586.3 1798.8 588.1 1799.4 590 1800 592.1 1800.8 594.5 1801.7 597.1 1802.7 599.9 1803.8 602.6 1804.9 605.3 1806.1 607.8 1807.2 610 1808.3 612 1809.3 613.9 1810.4 615.6 1811.4 617.3 1812.5 618.8 1813.6 620.4 1814.6 621.8 1815.7 623.3 1816.7 624.7 1817.8 626.1 1819 627.4 1820.3 628.7 1821.5 629.9 1822.7 631.1 1823.7 632.2 1824.5 633.3 1825 634.3 1825.1 635.1 1824.9 635.9 1824.4 636.6 1823.8 637.4 1823.2 638.2 1822.7 639 1822.5 640 1822.7 641 1823.3 642 1824.2 643.1 1825.3 644.2 1826.5 645.4 1827.9 646.7 1829.2 648.2 1830.5 650 1831.7 652.1 1832.8 654.5 1833.8 657.1 1834.9 659.8 1835.9 662.6 1836.9 665.2 1837.9 667.8 1839 670 1840 671.9 1841 673.6 1841.9 675.2 1842.8 676.6 1843.7 678.1 1844.7 679.7 1845.8 681.4 1846.9 683.3 1848.3 685.5 1849.9 687.9 1851.7 690.5 1853.7 693.1 1855.7 695.7 1857.7 698.4 1859.7 700.9 1861.6 703.3 1863.3 705.5 1864.8 707.7 1866.1 709.8 1867.3 711.9 1868.5 713.9 1869.6 715.9 1870.8 717.9 1872 720 1873.3 722.1 1874.7 724.2 1876.1 726.3 1877.5 728.4 1878.9 730.4 1880.4 732.5 1881.9 734.6 1883.4 736.7 1885 738.8 1886.6 740.9 1888.2 742.9 1889.9 745 1891.5 747.1 1893.2 749.1 1894.9 751.2 1896.6 753.3 1898.3 755.4 1900 757.5 1901.7 759.7 1903.4 761.8 1905.1 764 1906.8 766 1908.5 768.1 1910.1 770 1911.7 771.8 1913.2 773.4 1914.5 774.9 1915.7 776.3 1916.9 777.8 1918.2 779.5 1919.6 781.4 1921.2 783.5 1923 786 1925.1 788.7 1927.4 791.6 1929.9 794.7 1932.5 797.8 1935.2 801 1937.9 804.1 1940.7 807.1 1943.5 810 1946.3 813 1949.2 815.9 1952.1 818.9 1955.1 821.8 1958.1 824.7 1961.1 827.7 1964.1 830.6 1967.1 833.5 1970 836.5 1972.8 839.4 1975.6 842.4 1978.4 845.3 1981.2 848.2 1984.2 851.2 1987.3 854.1 1990.6 857 1994.2 860 1997.9 863 2001.9 865.9 2005.9 868.9 2010 871.8 2014.1 874.7 2018.1 877.6 2022 880.5 2025.9 883.5 2029.9 886.4 2033.8 889.3 2037.8 892.2 2041.6 894.9 2045.3 897.6 2048.8 900 2052 902.3 2054.9 904.4 2057.6 906.3 2060.1 908.2 2062.4 910 2064.7 911.7 2066.8 913.3 2068.9 915 2071 916.6 2073.1 918.2 2075.1 919.7 2077.1 921.1 2079.1 922.5 2080.9 923.9 2082.7 925.2 2084.4 926.5 2086 927.7 2087.5 928.9 2088.9 930 2090.2 931.1 2091.4 932.1 2092.5 933.2 2093.7 934.2 2094.8 935.3 2096 936.4 2097.2 937.5 2098.3 938.6 2099.5 939.7 2100.6 940.8 2101.7 941.9 2102.8 943 2103.9 944.1 2105 945.2 2106.1 946.3 2107.1 947.4 2108.2 948.6 2109.2 949.7 2110.2 950.8 2111.2 951.9 2112.1 953 2113 954.1 2113.9 955.2 2114.7 956.3 2115.5 957.4 2116.2 958.5 2117 959.6 2117.7 960.7 2118.4 961.8 2119 962.9 2119.6 964.1 2120.2 965.3 2120.8 966.4 2121.3 967.6 2121.8 968.7 2122.3 969.7 2122.7 970.6 2123 971.4 2123.2 972.2 2123.4 972.9 2123.5 973.6 2123.5 974.2 2123.5 974.7 2123.5 975.1 2123.5 975.5 2123.5" stroke="#1f77b4" stroke-width="6.3" stroke-linecap="square"/>
<path d="M100 1563.51H151.4L151.4 1563.5 248.3 1563.5 305.1 1563.5 345.3 1563.5 376.5 1563.5 402 1563.5 423.6 1563.5 442.2 1563.5 458.7 1563.5 473.5 1563.5 486.8 1563.5 499 1563.5 510.1 1563.5 520.5 1563.6 530.2 1563.6 539.2 1563.6 547.7 1563.6 555.7 1563.6 563.2 1563.6 570.4 1563.6 577.2 1563.6 583.7 1563.6 589.9 1563.6 595.9 1563.6 601.6 1563.7 607.1 1563.7 612.4 1563.7 617.5 1563.7 622.4 1563.7 627.1 1563.7 631.7 1563.7 636.1 1563.8 640.4 1563.8 644.6 1563.8 648.7 1563.8 652.6 1563.8 656.4 1563.8 660.2 1563.9 663.8 1563.9 667.3 1563.9 670.8 1563.9 674.2 1563.9 677.5 1564 680.7 1564 683.8 1564 686.9 1564 689.9 1564 692.8 1564.1 695.7 1564.1 698.6 1564.1 701.3 1564.1 704 1564.2 706.7 1564.2 709.3 1564.2 711.9 1564.3 714.4 1564.3 716.9 1564.3 719.3 1564.3 721.7 1564.4 724.1 1564.4 726.4 1564.4 728.6 1564.5 730.9 1564.5 733.1 1564.5 735.2 1564.5 737.4 1564.6 739.5 1564.6 741.6 1564.6 743.6 1564.7 745.6 1564.7 747.6 1564.7 749.6 1564.8 751.5 1564.8 753.4 1564.9 755.3 1564.9 757.1 1564.9 758.9 1565 760.7 1565 762.5 1565 764.3 1565.1 766 1565.1 767.7 1565.2 769.4 1565.2 771.1 1565.2 772.8 1565.3 774.4 1565.3 776 1565.4 777.6 1565.4 779.2 1565.5 780.8 1565.5 782.3 1565.5 783.8 1565.6 785.3 1565.6 786.8 1565.7 788.3 1565.7 789.8 1565.8 791.2 1565.8 792.7 1565.9 794.1 1565.9 795.5 1566 796.9 1566 798.3 1566.1 799.6 1566.1 801 1566.2 802.3 1566.2 803.6 1566.3 805 1566.3 806.3 1566.4 807.6 1566.4 808.8 1566.5 810.1 1566.6 811.4 1566.6 812.6 1566.7 813.8 1566.7 815 1566.8 816.3 1566.8 817.5 1566.9 818.6 1567 819.8 1567 821 1567.1 822.2 1567.1 823.3 1567.2 824.5 1567.3 825.6 1567.3 826.7 1567.4 827.8 1567.4 828.9 1567.5 830 1567.6 831.1 1567.6 832.2 1567.7 833.3 1567.8 834.3 1567.8 835.4 1567.9 836.4 1568 837.5 1568 838.5 1568.1 839.5 1568.2 840.5 1568.2 841.6 1568.3 842.6 1568.4 843.6 1568.4 844.5 1568.5 845.5 1568.6 846.5 1568.7 847.5 1568.7 848.4 1568.8 849.4 1568.9 850.3 1569 851.3 1569 852.2 1569.1 853.1 1569.2 854.1 1569.3 855 1569.3 855.9 1569.4 856.8 1569.5 857.7 1569.6 858.6 1569.7 859.5 1569.7 860.4 1569.8 861.2 1569.9 862.1 1570 863 1570.1 863.8 1570.1 864.7 1570.2 865.5 1570.3 866.4 1570.4 867.2 1570.5 868.1 1570.6 868.9 1570.6 869.7 1570.7 870.5 1570.8 871.4 1570.9 872.2 1571 873 1571.1 873.8 1571.2 874.6 1571.3 875.4 1571.3 876.1 1571.4 876.9 1571.5 877.7 1571.6 878.5 1571.7 879.3 1571.8 880 1571.9 880.8 1572 881.5 1572.1 882.3 1572.2 883 1572.3 883.8 1572.4 884.5 1572.5 885.3 1572.6 886 1572.7 886.7 1572.8 887.5 1572.9 888.2 1573 888.9 1573.1 889.6 1573.2 890.3 1573.3 891 1573.4 891.7 1573.5 892.4 1573.6 893.1 1573.7 893.8 1573.8 894.5 1573.9 895.2 1574 895.9 1574.1 896.6 1574.2 897.3 1574.3 897.9 1574.4 898.6 1574.5 899.3 1574.6 899.9 1574.7 900.6 1574.9 901.3 1575 901.9 1575.1 902.6 1575.2 903.2 1575.3 903.9 1575.4 904.5 1575.5 905.1 1575.6 905.8 1575.8 906.4 1575.9 907 1576 907.7 1576.1 908.3 1576.2 908.9 1576.3 909.5 1576.5 910.2 1576.6 910.8 1576.7 911.4 1576.8 912 1576.9 912.6 1577.1 913.2 1577.2 913.8 1577.3 914.4 1577.4 915 1577.6 915.6 1577.7 916.2 1577.8 916.8 1577.9 917.4 1578.1 917.9 1578.2 918.5 1578.3 919.1 1578.4 919.7 1578.6 920.3 1578.7 920.8 1578.8 921.4 1579 922 1579.1 922.5 1579.2 923.1 1579.3 923.7 1579.5 924.2 1579.6 924.8 1579.7 925.3 1579.9 925.9 1580 926.4 1580.2 927 1580.3 927.5 1580.4 928.1 1580.6 928.6 1580.7 929.1 1580.8 929.7 1581 930.2 1581.1 930.7 1581.3 931.3 1581.4 931.8 1581.6 932.3 1581.7 932.9 1581.8 933.4 1582 933.9 1582.1 934.4 1582.3 934.9 1582.4 935.5 1582.6 936 1582.7 936.5 1582.9 937 1583 937.5 1583.2 938 1583.3 938.5 1583.5 939 1583.6 939.5 1583.8 940 1583.9 940.5 1584.1 941 1584.2 941.5 1584.4 942 1584.5 942.5 1584.7 943 1584.9 943.4 1585 943.9 1585.2 944.4 1585.3 944.9 1585.5 945.4 1585.6 945.9 1585.8 946.3 1586 946.8 1586.1 947.3 1586.3 947.8 1586.5 948.2 1586.6 948.7 1586.8 949.2 1587 949.6 1587.1 950.1 1587.3 950.5 1587.5 951 1587.6 951.5 1587.8 951.9 1588 952.4 1588.1 952.8 1588.3 953.3 1588.5 953.7 1588.7 954.2 1588.8 954.6 1589 955.1 1589.2 955.5 1589.4 956 1589.5 956.4 1589.7 956.9 1589.9 957.3 1590.1 957.7 1590.3 958.2 1590.4 958.6 1590.6 959.1 1590.8 959.5 1591 959.9 1591.2 960.4 1591.3 960.8 1591.5 961.2 1591.7 961.6 1591.9 962.1 1592.1 962.5 1592.3 962.9 1592.5 963.3 1592.7 963.8 1592.9 964.2 1593 964.6 1593.2 965 1593.4 965.4 1593.6 965.8 1593.8 966.3 1594 966.7 1594.2 967.1 1594.4 967.5 1594.6 967.9 1594.8 968.3 1595 968.7 1595.2 969.1 1595.4 969.5 1595.6 969.9 1595.8 970.3 1596 970.7 1596.2 971.1 1596.4 971.5 1596.6 971.9 1596.8 972.3 1597 972.7 1597.2 973.1 1597.5 973.5 1597.7 973.9 1597.9 974.3 1598.1 974.7 1598.3 975 1598.5" stroke="#ff7f0e" stroke-width="6.2" stroke-dasharray="22.65 9.6" stroke-dashoffset="17.35"/>
<path d="M296.9 1605.2 316.8 1613.7 334.2 1621.2 349.6 1627.9 363.6 1633.8 376.2 1639.3 387.8 1644.3 398.6 1648.9 408.5 1653.2 417.8 1657.2 426.5 1660.9 434.7 1664.4 442.5 1667.8 449.8 1670.9 456.8 1673.9 463.4 1676.8 469.8 1679.5 475.8 1682.1 481.7 1684.6 487.2 1687 492.6 1689.3 497.8 1691.5 502.8 1693.7 507.6 1695.8 512.2 1697.8 516.7 1699.7 521.1 1701.6 525.3 1703.4 529.4 1705.2 533.4 1706.9 537.3 1708.5 541.1 1710.2 544.8 1711.8 548.3 1713.3 551.8 1714.8 555.2 1716.3 558.6 1717.7 561.8 1719.1 565 1720.4 568.1 1721.8 571.1 1723.1 574.1 1724.4 577 1725.6 579.9 1726.8 582.7 1728 585.4 1729.2 588.1 1730.4 590.7 1731.5 593.3 1732.6 595.8 1733.7 598.3 1734.8 600.8 1735.8 603.2 1736.9 605.6 1737.9 607.9 1738.9 610.2 1739.9 612.4 1740.9 614.7 1741.8 616.8 1742.7 619 1743.7" stroke="#00bfbf" stroke-width="6.2" stroke-dasharray="22.65 9.6"/>
</g>
<path d="M103.1 2145.22H110.3 M103.1 2052.9H110.3 M103.1 1960.58H110.3 M103.1 1868.26H110.3 M103.1 1775.94H110.3 M103.1 1683.62H110.3 M103.1 1591.3H110.3 M200 2209.7V2216.9 M522.05 2209.7V2216.9 M844.1 2209.7V2216.9" stroke="#000" stroke-width="1.7" fill="none"/>
<path d="M106.1 2209.75H110.3 M106.1 2193.49H110.3 M106.1 2181.96H110.3 M106.1 2173.01H110.3 M106.1 2165.7H110.3 M106.1 2159.52H110.3 M106.1 2154.16H110.3 M106.1 2149.44H110.3 M106.1 2117.43H110.3 M106.1 2101.17H110.3 M106.1 2089.64H110.3 M106.1 2080.69H110.3 M106.1 2073.38H110.3 M106.1 2067.2H110.3 M106.1 2061.84H110.3 M106.1 2057.12H110.3 M106.1 2025.11H110.3 M106.1 2008.85H110.3 M106.1 1997.32H110.3 M106.1 1988.37H110.3 M106.1 1981.06H110.3 M106.1 1974.88H110.3 M106.1 1969.52H110.3 M106.1 1964.8H110.3 M106.1 1932.79H110.3 M106.1 1916.53H110.3 M106.1 1905H110.3 M106.1 1896.05H110.3 M106.1 1888.74H110.3 M106.1 1882.56H110.3 M106.1 1877.2H110.3 M106.1 1872.48H110.3 M106.1 1840.47H110.3 M106.1 1824.21H110.3 M106.1 1812.68H110.3 M106.1 1803.73H110.3 M106.1 1796.42H110.3 M106.1 1790.24H110.3 M106.1 1784.88H110.3 M106.1 1780.16H110.3 M106.1 1748.15H110.3 M106.1 1731.89H110.3 M106.1 1720.36H110.3 M106.1 1711.41H110.3 M106.1 1704.1H110.3 M106.1 1697.92H110.3 M106.1 1692.56H110.3 M106.1 1687.84H110.3 M106.1 1655.83H110.3 M106.1 1639.57H110.3 M106.1 1628.04H110.3 M106.1 1619.09H110.3 M106.1 1611.78H110.3 M106.1 1605.6H110.3 M106.1 1600.24H110.3 M106.1 1595.52H110.3 M106.1 1563.51H110.3 M106.1 1547.25H110.3 M128.55 2209.7V2213.9 M150.11 2209.7V2213.9 M168.79 2209.7V2213.9 M185.26 2209.7V2213.9 M296.95 2209.7V2213.9 M353.66 2209.7V2213.9 M393.89 2209.7V2213.9 M425.1 2209.7V2213.9 M450.6 2209.7V2213.9 M472.16 2209.7V2213.9 M490.84 2209.7V2213.9 M507.31 2209.7V2213.9 M619 2209.7V2213.9 M675.71 2209.7V2213.9 M715.94 2209.7V2213.9 M747.15 2209.7V2213.9 M772.65 2209.7V2213.9 M794.21 2209.7V2213.9 M812.89 2209.7V2213.9 M829.36 2209.7V2213.9 M941.05 2209.7V2213.9 M997.76 2209.7V2213.9" stroke="#000" stroke-width="1.3" fill="none"/>
<rect x="110.3" y="1547.25" width="906.3" height="662.45" fill="none" stroke="#000" stroke-width="1.7"/>
<text transform="matrix(0.2307 0 0 0.2180 47.24 1599.2)" style="font-size:100px;" fill="#000">10</text>
<text transform="matrix(0.1708 0 0 0.1540 74.26 1593.3)" style="font-size:100px;" fill="#000">−</text>
<text transform="matrix(0.1617 0 0 0.1540 85.6 1591.6)" style="font-size:100px;" fill="#000">1</text>
<text transform="matrix(0.2307 0 0 0.2180 47.24 1691.52)" style="font-size:100px;" fill="#000">10</text>
<text transform="matrix(0.1708 0 0 0.1540 74.26 1685.62)" style="font-size:100px;" fill="#000">−</text>
<text transform="matrix(0.1617 0 0 0.1540 85.62 1683.92)" style="font-size:100px;" fill="#000">2</text>
<text transform="matrix(0.2307 0 0 0.2180 47.24 1783.84)" style="font-size:100px;" fill="#000">10</text>
<text transform="matrix(0.1708 0 0 0.1540 74.26 1777.94)" style="font-size:100px;" fill="#000">−</text>
<text transform="matrix(0.1617 0 0 0.1540 85.52 1776.24)" style="font-size:100px;" fill="#000">3</text>
<text transform="matrix(0.2307 0 0 0.2180 47.24 1876.16)" style="font-size:100px;" fill="#000">10</text>
<text transform="matrix(0.1708 0 0 0.1540 74.26 1870.26)" style="font-size:100px;" fill="#000">−</text>
<text transform="matrix(0.1617 0 0 0.1540 85.28 1868.56)" style="font-size:100px;" fill="#000">4</text>
<text transform="matrix(0.2307 0 0 0.2180 47.24 1968.48)" style="font-size:100px;" fill="#000">10</text>
<text transform="matrix(0.1708 0 0 0.1540 74.26 1962.58)" style="font-size:100px;" fill="#000">−</text>
<text transform="matrix(0.1617 0 0 0.1540 85.49 1960.88)" style="font-size:100px;" fill="#000">5</text>
<text transform="matrix(0.2307 0 0 0.2180 47.24 2060.8)" style="font-size:100px;" fill="#000">10</text>
<text transform="matrix(0.1708 0 0 0.1540 74.26 2054.9)" style="font-size:100px;" fill="#000">−</text>
<text transform="matrix(0.1617 0 0 0.1540 85.52 2053.2)" style="font-size:100px;" fill="#000">6</text>
<text transform="matrix(0.2307 0 0 0.2180 47.24 2153.12)" style="font-size:100px;" fill="#000">10</text>
<text transform="matrix(0.1708 0 0 0.1540 74.26 2147.22)" style="font-size:100px;" fill="#000">−</text>
<text transform="matrix(0.1617 0 0 0.1540 85.62 2145.52)" style="font-size:100px;" fill="#000">7</text>
<text transform="matrix(0.2227 0 0 0.2180 181.9 2240.7)" style="font-size:100px;" fill="#000">10</text>
<text transform="matrix(0.1617 0 0 0.1540 208.57 2232.3)" style="font-size:100px;" fill="#000">0</text>
<text transform="matrix(0.2227 0 0 0.2180 503.95 2240.7)" style="font-size:100px;" fill="#000">10</text>
<text transform="matrix(0.1617 0 0 0.1540 530.42 2232.3)" style="font-size:100px;" fill="#000">1</text>
<text transform="matrix(0.2227 0 0 0.2180 826 2240.7)" style="font-size:100px;" fill="#000">10</text>
<text transform="matrix(0.1617 0 0 0.1540 850.89 2232.3)" style="font-size:100px;" fill="#000">2</text>
<text transform="matrix(0.3464 0 0 0.3436 553.92 2277.5)" style="font-size:100px;font-style:italic;" fill="#000">k</text>
<text transform="matrix(0 -0.3016 0.3416 0 27.4 1933.53)" style="font-size:100px;font-style:italic;" fill="#000">P</text>
<text transform="matrix(0 -0.2507 0.2253 0 32.52 1913.49)" style="font-size:100px;font-style:italic;" fill="#000">ρ</text>
<text transform="matrix(0 -0.2273 0.2398 0 33 1898.83)" style="font-size:100px;" fill="#000">1</text>
<text transform="matrix(0 -0.2551 0.2395 0 33.15 1885.36)" style="font-size:100px;font-style:italic;" fill="#000">d</text>
<text transform="matrix(0 -0.2942 0.3124 0 25.43 1868.82)" style="font-size:100px;" fill="#000">(</text>
<text transform="matrix(0 -0.3464 0.2539 0 27.4 1856.28)" style="font-size:100px;font-style:italic;" fill="#000">k</text>
<text transform="matrix(0 -0.2640 0.3124 0 25.43 1835.55)" style="font-size:100px;" fill="#000">)</text>
<text transform="matrix(0.3799 0 0 0.3459 150.43 2007.56)" style="font-size:100px;font-style:italic;" fill="#000">θ</text>
<text transform="matrix(0.4199 0 0 0.2948 179.15 2007.05)" style="font-size:100px;" fill="#000">=</text>
<text transform="matrix(0.3634 0 0 0.3475 211.8 2007.46)" style="font-size:100px;" fill="#000">90</text>
<text transform="matrix(0.3711 0 0 0.3521 252.99 2008.39)" style="font-size:100px;" fill="#000">°</text>
<text transform="matrix(0.3521 0 0 0.3478 451.02 1654.8)" style="font-size:100px;font-style:italic;" fill="#00bfbf">k</text>
<text transform="matrix(0.3108 0 0 0.3086 472.07 1645.46)" style="font-size:100px;" fill="#00bfbf">−</text>
<text transform="matrix(0.2474 0 0 0.2390 491.66 1642.4)" style="font-size:100px;" fill="#00bfbf">3/2</text>
<rect x="126.7" y="2035.7" width="350.4" height="157.8" rx="6" ry="6" fill="#fff" fill-opacity="0.8" stroke="#d6d6d6" stroke-width="1.6"/>
<path d="M139.5 2061.9H204.5" stroke="#f00" stroke-width="6.2" stroke-linecap="square"/>
<path d="M139.5 2109.6H204.5" stroke="#1f77b4" stroke-width="6.2" stroke-linecap="square"/>
<path d="M139.5 2162.5H204.5" stroke="#ff7f0e" stroke-width="6.0" stroke-dasharray="22.6 9.6"/>
<text transform="matrix(0.3672 0 0 0.3360 230.44 2073.5)" style="font-size:100px;" fill="#000">averaged</text>
<text transform="matrix(0.3871 0 0 0.3360 231.46 2121.3)" style="font-size:100px;" fill="#000">&quot;true&quot;</text>
<path d="M255.85 2157.65 C251.73 2157.65 249.68 2168.55 245.56 2168.55 C241.88 2168.55 241.15 2165.82 241.15 2163.1 C241.15 2160.38 241.88 2157.65 245.56 2157.65 C249.68 2157.65 251.73 2168.55 255.85 2168.55" fill="none" stroke="#000" stroke-width="2.1"/>
<text transform="matrix(0.3579 0 0 0.3360 266.8 2172.6)" style="font-size:100px;" fill="#000">sinc</text>
<text transform="matrix(0.2393 0 0 0.2220 331.5 2160.4)" style="font-size:100px;" fill="#000">2</text>
<text transform="matrix(0.2791 0 0 0.3081 347.47 2170.52)" style="font-size:100px;" fill="#000">(</text>
<text transform="matrix(0.3388 0 0 0.3340 359.84 2172.8)" style="font-size:100px;font-style:italic;" fill="#000">k</text>
<text transform="matrix(0.3454 0 0 0.3387 377.87 2172.8)" style="font-size:100px;" fill="#000">Δ</text>
<text transform="matrix(0.2687 0 0 0.3331 402.28 2172.8)" style="font-size:100px;font-style:italic;" fill="#000">x</text>
<text transform="matrix(0.3203 0 0 0.3772 416.5 2175.53)" style="font-size:100px;" fill="#000">/</text>
<text transform="matrix(0.3490 0 0 0.3337 428.74 2172.8)" style="font-size:100px;" fill="#000">2</text>
<text transform="matrix(0.2866 0 0 0.3081 452.63 2170.52)" style="font-size:100px;" fill="#000">)</text>
</svg></body></html>
